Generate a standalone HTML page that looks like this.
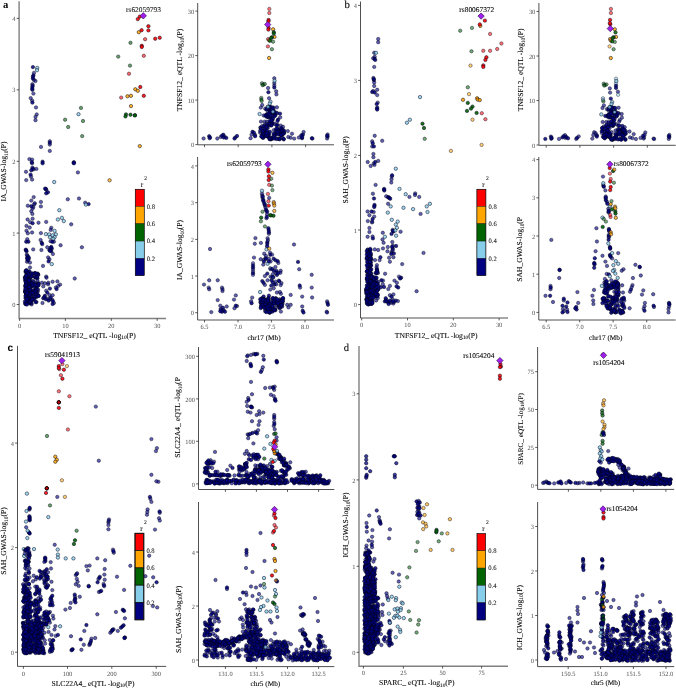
<!DOCTYPE html>
<html><head><meta charset="utf-8"><title>Colocalization plots</title>
<style>html,body{margin:0;padding:0;background:#fff}svg{display:block}text{font-family:"Liberation Serif",serif;text-rendering:geometricPrecision;stroke:#000;stroke-width:.09px;paint-order:stroke}.t{stroke-width:0}circle{r:1.7px;stroke:#000018;stroke-width:.5}.s{r:1.7px}</style>
</head><body>
<svg width="676" height="688" viewBox="0 0 676 688">
<rect width="676" height="688" fill="#fff"/>
<g fill="#000084" fill-opacity="0.62" stroke-opacity="0.87">
<circle cx="33.9" cy="72.9"/>
<circle cx="33.9" cy="80.0"/>
<circle cx="35.5" cy="81.0"/>
<circle cx="32.4" cy="84.2"/>
<circle cx="33.4" cy="93.6"/>
<circle cx="30.7" cy="98.1"/>
<circle cx="32.2" cy="100.6"/>
<circle cx="36.0" cy="107.4"/>
<circle cx="36.7" cy="114.4"/>
<circle cx="35.5" cy="116.9"/>
<circle cx="35.5" cy="120.2"/>
<circle cx="32.7" cy="85.5"/>
<circle cx="49.8" cy="141.3"/>
<circle cx="49.8" cy="144.6"/>
<circle cx="49.8" cy="150.9"/>
<circle cx="41.0" cy="146.9"/>
</g>
<g fill="#000084" fill-opacity="0.86" stroke-opacity="1.00">
<circle cx="32.9" cy="67.1"/>
<circle cx="33.4" cy="75.4"/>
<circle cx="32.9" cy="78.5"/>
<circle cx="32.4" cy="86.8"/>
<circle cx="32.4" cy="89.8"/>
<circle cx="32.4" cy="102.6"/>
<circle cx="32.9" cy="76.7"/>
<circle cx="32.2" cy="88.5"/>
<circle cx="49.8" cy="142.8"/>
</g>
<g fill="#006400" fill-opacity="0.6" stroke-opacity="0.85">
<circle cx="130.5" cy="42.8"/>
<circle cx="118.2" cy="56.6"/>
<circle cx="130.0" cy="65.6"/>
<circle cx="81.0" cy="107.9"/>
<circle cx="65.1" cy="119.7"/>
<circle cx="83.0" cy="121.0"/>
<circle cx="68.2" cy="127.0"/>
<circle cx="82.2" cy="136.1"/>
</g>
<g fill="#006400" fill-opacity="0.9" stroke-opacity="1.00" style="stroke-width:.65px">
<circle cx="126.0" cy="114.4"/>
<circle cx="125.5" cy="116.4"/>
<circle cx="130.5" cy="114.7"/>
<circle cx="135.0" cy="115.2"/>
<circle cx="134.8" cy="115.4"/>
</g>
<g fill="#87ceeb" fill-opacity="0.78" stroke-opacity="1.00">
<circle cx="37.2" cy="67.9"/>
<circle cx="37.0" cy="70.2"/>
<circle cx="78.5" cy="114.2"/>
</g>
<g fill="#ff0000" fill-opacity="0.6" stroke-opacity="0.85">
<circle cx="145.1" cy="39.2"/>
<circle cx="143.8" cy="55.8"/>
<circle cx="129.0" cy="73.7"/>
<circle cx="121.2" cy="97.6"/>
</g>
<g fill="#ffa500" fill-opacity="0.85" stroke-opacity="1.00" style="stroke-width:.65px">
<circle cx="138.8" cy="32.2"/>
<circle cx="135.3" cy="89.3"/>
<circle cx="137.8" cy="90.8"/>
<circle cx="127.5" cy="96.3"/>
<circle cx="131.0" cy="95.8"/>
<circle cx="131.0" cy="106.1"/>
<circle cx="139.8" cy="146.1"/>
</g>
<g fill="#ff0000" fill-opacity="0.9" stroke-opacity="1.00" style="stroke-width:.65px">
<circle cx="139.8" cy="16.6"/>
<circle cx="137.8" cy="19.1"/>
<circle cx="148.4" cy="26.2"/>
<circle cx="148.4" cy="30.4"/>
<circle cx="141.6" cy="30.2"/>
<circle cx="155.2" cy="38.7"/>
<circle cx="159.7" cy="37.7"/>
<circle cx="141.8" cy="45.8"/>
<circle cx="141.8" cy="47.0"/>
<circle cx="140.3" cy="87.0"/>
<circle cx="143.8" cy="95.8"/>
</g>
<g fill="#ffa500" fill-opacity="0.7" stroke-opacity="0.95">
<circle cx="109.6" cy="180.3"/>
</g>
<g fill="#000084" fill-opacity="0.62" stroke-opacity="0.87">
<circle cx="29.4" cy="159.1"/>
<circle cx="32.1" cy="159.6"/>
<circle cx="32.1" cy="163.3"/>
<circle cx="36.4" cy="168.9"/>
<circle cx="26.0" cy="171.8"/>
<circle cx="77.9" cy="172.4"/>
<circle cx="31.0" cy="176.6"/>
<circle cx="26.2" cy="180.1"/>
<circle cx="32.1" cy="179.6"/>
<circle cx="46.2" cy="189.7"/>
<circle cx="33.7" cy="197.1"/>
<circle cx="31.3" cy="200.6"/>
<circle cx="40.9" cy="201.9"/>
<circle cx="34.8" cy="203.3"/>
<circle cx="34.2" cy="204.3"/>
<circle cx="27.8" cy="205.7"/>
<circle cx="33.3" cy="207.0"/>
<circle cx="40.9" cy="206.4"/>
<circle cx="32.6" cy="208.6"/>
<circle cx="31.3" cy="211.2"/>
<circle cx="32.4" cy="213.9"/>
<circle cx="67.8" cy="199.3"/>
<circle cx="79.0" cy="198.5"/>
<circle cx="85.2" cy="202.7"/>
<circle cx="27.6" cy="219.5"/>
<circle cx="32.6" cy="218.7"/>
<circle cx="30.2" cy="222.2"/>
<circle cx="38.5" cy="222.7"/>
<circle cx="46.2" cy="221.9"/>
<circle cx="71.2" cy="224.3"/>
<circle cx="26.5" cy="225.9"/>
<circle cx="29.7" cy="227.5"/>
<circle cx="51.3" cy="227.8"/>
<circle cx="50.7" cy="229.9"/>
<circle cx="26.5" cy="230.7"/>
<circle cx="27.8" cy="233.3"/>
<circle cx="32.1" cy="232.5"/>
<circle cx="40.9" cy="233.1"/>
<circle cx="27.3" cy="239.2"/>
<circle cx="40.6" cy="240.0"/>
<circle cx="32.4" cy="167.6"/>
<circle cx="33.4" cy="169.4"/>
<circle cx="73.6" cy="162.8"/>
</g>
<g fill="#000084" fill-opacity="0.86" stroke-opacity="1.00">
<circle cx="31.8" cy="162.2"/>
<circle cx="42.6" cy="161.7"/>
<circle cx="42.6" cy="163.3"/>
<circle cx="73.9" cy="162.2"/>
<circle cx="73.9" cy="163.3"/>
<circle cx="32.9" cy="168.6"/>
<circle cx="31.3" cy="170.2"/>
<circle cx="30.6" cy="174.6"/>
<circle cx="45.9" cy="188.9"/>
<circle cx="47.9" cy="192.3"/>
<circle cx="46.2" cy="193.3"/>
<circle cx="31.3" cy="206.2"/>
<circle cx="88.6" cy="204.1"/>
<circle cx="32.6" cy="223.2"/>
<circle cx="45.1" cy="188.6"/>
</g>
<g fill="#87ceeb" fill-opacity="0.78" stroke-opacity="1.00">
<circle cx="54.2" cy="182.0"/>
<circle cx="59.3" cy="210.2"/>
<circle cx="61.9" cy="217.9"/>
<circle cx="57.9" cy="219.5"/>
<circle cx="63.8" cy="221.1"/>
<circle cx="85.9" cy="204.6"/>
<circle cx="54.6" cy="230.9"/>
<circle cx="45.9" cy="234.1"/>
<circle cx="49.1" cy="234.4"/>
<circle cx="55.9" cy="234.4"/>
<circle cx="52.6" cy="235.2"/>
<circle cx="49.9" cy="237.2"/>
<circle cx="54.6" cy="237.2"/>
<circle cx="53.3" cy="238.9"/>
</g>
<g fill="#000084" fill-opacity="0.62" stroke-opacity="0.87">
<circle cx="50.6" cy="241.2"/>
<circle cx="53.9" cy="241.7"/>
<circle cx="60.6" cy="245.2"/>
<circle cx="81.9" cy="247.3"/>
<circle cx="33.2" cy="249.4"/>
<circle cx="41.4" cy="250.0"/>
<circle cx="47.3" cy="247.3"/>
<circle cx="52.9" cy="254.0"/>
<circle cx="26.8" cy="254.6"/>
<circle cx="28.0" cy="256.6"/>
<circle cx="28.9" cy="258.5"/>
<circle cx="27.0" cy="261.7"/>
<circle cx="30.0" cy="262.6"/>
<circle cx="48.1" cy="257.4"/>
<circle cx="49.4" cy="259.3"/>
<circle cx="30.0" cy="267.5"/>
<circle cx="43.0" cy="265.9"/>
<circle cx="27.3" cy="255.6"/>
<circle cx="46.2" cy="276.6"/>
<circle cx="46.5" cy="277.7"/>
<circle cx="42.0" cy="282.7"/>
<circle cx="44.9" cy="283.3"/>
<circle cx="48.3" cy="282.7"/>
<circle cx="48.1" cy="284.3"/>
<circle cx="52.6" cy="281.7"/>
<circle cx="57.4" cy="281.4"/>
<circle cx="60.1" cy="284.6"/>
<circle cx="58.2" cy="285.9"/>
<circle cx="55.9" cy="287.5"/>
<circle cx="43.3" cy="286.4"/>
<circle cx="46.2" cy="290.7"/>
<circle cx="49.4" cy="295.0"/>
<circle cx="52.6" cy="295.2"/>
<circle cx="49.9" cy="299.2"/>
<circle cx="52.3" cy="299.8"/>
<circle cx="42.5" cy="303.0"/>
<circle cx="53.9" cy="303.0"/>
<circle cx="74.7" cy="278.5"/>
<circle cx="47.5" cy="298.7"/>
<circle cx="27.9" cy="289.3"/>
<circle cx="29.1" cy="297.4"/>
<circle cx="28.4" cy="272.0"/>
<circle cx="26.2" cy="278.3"/>
<circle cx="27.8" cy="299.1"/>
<circle cx="31.6" cy="304.4"/>
<circle cx="30.5" cy="283.3"/>
<circle cx="31.3" cy="299.3"/>
<circle cx="31.4" cy="283.7"/>
<circle cx="31.3" cy="296.2"/>
<circle cx="25.7" cy="278.5"/>
<circle cx="25.8" cy="292.2"/>
<circle cx="25.7" cy="284.5"/>
<circle cx="31.4" cy="297.8"/>
<circle cx="26.3" cy="283.6"/>
<circle cx="26.3" cy="278.9"/>
<circle cx="26.9" cy="272.5"/>
<circle cx="25.5" cy="290.1"/>
<circle cx="27.4" cy="285.6"/>
<circle cx="31.3" cy="286.7"/>
<circle cx="26.1" cy="275.3"/>
<circle cx="26.2" cy="302.8"/>
<circle cx="30.8" cy="290.8"/>
<circle cx="28.6" cy="299.4"/>
<circle cx="31.0" cy="277.0"/>
<circle cx="25.0" cy="279.3"/>
<circle cx="31.4" cy="292.7"/>
<circle cx="29.5" cy="290.2"/>
<circle cx="29.6" cy="303.3"/>
<circle cx="25.1" cy="292.0"/>
<circle cx="29.8" cy="301.1"/>
<circle cx="27.7" cy="297.3"/>
<circle cx="29.1" cy="283.2"/>
<circle cx="28.8" cy="291.0"/>
<circle cx="25.4" cy="292.1"/>
<circle cx="25.1" cy="290.8"/>
<circle cx="28.1" cy="277.9"/>
<circle cx="29.0" cy="301.8"/>
<circle cx="30.9" cy="292.8"/>
<circle cx="27.9" cy="300.8"/>
<circle cx="25.8" cy="287.1"/>
<circle cx="30.5" cy="299.3"/>
<circle cx="29.6" cy="302.8"/>
<circle cx="26.8" cy="275.8"/>
<circle cx="27.9" cy="279.5"/>
<circle cx="26.3" cy="284.3"/>
<circle cx="33.6" cy="291.6"/>
<circle cx="35.9" cy="283.3"/>
<circle cx="35.9" cy="288.3"/>
<circle cx="37.2" cy="295.6"/>
<circle cx="36.3" cy="277.4"/>
<circle cx="31.4" cy="283.9"/>
<circle cx="36.5" cy="276.9"/>
<circle cx="33.3" cy="280.9"/>
<circle cx="34.2" cy="291.6"/>
<circle cx="38.1" cy="289.9"/>
<circle cx="35.9" cy="294.4"/>
<circle cx="37.7" cy="291.7"/>
<circle cx="36.6" cy="292.2"/>
<circle cx="32.9" cy="294.2"/>
<circle cx="33.6" cy="294.4"/>
<circle cx="37.6" cy="281.0"/>
<circle cx="35.3" cy="291.0"/>
<circle cx="33.8" cy="291.5"/>
<circle cx="32.3" cy="276.2"/>
<circle cx="35.1" cy="289.9"/>
<circle cx="37.5" cy="289.1"/>
<circle cx="38.2" cy="284.4"/>
<circle cx="38.3" cy="274.7"/>
<circle cx="33.4" cy="290.1"/>
<circle cx="33.6" cy="281.7"/>
<circle cx="37.5" cy="294.2"/>
<circle cx="35.5" cy="277.4"/>
<circle cx="38.4" cy="285.0"/>
<circle cx="34.2" cy="291.8"/>
<circle cx="35.4" cy="284.4"/>
<circle cx="35.0" cy="297.0"/>
<circle cx="33.8" cy="298.5"/>
<circle cx="32.3" cy="300.3"/>
<circle cx="36.2" cy="297.3"/>
<circle cx="35.5" cy="296.7"/>
</g>
<g fill="#000084" fill-opacity="0.86" stroke-opacity="1.00">
<circle cx="26.2" cy="241.7"/>
<circle cx="28.4" cy="241.7"/>
<circle cx="41.7" cy="242.8"/>
<circle cx="42.2" cy="244.1"/>
<circle cx="52.3" cy="241.7"/>
<circle cx="25.7" cy="249.7"/>
<circle cx="26.5" cy="251.3"/>
<circle cx="51.3" cy="247.0"/>
<circle cx="51.8" cy="248.6"/>
<circle cx="49.4" cy="250.0"/>
<circle cx="51.3" cy="251.3"/>
<circle cx="27.0" cy="258.0"/>
<circle cx="28.0" cy="260.4"/>
<circle cx="48.6" cy="261.4"/>
<circle cx="26.2" cy="250.2"/>
<circle cx="28.6" cy="257.4"/>
<circle cx="27.6" cy="259.3"/>
<circle cx="50.7" cy="247.8"/>
<circle cx="49.9" cy="250.8"/>
<circle cx="56.6" cy="289.1"/>
<circle cx="49.9" cy="288.6"/>
<circle cx="47.3" cy="292.6"/>
<circle cx="44.9" cy="295.8"/>
<circle cx="43.3" cy="298.2"/>
<circle cx="45.9" cy="299.2"/>
<circle cx="52.9" cy="301.1"/>
<circle cx="52.6" cy="304.0"/>
<circle cx="48.6" cy="300.6"/>
<circle cx="38.6" cy="295.8"/>
<circle cx="44.3" cy="297.1"/>
<circle cx="50.7" cy="297.6"/>
<circle cx="31.1" cy="286.1"/>
<circle cx="28.3" cy="290.3"/>
<circle cx="26.1" cy="287.7"/>
<circle cx="25.5" cy="280.4"/>
<circle cx="25.5" cy="298.0"/>
<circle cx="29.5" cy="271.4"/>
<circle cx="31.4" cy="303.3"/>
<circle cx="29.3" cy="291.2"/>
<circle cx="26.0" cy="270.5"/>
<circle cx="25.1" cy="286.0"/>
<circle cx="28.4" cy="292.1"/>
<circle cx="28.2" cy="292.9"/>
<circle cx="28.0" cy="279.6"/>
<circle cx="30.5" cy="294.4"/>
<circle cx="27.0" cy="277.9"/>
<circle cx="26.8" cy="272.4"/>
<circle cx="30.0" cy="283.8"/>
<circle cx="24.9" cy="277.2"/>
<circle cx="31.0" cy="286.2"/>
<circle cx="25.4" cy="291.7"/>
<circle cx="30.1" cy="279.3"/>
<circle cx="25.5" cy="281.5"/>
<circle cx="25.6" cy="272.0"/>
<circle cx="30.2" cy="276.1"/>
<circle cx="28.6" cy="285.4"/>
<circle cx="26.2" cy="295.3"/>
<circle cx="26.3" cy="279.3"/>
<circle cx="26.9" cy="300.6"/>
<circle cx="30.6" cy="292.2"/>
<circle cx="25.6" cy="304.2"/>
<circle cx="30.1" cy="281.3"/>
<circle cx="26.5" cy="290.8"/>
<circle cx="28.7" cy="299.9"/>
<circle cx="31.0" cy="298.2"/>
<circle cx="26.6" cy="276.5"/>
<circle cx="29.8" cy="302.5"/>
<circle cx="27.7" cy="273.5"/>
<circle cx="25.2" cy="303.3"/>
<circle cx="26.5" cy="294.3"/>
<circle cx="26.6" cy="298.5"/>
<circle cx="28.9" cy="280.1"/>
<circle cx="26.1" cy="294.9"/>
<circle cx="25.4" cy="277.8"/>
<circle cx="29.0" cy="279.6"/>
<circle cx="27.9" cy="272.0"/>
<circle cx="26.1" cy="282.7"/>
<circle cx="28.7" cy="274.5"/>
<circle cx="27.3" cy="300.8"/>
<circle cx="25.8" cy="271.2"/>
<circle cx="25.0" cy="301.4"/>
<circle cx="28.1" cy="295.2"/>
<circle cx="27.0" cy="304.5"/>
<circle cx="25.4" cy="288.8"/>
<circle cx="29.8" cy="294.3"/>
<circle cx="30.2" cy="301.6"/>
<circle cx="27.3" cy="293.7"/>
<circle cx="30.9" cy="300.1"/>
<circle cx="30.7" cy="289.8"/>
<circle cx="31.5" cy="300.4"/>
<circle cx="29.8" cy="283.4"/>
<circle cx="29.8" cy="290.1"/>
<circle cx="27.8" cy="299.0"/>
<circle cx="25.5" cy="295.9"/>
<circle cx="29.6" cy="287.2"/>
<circle cx="26.6" cy="270.3"/>
<circle cx="26.9" cy="293.4"/>
<circle cx="26.3" cy="275.8"/>
<circle cx="27.1" cy="293.0"/>
<circle cx="26.2" cy="284.9"/>
<circle cx="30.3" cy="301.6"/>
<circle cx="30.8" cy="283.2"/>
<circle cx="28.8" cy="280.9"/>
<circle cx="29.1" cy="287.0"/>
<circle cx="27.0" cy="299.0"/>
<circle cx="38.5" cy="283.4"/>
<circle cx="31.8" cy="273.4"/>
<circle cx="37.7" cy="273.6"/>
<circle cx="36.5" cy="286.3"/>
<circle cx="31.4" cy="275.9"/>
<circle cx="34.6" cy="273.2"/>
<circle cx="37.4" cy="278.3"/>
<circle cx="32.3" cy="273.7"/>
<circle cx="34.8" cy="276.9"/>
<circle cx="36.4" cy="285.1"/>
<circle cx="35.8" cy="290.7"/>
<circle cx="37.9" cy="274.7"/>
<circle cx="32.3" cy="283.5"/>
<circle cx="34.1" cy="286.2"/>
<circle cx="38.2" cy="283.7"/>
<circle cx="36.1" cy="277.5"/>
<circle cx="36.0" cy="289.8"/>
<circle cx="38.5" cy="296.0"/>
<circle cx="35.2" cy="291.6"/>
<circle cx="31.9" cy="283.2"/>
<circle cx="34.9" cy="273.3"/>
<circle cx="37.2" cy="274.1"/>
<circle cx="37.2" cy="276.7"/>
<circle cx="32.9" cy="285.2"/>
<circle cx="36.0" cy="285.1"/>
<circle cx="37.5" cy="286.0"/>
<circle cx="32.8" cy="293.0"/>
<circle cx="38.4" cy="285.2"/>
<circle cx="35.2" cy="284.7"/>
<circle cx="35.7" cy="273.3"/>
<circle cx="34.2" cy="299.0"/>
<circle cx="36.4" cy="302.1"/>
<circle cx="32.7" cy="299.4"/>
<circle cx="32.0" cy="299.2"/>
<circle cx="35.6" cy="302.0"/>
</g>
<g fill="#87ceeb" fill-opacity="0.78" stroke-opacity="1.00">
<circle cx="51.8" cy="264.1"/>
</g>
<path d="M143.3 12.6L146.5 15.8L143.3 19.0L140.1 15.8Z" fill="#a020f0" stroke="#1a0030" stroke-width="0.55"/>
<path d="M19.1 1.2V318.5H166.0" fill="none" stroke="#808080" stroke-width="1.4"/>
<path d="M19.6 318.5v2.4" stroke="#333" stroke-width="0.8"/>
<text x="19.6" y="327.7" text-anchor="middle" class="t" font-size="6.4" fill="#4d4d4d">0</text>
<path d="M65.4 318.5v2.4" stroke="#333" stroke-width="0.8"/>
<text x="65.4" y="327.7" text-anchor="middle" class="t" font-size="6.4" fill="#4d4d4d">10</text>
<path d="M111.3 318.5v2.4" stroke="#333" stroke-width="0.8"/>
<text x="111.3" y="327.7" text-anchor="middle" class="t" font-size="6.4" fill="#4d4d4d">20</text>
<path d="M157.2 318.5v2.4" stroke="#333" stroke-width="0.8"/>
<text x="157.2" y="327.7" text-anchor="middle" class="t" font-size="6.4" fill="#4d4d4d">30</text>
<path d="M19.1 304.5h-2.4" stroke="#333" stroke-width="0.8"/>
<text x="15.5" y="307.1" text-anchor="end" class="t" font-size="6.4" fill="#4d4d4d">0</text>
<path d="M19.1 233.1h-2.4" stroke="#333" stroke-width="0.8"/>
<text x="15.5" y="235.7" text-anchor="end" class="t" font-size="6.4" fill="#4d4d4d">1</text>
<path d="M19.1 161.3h-2.4" stroke="#333" stroke-width="0.8"/>
<text x="15.5" y="163.9" text-anchor="end" class="t" font-size="6.4" fill="#4d4d4d">2</text>
<path d="M19.1 89.8h-2.4" stroke="#333" stroke-width="0.8"/>
<text x="15.5" y="92.4" text-anchor="end" class="t" font-size="6.4" fill="#4d4d4d">3</text>
<path d="M19.1 18.4h-2.4" stroke="#333" stroke-width="0.8"/>
<text x="15.5" y="21.0" text-anchor="end" class="t" font-size="6.4" fill="#4d4d4d">4</text>
<text x="94.5" y="337.6" text-anchor="middle" font-size="7.6" fill="#000">TNFSF12_ eQTL -log<tspan font-size="5.32" dy="1.7">10</tspan><tspan dy="-1.7">(P)</tspan></text>
<text x="6.2" y="171.5" text-anchor="middle" font-size="7.6" fill="#000" transform="rotate(-90 6.2 171.5)">IA_GWAS-log<tspan font-size="5.32" dy="1.7">10</tspan><tspan dy="-1.7">(P)</tspan></text>
<g style="stroke-width:0">
<rect x="135.2" y="189.2" width="9" height="17.30" fill="#ff0000" stroke="#111" style="stroke-width:0.40px"/>
<rect x="135.2" y="206.5" width="9" height="17.30" fill="#ffa500" stroke="#111" style="stroke-width:0.40px"/>
<rect x="135.2" y="223.8" width="9" height="17.30" fill="#006400" stroke="#111" style="stroke-width:0.40px"/>
<rect x="135.2" y="241.1" width="9" height="17.30" fill="#87ceeb" stroke="#111" style="stroke-width:0.40px"/>
<rect x="135.2" y="258.4" width="9" height="17.30" fill="#000080" stroke="#111" style="stroke-width:0.40px"/>
<rect x="135.2" y="189.2" width="9" height="86.5" fill="none" stroke="#111" style="stroke-width:0.5px"/>
<text x="146.8" y="208.8" font-size="6.6" fill="#222">0.8</text>
<text x="146.8" y="226.1" font-size="6.6" fill="#222">0.6</text>
<text x="146.8" y="243.4" font-size="6.6" fill="#222">0.4</text>
<text x="146.8" y="260.7" font-size="6.6" fill="#222">0.2</text>
<text x="141.9" y="186.8" text-anchor="middle" font-size="7.4" fill="#222">r</text>
<text x="145.7" y="179.7" text-anchor="middle" font-size="5.6" fill="#333">2</text>
</g>
<text x="143.5" y="12.3" text-anchor="middle" font-size="7.4" fill="#1a1a1a">rs62059793</text>
<text x="3.0" y="7.5" font-size="10.6" font-weight="bold" fill="#000" style="stroke-width:0">a</text>
<g fill="#000084" fill-opacity="0.62" stroke-opacity="0.87">
<circle cx="274.3" cy="78.3"/>
<circle cx="274.3" cy="83.0"/>
<circle cx="274.3" cy="85.4"/>
<circle cx="276.2" cy="91.3"/>
<circle cx="276.4" cy="94.4"/>
<circle cx="268.1" cy="88.0"/>
<circle cx="269.1" cy="98.2"/>
<circle cx="262.2" cy="105.0"/>
<circle cx="261.0" cy="121.6"/>
<circle cx="280.7" cy="125.6"/>
<circle cx="280.2" cy="117.3"/>
<circle cx="251.6" cy="134.6"/>
<circle cx="255.1" cy="134.9"/>
<circle cx="250.6" cy="138.2"/>
<circle cx="287.8" cy="131.1"/>
<circle cx="292.0" cy="133.7"/>
<circle cx="288.3" cy="137.0"/>
<circle cx="290.6" cy="137.7"/>
<circle cx="294.2" cy="138.6"/>
<circle cx="303.6" cy="132.0"/>
<circle cx="298.9" cy="137.5"/>
<circle cx="312.4" cy="138.6"/>
<circle cx="266.9" cy="121.7"/>
<circle cx="263.6" cy="115.5"/>
<circle cx="274.7" cy="123.7"/>
<circle cx="271.0" cy="117.6"/>
<circle cx="270.7" cy="124.0"/>
<circle cx="270.7" cy="121.8"/>
<circle cx="268.7" cy="109.3"/>
<circle cx="271.0" cy="125.3"/>
<circle cx="272.5" cy="113.5"/>
<circle cx="271.2" cy="112.4"/>
<circle cx="275.1" cy="113.1"/>
<circle cx="272.0" cy="112.7"/>
<circle cx="270.2" cy="125.1"/>
<circle cx="269.5" cy="107.1"/>
<circle cx="264.6" cy="121.6"/>
<circle cx="267.8" cy="106.9"/>
<circle cx="277.1" cy="113.2"/>
<circle cx="267.4" cy="113.4"/>
<circle cx="265.2" cy="108.7"/>
<circle cx="272.3" cy="107.4"/>
<circle cx="264.7" cy="124.6"/>
<circle cx="266.8" cy="117.0"/>
<circle cx="276.4" cy="112.6"/>
<circle cx="260.8" cy="107.6"/>
<circle cx="274.3" cy="114.4"/>
<circle cx="276.9" cy="107.3"/>
<circle cx="272.9" cy="116.0"/>
<circle cx="269.1" cy="124.7"/>
<circle cx="266.5" cy="114.9"/>
<circle cx="274.0" cy="112.3"/>
<circle cx="269.4" cy="113.1"/>
<circle cx="263.9" cy="135.9"/>
<circle cx="263.9" cy="134.8"/>
<circle cx="268.1" cy="134.6"/>
<circle cx="260.2" cy="132.7"/>
<circle cx="264.9" cy="136.3"/>
<circle cx="267.8" cy="136.4"/>
<circle cx="265.5" cy="132.5"/>
<circle cx="261.8" cy="136.5"/>
<circle cx="267.3" cy="135.0"/>
<circle cx="266.7" cy="135.0"/>
<circle cx="260.4" cy="127.7"/>
<circle cx="264.7" cy="134.1"/>
<circle cx="262.4" cy="134.6"/>
<circle cx="260.7" cy="127.4"/>
<circle cx="263.4" cy="128.0"/>
<circle cx="262.1" cy="126.1"/>
<circle cx="264.9" cy="130.6"/>
<circle cx="260.1" cy="130.9"/>
<circle cx="265.8" cy="130.0"/>
<circle cx="282.2" cy="132.3"/>
<circle cx="282.1" cy="135.2"/>
<circle cx="279.8" cy="134.1"/>
<circle cx="283.0" cy="126.8"/>
<circle cx="274.6" cy="134.2"/>
<circle cx="280.0" cy="128.6"/>
<circle cx="280.2" cy="138.4"/>
<circle cx="279.8" cy="130.2"/>
<circle cx="283.9" cy="133.3"/>
<circle cx="277.9" cy="131.0"/>
<circle cx="283.9" cy="133.2"/>
<circle cx="281.8" cy="137.6"/>
<circle cx="280.3" cy="134.7"/>
<circle cx="276.6" cy="133.7"/>
<circle cx="281.4" cy="134.5"/>
<circle cx="273.8" cy="130.1"/>
<circle cx="278.3" cy="138.7"/>
<circle cx="273.6" cy="136.9"/>
<circle cx="278.6" cy="138.7"/>
<circle cx="282.5" cy="129.4"/>
<circle cx="271.1" cy="139.2"/>
<circle cx="269.7" cy="139.2"/>
<circle cx="273.4" cy="137.8"/>
<circle cx="271.0" cy="139.0"/>
<circle cx="272.2" cy="138.2"/>
<circle cx="270.7" cy="139.2"/>
</g>
<g fill="#000084" fill-opacity="0.86" stroke-opacity="1.00">
<circle cx="274.3" cy="87.5"/>
<circle cx="268.4" cy="92.2"/>
<circle cx="280.0" cy="113.6"/>
<circle cx="252.5" cy="131.8"/>
<circle cx="253.9" cy="132.7"/>
<circle cx="302.9" cy="134.6"/>
<circle cx="302.0" cy="138.2"/>
<circle cx="311.9" cy="138.2"/>
<circle cx="267.0" cy="124.5"/>
<circle cx="270.1" cy="107.2"/>
<circle cx="269.0" cy="108.8"/>
<circle cx="268.2" cy="117.0"/>
<circle cx="272.6" cy="112.0"/>
<circle cx="269.3" cy="106.7"/>
<circle cx="269.4" cy="123.2"/>
<circle cx="272.6" cy="123.2"/>
<circle cx="268.6" cy="116.9"/>
<circle cx="278.1" cy="119.5"/>
<circle cx="272.6" cy="119.8"/>
<circle cx="277.5" cy="125.0"/>
<circle cx="268.9" cy="109.8"/>
<circle cx="271.4" cy="118.1"/>
<circle cx="270.6" cy="112.6"/>
<circle cx="267.3" cy="115.8"/>
<circle cx="270.5" cy="107.0"/>
<circle cx="273.5" cy="107.6"/>
<circle cx="273.7" cy="110.4"/>
<circle cx="277.5" cy="121.0"/>
<circle cx="269.7" cy="120.9"/>
<circle cx="272.9" cy="118.3"/>
<circle cx="272.0" cy="124.1"/>
<circle cx="269.7" cy="108.2"/>
<circle cx="272.3" cy="109.5"/>
<circle cx="266.6" cy="109.7"/>
<circle cx="270.2" cy="111.2"/>
<circle cx="265.7" cy="115.3"/>
<circle cx="267.3" cy="114.7"/>
<circle cx="271.4" cy="120.5"/>
<circle cx="266.8" cy="108.7"/>
<circle cx="275.3" cy="115.3"/>
<circle cx="276.5" cy="125.2"/>
<circle cx="270.5" cy="115.3"/>
<circle cx="265.5" cy="115.8"/>
<circle cx="270.9" cy="112.2"/>
<circle cx="269.1" cy="113.8"/>
<circle cx="271.5" cy="125.4"/>
<circle cx="274.7" cy="116.1"/>
<circle cx="261.0" cy="129.2"/>
<circle cx="268.2" cy="136.9"/>
<circle cx="268.2" cy="134.7"/>
<circle cx="267.0" cy="135.5"/>
<circle cx="263.0" cy="131.9"/>
<circle cx="263.1" cy="137.9"/>
<circle cx="266.9" cy="133.2"/>
<circle cx="262.7" cy="134.4"/>
<circle cx="266.8" cy="136.0"/>
<circle cx="263.7" cy="134.0"/>
<circle cx="263.7" cy="136.6"/>
<circle cx="269.1" cy="134.6"/>
<circle cx="270.3" cy="138.1"/>
<circle cx="269.9" cy="131.8"/>
<circle cx="267.7" cy="127.9"/>
<circle cx="268.2" cy="133.2"/>
<circle cx="267.0" cy="131.1"/>
<circle cx="266.6" cy="135.7"/>
<circle cx="266.7" cy="126.2"/>
<circle cx="265.0" cy="128.6"/>
<circle cx="266.5" cy="133.3"/>
<circle cx="262.6" cy="137.4"/>
<circle cx="263.0" cy="131.0"/>
<circle cx="261.3" cy="136.4"/>
<circle cx="264.0" cy="126.1"/>
<circle cx="266.5" cy="126.9"/>
<circle cx="279.6" cy="139.3"/>
<circle cx="277.4" cy="128.7"/>
<circle cx="283.7" cy="139.4"/>
<circle cx="279.9" cy="131.4"/>
<circle cx="277.5" cy="132.4"/>
<circle cx="275.9" cy="130.6"/>
<circle cx="283.8" cy="131.7"/>
<circle cx="283.7" cy="138.7"/>
<circle cx="276.5" cy="133.0"/>
<circle cx="274.8" cy="134.9"/>
<circle cx="278.2" cy="130.6"/>
<circle cx="273.6" cy="133.7"/>
<circle cx="276.4" cy="139.0"/>
<circle cx="281.8" cy="130.0"/>
<circle cx="276.3" cy="128.8"/>
<circle cx="284.0" cy="130.6"/>
<circle cx="279.9" cy="133.0"/>
<circle cx="281.4" cy="128.3"/>
<circle cx="281.6" cy="130.7"/>
<circle cx="279.1" cy="131.2"/>
<circle cx="278.4" cy="131.5"/>
<circle cx="282.9" cy="133.9"/>
<circle cx="278.0" cy="134.3"/>
<circle cx="281.0" cy="135.0"/>
<circle cx="277.6" cy="131.9"/>
<circle cx="274.7" cy="136.8"/>
<circle cx="272.3" cy="137.4"/>
<circle cx="270.2" cy="138.4"/>
<circle cx="274.1" cy="136.5"/>
<circle cx="274.0" cy="138.6"/>
<circle cx="269.5" cy="138.8"/>
</g>
<g fill="#006400" fill-opacity="0.55" stroke-opacity="0.80">
<circle cx="262.0" cy="83.3"/>
<circle cx="263.4" cy="84.7"/>
<circle cx="264.8" cy="84.0"/>
<circle cx="262.5" cy="85.1"/>
<circle cx="261.3" cy="97.9"/>
<circle cx="261.3" cy="99.6"/>
<circle cx="261.7" cy="101.0"/>
</g>
<g fill="#87ceeb" fill-opacity="0.78" stroke-opacity="1.00">
<circle cx="274.6" cy="80.7"/>
<circle cx="270.5" cy="101.7"/>
<circle cx="269.8" cy="103.6"/>
<circle cx="267.9" cy="106.7"/>
<circle cx="259.6" cy="114.0"/>
<circle cx="272.9" cy="111.7"/>
</g>
<g fill="#000084" fill-opacity="0.62" stroke-opacity="0.87">
<circle cx="203.6" cy="138.5"/>
<circle cx="209.6" cy="138.3"/>
<circle cx="217.3" cy="138.5"/>
<circle cx="220.7" cy="137.0"/>
<circle cx="224.6" cy="136.6"/>
<circle cx="235.3" cy="137.5"/>
<circle cx="327.6" cy="134.5"/>
<circle cx="327.1" cy="138.5"/>
</g>
<g fill="#000084" fill-opacity="0.86" stroke-opacity="1.00">
<circle cx="209.2" cy="136.2"/>
<circle cx="223.3" cy="134.7"/>
<circle cx="226.3" cy="137.9"/>
<circle cx="234.5" cy="138.5"/>
<circle cx="237.0" cy="136.0"/>
<circle cx="255.1" cy="136.2"/>
<circle cx="301.4" cy="135.3"/>
<circle cx="302.2" cy="137.0"/>
<circle cx="327.6" cy="136.6"/>
<circle cx="210.0" cy="137.5"/>
<circle cx="222.0" cy="135.7"/>
<circle cx="223.7" cy="137.5"/>
<circle cx="327.1" cy="135.7"/>
</g>
<g fill="#ff0000" fill-opacity="0.55" stroke-opacity="0.80">
<circle cx="269.3" cy="8.9"/>
<circle cx="269.3" cy="13.0"/>
<circle cx="268.1" cy="39.1"/>
<circle cx="267.9" cy="46.4"/>
</g>
<g fill="#006400" fill-opacity="0.55" stroke-opacity="0.80">
<circle cx="273.1" cy="41.7"/>
<circle cx="271.9" cy="49.2"/>
</g>
<g fill="#ff0000" fill-opacity="0.9" stroke-opacity="1.00" style="stroke-width:.65px">
<circle cx="268.6" cy="19.9"/>
<circle cx="268.4" cy="21.3"/>
<circle cx="268.6" cy="27.8"/>
<circle cx="268.4" cy="29.6"/>
</g>
<g fill="#ffa500" fill-opacity="0.8" stroke-opacity="1.00" style="stroke-width:.65px">
<circle cx="273.1" cy="29.3"/>
<circle cx="274.5" cy="36.9"/>
<circle cx="269.1" cy="40.2"/>
<circle cx="269.1" cy="58.0"/>
</g>
<g fill="#006400" fill-opacity="0.85" stroke-opacity="1.00" style="stroke-width:.65px">
<circle cx="273.8" cy="32.2"/>
<circle cx="273.8" cy="33.6"/>
<circle cx="271.9" cy="37.2"/>
<circle cx="271.1" cy="38.1"/>
<circle cx="269.9" cy="40.8"/>
</g>
<path d="M267.7 21.4L270.9 24.6L267.7 27.8L264.5 24.6Z" fill="#a020f0" stroke="#1a0030" stroke-width="0.55"/>
<path d="M197.7 3.0V144.8H334.0" fill="none" stroke="#3c3c3c" stroke-width="0.9"/>
<path d="M204.5 144.8v2.4" stroke="#333" stroke-width="0.8"/>
<text x="204.5" y="154.0" text-anchor="middle" class="t" font-size="6.4" fill="#4d4d4d"></text>
<path d="M238.2 144.8v2.4" stroke="#333" stroke-width="0.8"/>
<text x="238.2" y="154.0" text-anchor="middle" class="t" font-size="6.4" fill="#4d4d4d"></text>
<path d="M271.9 144.8v2.4" stroke="#333" stroke-width="0.8"/>
<text x="271.9" y="154.0" text-anchor="middle" class="t" font-size="6.4" fill="#4d4d4d"></text>
<path d="M305.6 144.8v2.4" stroke="#333" stroke-width="0.8"/>
<text x="305.6" y="154.0" text-anchor="middle" class="t" font-size="6.4" fill="#4d4d4d"></text>
<path d="M197.7 144.6h-2.4" stroke="#333" stroke-width="0.8"/>
<text x="194.1" y="147.2" text-anchor="end" class="t" font-size="6.4" fill="#4d4d4d">0</text>
<path d="M197.7 100.1h-2.4" stroke="#333" stroke-width="0.8"/>
<text x="194.1" y="102.7" text-anchor="end" class="t" font-size="6.4" fill="#4d4d4d">10</text>
<path d="M197.7 55.6h-2.4" stroke="#333" stroke-width="0.8"/>
<text x="194.1" y="58.2" text-anchor="end" class="t" font-size="6.4" fill="#4d4d4d">20</text>
<path d="M197.7 11.1h-2.4" stroke="#333" stroke-width="0.8"/>
<text x="194.1" y="13.7" text-anchor="end" class="t" font-size="6.4" fill="#4d4d4d">30</text>
<text x="182.0" y="70.0" text-anchor="middle" font-size="7.6" fill="#000" transform="rotate(-90 182.0 70.0)">TNFSF12_ eQTL -log<tspan font-size="5.32" dy="1.7">10</tspan><tspan dy="-1.7">(P)</tspan></text>
<g fill="#000084" fill-opacity="0.62" stroke-opacity="0.87">
<circle cx="269.2" cy="197.9"/>
<circle cx="262.0" cy="193.6"/>
<circle cx="262.3" cy="195.6"/>
<circle cx="262.5" cy="197.6"/>
<circle cx="263.1" cy="199.6"/>
<circle cx="263.6" cy="201.6"/>
<circle cx="264.9" cy="205.6"/>
<circle cx="265.5" cy="207.6"/>
<circle cx="267.1" cy="214.2"/>
<circle cx="266.5" cy="218.2"/>
<circle cx="262.8" cy="196.5"/>
<circle cx="264.7" cy="204.5"/>
<circle cx="266.3" cy="210.7"/>
<circle cx="268.9" cy="233.8"/>
<circle cx="267.6" cy="238.2"/>
<circle cx="267.9" cy="240.2"/>
<circle cx="255.4" cy="238.1"/>
<circle cx="254.8" cy="243.7"/>
<circle cx="260.9" cy="242.9"/>
<circle cx="294.0" cy="244.5"/>
</g>
<g fill="#000084" fill-opacity="0.86" stroke-opacity="1.00">
<circle cx="264.4" cy="203.6"/>
<circle cx="266.0" cy="209.6"/>
<circle cx="267.1" cy="211.6"/>
<circle cx="266.8" cy="216.9"/>
<circle cx="263.3" cy="200.5"/>
<circle cx="268.4" cy="228.2"/>
<circle cx="268.7" cy="230.2"/>
<circle cx="268.9" cy="232.2"/>
<circle cx="267.3" cy="242.2"/>
<circle cx="267.3" cy="243.9"/>
</g>
<g fill="#87ceeb" fill-opacity="0.78" stroke-opacity="1.00">
<circle cx="262.0" cy="190.7"/>
</g>
<g fill="#ff0000" fill-opacity="0.55" stroke-opacity="0.80">
<circle cx="269.2" cy="184.8"/>
<circle cx="267.9" cy="193.9"/>
<circle cx="268.4" cy="201.3"/>
</g>
<g fill="#006400" fill-opacity="0.55" stroke-opacity="0.80">
<circle cx="271.3" cy="178.7"/>
<circle cx="271.9" cy="185.6"/>
<circle cx="272.4" cy="190.1"/>
<circle cx="262.5" cy="211.7"/>
<circle cx="260.9" cy="221.3"/>
<circle cx="264.9" cy="226.4"/>
</g>
<g fill="#006400" fill-opacity="0.9" stroke-opacity="1.00" style="stroke-width:.65px">
<circle cx="261.2" cy="217.6"/>
<circle cx="271.1" cy="215.4"/>
<circle cx="273.5" cy="215.7"/>
<circle cx="270.3" cy="215.2"/>
</g>
<g fill="#ffa500" fill-opacity="0.7" stroke-opacity="0.95">
<circle cx="272.4" cy="172.8"/>
<circle cx="273.7" cy="202.1"/>
<circle cx="274.0" cy="203.5"/>
<circle cx="274.3" cy="205.6"/>
<circle cx="274.3" cy="210.9"/>
</g>
<g fill="#ff0000" fill-opacity="0.9" stroke-opacity="1.00" style="stroke-width:.65px">
<circle cx="268.4" cy="169.4"/>
<circle cx="268.4" cy="171.5"/>
<circle cx="268.9" cy="176.3"/>
<circle cx="268.7" cy="180.0"/>
<circle cx="268.7" cy="205.6"/>
</g>
<g fill="#000084" fill-opacity="0.62" stroke-opacity="0.87">
<circle cx="270.0" cy="252.6"/>
<circle cx="254.0" cy="257.6"/>
<circle cx="260.7" cy="259.2"/>
<circle cx="263.9" cy="259.8"/>
<circle cx="268.9" cy="258.7"/>
<circle cx="278.3" cy="263.0"/>
<circle cx="263.3" cy="264.6"/>
<circle cx="280.7" cy="270.7"/>
<circle cx="280.4" cy="272.8"/>
<circle cx="264.9" cy="276.0"/>
<circle cx="264.9" cy="284.9"/>
<circle cx="267.6" cy="280.3"/>
<circle cx="275.6" cy="281.6"/>
<circle cx="280.7" cy="285.1"/>
<circle cx="273.7" cy="288.3"/>
<circle cx="270.3" cy="289.6"/>
<circle cx="276.9" cy="292.5"/>
<circle cx="279.9" cy="292.0"/>
<circle cx="280.9" cy="293.8"/>
<circle cx="252.2" cy="297.6"/>
<circle cx="251.1" cy="301.3"/>
<circle cx="279.6" cy="306.9"/>
<circle cx="280.9" cy="311.6"/>
<circle cx="261.6" cy="303.5"/>
<circle cx="261.2" cy="302.5"/>
<circle cx="263.2" cy="300.4"/>
<circle cx="274.9" cy="310.0"/>
<circle cx="267.5" cy="309.7"/>
<circle cx="276.1" cy="302.9"/>
<circle cx="267.6" cy="306.3"/>
<circle cx="283.1" cy="298.6"/>
<circle cx="263.8" cy="303.8"/>
<circle cx="276.5" cy="304.8"/>
<circle cx="275.4" cy="310.3"/>
<circle cx="260.8" cy="302.7"/>
<circle cx="261.7" cy="306.5"/>
<circle cx="262.2" cy="302.9"/>
<circle cx="279.4" cy="306.7"/>
<circle cx="266.8" cy="303.6"/>
<circle cx="282.6" cy="298.9"/>
<circle cx="264.4" cy="300.6"/>
<circle cx="265.7" cy="304.3"/>
<circle cx="260.4" cy="302.1"/>
<circle cx="276.0" cy="298.2"/>
<circle cx="281.2" cy="305.0"/>
<circle cx="268.8" cy="299.5"/>
<circle cx="271.1" cy="304.9"/>
<circle cx="262.3" cy="298.8"/>
<circle cx="268.3" cy="301.6"/>
<circle cx="279.6" cy="299.3"/>
<circle cx="260.8" cy="308.2"/>
<circle cx="272.6" cy="299.7"/>
<circle cx="280.4" cy="304.6"/>
<circle cx="264.2" cy="307.6"/>
<circle cx="279.2" cy="308.1"/>
<circle cx="279.3" cy="305.4"/>
<circle cx="268.6" cy="298.0"/>
<circle cx="260.9" cy="300.7"/>
<circle cx="265.4" cy="300.7"/>
<circle cx="275.5" cy="307.8"/>
<circle cx="262.3" cy="305.5"/>
<circle cx="282.9" cy="301.0"/>
<circle cx="266.3" cy="311.4"/>
<circle cx="274.1" cy="309.9"/>
<circle cx="268.2" cy="309.0"/>
<circle cx="266.2" cy="304.4"/>
<circle cx="267.4" cy="307.9"/>
<circle cx="268.2" cy="308.2"/>
<circle cx="265.0" cy="311.1"/>
<circle cx="271.7" cy="309.0"/>
<circle cx="270.1" cy="311.0"/>
<circle cx="265.9" cy="309.1"/>
</g>
<g fill="#000084" fill-opacity="0.86" stroke-opacity="1.00">
<circle cx="267.1" cy="246.3"/>
<circle cx="270.3" cy="254.7"/>
<circle cx="273.7" cy="258.7"/>
<circle cx="275.6" cy="260.3"/>
<circle cx="277.7" cy="261.1"/>
<circle cx="276.4" cy="270.9"/>
<circle cx="276.9" cy="274.9"/>
<circle cx="267.3" cy="273.6"/>
<circle cx="262.3" cy="281.1"/>
<circle cx="263.6" cy="282.9"/>
<circle cx="271.6" cy="280.3"/>
<circle cx="274.5" cy="284.5"/>
<circle cx="271.3" cy="285.6"/>
<circle cx="268.9" cy="295.7"/>
<circle cx="263.6" cy="296.5"/>
<circle cx="251.6" cy="303.2"/>
<circle cx="267.8" cy="299.8"/>
<circle cx="275.4" cy="298.5"/>
<circle cx="272.8" cy="302.8"/>
<circle cx="261.9" cy="298.6"/>
<circle cx="270.2" cy="310.5"/>
<circle cx="273.7" cy="303.0"/>
<circle cx="283.0" cy="298.0"/>
<circle cx="280.3" cy="300.5"/>
<circle cx="263.6" cy="299.1"/>
<circle cx="264.5" cy="305.2"/>
<circle cx="275.2" cy="302.4"/>
<circle cx="273.0" cy="298.5"/>
<circle cx="261.7" cy="300.0"/>
<circle cx="270.8" cy="302.2"/>
<circle cx="278.8" cy="305.2"/>
<circle cx="266.0" cy="305.6"/>
<circle cx="272.5" cy="310.2"/>
<circle cx="277.3" cy="301.0"/>
<circle cx="270.0" cy="309.5"/>
<circle cx="261.2" cy="305.2"/>
<circle cx="278.1" cy="304.1"/>
<circle cx="280.7" cy="300.7"/>
<circle cx="273.8" cy="303.8"/>
<circle cx="279.9" cy="307.3"/>
<circle cx="271.3" cy="307.6"/>
<circle cx="261.7" cy="305.7"/>
<circle cx="279.4" cy="300.6"/>
<circle cx="269.3" cy="308.1"/>
<circle cx="264.2" cy="299.1"/>
<circle cx="263.3" cy="300.7"/>
<circle cx="269.4" cy="311.4"/>
<circle cx="273.1" cy="310.0"/>
<circle cx="268.6" cy="311.2"/>
<circle cx="274.0" cy="301.1"/>
<circle cx="268.9" cy="306.4"/>
<circle cx="282.5" cy="303.7"/>
<circle cx="272.3" cy="306.5"/>
<circle cx="280.7" cy="305.5"/>
<circle cx="269.4" cy="303.9"/>
<circle cx="262.7" cy="305.3"/>
<circle cx="261.7" cy="298.4"/>
<circle cx="265.1" cy="299.8"/>
<circle cx="268.2" cy="298.4"/>
<circle cx="260.3" cy="299.2"/>
<circle cx="262.6" cy="302.0"/>
<circle cx="260.9" cy="307.3"/>
<circle cx="274.6" cy="299.5"/>
<circle cx="266.2" cy="302.5"/>
<circle cx="280.1" cy="307.7"/>
<circle cx="272.9" cy="298.0"/>
<circle cx="272.6" cy="311.6"/>
<circle cx="266.4" cy="302.8"/>
<circle cx="272.7" cy="308.7"/>
<circle cx="268.0" cy="300.9"/>
<circle cx="280.1" cy="305.8"/>
<circle cx="265.6" cy="304.7"/>
<circle cx="266.3" cy="307.4"/>
<circle cx="282.6" cy="301.5"/>
<circle cx="282.1" cy="306.6"/>
<circle cx="282.5" cy="300.8"/>
<circle cx="264.9" cy="300.3"/>
<circle cx="274.8" cy="309.4"/>
<circle cx="279.9" cy="302.5"/>
<circle cx="281.5" cy="305.0"/>
<circle cx="277.8" cy="303.1"/>
<circle cx="264.4" cy="307.9"/>
<circle cx="268.0" cy="309.7"/>
<circle cx="269.6" cy="312.7"/>
<circle cx="277.2" cy="299.6"/>
<circle cx="263.2" cy="299.5"/>
<circle cx="281.4" cy="305.2"/>
<circle cx="274.0" cy="309.9"/>
<circle cx="269.8" cy="312.3"/>
<circle cx="269.0" cy="311.8"/>
<circle cx="272.6" cy="306.1"/>
<circle cx="267.3" cy="306.8"/>
<circle cx="267.2" cy="309.3"/>
<circle cx="266.2" cy="312.1"/>
<circle cx="270.4" cy="312.1"/>
<circle cx="268.9" cy="312.2"/>
<circle cx="269.6" cy="308.8"/>
<circle cx="269.8" cy="304.4"/>
<circle cx="269.0" cy="305.8"/>
<circle cx="266.5" cy="308.3"/>
<circle cx="268.0" cy="308.7"/>
<circle cx="267.3" cy="306.6"/>
</g>
<g fill="#000084" fill-opacity="0.5" stroke-opacity="0.75">
<circle cx="253.0" cy="263.2"/>
</g>
<g fill="#000084" fill-opacity="0.86" stroke-opacity="1.00">
<circle cx="253.0" cy="265.4"/>
<circle cx="253.0" cy="267.5"/>
</g>
<g fill="#000084" fill-opacity="0.5" stroke-opacity="0.75">
<circle cx="253.0" cy="269.3"/>
<circle cx="253.0" cy="271.2"/>
</g>
<g fill="#000084" fill-opacity="0.86" stroke-opacity="1.00">
<circle cx="253.0" cy="273.3"/>
</g>
<g fill="#000084" fill-opacity="0.5" stroke-opacity="0.75">
<circle cx="253.0" cy="274.9"/>
</g>
<g fill="#87ceeb" fill-opacity="0.78" stroke-opacity="1.00">
<circle cx="266.5" cy="249.4"/>
<circle cx="267.6" cy="263.8"/>
<circle cx="270.3" cy="268.3"/>
<circle cx="271.9" cy="277.1"/>
<circle cx="273.2" cy="277.6"/>
<circle cx="260.1" cy="292.0"/>
</g>
<g fill="#ffa500" fill-opacity="0.7" stroke-opacity="0.95">
<circle cx="269.2" cy="248.6"/>
</g>
<g fill="#000084" fill-opacity="0.62" stroke-opacity="0.87">
<circle cx="210.0" cy="249.0"/>
<circle cx="209.2" cy="280.3"/>
<circle cx="217.7" cy="280.3"/>
<circle cx="204.0" cy="284.6"/>
<circle cx="208.7" cy="287.6"/>
<circle cx="209.2" cy="289.3"/>
<circle cx="222.0" cy="287.6"/>
<circle cx="222.5" cy="289.3"/>
<circle cx="222.5" cy="291.1"/>
<circle cx="235.8" cy="295.4"/>
<circle cx="234.0" cy="299.6"/>
<circle cx="217.7" cy="300.1"/>
<circle cx="220.3" cy="305.7"/>
<circle cx="226.7" cy="306.5"/>
<circle cx="237.0" cy="306.1"/>
<circle cx="234.5" cy="308.2"/>
<circle cx="211.3" cy="312.1"/>
<circle cx="299.2" cy="269.2"/>
<circle cx="311.7" cy="274.8"/>
<circle cx="300.1" cy="287.6"/>
<circle cx="311.7" cy="287.6"/>
<circle cx="290.7" cy="294.9"/>
<circle cx="302.2" cy="296.6"/>
<circle cx="312.1" cy="297.5"/>
<circle cx="327.1" cy="301.4"/>
<circle cx="302.2" cy="306.5"/>
<circle cx="326.7" cy="311.7"/>
<circle cx="327.1" cy="312.5"/>
<circle cx="287.2" cy="304.8"/>
<circle cx="290.7" cy="304.8"/>
<circle cx="288.5" cy="307.4"/>
<circle cx="278.8" cy="280.6"/>
<circle cx="270.6" cy="276.6"/>
<circle cx="265.6" cy="258.1"/>
<circle cx="276.1" cy="273.0"/>
<circle cx="266.0" cy="255.9"/>
<circle cx="272.1" cy="254.6"/>
<circle cx="270.6" cy="261.5"/>
<circle cx="270.5" cy="269.1"/>
<circle cx="281.5" cy="283.1"/>
<circle cx="276.3" cy="284.3"/>
<circle cx="275.4" cy="267.0"/>
<circle cx="272.9" cy="274.1"/>
<circle cx="264.2" cy="253.7"/>
</g>
<g fill="#000084" fill-opacity="0.86" stroke-opacity="1.00">
<circle cx="222.9" cy="307.8"/>
<circle cx="235.8" cy="305.7"/>
<circle cx="220.7" cy="309.1"/>
<circle cx="223.7" cy="310.4"/>
<circle cx="222.0" cy="311.7"/>
<circle cx="225.0" cy="311.7"/>
<circle cx="220.3" cy="311.2"/>
<circle cx="298.0" cy="261.9"/>
<circle cx="299.7" cy="285.5"/>
<circle cx="327.6" cy="303.1"/>
<circle cx="328.0" cy="304.8"/>
<circle cx="302.7" cy="310.8"/>
<circle cx="303.5" cy="312.5"/>
<circle cx="272.8" cy="282.4"/>
<circle cx="278.2" cy="272.9"/>
<circle cx="268.8" cy="261.4"/>
<circle cx="263.9" cy="261.6"/>
<circle cx="279.2" cy="281.2"/>
<circle cx="273.8" cy="270.7"/>
<circle cx="273.1" cy="277.1"/>
<circle cx="266.0" cy="258.9"/>
<circle cx="272.2" cy="268.9"/>
</g>
<path d="M267.9 161.1L271.1 164.3L267.9 167.5L264.7 164.3Z" fill="#a020f0" stroke="#1a0030" stroke-width="0.55"/>
<path d="M197.6 157.0V320.0H334.0" fill="none" stroke="#3c3c3c" stroke-width="0.9"/>
<path d="M204.5 320.0v2.4" stroke="#333" stroke-width="0.8"/>
<text x="204.5" y="329.2" text-anchor="middle" class="t" font-size="6.4" fill="#4d4d4d">6.5</text>
<path d="M238.0 320.0v2.4" stroke="#333" stroke-width="0.8"/>
<text x="238.0" y="329.2" text-anchor="middle" class="t" font-size="6.4" fill="#4d4d4d">7.0</text>
<path d="M271.4 320.0v2.4" stroke="#333" stroke-width="0.8"/>
<text x="271.4" y="329.2" text-anchor="middle" class="t" font-size="6.4" fill="#4d4d4d">7.5</text>
<path d="M305.0 320.0v2.4" stroke="#333" stroke-width="0.8"/>
<text x="305.0" y="329.2" text-anchor="middle" class="t" font-size="6.4" fill="#4d4d4d">8.0</text>
<path d="M197.6 312.7h-2.4" stroke="#333" stroke-width="0.8"/>
<text x="194.0" y="315.3" text-anchor="end" class="t" font-size="6.4" fill="#4d4d4d">0</text>
<path d="M197.6 276.0h-2.4" stroke="#333" stroke-width="0.8"/>
<text x="194.0" y="278.6" text-anchor="end" class="t" font-size="6.4" fill="#4d4d4d">1</text>
<path d="M197.6 239.4h-2.4" stroke="#333" stroke-width="0.8"/>
<text x="194.0" y="242.0" text-anchor="end" class="t" font-size="6.4" fill="#4d4d4d">2</text>
<path d="M197.6 202.7h-2.4" stroke="#333" stroke-width="0.8"/>
<text x="194.0" y="205.3" text-anchor="end" class="t" font-size="6.4" fill="#4d4d4d">3</text>
<path d="M197.6 165.9h-2.4" stroke="#333" stroke-width="0.8"/>
<text x="194.0" y="168.5" text-anchor="end" class="t" font-size="6.4" fill="#4d4d4d">4</text>
<text x="264.0" y="339.8" text-anchor="middle" font-size="7.25" fill="#000">chr17 (Mb)</text>
<text x="182.0" y="250.0" text-anchor="middle" font-size="7.6" fill="#000" transform="rotate(-90 182.0 250.0)">IA_GWAS-log<tspan font-size="5.32" dy="1.7">10</tspan><tspan dy="-1.7">(P)</tspan></text>
<text x="261.8" y="166.3" text-anchor="end" font-size="7.4" fill="#000">rs62059793</text>
<g fill="#000084" fill-opacity="0.62" stroke-opacity="0.87">
<circle cx="378.2" cy="39.0"/>
<circle cx="378.2" cy="42.2"/>
<circle cx="374.2" cy="52.8"/>
<circle cx="373.2" cy="58.3"/>
<circle cx="374.7" cy="56.8"/>
<circle cx="374.2" cy="66.9"/>
<circle cx="373.4" cy="78.0"/>
<circle cx="374.2" cy="82.5"/>
<circle cx="374.2" cy="86.0"/>
<circle cx="373.2" cy="91.0"/>
<circle cx="377.2" cy="89.8"/>
<circle cx="377.2" cy="95.1"/>
<circle cx="377.7" cy="102.6"/>
<circle cx="374.5" cy="58.8"/>
<circle cx="377.0" cy="108.6"/>
<circle cx="374.7" cy="135.8"/>
<circle cx="372.2" cy="141.3"/>
<circle cx="382.2" cy="140.8"/>
<circle cx="372.2" cy="146.4"/>
<circle cx="373.4" cy="153.9"/>
<circle cx="373.4" cy="157.2"/>
<circle cx="367.7" cy="162.0"/>
<circle cx="378.2" cy="160.9"/>
<circle cx="373.7" cy="163.5"/>
<circle cx="370.7" cy="166.0"/>
</g>
<g fill="#000084" fill-opacity="0.86" stroke-opacity="1.00">
<circle cx="375.2" cy="59.9"/>
<circle cx="373.9" cy="80.0"/>
<circle cx="372.2" cy="92.0"/>
<circle cx="374.7" cy="92.5"/>
<circle cx="376.7" cy="104.1"/>
<circle cx="377.2" cy="107.6"/>
<circle cx="377.2" cy="109.6"/>
<circle cx="373.7" cy="79.0"/>
<circle cx="372.7" cy="143.3"/>
<circle cx="373.9" cy="146.4"/>
<circle cx="375.2" cy="162.0"/>
</g>
<g fill="#006400" fill-opacity="0.55" stroke-opacity="0.80">
<circle cx="460.2" cy="30.7"/>
<circle cx="472.0" cy="27.9"/>
<circle cx="471.5" cy="51.3"/>
<circle cx="467.8" cy="87.3"/>
<circle cx="424.7" cy="138.8"/>
</g>
<g fill="#006400" fill-opacity="0.9" stroke-opacity="1.00" style="stroke-width:.65px">
<circle cx="467.8" cy="102.9"/>
<circle cx="472.5" cy="106.6"/>
<circle cx="467.0" cy="110.9"/>
<circle cx="471.0" cy="108.6"/>
<circle cx="476.6" cy="112.9"/>
<circle cx="422.5" cy="123.7"/>
<circle cx="424.0" cy="128.0"/>
</g>
<g fill="#87ceeb" fill-opacity="0.78" stroke-opacity="1.00">
<circle cx="376.0" cy="52.8"/>
<circle cx="420.0" cy="97.1"/>
<circle cx="409.9" cy="119.7"/>
<circle cx="406.9" cy="122.7"/>
<circle cx="395.8" cy="168.7"/>
</g>
<g fill="#ff0000" fill-opacity="0.55" stroke-opacity="0.80">
<circle cx="490.1" cy="33.9"/>
<circle cx="501.4" cy="43.5"/>
<circle cx="497.2" cy="49.0"/>
<circle cx="490.1" cy="50.8"/>
<circle cx="483.3" cy="50.8"/>
<circle cx="481.8" cy="113.2"/>
<circle cx="485.4" cy="119.2"/>
</g>
<g fill="#ffa500" fill-opacity="0.55" stroke-opacity="0.80">
<circle cx="470.5" cy="65.6"/>
<circle cx="469.0" cy="94.1"/>
<circle cx="472.5" cy="119.7"/>
<circle cx="481.6" cy="144.9"/>
<circle cx="450.9" cy="150.9"/>
</g>
<g fill="#ffa500" fill-opacity="0.9" stroke-opacity="1.00" style="stroke-width:.65px">
<circle cx="480.3" cy="25.9"/>
<circle cx="463.0" cy="99.8"/>
<circle cx="477.1" cy="98.3"/>
<circle cx="477.8" cy="99.6"/>
<circle cx="479.8" cy="100.1"/>
</g>
<g fill="#ff0000" fill-opacity="0.9" stroke-opacity="1.00" style="stroke-width:.65px">
<circle cx="484.9" cy="20.6"/>
<circle cx="479.8" cy="24.4"/>
<circle cx="486.4" cy="57.3"/>
<circle cx="485.4" cy="59.9"/>
<circle cx="483.3" cy="65.4"/>
<circle cx="483.3" cy="66.9"/>
</g>
<g fill="#000084" fill-opacity="0.62" stroke-opacity="0.87">
<circle cx="374.5" cy="164.9"/>
<circle cx="391.5" cy="179.3"/>
<circle cx="391.3" cy="182.5"/>
<circle cx="375.6" cy="184.9"/>
<circle cx="386.2" cy="196.3"/>
<circle cx="372.9" cy="193.7"/>
<circle cx="388.1" cy="203.8"/>
<circle cx="415.2" cy="193.4"/>
<circle cx="415.0" cy="195.0"/>
<circle cx="409.4" cy="196.9"/>
<circle cx="419.2" cy="196.9"/>
<circle cx="420.6" cy="213.9"/>
<circle cx="367.6" cy="211.5"/>
<circle cx="373.7" cy="212.0"/>
<circle cx="369.4" cy="215.2"/>
<circle cx="374.2" cy="216.6"/>
<circle cx="367.8" cy="221.1"/>
<circle cx="372.1" cy="222.4"/>
<circle cx="369.4" cy="228.0"/>
<circle cx="369.4" cy="232.0"/>
<circle cx="382.8" cy="232.8"/>
<circle cx="400.6" cy="231.7"/>
<circle cx="392.6" cy="229.9"/>
<circle cx="367.6" cy="236.8"/>
<circle cx="372.6" cy="236.5"/>
<circle cx="382.5" cy="239.5"/>
<circle cx="391.8" cy="176.6"/>
<circle cx="384.1" cy="189.7"/>
<circle cx="388.6" cy="197.4"/>
<circle cx="374.4" cy="205.9"/>
<circle cx="372.1" cy="221.6"/>
</g>
<g fill="#000084" fill-opacity="0.86" stroke-opacity="1.00">
<circle cx="392.1" cy="175.3"/>
<circle cx="384.1" cy="188.9"/>
<circle cx="384.3" cy="190.5"/>
<circle cx="388.1" cy="197.1"/>
<circle cx="389.4" cy="197.9"/>
<circle cx="390.2" cy="198.7"/>
<circle cx="374.0" cy="198.5"/>
<circle cx="374.5" cy="204.9"/>
<circle cx="374.2" cy="207.0"/>
<circle cx="371.6" cy="211.5"/>
<circle cx="372.6" cy="219.0"/>
<circle cx="393.4" cy="231.5"/>
<circle cx="391.5" cy="233.9"/>
<circle cx="372.9" cy="238.4"/>
<circle cx="392.9" cy="230.7"/>
</g>
<g fill="#87ceeb" fill-opacity="0.78" stroke-opacity="1.00">
<circle cx="399.5" cy="188.9"/>
<circle cx="405.7" cy="194.2"/>
<circle cx="390.7" cy="206.4"/>
<circle cx="403.5" cy="207.8"/>
<circle cx="413.1" cy="209.1"/>
<circle cx="426.7" cy="206.4"/>
<circle cx="429.9" cy="203.8"/>
<circle cx="427.5" cy="212.0"/>
<circle cx="387.8" cy="212.6"/>
<circle cx="391.8" cy="219.8"/>
<circle cx="397.7" cy="221.6"/>
<circle cx="395.8" cy="224.6"/>
<circle cx="396.9" cy="227.8"/>
<circle cx="395.3" cy="230.4"/>
<circle cx="396.1" cy="235.7"/>
<circle cx="384.9" cy="236.8"/>
</g>
<g fill="#000084" fill-opacity="0.62" stroke-opacity="0.87">
<circle cx="383.6" cy="242.8"/>
<circle cx="392.3" cy="242.0"/>
<circle cx="392.9" cy="245.7"/>
<circle cx="387.8" cy="247.0"/>
<circle cx="383.0" cy="248.4"/>
<circle cx="392.6" cy="248.1"/>
<circle cx="374.8" cy="249.4"/>
<circle cx="378.2" cy="250.0"/>
<circle cx="387.5" cy="251.3"/>
<circle cx="392.3" cy="250.8"/>
<circle cx="393.4" cy="257.2"/>
<circle cx="389.1" cy="257.7"/>
<circle cx="423.5" cy="252.9"/>
<circle cx="375.0" cy="260.1"/>
<circle cx="379.6" cy="260.1"/>
<circle cx="389.9" cy="261.7"/>
<circle cx="402.2" cy="264.1"/>
<circle cx="376.9" cy="265.1"/>
<circle cx="385.1" cy="273.7"/>
<circle cx="399.0" cy="276.6"/>
<circle cx="376.6" cy="267.3"/>
<circle cx="378.0" cy="272.9"/>
<circle cx="383.0" cy="280.6"/>
<circle cx="382.8" cy="284.1"/>
<circle cx="389.9" cy="285.9"/>
<circle cx="388.3" cy="289.1"/>
<circle cx="394.5" cy="280.6"/>
<circle cx="396.9" cy="282.7"/>
<circle cx="416.6" cy="291.2"/>
<circle cx="389.9" cy="295.2"/>
<circle cx="393.4" cy="294.4"/>
<circle cx="392.6" cy="299.2"/>
<circle cx="397.9" cy="301.1"/>
<circle cx="393.4" cy="303.5"/>
<circle cx="386.2" cy="299.8"/>
<circle cx="391.0" cy="302.7"/>
<circle cx="392.9" cy="249.4"/>
<circle cx="391.5" cy="252.6"/>
<circle cx="389.4" cy="301.9"/>
<circle cx="370.4" cy="263.0"/>
<circle cx="369.4" cy="250.6"/>
<circle cx="367.7" cy="249.8"/>
<circle cx="369.0" cy="251.9"/>
<circle cx="367.2" cy="274.6"/>
<circle cx="368.8" cy="264.1"/>
<circle cx="367.5" cy="249.7"/>
<circle cx="370.7" cy="255.2"/>
<circle cx="370.3" cy="254.5"/>
<circle cx="371.2" cy="273.6"/>
<circle cx="369.3" cy="269.0"/>
<circle cx="370.9" cy="273.5"/>
<circle cx="371.3" cy="259.4"/>
<circle cx="369.0" cy="262.4"/>
<circle cx="369.2" cy="269.6"/>
<circle cx="367.7" cy="265.7"/>
<circle cx="368.1" cy="251.5"/>
<circle cx="369.8" cy="267.5"/>
<circle cx="368.5" cy="276.3"/>
<circle cx="371.1" cy="265.1"/>
<circle cx="368.4" cy="255.6"/>
<circle cx="367.8" cy="256.7"/>
<circle cx="369.1" cy="269.0"/>
<circle cx="370.5" cy="270.9"/>
<circle cx="370.7" cy="265.5"/>
<circle cx="369.8" cy="275.3"/>
<circle cx="368.9" cy="303.7"/>
<circle cx="372.3" cy="280.4"/>
<circle cx="369.5" cy="282.8"/>
<circle cx="371.4" cy="298.9"/>
<circle cx="366.3" cy="289.7"/>
<circle cx="366.7" cy="298.2"/>
<circle cx="367.4" cy="296.7"/>
<circle cx="367.9" cy="296.3"/>
<circle cx="372.2" cy="284.9"/>
<circle cx="369.7" cy="292.4"/>
<circle cx="366.7" cy="299.6"/>
<circle cx="367.0" cy="278.7"/>
<circle cx="366.7" cy="299.6"/>
<circle cx="370.4" cy="277.2"/>
<circle cx="370.5" cy="289.1"/>
<circle cx="369.7" cy="287.6"/>
<circle cx="368.9" cy="283.0"/>
<circle cx="369.3" cy="283.3"/>
<circle cx="368.8" cy="290.3"/>
<circle cx="370.4" cy="303.8"/>
<circle cx="366.8" cy="290.1"/>
<circle cx="372.2" cy="298.6"/>
<circle cx="370.4" cy="298.0"/>
<circle cx="370.7" cy="300.8"/>
<circle cx="370.9" cy="295.9"/>
<circle cx="367.9" cy="302.5"/>
<circle cx="368.8" cy="293.9"/>
<circle cx="368.3" cy="285.4"/>
<circle cx="368.8" cy="280.7"/>
<circle cx="369.9" cy="278.8"/>
<circle cx="372.6" cy="285.7"/>
<circle cx="367.6" cy="293.5"/>
<circle cx="368.8" cy="284.3"/>
<circle cx="366.5" cy="299.5"/>
<circle cx="366.4" cy="290.7"/>
<circle cx="366.5" cy="293.8"/>
<circle cx="370.9" cy="283.4"/>
<circle cx="369.3" cy="301.8"/>
<circle cx="368.7" cy="280.4"/>
<circle cx="371.5" cy="299.8"/>
<circle cx="366.4" cy="293.0"/>
<circle cx="367.5" cy="278.3"/>
<circle cx="370.4" cy="289.9"/>
<circle cx="366.7" cy="291.0"/>
<circle cx="370.8" cy="282.0"/>
<circle cx="366.5" cy="290.6"/>
<circle cx="372.4" cy="291.8"/>
<circle cx="371.1" cy="291.4"/>
<circle cx="367.7" cy="277.7"/>
<circle cx="371.6" cy="302.2"/>
<circle cx="371.4" cy="302.1"/>
<circle cx="368.6" cy="293.9"/>
<circle cx="372.4" cy="291.7"/>
<circle cx="371.7" cy="286.8"/>
<circle cx="375.3" cy="290.8"/>
<circle cx="373.0" cy="292.8"/>
<circle cx="376.6" cy="283.2"/>
<circle cx="376.2" cy="300.5"/>
<circle cx="375.0" cy="296.5"/>
<circle cx="377.4" cy="295.7"/>
<circle cx="378.2" cy="281.9"/>
<circle cx="377.8" cy="298.0"/>
<circle cx="376.5" cy="280.7"/>
<circle cx="377.7" cy="283.4"/>
<circle cx="374.1" cy="282.1"/>
<circle cx="374.1" cy="293.3"/>
<circle cx="374.8" cy="292.4"/>
<circle cx="375.0" cy="281.8"/>
</g>
<g fill="#000084" fill-opacity="0.86" stroke-opacity="1.00">
<circle cx="396.1" cy="246.0"/>
<circle cx="370.0" cy="249.7"/>
<circle cx="393.9" cy="253.4"/>
<circle cx="391.3" cy="254.0"/>
<circle cx="380.4" cy="257.2"/>
<circle cx="401.1" cy="277.7"/>
<circle cx="400.1" cy="278.5"/>
<circle cx="376.9" cy="269.3"/>
<circle cx="377.2" cy="271.3"/>
<circle cx="376.6" cy="273.3"/>
<circle cx="375.6" cy="272.9"/>
<circle cx="377.0" cy="269.9"/>
<circle cx="376.8" cy="272.1"/>
<circle cx="381.4" cy="280.3"/>
<circle cx="384.1" cy="287.0"/>
<circle cx="380.9" cy="287.2"/>
<circle cx="396.6" cy="286.4"/>
<circle cx="398.2" cy="287.5"/>
<circle cx="391.5" cy="296.6"/>
<circle cx="385.7" cy="298.2"/>
<circle cx="384.9" cy="301.4"/>
<circle cx="387.5" cy="301.9"/>
<circle cx="389.9" cy="300.6"/>
<circle cx="393.9" cy="301.9"/>
<circle cx="395.8" cy="300.6"/>
<circle cx="388.6" cy="304.0"/>
<circle cx="392.1" cy="246.8"/>
<circle cx="385.9" cy="300.6"/>
<circle cx="392.9" cy="301.4"/>
<circle cx="367.4" cy="267.9"/>
<circle cx="369.6" cy="262.0"/>
<circle cx="367.6" cy="270.8"/>
<circle cx="369.0" cy="255.2"/>
<circle cx="366.7" cy="259.0"/>
<circle cx="370.3" cy="255.1"/>
<circle cx="371.3" cy="269.3"/>
<circle cx="370.7" cy="265.9"/>
<circle cx="366.8" cy="257.8"/>
<circle cx="371.1" cy="258.9"/>
<circle cx="367.4" cy="271.5"/>
<circle cx="368.2" cy="262.2"/>
<circle cx="370.2" cy="270.0"/>
<circle cx="367.2" cy="262.0"/>
<circle cx="370.5" cy="254.3"/>
<circle cx="368.6" cy="258.9"/>
<circle cx="368.7" cy="259.4"/>
<circle cx="366.8" cy="251.2"/>
<circle cx="370.0" cy="276.4"/>
<circle cx="369.2" cy="266.0"/>
<circle cx="367.5" cy="253.4"/>
<circle cx="368.3" cy="274.6"/>
<circle cx="368.3" cy="265.3"/>
<circle cx="366.9" cy="271.4"/>
<circle cx="370.3" cy="259.1"/>
<circle cx="370.8" cy="275.4"/>
<circle cx="370.8" cy="262.4"/>
<circle cx="370.7" cy="253.2"/>
<circle cx="367.0" cy="271.2"/>
<circle cx="370.2" cy="262.1"/>
<circle cx="370.5" cy="250.1"/>
<circle cx="368.6" cy="253.4"/>
<circle cx="367.0" cy="258.1"/>
<circle cx="370.8" cy="276.1"/>
<circle cx="370.1" cy="262.0"/>
<circle cx="367.8" cy="275.4"/>
<circle cx="366.8" cy="254.6"/>
<circle cx="368.6" cy="264.9"/>
<circle cx="370.6" cy="257.2"/>
<circle cx="369.1" cy="256.4"/>
<circle cx="370.2" cy="248.9"/>
<circle cx="366.8" cy="265.2"/>
<circle cx="369.6" cy="272.5"/>
<circle cx="369.4" cy="255.8"/>
<circle cx="366.9" cy="279.2"/>
<circle cx="366.4" cy="289.2"/>
<circle cx="367.2" cy="301.1"/>
<circle cx="370.6" cy="280.2"/>
<circle cx="369.8" cy="285.8"/>
<circle cx="367.3" cy="281.8"/>
<circle cx="368.8" cy="296.6"/>
<circle cx="369.9" cy="277.9"/>
<circle cx="371.0" cy="301.3"/>
<circle cx="368.3" cy="277.8"/>
<circle cx="368.8" cy="285.3"/>
<circle cx="369.6" cy="292.1"/>
<circle cx="372.6" cy="279.4"/>
<circle cx="370.2" cy="290.9"/>
<circle cx="371.1" cy="303.9"/>
<circle cx="368.3" cy="296.3"/>
<circle cx="372.7" cy="286.6"/>
<circle cx="368.4" cy="304.6"/>
<circle cx="371.3" cy="289.2"/>
<circle cx="366.6" cy="288.8"/>
<circle cx="367.9" cy="296.5"/>
<circle cx="371.7" cy="297.0"/>
<circle cx="369.5" cy="296.8"/>
<circle cx="371.7" cy="303.8"/>
<circle cx="372.8" cy="276.8"/>
<circle cx="368.3" cy="303.2"/>
<circle cx="371.2" cy="289.6"/>
<circle cx="367.0" cy="303.6"/>
<circle cx="370.9" cy="282.4"/>
<circle cx="368.5" cy="294.7"/>
<circle cx="370.8" cy="284.0"/>
<circle cx="367.9" cy="300.5"/>
<circle cx="367.3" cy="295.8"/>
<circle cx="368.1" cy="287.3"/>
<circle cx="372.5" cy="289.8"/>
<circle cx="369.2" cy="294.0"/>
<circle cx="368.1" cy="281.5"/>
<circle cx="367.5" cy="303.7"/>
<circle cx="372.5" cy="296.5"/>
<circle cx="366.3" cy="292.0"/>
<circle cx="366.9" cy="285.3"/>
<circle cx="369.8" cy="278.0"/>
<circle cx="367.5" cy="288.0"/>
<circle cx="369.9" cy="283.0"/>
<circle cx="371.6" cy="300.4"/>
<circle cx="372.4" cy="301.5"/>
<circle cx="366.8" cy="302.0"/>
<circle cx="371.2" cy="298.0"/>
<circle cx="371.7" cy="293.7"/>
<circle cx="371.6" cy="286.1"/>
<circle cx="368.0" cy="286.6"/>
<circle cx="368.2" cy="294.3"/>
<circle cx="372.2" cy="278.6"/>
<circle cx="368.0" cy="278.3"/>
<circle cx="370.8" cy="295.0"/>
<circle cx="367.3" cy="279.5"/>
<circle cx="369.0" cy="296.1"/>
<circle cx="366.8" cy="299.9"/>
<circle cx="368.6" cy="291.6"/>
<circle cx="370.4" cy="281.5"/>
<circle cx="371.0" cy="290.5"/>
<circle cx="367.3" cy="300.6"/>
<circle cx="370.8" cy="282.7"/>
<circle cx="369.8" cy="302.2"/>
<circle cx="372.7" cy="287.6"/>
<circle cx="372.5" cy="303.0"/>
<circle cx="371.5" cy="276.9"/>
<circle cx="370.3" cy="297.9"/>
<circle cx="370.5" cy="281.2"/>
<circle cx="372.1" cy="282.4"/>
<circle cx="372.9" cy="292.3"/>
<circle cx="371.4" cy="297.5"/>
<circle cx="372.1" cy="286.8"/>
<circle cx="366.8" cy="288.0"/>
<circle cx="367.4" cy="291.8"/>
<circle cx="367.1" cy="277.4"/>
<circle cx="374.1" cy="279.8"/>
<circle cx="378.2" cy="289.4"/>
<circle cx="378.0" cy="289.2"/>
<circle cx="373.6" cy="282.9"/>
<circle cx="375.3" cy="292.2"/>
<circle cx="377.3" cy="294.8"/>
<circle cx="375.4" cy="286.1"/>
<circle cx="375.7" cy="283.4"/>
<circle cx="376.0" cy="288.0"/>
<circle cx="373.1" cy="296.4"/>
<circle cx="376.3" cy="296.0"/>
<circle cx="377.1" cy="294.3"/>
<circle cx="378.6" cy="286.0"/>
<circle cx="375.2" cy="277.4"/>
<circle cx="376.7" cy="290.8"/>
<circle cx="374.0" cy="282.6"/>
<circle cx="377.1" cy="296.2"/>
<circle cx="375.7" cy="278.5"/>
<circle cx="375.8" cy="288.0"/>
<circle cx="375.1" cy="291.9"/>
<circle cx="376.3" cy="293.4"/>
<circle cx="377.9" cy="294.8"/>
<circle cx="375.0" cy="283.1"/>
<circle cx="373.3" cy="284.4"/>
<circle cx="376.8" cy="284.2"/>
<circle cx="375.7" cy="293.9"/>
<circle cx="373.7" cy="278.6"/>
<circle cx="376.9" cy="286.9"/>
<circle cx="373.6" cy="297.8"/>
<circle cx="376.6" cy="277.8"/>
<circle cx="377.0" cy="291.1"/>
</g>
<path d="M481.1 12.9L484.3 16.1L481.1 19.3L477.9 16.1Z" fill="#a020f0" stroke="#1a0030" stroke-width="0.55"/>
<path d="M360.5 1.5V318.0H508.0" fill="none" stroke="#3c3c3c" stroke-width="0.9"/>
<path d="M361.7 318.0v2.4" stroke="#333" stroke-width="0.8"/>
<text x="361.7" y="327.2" text-anchor="middle" class="t" font-size="6.4" fill="#4d4d4d">0</text>
<path d="M407.5 318.0v2.4" stroke="#333" stroke-width="0.8"/>
<text x="407.5" y="327.2" text-anchor="middle" class="t" font-size="6.4" fill="#4d4d4d">10</text>
<path d="M453.3 318.0v2.4" stroke="#333" stroke-width="0.8"/>
<text x="453.3" y="327.2" text-anchor="middle" class="t" font-size="6.4" fill="#4d4d4d">20</text>
<path d="M499.1 318.0v2.4" stroke="#333" stroke-width="0.8"/>
<text x="499.1" y="327.2" text-anchor="middle" class="t" font-size="6.4" fill="#4d4d4d">30</text>
<path d="M360.5 304.6h-2.4" stroke="#333" stroke-width="0.8"/>
<text x="356.9" y="307.2" text-anchor="end" class="t" font-size="6.4" fill="#4d4d4d">0</text>
<path d="M360.5 230.0h-2.4" stroke="#333" stroke-width="0.8"/>
<text x="356.9" y="232.6" text-anchor="end" class="t" font-size="6.4" fill="#4d4d4d">1</text>
<path d="M360.5 155.4h-2.4" stroke="#333" stroke-width="0.8"/>
<text x="356.9" y="158.0" text-anchor="end" class="t" font-size="6.4" fill="#4d4d4d">2</text>
<path d="M360.5 80.4h-2.4" stroke="#333" stroke-width="0.8"/>
<text x="356.9" y="83.0" text-anchor="end" class="t" font-size="6.4" fill="#4d4d4d">3</text>
<path d="M360.5 5.4h-2.4" stroke="#333" stroke-width="0.8"/>
<text x="356.9" y="8.0" text-anchor="end" class="t" font-size="6.4" fill="#4d4d4d">4</text>
<text x="436.2" y="337.6" text-anchor="middle" font-size="7.6" fill="#000">TNFSF12_ eQTL -log<tspan font-size="5.32" dy="1.7">10</tspan><tspan dy="-1.7">(P)</tspan></text>
<text x="347.8" y="169.8" text-anchor="middle" font-size="7.6" fill="#000" transform="rotate(-90 347.8 169.8)">SAH_GWAS-log<tspan font-size="5.32" dy="1.7">10</tspan><tspan dy="-1.7">(P)</tspan></text>
<g style="stroke-width:0">
<rect x="476.9" y="189.2" width="9" height="17.30" fill="#ff0000" stroke="#111" style="stroke-width:0.40px"/>
<rect x="476.9" y="206.5" width="9" height="17.30" fill="#ffa500" stroke="#111" style="stroke-width:0.40px"/>
<rect x="476.9" y="223.8" width="9" height="17.30" fill="#006400" stroke="#111" style="stroke-width:0.40px"/>
<rect x="476.9" y="241.1" width="9" height="17.30" fill="#87ceeb" stroke="#111" style="stroke-width:0.40px"/>
<rect x="476.9" y="258.4" width="9" height="17.30" fill="#000080" stroke="#111" style="stroke-width:0.40px"/>
<rect x="476.9" y="189.2" width="9" height="86.5" fill="none" stroke="#111" style="stroke-width:0.5px"/>
<text x="488.5" y="208.8" font-size="6.6" fill="#222">0.8</text>
<text x="488.5" y="226.1" font-size="6.6" fill="#222">0.6</text>
<text x="488.5" y="243.4" font-size="6.6" fill="#222">0.4</text>
<text x="488.5" y="260.7" font-size="6.6" fill="#222">0.2</text>
<text x="483.6" y="186.8" text-anchor="middle" font-size="7.4" fill="#222">r</text>
<text x="487.4" y="179.7" text-anchor="middle" font-size="5.6" fill="#333">2</text>
</g>
<text x="476.8" y="12.2" text-anchor="middle" font-size="7.4" fill="#000">rs80067372</text>
<text x="344.4" y="7.5" font-size="10.8" fill="#000">b</text>
<g fill="#87ceeb" fill-opacity="0.5" stroke-opacity="0.75">
<circle cx="616.0" cy="78.7"/>
<circle cx="616.0" cy="83.4"/>
</g>
<g fill="#000084" fill-opacity="0.62" stroke-opacity="0.87">
<circle cx="617.9" cy="91.7"/>
</g>
<g fill="#000084" fill-opacity="0.86" stroke-opacity="1.00">
<circle cx="616.0" cy="85.8"/>
<circle cx="616.0" cy="87.9"/>
</g>
<g fill="#87ceeb" fill-opacity="0.5" stroke-opacity="0.75">
<circle cx="618.1" cy="94.8"/>
</g>
<g fill="#000084" fill-opacity="0.62" stroke-opacity="0.87">
<circle cx="609.8" cy="88.4"/>
<circle cx="610.1" cy="92.6"/>
<circle cx="603.9" cy="105.4"/>
<circle cx="602.7" cy="122.0"/>
<circle cx="621.7" cy="114.0"/>
<circle cx="621.9" cy="117.7"/>
<circle cx="594.2" cy="132.2"/>
<circle cx="595.6" cy="133.1"/>
<circle cx="593.3" cy="135.0"/>
<circle cx="592.3" cy="138.6"/>
<circle cx="629.5" cy="131.5"/>
<circle cx="633.7" cy="134.1"/>
<circle cx="630.0" cy="137.4"/>
<circle cx="632.3" cy="138.1"/>
<circle cx="635.9" cy="139.0"/>
<circle cx="645.3" cy="132.4"/>
<circle cx="644.6" cy="135.0"/>
<circle cx="640.6" cy="137.9"/>
<circle cx="643.7" cy="138.6"/>
<circle cx="653.6" cy="138.6"/>
<circle cx="654.1" cy="139.0"/>
<circle cx="616.4" cy="124.1"/>
<circle cx="612.4" cy="124.4"/>
<circle cx="612.4" cy="122.2"/>
<circle cx="611.1" cy="123.6"/>
<circle cx="610.3" cy="117.3"/>
<circle cx="619.8" cy="119.9"/>
<circle cx="614.2" cy="113.9"/>
<circle cx="616.8" cy="113.5"/>
<circle cx="612.3" cy="113.0"/>
<circle cx="611.2" cy="107.5"/>
<circle cx="606.3" cy="122.0"/>
<circle cx="609.5" cy="107.3"/>
<circle cx="615.4" cy="110.8"/>
<circle cx="619.2" cy="121.4"/>
<circle cx="618.8" cy="113.6"/>
<circle cx="606.9" cy="109.1"/>
<circle cx="614.0" cy="107.8"/>
<circle cx="614.6" cy="118.7"/>
<circle cx="608.5" cy="117.4"/>
<circle cx="618.1" cy="113.0"/>
<circle cx="614.0" cy="109.9"/>
<circle cx="608.3" cy="110.1"/>
<circle cx="602.5" cy="108.0"/>
<circle cx="611.9" cy="111.6"/>
<circle cx="607.4" cy="115.7"/>
<circle cx="618.6" cy="107.7"/>
<circle cx="614.6" cy="116.4"/>
<circle cx="613.1" cy="120.9"/>
<circle cx="608.2" cy="115.3"/>
<circle cx="615.7" cy="112.7"/>
<circle cx="618.2" cy="125.6"/>
<circle cx="612.2" cy="115.7"/>
<circle cx="607.2" cy="116.2"/>
<circle cx="613.2" cy="125.8"/>
<circle cx="616.4" cy="116.5"/>
<circle cx="605.6" cy="136.3"/>
<circle cx="608.7" cy="135.9"/>
<circle cx="604.7" cy="132.3"/>
<circle cx="609.8" cy="135.0"/>
<circle cx="608.6" cy="133.6"/>
<circle cx="601.9" cy="133.1"/>
<circle cx="605.4" cy="134.4"/>
<circle cx="610.8" cy="135.0"/>
<circle cx="612.0" cy="138.5"/>
<circle cx="611.6" cy="132.2"/>
<circle cx="609.4" cy="128.3"/>
<circle cx="608.3" cy="136.1"/>
<circle cx="608.4" cy="126.6"/>
<circle cx="602.4" cy="127.8"/>
<circle cx="603.8" cy="126.5"/>
<circle cx="606.6" cy="131.0"/>
<circle cx="608.2" cy="133.7"/>
<circle cx="604.7" cy="131.4"/>
<circle cx="603.0" cy="136.8"/>
<circle cx="605.7" cy="126.5"/>
<circle cx="623.9" cy="132.7"/>
<circle cx="621.6" cy="131.8"/>
<circle cx="624.7" cy="127.2"/>
<circle cx="621.9" cy="138.8"/>
<circle cx="617.6" cy="131.0"/>
<circle cx="625.6" cy="133.7"/>
<circle cx="625.6" cy="133.6"/>
<circle cx="623.5" cy="130.4"/>
<circle cx="618.0" cy="129.2"/>
<circle cx="625.7" cy="131.0"/>
<circle cx="621.6" cy="133.4"/>
<circle cx="622.0" cy="135.1"/>
<circle cx="623.3" cy="131.1"/>
<circle cx="620.8" cy="131.6"/>
<circle cx="618.3" cy="134.1"/>
<circle cx="623.1" cy="134.9"/>
<circle cx="615.5" cy="130.5"/>
<circle cx="624.6" cy="134.3"/>
<circle cx="615.3" cy="137.3"/>
<circle cx="620.3" cy="139.1"/>
<circle cx="612.8" cy="139.6"/>
<circle cx="615.1" cy="138.2"/>
<circle cx="615.8" cy="136.9"/>
<circle cx="612.4" cy="139.6"/>
<circle cx="615.7" cy="139.0"/>
</g>
<g fill="#000084" fill-opacity="0.86" stroke-opacity="1.00">
<circle cx="610.8" cy="98.6"/>
<circle cx="622.4" cy="126.0"/>
<circle cx="596.8" cy="135.3"/>
<circle cx="608.6" cy="122.1"/>
<circle cx="608.7" cy="124.9"/>
<circle cx="611.8" cy="107.6"/>
<circle cx="605.3" cy="115.9"/>
<circle cx="610.7" cy="109.2"/>
<circle cx="609.9" cy="117.4"/>
<circle cx="612.7" cy="118.0"/>
<circle cx="614.3" cy="112.4"/>
<circle cx="610.4" cy="109.7"/>
<circle cx="611.0" cy="107.1"/>
<circle cx="612.7" cy="125.7"/>
<circle cx="614.3" cy="123.6"/>
<circle cx="614.3" cy="120.2"/>
<circle cx="619.2" cy="125.4"/>
<circle cx="610.6" cy="110.2"/>
<circle cx="612.9" cy="112.8"/>
<circle cx="613.1" cy="118.5"/>
<circle cx="613.7" cy="113.1"/>
<circle cx="609.0" cy="116.2"/>
<circle cx="611.9" cy="125.5"/>
<circle cx="612.2" cy="107.4"/>
<circle cx="615.2" cy="108.0"/>
<circle cx="609.1" cy="113.8"/>
<circle cx="611.4" cy="121.3"/>
<circle cx="606.4" cy="125.0"/>
<circle cx="613.7" cy="124.5"/>
<circle cx="611.4" cy="108.6"/>
<circle cx="616.0" cy="114.8"/>
<circle cx="609.0" cy="115.1"/>
<circle cx="610.8" cy="125.1"/>
<circle cx="608.5" cy="109.1"/>
<circle cx="617.0" cy="115.7"/>
<circle cx="612.6" cy="112.6"/>
<circle cx="610.8" cy="114.2"/>
<circle cx="611.1" cy="113.5"/>
<circle cx="602.7" cy="129.6"/>
<circle cx="609.9" cy="137.3"/>
<circle cx="609.9" cy="135.1"/>
<circle cx="605.6" cy="135.2"/>
<circle cx="604.8" cy="138.3"/>
<circle cx="604.4" cy="134.8"/>
<circle cx="606.6" cy="136.7"/>
<circle cx="608.5" cy="136.4"/>
<circle cx="609.5" cy="136.8"/>
<circle cx="605.4" cy="137.0"/>
<circle cx="607.2" cy="132.9"/>
<circle cx="603.5" cy="136.9"/>
<circle cx="609.0" cy="135.4"/>
<circle cx="609.9" cy="133.6"/>
<circle cx="608.7" cy="131.5"/>
<circle cx="608.4" cy="135.4"/>
<circle cx="602.1" cy="128.1"/>
<circle cx="606.4" cy="134.5"/>
<circle cx="604.1" cy="135.0"/>
<circle cx="606.7" cy="129.0"/>
<circle cx="605.1" cy="128.4"/>
<circle cx="604.3" cy="137.8"/>
<circle cx="601.8" cy="131.3"/>
<circle cx="608.2" cy="127.3"/>
<circle cx="607.5" cy="130.4"/>
<circle cx="621.3" cy="139.7"/>
<circle cx="623.8" cy="135.6"/>
<circle cx="619.1" cy="129.1"/>
<circle cx="621.5" cy="134.5"/>
<circle cx="625.4" cy="139.8"/>
<circle cx="616.3" cy="134.6"/>
<circle cx="621.7" cy="129.0"/>
<circle cx="619.2" cy="132.8"/>
<circle cx="625.5" cy="132.1"/>
<circle cx="625.4" cy="139.1"/>
<circle cx="621.5" cy="130.6"/>
<circle cx="619.6" cy="131.4"/>
<circle cx="618.2" cy="133.4"/>
<circle cx="616.5" cy="135.3"/>
<circle cx="619.9" cy="131.0"/>
<circle cx="623.5" cy="138.0"/>
<circle cx="615.3" cy="134.1"/>
<circle cx="618.1" cy="139.4"/>
<circle cx="623.1" cy="128.7"/>
<circle cx="620.1" cy="131.9"/>
<circle cx="620.0" cy="139.1"/>
<circle cx="619.7" cy="134.7"/>
<circle cx="622.7" cy="135.4"/>
<circle cx="619.3" cy="132.3"/>
<circle cx="624.2" cy="129.8"/>
<circle cx="611.4" cy="139.6"/>
<circle cx="612.7" cy="139.4"/>
<circle cx="616.4" cy="137.2"/>
<circle cx="613.9" cy="138.6"/>
<circle cx="614.0" cy="137.8"/>
<circle cx="611.9" cy="138.8"/>
<circle cx="611.2" cy="139.2"/>
</g>
<g fill="#006400" fill-opacity="0.55" stroke-opacity="0.80">
<circle cx="603.7" cy="83.7"/>
<circle cx="605.1" cy="85.1"/>
<circle cx="606.5" cy="84.4"/>
<circle cx="604.2" cy="85.5"/>
</g>
<g fill="#87ceeb" fill-opacity="0.5" stroke-opacity="0.75">
<circle cx="603.0" cy="98.3"/>
<circle cx="603.0" cy="100.0"/>
</g>
<g fill="#006400" fill-opacity="0.55" stroke-opacity="0.80">
<circle cx="603.4" cy="101.4"/>
</g>
<g fill="#87ceeb" fill-opacity="0.78" stroke-opacity="1.00">
<circle cx="616.3" cy="81.1"/>
<circle cx="612.2" cy="102.1"/>
<circle cx="611.5" cy="104.0"/>
<circle cx="609.6" cy="107.1"/>
<circle cx="601.3" cy="114.4"/>
<circle cx="614.6" cy="112.1"/>
</g>
<g fill="#000084" fill-opacity="0.62" stroke-opacity="0.87">
<circle cx="559.0" cy="138.9"/>
<circle cx="565.0" cy="135.1"/>
<circle cx="576.2" cy="138.9"/>
<circle cx="578.7" cy="136.4"/>
<circle cx="643.9" cy="137.4"/>
<circle cx="669.3" cy="134.9"/>
<circle cx="668.8" cy="138.9"/>
<circle cx="565.4" cy="137.9"/>
</g>
<g fill="#000084" fill-opacity="0.86" stroke-opacity="1.00">
<circle cx="545.3" cy="138.9"/>
<circle cx="550.9" cy="136.6"/>
<circle cx="551.3" cy="138.7"/>
<circle cx="562.4" cy="137.4"/>
<circle cx="566.3" cy="137.0"/>
<circle cx="568.0" cy="138.3"/>
<circle cx="577.0" cy="137.9"/>
<circle cx="596.8" cy="136.6"/>
<circle cx="643.1" cy="135.7"/>
<circle cx="669.3" cy="137.0"/>
<circle cx="551.7" cy="137.9"/>
<circle cx="563.7" cy="136.1"/>
<circle cx="668.8" cy="136.1"/>
</g>
<g fill="#ff0000" fill-opacity="0.55" stroke-opacity="0.80">
<circle cx="610.9" cy="8.9"/>
<circle cx="610.9" cy="13.0"/>
</g>
<g fill="#006400" fill-opacity="0.55" stroke-opacity="0.80">
<circle cx="614.8" cy="41.9"/>
<circle cx="613.6" cy="49.2"/>
</g>
<g fill="#ffa500" fill-opacity="0.5" stroke-opacity="0.75">
<circle cx="609.6" cy="46.4"/>
</g>
<g fill="#ff0000" fill-opacity="0.9" stroke-opacity="1.00" style="stroke-width:.65px">
<circle cx="610.1" cy="19.9"/>
<circle cx="610.3" cy="24.3"/>
<circle cx="609.8" cy="23.1"/>
</g>
<g fill="#ffa500" fill-opacity="0.8" stroke-opacity="1.00" style="stroke-width:.65px">
<circle cx="614.8" cy="29.3"/>
<circle cx="616.0" cy="36.9"/>
<circle cx="610.1" cy="39.1"/>
<circle cx="610.8" cy="40.5"/>
<circle cx="610.8" cy="58.0"/>
</g>
<g fill="#006400" fill-opacity="0.85" stroke-opacity="1.00" style="stroke-width:.65px">
<circle cx="615.5" cy="32.4"/>
<circle cx="613.6" cy="37.2"/>
<circle cx="612.7" cy="38.1"/>
<circle cx="612.1" cy="41.4"/>
</g>
<path d="M610.3 25.4L613.5 28.6L610.3 31.8L607.1 28.6Z" fill="#a020f0" stroke="#1a0030" stroke-width="0.55"/>
<path d="M538.9 3.0V145.3H675.7" fill="none" stroke="#3c3c3c" stroke-width="0.9"/>
<path d="M546.2 145.3v2.4" stroke="#333" stroke-width="0.8"/>
<text x="546.2" y="154.5" text-anchor="middle" class="t" font-size="6.4" fill="#4d4d4d"></text>
<path d="M579.9 145.3v2.4" stroke="#333" stroke-width="0.8"/>
<text x="579.9" y="154.5" text-anchor="middle" class="t" font-size="6.4" fill="#4d4d4d"></text>
<path d="M613.6 145.3v2.4" stroke="#333" stroke-width="0.8"/>
<text x="613.6" y="154.5" text-anchor="middle" class="t" font-size="6.4" fill="#4d4d4d"></text>
<path d="M647.3 145.3v2.4" stroke="#333" stroke-width="0.8"/>
<text x="647.3" y="154.5" text-anchor="middle" class="t" font-size="6.4" fill="#4d4d4d"></text>
<path d="M538.9 145.0h-2.4" stroke="#333" stroke-width="0.8"/>
<text x="535.3" y="147.6" text-anchor="end" class="t" font-size="6.4" fill="#4d4d4d">0</text>
<path d="M538.9 100.5h-2.4" stroke="#333" stroke-width="0.8"/>
<text x="535.3" y="103.1" text-anchor="end" class="t" font-size="6.4" fill="#4d4d4d">10</text>
<path d="M538.9 56.0h-2.4" stroke="#333" stroke-width="0.8"/>
<text x="535.3" y="58.6" text-anchor="end" class="t" font-size="6.4" fill="#4d4d4d">20</text>
<path d="M538.9 11.5h-2.4" stroke="#333" stroke-width="0.8"/>
<text x="535.3" y="14.1" text-anchor="end" class="t" font-size="6.4" fill="#4d4d4d">30</text>
<text x="523.1" y="69.8" text-anchor="middle" font-size="7.6" fill="#000" transform="rotate(-90 523.1 69.8)">TNFSF12_ eQTL -log<tspan font-size="5.32" dy="1.7">10</tspan><tspan dy="-1.7">(P)</tspan></text>
<g fill="#000084" fill-opacity="0.62" stroke-opacity="0.87">
<circle cx="603.0" cy="176.6"/>
<circle cx="603.3" cy="185.1"/>
<circle cx="605.4" cy="190.4"/>
<circle cx="605.7" cy="196.5"/>
<circle cx="605.7" cy="198.4"/>
<circle cx="607.0" cy="201.9"/>
<circle cx="608.3" cy="208.8"/>
<circle cx="608.6" cy="212.5"/>
<circle cx="596.4" cy="228.2"/>
<circle cx="609.1" cy="231.2"/>
<circle cx="608.9" cy="237.3"/>
<circle cx="596.9" cy="241.5"/>
<circle cx="603.5" cy="185.9"/>
<circle cx="608.7" cy="236.2"/>
</g>
<g fill="#000084" fill-opacity="0.86" stroke-opacity="1.00">
<circle cx="603.8" cy="186.7"/>
<circle cx="605.9" cy="200.3"/>
<circle cx="607.3" cy="203.7"/>
<circle cx="608.9" cy="210.7"/>
<circle cx="608.9" cy="229.0"/>
<circle cx="608.9" cy="234.9"/>
<circle cx="608.6" cy="239.7"/>
<circle cx="605.8" cy="197.6"/>
<circle cx="608.6" cy="211.6"/>
<circle cx="609.0" cy="230.1"/>
</g>
<g fill="#87ceeb" fill-opacity="0.78" stroke-opacity="1.00">
<circle cx="603.3" cy="183.2"/>
<circle cx="602.5" cy="217.6"/>
<circle cx="608.3" cy="243.4"/>
<circle cx="609.9" cy="206.1"/>
</g>
<g fill="#ff0000" fill-opacity="0.55" stroke-opacity="0.80">
<circle cx="609.9" cy="173.6"/>
<circle cx="610.5" cy="217.0"/>
<circle cx="610.2" cy="214.9"/>
<circle cx="610.7" cy="179.0"/>
</g>
<g fill="#006400" fill-opacity="0.55" stroke-opacity="0.80">
<circle cx="613.9" cy="182.7"/>
<circle cx="611.5" cy="201.1"/>
<circle cx="603.8" cy="218.9"/>
<circle cx="605.9" cy="221.6"/>
</g>
<g fill="#006400" fill-opacity="0.9" stroke-opacity="1.00" style="stroke-width:.65px">
<circle cx="613.1" cy="171.0"/>
<circle cx="615.3" cy="211.4"/>
<circle cx="615.5" cy="213.6"/>
<circle cx="612.1" cy="209.3"/>
<circle cx="602.7" cy="226.9"/>
</g>
<g fill="#ffa500" fill-opacity="0.75" stroke-opacity="1.00">
<circle cx="614.2" cy="169.6"/>
<circle cx="615.0" cy="206.7"/>
<circle cx="615.3" cy="208.3"/>
<circle cx="615.8" cy="217.8"/>
<circle cx="610.7" cy="232.2"/>
<circle cx="611.0" cy="234.3"/>
<circle cx="610.7" cy="204.3"/>
</g>
<g fill="#ff0000" fill-opacity="0.9" stroke-opacity="1.00" style="stroke-width:.65px">
<circle cx="609.7" cy="168.0"/>
<circle cx="610.2" cy="181.6"/>
<circle cx="610.7" cy="187.0"/>
<circle cx="610.2" cy="190.1"/>
</g>
<g fill="#000084" fill-opacity="0.62" stroke-opacity="0.87">
<circle cx="595.6" cy="251.2"/>
<circle cx="618.2" cy="253.1"/>
<circle cx="602.5" cy="255.8"/>
<circle cx="612.1" cy="258.4"/>
<circle cx="605.4" cy="261.6"/>
<circle cx="594.5" cy="264.6"/>
<circle cx="607.0" cy="265.9"/>
<circle cx="623.5" cy="269.3"/>
<circle cx="621.7" cy="270.7"/>
<circle cx="606.7" cy="273.9"/>
<circle cx="604.9" cy="278.9"/>
<circle cx="611.3" cy="280.3"/>
<circle cx="622.2" cy="285.3"/>
<circle cx="623.0" cy="292.5"/>
<circle cx="594.0" cy="289.9"/>
<circle cx="592.4" cy="295.7"/>
<circle cx="593.2" cy="300.5"/>
<circle cx="593.4" cy="304.0"/>
<circle cx="614.6" cy="300.9"/>
<circle cx="617.9" cy="295.6"/>
<circle cx="617.3" cy="304.4"/>
<circle cx="608.5" cy="307.1"/>
<circle cx="613.3" cy="310.7"/>
<circle cx="616.5" cy="284.0"/>
<circle cx="615.2" cy="286.5"/>
<circle cx="615.8" cy="311.9"/>
<circle cx="603.4" cy="298.9"/>
<circle cx="618.0" cy="311.7"/>
<circle cx="607.5" cy="300.7"/>
<circle cx="617.3" cy="300.0"/>
<circle cx="615.3" cy="295.5"/>
<circle cx="618.1" cy="289.0"/>
<circle cx="618.7" cy="294.7"/>
<circle cx="624.3" cy="300.6"/>
<circle cx="604.4" cy="282.5"/>
<circle cx="616.3" cy="283.7"/>
<circle cx="610.9" cy="286.5"/>
<circle cx="613.0" cy="311.6"/>
<circle cx="622.1" cy="298.5"/>
<circle cx="616.6" cy="298.5"/>
<circle cx="608.9" cy="304.4"/>
<circle cx="603.4" cy="300.4"/>
<circle cx="610.6" cy="309.4"/>
<circle cx="607.4" cy="307.6"/>
<circle cx="618.5" cy="301.2"/>
<circle cx="615.8" cy="286.8"/>
<circle cx="615.4" cy="312.5"/>
<circle cx="604.6" cy="292.2"/>
<circle cx="604.7" cy="284.8"/>
<circle cx="612.7" cy="297.8"/>
<circle cx="610.5" cy="301.5"/>
<circle cx="613.8" cy="287.3"/>
<circle cx="608.9" cy="306.8"/>
<circle cx="624.0" cy="306.4"/>
<circle cx="608.4" cy="295.9"/>
<circle cx="615.9" cy="299.3"/>
<circle cx="612.1" cy="287.0"/>
<circle cx="606.0" cy="298.5"/>
<circle cx="606.4" cy="304.0"/>
<circle cx="618.6" cy="287.8"/>
<circle cx="614.3" cy="291.8"/>
<circle cx="618.2" cy="290.1"/>
<circle cx="614.1" cy="283.2"/>
<circle cx="616.7" cy="293.7"/>
<circle cx="605.2" cy="303.3"/>
<circle cx="606.3" cy="300.7"/>
<circle cx="608.3" cy="285.6"/>
<circle cx="615.7" cy="298.6"/>
<circle cx="617.2" cy="284.1"/>
<circle cx="607.1" cy="287.5"/>
<circle cx="617.6" cy="294.6"/>
<circle cx="621.2" cy="313.3"/>
<circle cx="613.3" cy="282.9"/>
<circle cx="622.1" cy="305.8"/>
<circle cx="615.2" cy="287.4"/>
<circle cx="615.1" cy="287.4"/>
<circle cx="617.1" cy="297.9"/>
<circle cx="615.2" cy="308.3"/>
<circle cx="616.4" cy="284.0"/>
</g>
<g fill="#000084" fill-opacity="0.86" stroke-opacity="1.00">
<circle cx="609.9" cy="247.0"/>
<circle cx="610.2" cy="248.8"/>
<circle cx="609.9" cy="255.0"/>
<circle cx="610.7" cy="256.8"/>
<circle cx="594.8" cy="258.2"/>
<circle cx="594.2" cy="263.0"/>
<circle cx="594.2" cy="267.8"/>
<circle cx="608.9" cy="274.4"/>
<circle cx="605.9" cy="281.9"/>
<circle cx="616.6" cy="281.6"/>
<circle cx="617.9" cy="284.0"/>
<circle cx="594.4" cy="263.8"/>
<circle cx="610.1" cy="247.9"/>
<circle cx="610.3" cy="255.9"/>
<circle cx="618.4" cy="286.0"/>
<circle cx="607.5" cy="284.5"/>
<circle cx="613.5" cy="310.8"/>
<circle cx="615.4" cy="306.0"/>
<circle cx="610.8" cy="305.1"/>
<circle cx="604.5" cy="290.4"/>
<circle cx="611.6" cy="283.8"/>
<circle cx="608.2" cy="287.7"/>
<circle cx="610.7" cy="296.8"/>
<circle cx="615.6" cy="284.9"/>
<circle cx="615.2" cy="309.9"/>
<circle cx="606.8" cy="281.2"/>
<circle cx="604.1" cy="298.4"/>
<circle cx="615.8" cy="285.8"/>
<circle cx="610.0" cy="308.9"/>
<circle cx="611.2" cy="312.8"/>
<circle cx="615.1" cy="281.5"/>
<circle cx="611.9" cy="287.8"/>
<circle cx="604.2" cy="301.3"/>
<circle cx="617.1" cy="286.5"/>
<circle cx="606.9" cy="293.5"/>
<circle cx="615.9" cy="312.2"/>
<circle cx="610.1" cy="285.5"/>
<circle cx="614.8" cy="285.4"/>
<circle cx="604.1" cy="298.9"/>
<circle cx="617.8" cy="283.1"/>
<circle cx="612.3" cy="303.7"/>
<circle cx="618.2" cy="305.9"/>
<circle cx="614.0" cy="286.5"/>
<circle cx="612.4" cy="299.0"/>
<circle cx="614.2" cy="311.4"/>
<circle cx="613.9" cy="298.3"/>
<circle cx="618.3" cy="284.3"/>
<circle cx="617.9" cy="295.6"/>
<circle cx="613.2" cy="301.5"/>
<circle cx="615.6" cy="300.8"/>
<circle cx="617.4" cy="294.1"/>
<circle cx="612.7" cy="298.3"/>
<circle cx="609.7" cy="306.3"/>
<circle cx="624.3" cy="307.9"/>
<circle cx="607.4" cy="306.2"/>
<circle cx="606.5" cy="288.1"/>
<circle cx="623.2" cy="312.5"/>
<circle cx="610.5" cy="304.9"/>
<circle cx="607.5" cy="289.2"/>
<circle cx="612.0" cy="311.5"/>
<circle cx="607.8" cy="308.5"/>
<circle cx="615.8" cy="288.1"/>
<circle cx="622.4" cy="311.0"/>
<circle cx="621.8" cy="310.7"/>
<circle cx="609.3" cy="288.9"/>
<circle cx="615.7" cy="296.8"/>
<circle cx="610.0" cy="308.0"/>
<circle cx="611.1" cy="287.7"/>
<circle cx="616.9" cy="285.4"/>
<circle cx="616.2" cy="291.9"/>
<circle cx="612.2" cy="300.6"/>
<circle cx="619.2" cy="309.5"/>
<circle cx="602.6" cy="298.8"/>
<circle cx="612.7" cy="309.0"/>
<circle cx="609.5" cy="307.9"/>
<circle cx="613.7" cy="284.1"/>
<circle cx="605.9" cy="284.0"/>
<circle cx="620.6" cy="313.1"/>
<circle cx="621.6" cy="299.4"/>
<circle cx="602.4" cy="303.1"/>
<circle cx="621.6" cy="302.8"/>
<circle cx="622.5" cy="305.3"/>
<circle cx="612.3" cy="302.9"/>
<circle cx="607.4" cy="291.6"/>
<circle cx="618.9" cy="292.2"/>
<circle cx="606.4" cy="306.1"/>
<circle cx="605.2" cy="287.8"/>
<circle cx="614.4" cy="310.1"/>
<circle cx="623.2" cy="304.1"/>
<circle cx="612.6" cy="301.4"/>
<circle cx="623.8" cy="298.9"/>
<circle cx="622.7" cy="312.1"/>
<circle cx="604.1" cy="292.4"/>
<circle cx="614.1" cy="311.1"/>
<circle cx="614.3" cy="302.6"/>
<circle cx="605.1" cy="290.6"/>
<circle cx="606.1" cy="285.6"/>
<circle cx="619.9" cy="310.8"/>
<circle cx="605.6" cy="293.2"/>
<circle cx="608.6" cy="296.5"/>
<circle cx="623.8" cy="297.8"/>
<circle cx="607.9" cy="300.8"/>
<circle cx="603.5" cy="298.0"/>
</g>
<g fill="#87ceeb" fill-opacity="0.78" stroke-opacity="1.00">
<circle cx="612.1" cy="253.1"/>
<circle cx="615.8" cy="261.1"/>
<circle cx="618.2" cy="263.8"/>
<circle cx="613.4" cy="265.1"/>
<circle cx="614.2" cy="269.9"/>
<circle cx="615.3" cy="273.6"/>
<circle cx="617.7" cy="277.9"/>
<circle cx="612.9" cy="270.9"/>
<circle cx="601.9" cy="285.9"/>
<circle cx="609.9" cy="276.3"/>
</g>
<g fill="#000084" fill-opacity="0.62" stroke-opacity="0.87">
<circle cx="551.3" cy="239.9"/>
<circle cx="559.2" cy="278.0"/>
<circle cx="550.5" cy="285.9"/>
<circle cx="550.5" cy="289.2"/>
<circle cx="545.5" cy="295.8"/>
<circle cx="553.0" cy="302.0"/>
<circle cx="563.8" cy="300.4"/>
<circle cx="562.9" cy="309.1"/>
<circle cx="567.1" cy="309.5"/>
<circle cx="563.8" cy="311.2"/>
<circle cx="577.4" cy="292.1"/>
<circle cx="578.2" cy="302.9"/>
<circle cx="635.4" cy="264.8"/>
<circle cx="640.8" cy="275.5"/>
<circle cx="632.9" cy="278.0"/>
<circle cx="643.3" cy="290.4"/>
<circle cx="642.0" cy="294.6"/>
<circle cx="653.2" cy="294.2"/>
<circle cx="644.9" cy="302.9"/>
<circle cx="644.5" cy="306.2"/>
<circle cx="643.7" cy="308.7"/>
<circle cx="654.0" cy="307.0"/>
<circle cx="629.6" cy="308.3"/>
<circle cx="669.0" cy="306.6"/>
<circle cx="668.5" cy="309.1"/>
<circle cx="668.5" cy="312.4"/>
<circle cx="632.5" cy="285.1"/>
<circle cx="631.7" cy="287.1"/>
<circle cx="630.0" cy="291.7"/>
<circle cx="639.8" cy="267.2"/>
<circle cx="669.2" cy="303.7"/>
</g>
<g fill="#000084" fill-opacity="0.86" stroke-opacity="1.00">
<circle cx="559.6" cy="269.7"/>
<circle cx="550.1" cy="295.8"/>
<circle cx="563.8" cy="298.7"/>
<circle cx="567.5" cy="302.5"/>
<circle cx="562.5" cy="305.8"/>
<circle cx="566.2" cy="306.6"/>
<circle cx="567.5" cy="312.0"/>
<circle cx="562.5" cy="312.4"/>
<circle cx="576.2" cy="307.0"/>
<circle cx="576.6" cy="309.5"/>
<circle cx="575.3" cy="308.3"/>
<circle cx="559.6" cy="270.1"/>
<circle cx="550.7" cy="287.5"/>
<circle cx="639.6" cy="266.8"/>
<circle cx="644.5" cy="310.7"/>
<circle cx="653.6" cy="305.8"/>
<circle cx="669.0" cy="302.9"/>
<circle cx="669.4" cy="304.5"/>
<circle cx="630.9" cy="289.6"/>
</g>
<path d="M609.9 161.1L613.1 164.3L609.9 167.5L606.7 164.3Z" fill="#a020f0" stroke="#1a0030" stroke-width="0.55"/>
<path d="M538.8 157.0V320.0H675.7" fill="none" stroke="#3c3c3c" stroke-width="0.9"/>
<path d="M546.2 320.0v2.4" stroke="#333" stroke-width="0.8"/>
<text x="546.2" y="329.2" text-anchor="middle" class="t" font-size="6.4" fill="#4d4d4d">6.5</text>
<path d="M579.7 320.0v2.4" stroke="#333" stroke-width="0.8"/>
<text x="579.7" y="329.2" text-anchor="middle" class="t" font-size="6.4" fill="#4d4d4d">7.0</text>
<path d="M613.1 320.0v2.4" stroke="#333" stroke-width="0.8"/>
<text x="613.1" y="329.2" text-anchor="middle" class="t" font-size="6.4" fill="#4d4d4d">7.5</text>
<path d="M646.7 320.0v2.4" stroke="#333" stroke-width="0.8"/>
<text x="646.7" y="329.2" text-anchor="middle" class="t" font-size="6.4" fill="#4d4d4d">8.0</text>
<path d="M538.8 312.4h-2.4" stroke="#333" stroke-width="0.8"/>
<text x="535.2" y="315.0" text-anchor="end" class="t" font-size="6.4" fill="#4d4d4d">0</text>
<path d="M538.8 274.2h-2.4" stroke="#333" stroke-width="0.8"/>
<text x="535.2" y="276.8" text-anchor="end" class="t" font-size="6.4" fill="#4d4d4d">1</text>
<path d="M538.8 236.0h-2.4" stroke="#333" stroke-width="0.8"/>
<text x="535.2" y="238.6" text-anchor="end" class="t" font-size="6.4" fill="#4d4d4d">2</text>
<path d="M538.8 197.8h-2.4" stroke="#333" stroke-width="0.8"/>
<text x="535.2" y="200.4" text-anchor="end" class="t" font-size="6.4" fill="#4d4d4d">3</text>
<path d="M538.8 159.6h-2.4" stroke="#333" stroke-width="0.8"/>
<text x="535.2" y="162.2" text-anchor="end" class="t" font-size="6.4" fill="#4d4d4d">4</text>
<text x="605.7" y="339.8" text-anchor="middle" font-size="7.25" fill="#000">chr17 (Mb)</text>
<text x="522.1" y="249.3" text-anchor="middle" font-size="7.6" fill="#000" transform="rotate(-90 522.1 249.3)">SAH_GWAS-log<tspan font-size="5.32" dy="1.7">10</tspan><tspan dy="-1.7">(P</tspan></text>
<text x="613.8" y="166.3" text-anchor="start" font-size="7.4" fill="#000">rs80067372</text>
<g fill="#000084" fill-opacity="0.62" stroke-opacity="0.87">
<circle class="s" cx="95.8" cy="406.6"/>
<circle class="s" cx="98.8" cy="460.7"/>
<circle class="s" cx="151.4" cy="439.1"/>
<circle class="s" cx="156.9" cy="448.1"/>
<circle class="s" cx="155.9" cy="451.1"/>
<circle class="s" cx="151.4" cy="474.8"/>
<circle class="s" cx="156.4" cy="481.3"/>
<circle class="s" cx="158.4" cy="481.8"/>
<circle class="s" cx="150.4" cy="498.9"/>
<circle class="s" cx="151.4" cy="501.9"/>
<circle class="s" cx="57.3" cy="496.9"/>
</g>
<g fill="#000084" fill-opacity="0.86" stroke-opacity="1.00">
<circle class="s" cx="149.9" cy="496.9"/>
</g>
<g fill="#87ceeb" fill-opacity="0.78" stroke-opacity="1.00">
<circle class="s" cx="26.9" cy="493.6"/>
</g>
<g fill="#006400" fill-opacity="0.6" stroke-opacity="0.85">
<circle class="s" cx="47.0" cy="436.0"/>
<circle class="s" cx="50.0" cy="505.4"/>
</g>
<g fill="#ff0000" fill-opacity="0.55" stroke-opacity="0.80">
<circle class="s" cx="62.4" cy="364.1"/>
<circle class="s" cx="59.3" cy="369.1"/>
<circle class="s" cx="60.9" cy="375.2"/>
<circle class="s" cx="58.8" cy="391.3"/>
<circle class="s" cx="69.4" cy="396.3"/>
<circle class="s" cx="67.9" cy="429.5"/>
</g>
<g fill="#ffa500" fill-opacity="0.55" stroke-opacity="0.80">
<circle class="s" cx="66.9" cy="366.1"/>
<circle class="s" cx="61.9" cy="480.3"/>
<circle class="s" cx="64.9" cy="496.9"/>
</g>
<g fill="#ffa500" fill-opacity="0.85" stroke-opacity="1.00" style="stroke-width:.65px">
<circle class="s" cx="55.3" cy="456.7"/>
<circle class="s" cx="56.8" cy="459.7"/>
<circle class="s" cx="55.3" cy="461.7"/>
</g>
<g fill="#ff0000" fill-opacity="0.9" stroke-opacity="1.00" style="stroke-width:.65px">
<circle class="s" cx="58.8" cy="366.1"/>
<circle class="s" cx="58.8" cy="368.1"/>
<circle class="s" cx="63.9" cy="369.7"/>
<circle class="s" cx="62.4" cy="378.7"/>
<circle class="s" cx="58.8" cy="407.9"/>
<circle class="s" cx="46.0" cy="492.9"/>
<circle class="s" cx="58.8" cy="402.3"/>
<circle class="s" cx="46.8" cy="488.3"/>
<circle class="s" cx="58.8" cy="402.3"/>
<circle class="s" cx="46.8" cy="488.3"/>
</g>
<g fill="#000084" fill-opacity="0.62" stroke-opacity="0.87">
<circle class="s" cx="29.4" cy="509.6"/>
<circle class="s" cx="29.7" cy="518.4"/>
<circle class="s" cx="26.2" cy="527.2"/>
<circle class="s" cx="27.3" cy="548.3"/>
<circle class="s" cx="28.6" cy="548.5"/>
<circle class="s" cx="54.7" cy="544.8"/>
<circle class="s" cx="45.1" cy="559.4"/>
<circle class="s" cx="50.7" cy="562.1"/>
<circle class="s" cx="51.0" cy="568.5"/>
<circle class="s" cx="97.3" cy="558.4"/>
<circle class="s" cx="86.4" cy="566.1"/>
<circle class="s" cx="89.6" cy="565.6"/>
<circle class="s" cx="87.8" cy="570.4"/>
<circle class="s" cx="44.1" cy="571.4"/>
<circle class="s" cx="42.0" cy="575.7"/>
<circle class="s" cx="33.7" cy="575.7"/>
<circle class="s" cx="77.1" cy="573.3"/>
<circle class="s" cx="75.8" cy="575.1"/>
<circle class="s" cx="76.8" cy="578.9"/>
<circle class="s" cx="77.6" cy="581.8"/>
<circle class="s" cx="45.9" cy="582.3"/>
<circle class="s" cx="51.5" cy="581.8"/>
<circle class="s" cx="35.8" cy="579.4"/>
<circle class="s" cx="32.9" cy="581.3"/>
<circle class="s" cx="98.4" cy="579.1"/>
<circle class="s" cx="29.6" cy="508.7"/>
<circle class="s" cx="29.3" cy="532.9"/>
<circle class="s" cx="28.0" cy="548.4"/>
<circle class="s" cx="44.2" cy="572.5"/>
<circle class="s" cx="76.6" cy="574.2"/>
</g>
<g fill="#000084" fill-opacity="0.86" stroke-opacity="1.00">
<circle class="s" cx="29.7" cy="507.8"/>
<circle class="s" cx="29.4" cy="516.3"/>
<circle class="s" cx="29.7" cy="520.3"/>
<circle class="s" cx="28.9" cy="532.3"/>
<circle class="s" cx="29.7" cy="533.6"/>
<circle class="s" cx="29.2" cy="553.6"/>
<circle class="s" cx="29.7" cy="555.7"/>
<circle class="s" cx="45.1" cy="557.6"/>
<circle class="s" cx="45.4" cy="561.0"/>
<circle class="s" cx="44.3" cy="573.6"/>
<circle class="s" cx="40.9" cy="572.0"/>
<circle class="s" cx="46.5" cy="579.7"/>
<circle class="s" cx="97.6" cy="582.3"/>
<circle class="s" cx="29.6" cy="517.4"/>
<circle class="s" cx="29.4" cy="519.4"/>
<circle class="s" cx="29.4" cy="554.6"/>
<circle class="s" cx="45.3" cy="558.5"/>
</g>
<g fill="#87ceeb" fill-opacity="0.78" stroke-opacity="1.00">
<circle class="s" cx="26.5" cy="511.0"/>
<circle class="s" cx="26.0" cy="521.6"/>
<circle class="s" cx="48.3" cy="517.1"/>
<circle class="s" cx="27.3" cy="538.1"/>
<circle class="s" cx="27.6" cy="530.7"/>
<circle class="s" cx="23.8" cy="549.1"/>
<circle class="s" cx="34.0" cy="549.1"/>
<circle class="s" cx="24.1" cy="556.0"/>
<circle class="s" cx="57.7" cy="549.6"/>
<circle class="s" cx="57.9" cy="554.6"/>
<circle class="s" cx="57.9" cy="557.6"/>
<circle class="s" cx="65.7" cy="558.4"/>
<circle class="s" cx="73.4" cy="558.4"/>
</g>
<g fill="#006400" fill-opacity="0.6" stroke-opacity="0.85">
<circle class="s" cx="76.6" cy="530.7"/>
</g>
<g fill="#006400" fill-opacity="0.9" stroke-opacity="1.00" style="stroke-width:.65px">
<circle class="s" cx="75.0" cy="540.3"/>
<circle class="s" cx="73.9" cy="544.0"/>
</g>
<g fill="#000084" fill-opacity="0.62" stroke-opacity="0.87">
<circle class="s" cx="52.3" cy="590.1"/>
<circle class="s" cx="47.3" cy="615.7"/>
<circle class="s" cx="49.9" cy="612.0"/>
<circle class="s" cx="52.9" cy="615.7"/>
<circle class="s" cx="53.4" cy="618.6"/>
<circle class="s" cx="49.9" cy="622.6"/>
<circle class="s" cx="55.3" cy="626.1"/>
<circle class="s" cx="54.5" cy="629.5"/>
<circle class="s" cx="48.6" cy="631.9"/>
<circle class="s" cx="51.5" cy="634.9"/>
<circle class="s" cx="55.8" cy="635.9"/>
<circle class="s" cx="51.3" cy="642.6"/>
<circle class="s" cx="52.3" cy="645.2"/>
<circle class="s" cx="49.9" cy="651.9"/>
<circle class="s" cx="75.8" cy="584.3"/>
<circle class="s" cx="78.7" cy="585.9"/>
<circle class="s" cx="88.6" cy="585.9"/>
<circle class="s" cx="98.9" cy="592.0"/>
<circle class="s" cx="79.8" cy="596.8"/>
<circle class="s" cx="74.4" cy="600.8"/>
<circle class="s" cx="70.7" cy="602.9"/>
<circle class="s" cx="69.9" cy="608.0"/>
<circle class="s" cx="65.4" cy="609.6"/>
<circle class="s" cx="97.3" cy="614.3"/>
<circle class="s" cx="84.3" cy="630.9"/>
<circle class="s" cx="71.0" cy="636.2"/>
<circle class="s" cx="83.8" cy="644.7"/>
<circle class="s" cx="91.5" cy="638.6"/>
<circle class="s" cx="95.2" cy="638.0"/>
<circle class="s" cx="89.3" cy="645.0"/>
<circle class="s" cx="71.5" cy="650.3"/>
<circle class="s" cx="81.4" cy="649.8"/>
<circle class="s" cx="75.0" cy="596.6"/>
<circle class="s" cx="90.4" cy="642.6"/>
<circle class="s" cx="51.8" cy="643.9"/>
<circle class="s" cx="23.1" cy="591.9"/>
<circle class="s" cx="24.1" cy="591.9"/>
<circle class="s" cx="24.8" cy="636.5"/>
<circle class="s" cx="25.8" cy="650.2"/>
<circle class="s" cx="25.8" cy="598.3"/>
<circle class="s" cx="29.5" cy="652.5"/>
<circle class="s" cx="29.7" cy="629.2"/>
<circle class="s" cx="24.7" cy="639.2"/>
<circle class="s" cx="28.0" cy="599.3"/>
<circle class="s" cx="23.4" cy="607.4"/>
<circle class="s" cx="25.6" cy="611.5"/>
<circle class="s" cx="28.2" cy="590.6"/>
<circle class="s" cx="23.8" cy="611.8"/>
<circle class="s" cx="27.4" cy="592.3"/>
<circle class="s" cx="23.8" cy="652.1"/>
<circle class="s" cx="24.0" cy="597.6"/>
<circle class="s" cx="29.6" cy="617.0"/>
<circle class="s" cx="24.1" cy="634.3"/>
<circle class="s" cx="28.4" cy="651.4"/>
<circle class="s" cx="25.7" cy="584.9"/>
<circle class="s" cx="25.9" cy="603.7"/>
<circle class="s" cx="24.6" cy="597.5"/>
<circle class="s" cx="24.5" cy="615.6"/>
<circle class="s" cx="26.6" cy="633.7"/>
<circle class="s" cx="24.0" cy="638.3"/>
<circle class="s" cx="28.3" cy="624.2"/>
<circle class="s" cx="24.0" cy="613.5"/>
<circle class="s" cx="23.3" cy="626.6"/>
<circle class="s" cx="29.9" cy="602.1"/>
<circle class="s" cx="25.8" cy="611.9"/>
<circle class="s" cx="29.3" cy="610.7"/>
<circle class="s" cx="24.6" cy="599.0"/>
<circle class="s" cx="23.5" cy="601.4"/>
<circle class="s" cx="27.8" cy="617.3"/>
<circle class="s" cx="25.2" cy="596.7"/>
<circle class="s" cx="23.1" cy="584.2"/>
<circle class="s" cx="25.3" cy="647.2"/>
<circle class="s" cx="27.7" cy="642.7"/>
<circle class="s" cx="29.6" cy="605.5"/>
<circle class="s" cx="26.0" cy="631.0"/>
<circle class="s" cx="28.3" cy="606.5"/>
<circle class="s" cx="30.6" cy="639.2"/>
<circle class="s" cx="24.1" cy="587.5"/>
<circle class="s" cx="25.4" cy="587.3"/>
<circle class="s" cx="26.2" cy="621.4"/>
<circle class="s" cx="26.4" cy="593.9"/>
<circle class="s" cx="26.7" cy="631.6"/>
<circle class="s" cx="28.6" cy="607.6"/>
<circle class="s" cx="29.6" cy="588.1"/>
<circle class="s" cx="27.4" cy="647.0"/>
<circle class="s" cx="25.5" cy="611.1"/>
<circle class="s" cx="26.3" cy="649.4"/>
<circle class="s" cx="28.3" cy="642.1"/>
<circle class="s" cx="26.5" cy="611.9"/>
<circle class="s" cx="29.3" cy="635.0"/>
<circle class="s" cx="30.0" cy="613.8"/>
<circle class="s" cx="27.3" cy="638.4"/>
<circle class="s" cx="26.3" cy="605.8"/>
<circle class="s" cx="28.2" cy="607.8"/>
<circle class="s" cx="24.5" cy="599.8"/>
<circle class="s" cx="24.3" cy="636.3"/>
<circle class="s" cx="26.4" cy="589.6"/>
<circle class="s" cx="25.7" cy="631.9"/>
<circle class="s" cx="27.7" cy="605.8"/>
<circle class="s" cx="29.0" cy="592.5"/>
<circle class="s" cx="27.3" cy="625.1"/>
<circle class="s" cx="28.9" cy="602.4"/>
<circle class="s" cx="27.2" cy="638.5"/>
<circle class="s" cx="25.0" cy="589.3"/>
<circle class="s" cx="27.8" cy="594.4"/>
<circle class="s" cx="30.5" cy="617.0"/>
<circle class="s" cx="27.1" cy="640.7"/>
<circle class="s" cx="29.7" cy="594.0"/>
<circle class="s" cx="26.6" cy="593.4"/>
<circle class="s" cx="24.5" cy="593.6"/>
<circle class="s" cx="29.6" cy="595.4"/>
<circle class="s" cx="27.6" cy="608.1"/>
<circle class="s" cx="29.6" cy="638.5"/>
<circle class="s" cx="23.6" cy="646.2"/>
<circle class="s" cx="27.9" cy="604.2"/>
<circle class="s" cx="24.3" cy="590.9"/>
<circle class="s" cx="25.7" cy="596.6"/>
<circle class="s" cx="23.6" cy="612.8"/>
<circle class="s" cx="25.3" cy="587.8"/>
<circle class="s" cx="24.1" cy="651.5"/>
<circle class="s" cx="29.7" cy="632.9"/>
<circle class="s" cx="25.8" cy="612.7"/>
<circle class="s" cx="24.3" cy="602.3"/>
<circle class="s" cx="23.1" cy="622.8"/>
<circle class="s" cx="30.1" cy="623.4"/>
<circle class="s" cx="24.2" cy="631.9"/>
<circle class="s" cx="30.1" cy="629.8"/>
<circle class="s" cx="28.0" cy="629.9"/>
<circle class="s" cx="26.6" cy="633.7"/>
<circle class="s" cx="25.9" cy="614.1"/>
<circle class="s" cx="27.4" cy="652.0"/>
<circle class="s" cx="25.6" cy="639.8"/>
<circle class="s" cx="30.3" cy="616.8"/>
<circle class="s" cx="29.0" cy="616.2"/>
<circle class="s" cx="23.3" cy="600.8"/>
<circle class="s" cx="28.3" cy="651.7"/>
<circle class="s" cx="30.3" cy="603.6"/>
<circle class="s" cx="30.5" cy="603.4"/>
<circle class="s" cx="24.0" cy="629.6"/>
<circle class="s" cx="27.3" cy="615.0"/>
<circle class="s" cx="28.2" cy="637.6"/>
<circle class="s" cx="30.2" cy="595.9"/>
<circle class="s" cx="29.3" cy="552.0"/>
<circle class="s" cx="25.9" cy="573.6"/>
<circle class="s" cx="27.6" cy="553.3"/>
<circle class="s" cx="25.2" cy="568.0"/>
<circle class="s" cx="25.0" cy="550.4"/>
<circle class="s" cx="24.8" cy="553.7"/>
<circle class="s" cx="26.9" cy="583.8"/>
<circle class="s" cx="27.5" cy="579.9"/>
<circle class="s" cx="28.3" cy="555.9"/>
<circle class="s" cx="27.8" cy="556.8"/>
<circle class="s" cx="25.8" cy="549.7"/>
<circle class="s" cx="29.5" cy="568.5"/>
<circle class="s" cx="27.8" cy="579.5"/>
<circle class="s" cx="24.8" cy="560.8"/>
<circle class="s" cx="29.5" cy="577.4"/>
<circle class="s" cx="26.5" cy="569.1"/>
<circle class="s" cx="26.1" cy="579.4"/>
<circle class="s" cx="36.9" cy="626.8"/>
<circle class="s" cx="39.8" cy="652.8"/>
<circle class="s" cx="40.4" cy="633.1"/>
<circle class="s" cx="40.0" cy="634.0"/>
<circle class="s" cx="40.6" cy="623.1"/>
<circle class="s" cx="37.4" cy="588.7"/>
<circle class="s" cx="40.1" cy="607.6"/>
<circle class="s" cx="36.3" cy="624.8"/>
<circle class="s" cx="35.5" cy="600.3"/>
<circle class="s" cx="41.1" cy="638.5"/>
<circle class="s" cx="40.5" cy="627.5"/>
<circle class="s" cx="37.5" cy="645.5"/>
<circle class="s" cx="36.5" cy="609.8"/>
<circle class="s" cx="38.4" cy="598.3"/>
<circle class="s" cx="40.2" cy="631.4"/>
<circle class="s" cx="38.6" cy="601.5"/>
<circle class="s" cx="39.4" cy="633.5"/>
<circle class="s" cx="36.8" cy="590.0"/>
<circle class="s" cx="39.0" cy="639.3"/>
<circle class="s" cx="36.6" cy="609.1"/>
<circle class="s" cx="40.8" cy="575.0"/>
<circle class="s" cx="38.2" cy="626.9"/>
<circle class="s" cx="39.6" cy="650.8"/>
<circle class="s" cx="36.1" cy="651.4"/>
<circle class="s" cx="35.2" cy="594.3"/>
<circle class="s" cx="39.5" cy="623.7"/>
<circle class="s" cx="35.0" cy="608.8"/>
<circle class="s" cx="35.3" cy="586.6"/>
<circle class="s" cx="37.8" cy="633.7"/>
<circle class="s" cx="36.6" cy="641.6"/>
<circle class="s" cx="35.9" cy="612.7"/>
<circle class="s" cx="38.6" cy="592.2"/>
<circle class="s" cx="35.8" cy="643.7"/>
<circle class="s" cx="35.2" cy="635.9"/>
<circle class="s" cx="37.1" cy="637.2"/>
<circle class="s" cx="38.9" cy="620.3"/>
<circle class="s" cx="40.5" cy="596.4"/>
<circle class="s" cx="37.1" cy="602.5"/>
<circle class="s" cx="40.0" cy="645.9"/>
<circle class="s" cx="38.3" cy="642.5"/>
<circle class="s" cx="40.9" cy="599.3"/>
<circle class="s" cx="44.3" cy="561.9"/>
<circle class="s" cx="45.3" cy="571.1"/>
<circle class="s" cx="44.6" cy="581.0"/>
<circle class="s" cx="47.1" cy="586.9"/>
<circle class="s" cx="44.4" cy="582.8"/>
<circle class="s" cx="46.3" cy="587.3"/>
<circle class="s" cx="43.9" cy="579.4"/>
<circle class="s" cx="48.0" cy="585.6"/>
<circle class="s" cx="44.8" cy="583.8"/>
<circle class="s" cx="48.0" cy="572.3"/>
<circle class="s" cx="47.9" cy="585.2"/>
<circle class="s" cx="45.6" cy="586.8"/>
<circle class="s" cx="45.6" cy="615.5"/>
<circle class="s" cx="45.8" cy="623.9"/>
<circle class="s" cx="48.1" cy="618.8"/>
<circle class="s" cx="45.6" cy="615.7"/>
<circle class="s" cx="47.2" cy="617.3"/>
<circle class="s" cx="48.7" cy="619.3"/>
<circle class="s" cx="48.9" cy="613.1"/>
<circle class="s" cx="44.6" cy="613.1"/>
<circle class="s" cx="46.5" cy="623.0"/>
<circle class="s" cx="45.2" cy="618.5"/>
<circle class="s" cx="47.9" cy="617.7"/>
<circle class="s" cx="46.2" cy="611.5"/>
<circle class="s" cx="50.0" cy="602.4"/>
<circle class="s" cx="50.8" cy="604.3"/>
<circle class="s" cx="53.1" cy="640.1"/>
<circle class="s" cx="50.9" cy="648.5"/>
<circle class="s" cx="49.8" cy="640.0"/>
<circle class="s" cx="32.7" cy="634.6"/>
<circle class="s" cx="34.1" cy="628.7"/>
<circle class="s" cx="29.1" cy="651.0"/>
<circle class="s" cx="23.4" cy="628.1"/>
<circle class="s" cx="39.8" cy="626.0"/>
<circle class="s" cx="25.6" cy="628.6"/>
<circle class="s" cx="44.2" cy="623.1"/>
<circle class="s" cx="38.0" cy="623.0"/>
<circle class="s" cx="39.8" cy="650.2"/>
<circle class="s" cx="43.3" cy="627.8"/>
<circle class="s" cx="43.6" cy="652.7"/>
<circle class="s" cx="34.9" cy="645.5"/>
<circle class="s" cx="25.7" cy="643.8"/>
<circle class="s" cx="32.2" cy="645.5"/>
<circle class="s" cx="42.0" cy="647.8"/>
<circle class="s" cx="38.1" cy="643.9"/>
<circle class="s" cx="44.2" cy="653.2"/>
<circle class="s" cx="40.2" cy="626.2"/>
<circle class="s" cx="41.2" cy="627.5"/>
<circle class="s" cx="29.0" cy="647.6"/>
<circle class="s" cx="29.4" cy="648.3"/>
<circle class="s" cx="45.1" cy="643.6"/>
<circle class="s" cx="27.7" cy="638.9"/>
<circle class="s" cx="26.5" cy="651.8"/>
<circle class="s" cx="22.9" cy="623.0"/>
<circle class="s" cx="43.1" cy="651.8"/>
<circle class="s" cx="31.8" cy="631.9"/>
<circle class="s" cx="23.2" cy="623.5"/>
<circle class="s" cx="40.9" cy="625.1"/>
<circle class="s" cx="32.1" cy="640.6"/>
<circle class="s" cx="30.3" cy="630.9"/>
<circle class="s" cx="39.0" cy="651.7"/>
<circle class="s" cx="27.2" cy="627.1"/>
<circle class="s" cx="37.4" cy="648.1"/>
<circle class="s" cx="37.5" cy="638.2"/>
<circle class="s" cx="29.1" cy="636.1"/>
<circle class="s" cx="24.6" cy="635.7"/>
<circle class="s" cx="26.9" cy="635.3"/>
<circle class="s" cx="24.3" cy="634.2"/>
<circle class="s" cx="36.8" cy="649.4"/>
<circle class="s" cx="44.7" cy="640.3"/>
<circle class="s" cx="25.9" cy="640.1"/>
<circle class="s" cx="38.1" cy="629.3"/>
<circle class="s" cx="29.3" cy="635.3"/>
<circle class="s" cx="27.3" cy="633.0"/>
<circle class="s" cx="31.2" cy="637.3"/>
<circle class="s" cx="40.1" cy="637.4"/>
<circle class="s" cx="24.3" cy="632.8"/>
<circle class="s" cx="35.1" cy="644.2"/>
<circle class="s" cx="29.1" cy="634.1"/>
<circle class="s" cx="30.4" cy="644.4"/>
<circle class="s" cx="26.8" cy="630.1"/>
<circle class="s" cx="27.9" cy="640.5"/>
<circle class="s" cx="31.8" cy="630.2"/>
<circle class="s" cx="44.4" cy="632.7"/>
<circle class="s" cx="24.4" cy="629.4"/>
<circle class="s" cx="39.0" cy="652.8"/>
<circle class="s" cx="36.5" cy="639.3"/>
<circle class="s" cx="34.2" cy="639.7"/>
<circle class="s" cx="26.1" cy="634.1"/>
<circle class="s" cx="28.4" cy="635.8"/>
<circle class="s" cx="36.9" cy="631.7"/>
<circle class="s" cx="34.5" cy="637.3"/>
<circle class="s" cx="33.1" cy="620.7"/>
<circle class="s" cx="34.3" cy="604.9"/>
<circle class="s" cx="32.0" cy="635.4"/>
<circle class="s" cx="33.4" cy="648.2"/>
<circle class="s" cx="31.4" cy="645.2"/>
<circle class="s" cx="33.9" cy="639.3"/>
<circle class="s" cx="30.8" cy="604.7"/>
<circle class="s" cx="32.7" cy="643.9"/>
<circle class="s" cx="33.6" cy="647.3"/>
<circle class="s" cx="31.6" cy="621.3"/>
<circle class="s" cx="34.6" cy="616.1"/>
<circle class="s" cx="32.2" cy="602.7"/>
<circle class="s" cx="33.6" cy="645.9"/>
<circle class="s" cx="31.6" cy="646.9"/>
<circle class="s" cx="34.7" cy="646.4"/>
<circle class="s" cx="31.3" cy="647.5"/>
<circle class="s" cx="34.7" cy="603.4"/>
<circle class="s" cx="33.7" cy="611.1"/>
<circle class="s" cx="30.7" cy="652.6"/>
<circle class="s" cx="32.2" cy="631.4"/>
<circle class="s" cx="31.7" cy="646.5"/>
</g>
<g fill="#000084" fill-opacity="0.86" stroke-opacity="1.00">
<circle class="s" cx="51.3" cy="597.3"/>
<circle class="s" cx="51.5" cy="600.0"/>
<circle class="s" cx="52.1" cy="602.6"/>
<circle class="s" cx="52.6" cy="605.3"/>
<circle class="s" cx="45.1" cy="614.1"/>
<circle class="s" cx="57.9" cy="634.9"/>
<circle class="s" cx="52.6" cy="647.9"/>
<circle class="s" cx="74.7" cy="594.6"/>
<circle class="s" cx="75.2" cy="598.6"/>
<circle class="s" cx="75.5" cy="602.4"/>
<circle class="s" cx="86.4" cy="625.0"/>
<circle class="s" cx="80.8" cy="639.4"/>
<circle class="s" cx="90.9" cy="641.0"/>
<circle class="s" cx="72.6" cy="649.2"/>
<circle class="s" cx="75.0" cy="599.7"/>
<circle class="s" cx="88.8" cy="586.4"/>
<circle class="s" cx="89.9" cy="643.9"/>
<circle class="s" cx="72.0" cy="649.8"/>
<circle class="s" cx="52.1" cy="646.6"/>
<circle class="s" cx="26.1" cy="631.4"/>
<circle class="s" cx="24.2" cy="635.4"/>
<circle class="s" cx="28.1" cy="593.6"/>
<circle class="s" cx="27.2" cy="615.1"/>
<circle class="s" cx="26.2" cy="653.0"/>
<circle class="s" cx="23.8" cy="585.6"/>
<circle class="s" cx="30.3" cy="612.0"/>
<circle class="s" cx="24.6" cy="607.0"/>
<circle class="s" cx="24.7" cy="599.2"/>
<circle class="s" cx="27.5" cy="622.0"/>
<circle class="s" cx="30.4" cy="642.1"/>
<circle class="s" cx="23.3" cy="635.0"/>
<circle class="s" cx="28.6" cy="597.6"/>
<circle class="s" cx="28.0" cy="642.0"/>
<circle class="s" cx="30.4" cy="651.7"/>
<circle class="s" cx="30.7" cy="638.8"/>
<circle class="s" cx="25.4" cy="596.3"/>
<circle class="s" cx="27.8" cy="621.9"/>
<circle class="s" cx="24.5" cy="647.8"/>
<circle class="s" cx="27.7" cy="632.2"/>
<circle class="s" cx="30.0" cy="629.0"/>
<circle class="s" cx="30.7" cy="597.8"/>
<circle class="s" cx="26.5" cy="639.5"/>
<circle class="s" cx="26.5" cy="638.7"/>
<circle class="s" cx="25.6" cy="633.5"/>
<circle class="s" cx="26.9" cy="638.7"/>
<circle class="s" cx="25.2" cy="609.9"/>
<circle class="s" cx="27.7" cy="628.1"/>
<circle class="s" cx="23.3" cy="591.9"/>
<circle class="s" cx="28.9" cy="601.8"/>
<circle class="s" cx="28.9" cy="652.2"/>
<circle class="s" cx="24.4" cy="587.3"/>
<circle class="s" cx="24.0" cy="644.0"/>
<circle class="s" cx="23.4" cy="626.6"/>
<circle class="s" cx="29.3" cy="604.8"/>
<circle class="s" cx="28.4" cy="620.4"/>
<circle class="s" cx="29.6" cy="611.9"/>
<circle class="s" cx="27.1" cy="633.7"/>
<circle class="s" cx="26.6" cy="593.4"/>
<circle class="s" cx="28.8" cy="649.3"/>
<circle class="s" cx="24.3" cy="643.1"/>
<circle class="s" cx="24.1" cy="610.5"/>
<circle class="s" cx="25.4" cy="613.6"/>
<circle class="s" cx="28.5" cy="621.6"/>
<circle class="s" cx="24.9" cy="638.0"/>
<circle class="s" cx="28.7" cy="641.3"/>
<circle class="s" cx="24.6" cy="640.4"/>
<circle class="s" cx="25.7" cy="632.4"/>
<circle class="s" cx="25.9" cy="637.5"/>
<circle class="s" cx="26.9" cy="648.8"/>
<circle class="s" cx="23.3" cy="617.5"/>
<circle class="s" cx="25.3" cy="616.9"/>
<circle class="s" cx="26.0" cy="636.5"/>
<circle class="s" cx="27.5" cy="612.0"/>
<circle class="s" cx="29.0" cy="600.3"/>
<circle class="s" cx="27.2" cy="606.3"/>
<circle class="s" cx="23.8" cy="623.8"/>
<circle class="s" cx="24.5" cy="610.0"/>
<circle class="s" cx="27.2" cy="649.2"/>
<circle class="s" cx="28.2" cy="620.1"/>
<circle class="s" cx="27.3" cy="599.5"/>
<circle class="s" cx="26.2" cy="641.1"/>
<circle class="s" cx="24.9" cy="632.9"/>
<circle class="s" cx="23.4" cy="650.1"/>
<circle class="s" cx="23.5" cy="601.3"/>
<circle class="s" cx="26.8" cy="653.2"/>
<circle class="s" cx="23.2" cy="639.7"/>
<circle class="s" cx="26.4" cy="617.3"/>
<circle class="s" cx="30.0" cy="641.3"/>
<circle class="s" cx="24.3" cy="590.4"/>
<circle class="s" cx="23.3" cy="634.6"/>
<circle class="s" cx="30.0" cy="635.2"/>
<circle class="s" cx="26.5" cy="593.6"/>
<circle class="s" cx="27.5" cy="644.4"/>
<circle class="s" cx="29.7" cy="592.8"/>
<circle class="s" cx="26.0" cy="600.0"/>
<circle class="s" cx="25.7" cy="650.5"/>
<circle class="s" cx="25.1" cy="614.6"/>
<circle class="s" cx="25.0" cy="646.8"/>
<circle class="s" cx="23.9" cy="638.5"/>
<circle class="s" cx="25.1" cy="638.0"/>
<circle class="s" cx="23.8" cy="639.4"/>
<circle class="s" cx="27.2" cy="617.8"/>
<circle class="s" cx="26.7" cy="588.4"/>
<circle class="s" cx="29.5" cy="622.1"/>
<circle class="s" cx="28.5" cy="626.4"/>
<circle class="s" cx="29.6" cy="645.3"/>
<circle class="s" cx="27.6" cy="621.7"/>
<circle class="s" cx="29.6" cy="651.6"/>
<circle class="s" cx="26.5" cy="596.6"/>
<circle class="s" cx="29.8" cy="608.7"/>
<circle class="s" cx="26.0" cy="646.2"/>
<circle class="s" cx="29.4" cy="607.4"/>
<circle class="s" cx="26.9" cy="630.0"/>
<circle class="s" cx="28.5" cy="635.2"/>
<circle class="s" cx="29.3" cy="642.8"/>
<circle class="s" cx="25.3" cy="640.9"/>
<circle class="s" cx="23.5" cy="612.1"/>
<circle class="s" cx="27.0" cy="595.3"/>
<circle class="s" cx="23.3" cy="589.3"/>
<circle class="s" cx="29.9" cy="606.7"/>
<circle class="s" cx="25.0" cy="644.3"/>
<circle class="s" cx="27.7" cy="648.0"/>
<circle class="s" cx="28.6" cy="645.2"/>
<circle class="s" cx="28.0" cy="591.4"/>
<circle class="s" cx="26.8" cy="607.9"/>
<circle class="s" cx="24.3" cy="616.5"/>
<circle class="s" cx="25.8" cy="600.3"/>
<circle class="s" cx="30.4" cy="651.1"/>
<circle class="s" cx="23.4" cy="616.2"/>
<circle class="s" cx="23.7" cy="625.2"/>
<circle class="s" cx="27.6" cy="631.2"/>
<circle class="s" cx="27.3" cy="637.2"/>
<circle class="s" cx="26.5" cy="595.1"/>
<circle class="s" cx="27.7" cy="611.2"/>
<circle class="s" cx="28.3" cy="650.3"/>
<circle class="s" cx="27.7" cy="603.1"/>
<circle class="s" cx="23.3" cy="649.1"/>
<circle class="s" cx="28.4" cy="627.4"/>
<circle class="s" cx="23.8" cy="646.4"/>
<circle class="s" cx="26.1" cy="616.3"/>
<circle class="s" cx="30.4" cy="616.5"/>
<circle class="s" cx="25.6" cy="649.8"/>
<circle class="s" cx="27.8" cy="561.3"/>
<circle class="s" cx="25.9" cy="550.2"/>
<circle class="s" cx="28.2" cy="565.4"/>
<circle class="s" cx="26.2" cy="563.7"/>
<circle class="s" cx="28.7" cy="561.6"/>
<circle class="s" cx="25.3" cy="561.4"/>
<circle class="s" cx="29.0" cy="558.2"/>
<circle class="s" cx="25.2" cy="575.7"/>
<circle class="s" cx="29.0" cy="584.0"/>
<circle class="s" cx="25.8" cy="564.8"/>
<circle class="s" cx="27.4" cy="577.8"/>
<circle class="s" cx="29.0" cy="573.1"/>
<circle class="s" cx="29.0" cy="584.0"/>
<circle class="s" cx="28.3" cy="562.0"/>
<circle class="s" cx="27.7" cy="550.7"/>
<circle class="s" cx="25.9" cy="560.2"/>
<circle class="s" cx="28.8" cy="571.8"/>
<circle class="s" cx="27.8" cy="562.1"/>
<circle class="s" cx="26.5" cy="561.7"/>
<circle class="s" cx="25.9" cy="565.9"/>
<circle class="s" cx="25.6" cy="580.9"/>
<circle class="s" cx="24.7" cy="579.8"/>
<circle class="s" cx="28.2" cy="562.2"/>
<circle class="s" cx="36.9" cy="647.3"/>
<circle class="s" cx="35.5" cy="628.9"/>
<circle class="s" cx="39.3" cy="625.6"/>
<circle class="s" cx="39.4" cy="636.9"/>
<circle class="s" cx="40.2" cy="609.6"/>
<circle class="s" cx="37.1" cy="623.4"/>
<circle class="s" cx="39.4" cy="645.9"/>
<circle class="s" cx="36.5" cy="621.4"/>
<circle class="s" cx="40.8" cy="600.1"/>
<circle class="s" cx="38.8" cy="608.5"/>
<circle class="s" cx="37.7" cy="630.1"/>
<circle class="s" cx="38.4" cy="643.5"/>
<circle class="s" cx="36.8" cy="591.7"/>
<circle class="s" cx="39.4" cy="591.1"/>
<circle class="s" cx="35.5" cy="653.0"/>
<circle class="s" cx="38.5" cy="652.5"/>
<circle class="s" cx="39.3" cy="640.1"/>
<circle class="s" cx="37.9" cy="618.4"/>
<circle class="s" cx="35.6" cy="614.3"/>
<circle class="s" cx="38.4" cy="647.8"/>
<circle class="s" cx="36.0" cy="624.1"/>
<circle class="s" cx="40.9" cy="650.7"/>
<circle class="s" cx="36.1" cy="649.1"/>
<circle class="s" cx="37.0" cy="586.7"/>
<circle class="s" cx="39.4" cy="646.3"/>
<circle class="s" cx="38.1" cy="633.1"/>
<circle class="s" cx="39.4" cy="622.2"/>
<circle class="s" cx="36.2" cy="631.6"/>
<circle class="s" cx="36.7" cy="626.2"/>
<circle class="s" cx="38.9" cy="601.9"/>
<circle class="s" cx="39.7" cy="646.5"/>
<circle class="s" cx="36.2" cy="636.3"/>
<circle class="s" cx="39.2" cy="593.5"/>
<circle class="s" cx="38.1" cy="621.8"/>
<circle class="s" cx="38.0" cy="641.3"/>
<circle class="s" cx="35.1" cy="638.2"/>
<circle class="s" cx="36.1" cy="641.5"/>
<circle class="s" cx="35.2" cy="646.3"/>
<circle class="s" cx="38.0" cy="612.3"/>
<circle class="s" cx="37.9" cy="642.5"/>
<circle class="s" cx="39.0" cy="635.5"/>
<circle class="s" cx="35.1" cy="633.7"/>
<circle class="s" cx="39.6" cy="570.9"/>
<circle class="s" cx="35.8" cy="619.8"/>
<circle class="s" cx="39.4" cy="589.6"/>
<circle class="s" cx="40.5" cy="629.3"/>
<circle class="s" cx="36.5" cy="635.6"/>
<circle class="s" cx="38.2" cy="605.3"/>
<circle class="s" cx="35.3" cy="593.8"/>
<circle class="s" cx="37.1" cy="639.9"/>
<circle class="s" cx="37.1" cy="616.6"/>
<circle class="s" cx="37.3" cy="620.5"/>
<circle class="s" cx="35.8" cy="641.2"/>
<circle class="s" cx="38.7" cy="619.1"/>
<circle class="s" cx="35.0" cy="615.6"/>
<circle class="s" cx="36.6" cy="618.8"/>
<circle class="s" cx="38.8" cy="645.3"/>
<circle class="s" cx="38.1" cy="624.2"/>
<circle class="s" cx="40.7" cy="577.1"/>
<circle class="s" cx="36.8" cy="577.3"/>
<circle class="s" cx="36.7" cy="641.1"/>
<circle class="s" cx="40.9" cy="576.9"/>
<circle class="s" cx="37.4" cy="636.1"/>
<circle class="s" cx="38.5" cy="631.0"/>
<circle class="s" cx="35.3" cy="600.8"/>
<circle class="s" cx="38.1" cy="641.4"/>
<circle class="s" cx="41.0" cy="642.5"/>
<circle class="s" cx="37.7" cy="629.7"/>
<circle class="s" cx="39.8" cy="578.6"/>
<circle class="s" cx="35.2" cy="637.8"/>
<circle class="s" cx="36.4" cy="615.0"/>
<circle class="s" cx="39.6" cy="629.7"/>
<circle class="s" cx="35.8" cy="601.5"/>
<circle class="s" cx="36.1" cy="604.9"/>
<circle class="s" cx="36.5" cy="638.3"/>
<circle class="s" cx="38.1" cy="611.9"/>
<circle class="s" cx="40.2" cy="617.4"/>
<circle class="s" cx="38.7" cy="627.4"/>
<circle class="s" cx="38.6" cy="650.9"/>
<circle class="s" cx="45.4" cy="576.2"/>
<circle class="s" cx="48.0" cy="579.1"/>
<circle class="s" cx="46.7" cy="569.3"/>
<circle class="s" cx="46.7" cy="576.6"/>
<circle class="s" cx="47.6" cy="576.7"/>
<circle class="s" cx="46.1" cy="574.5"/>
<circle class="s" cx="46.7" cy="587.8"/>
<circle class="s" cx="47.4" cy="576.9"/>
<circle class="s" cx="45.3" cy="618.7"/>
<circle class="s" cx="43.4" cy="619.2"/>
<circle class="s" cx="45.9" cy="624.5"/>
<circle class="s" cx="49.1" cy="620.6"/>
<circle class="s" cx="47.4" cy="614.3"/>
<circle class="s" cx="43.6" cy="615.4"/>
<circle class="s" cx="46.0" cy="624.3"/>
<circle class="s" cx="45.4" cy="615.4"/>
<circle class="s" cx="46.1" cy="623.8"/>
<circle class="s" cx="46.3" cy="624.2"/>
<circle class="s" cx="47.0" cy="620.7"/>
<circle class="s" cx="48.2" cy="612.6"/>
<circle class="s" cx="44.6" cy="612.5"/>
<circle class="s" cx="50.0" cy="605.2"/>
<circle class="s" cx="52.3" cy="595.7"/>
<circle class="s" cx="50.4" cy="598.9"/>
<circle class="s" cx="50.7" cy="644.2"/>
<circle class="s" cx="51.8" cy="651.2"/>
<circle class="s" cx="51.4" cy="649.0"/>
<circle class="s" cx="53.1" cy="640.4"/>
<circle class="s" cx="50.1" cy="650.4"/>
<circle class="s" cx="52.6" cy="649.2"/>
<circle class="s" cx="33.2" cy="625.7"/>
<circle class="s" cx="36.5" cy="632.0"/>
<circle class="s" cx="40.3" cy="627.6"/>
<circle class="s" cx="34.0" cy="635.2"/>
<circle class="s" cx="27.9" cy="632.7"/>
<circle class="s" cx="27.0" cy="631.9"/>
<circle class="s" cx="37.6" cy="649.6"/>
<circle class="s" cx="34.2" cy="627.2"/>
<circle class="s" cx="41.7" cy="623.0"/>
<circle class="s" cx="35.8" cy="633.1"/>
<circle class="s" cx="41.6" cy="624.9"/>
<circle class="s" cx="38.4" cy="627.6"/>
<circle class="s" cx="33.5" cy="650.5"/>
<circle class="s" cx="37.7" cy="632.1"/>
<circle class="s" cx="27.7" cy="626.7"/>
<circle class="s" cx="25.2" cy="639.8"/>
<circle class="s" cx="37.1" cy="636.0"/>
<circle class="s" cx="36.6" cy="644.0"/>
<circle class="s" cx="38.1" cy="643.8"/>
<circle class="s" cx="38.0" cy="637.4"/>
<circle class="s" cx="26.9" cy="632.8"/>
<circle class="s" cx="30.1" cy="643.7"/>
<circle class="s" cx="33.4" cy="650.9"/>
<circle class="s" cx="25.9" cy="627.0"/>
<circle class="s" cx="28.2" cy="635.5"/>
<circle class="s" cx="39.9" cy="625.1"/>
<circle class="s" cx="33.9" cy="635.6"/>
<circle class="s" cx="42.7" cy="648.6"/>
<circle class="s" cx="35.4" cy="631.3"/>
<circle class="s" cx="39.5" cy="626.2"/>
<circle class="s" cx="30.3" cy="627.1"/>
<circle class="s" cx="40.4" cy="647.2"/>
<circle class="s" cx="32.6" cy="637.6"/>
<circle class="s" cx="38.9" cy="643.7"/>
<circle class="s" cx="39.2" cy="646.8"/>
<circle class="s" cx="24.5" cy="626.1"/>
<circle class="s" cx="24.2" cy="644.2"/>
<circle class="s" cx="33.6" cy="624.9"/>
<circle class="s" cx="34.0" cy="651.4"/>
<circle class="s" cx="40.1" cy="645.0"/>
<circle class="s" cx="37.1" cy="628.6"/>
<circle class="s" cx="35.0" cy="636.2"/>
<circle class="s" cx="43.9" cy="623.3"/>
<circle class="s" cx="24.3" cy="632.3"/>
<circle class="s" cx="37.1" cy="645.7"/>
<circle class="s" cx="26.6" cy="633.2"/>
<circle class="s" cx="24.9" cy="653.2"/>
<circle class="s" cx="24.0" cy="626.0"/>
<circle class="s" cx="37.5" cy="652.6"/>
<circle class="s" cx="31.8" cy="632.2"/>
<circle class="s" cx="31.7" cy="622.7"/>
<circle class="s" cx="25.9" cy="652.5"/>
<circle class="s" cx="32.3" cy="639.0"/>
<circle class="s" cx="31.0" cy="636.8"/>
<circle class="s" cx="40.6" cy="643.4"/>
<circle class="s" cx="26.2" cy="630.7"/>
<circle class="s" cx="34.8" cy="624.0"/>
<circle class="s" cx="43.1" cy="652.5"/>
<circle class="s" cx="36.2" cy="645.2"/>
<circle class="s" cx="35.9" cy="641.7"/>
<circle class="s" cx="36.1" cy="628.2"/>
<circle class="s" cx="26.9" cy="637.7"/>
<circle class="s" cx="41.4" cy="628.5"/>
<circle class="s" cx="37.3" cy="651.7"/>
<circle class="s" cx="41.9" cy="645.8"/>
<circle class="s" cx="42.9" cy="637.6"/>
<circle class="s" cx="24.3" cy="652.0"/>
<circle class="s" cx="24.0" cy="641.7"/>
<circle class="s" cx="26.2" cy="628.8"/>
<circle class="s" cx="35.3" cy="630.9"/>
<circle class="s" cx="31.3" cy="650.0"/>
<circle class="s" cx="38.9" cy="636.7"/>
<circle class="s" cx="39.6" cy="645.9"/>
<circle class="s" cx="29.1" cy="634.7"/>
<circle class="s" cx="41.3" cy="636.4"/>
<circle class="s" cx="23.7" cy="645.2"/>
<circle class="s" cx="43.4" cy="650.3"/>
<circle class="s" cx="35.4" cy="623.1"/>
<circle class="s" cx="43.2" cy="624.1"/>
<circle class="s" cx="34.5" cy="623.7"/>
<circle class="s" cx="24.2" cy="648.9"/>
<circle class="s" cx="38.1" cy="641.5"/>
<circle class="s" cx="29.5" cy="647.3"/>
<circle class="s" cx="42.0" cy="625.5"/>
<circle class="s" cx="35.9" cy="632.7"/>
<circle class="s" cx="42.2" cy="635.0"/>
<circle class="s" cx="33.9" cy="645.5"/>
<circle class="s" cx="39.2" cy="642.8"/>
<circle class="s" cx="27.9" cy="636.5"/>
<circle class="s" cx="33.2" cy="649.9"/>
<circle class="s" cx="42.3" cy="630.7"/>
<circle class="s" cx="38.2" cy="649.2"/>
<circle class="s" cx="32.9" cy="647.3"/>
<circle class="s" cx="33.1" cy="640.6"/>
<circle class="s" cx="23.6" cy="644.6"/>
<circle class="s" cx="26.8" cy="625.9"/>
<circle class="s" cx="43.0" cy="648.0"/>
<circle class="s" cx="40.8" cy="635.6"/>
<circle class="s" cx="25.5" cy="636.2"/>
<circle class="s" cx="43.0" cy="651.5"/>
<circle class="s" cx="26.2" cy="640.9"/>
<circle class="s" cx="42.2" cy="652.7"/>
<circle class="s" cx="34.9" cy="645.7"/>
<circle class="s" cx="25.3" cy="631.8"/>
<circle class="s" cx="39.2" cy="649.6"/>
<circle class="s" cx="25.7" cy="649.0"/>
<circle class="s" cx="41.8" cy="625.3"/>
<circle class="s" cx="41.3" cy="634.3"/>
<circle class="s" cx="31.8" cy="625.0"/>
<circle class="s" cx="34.5" cy="649.3"/>
<circle class="s" cx="32.8" cy="627.7"/>
<circle class="s" cx="33.6" cy="647.6"/>
<circle class="s" cx="34.0" cy="605.2"/>
<circle class="s" cx="32.1" cy="629.3"/>
<circle class="s" cx="34.4" cy="640.4"/>
<circle class="s" cx="34.1" cy="650.5"/>
<circle class="s" cx="31.5" cy="611.0"/>
<circle class="s" cx="31.4" cy="644.2"/>
<circle class="s" cx="34.7" cy="633.9"/>
<circle class="s" cx="32.8" cy="630.3"/>
<circle class="s" cx="31.6" cy="602.9"/>
<circle class="s" cx="31.8" cy="628.3"/>
<circle class="s" cx="33.8" cy="648.9"/>
<circle class="s" cx="30.8" cy="603.7"/>
<circle class="s" cx="34.2" cy="647.0"/>
<circle class="s" cx="34.5" cy="636.1"/>
</g>
<g fill="#87ceeb" fill-opacity="0.78" stroke-opacity="1.00">
<circle class="s" cx="48.3" cy="627.1"/>
<circle class="s" cx="60.1" cy="626.3"/>
</g>
<g fill="#000084" fill-opacity="0.62" stroke-opacity="0.87">
<circle class="s" cx="147.6" cy="509.4"/>
<circle class="s" cx="147.0" cy="514.7"/>
<circle class="s" cx="159.8" cy="512.8"/>
<circle class="s" cx="159.0" cy="518.2"/>
<circle class="s" cx="159.8" cy="520.6"/>
<circle class="s" cx="155.0" cy="529.6"/>
<circle class="s" cx="109.0" cy="519.5"/>
<circle class="s" cx="108.4" cy="522.4"/>
<circle class="s" cx="108.4" cy="525.1"/>
<circle class="s" cx="108.4" cy="529.3"/>
<circle class="s" cx="113.0" cy="549.6"/>
<circle class="s" cx="113.8" cy="552.8"/>
<circle class="s" cx="149.2" cy="555.7"/>
<circle class="s" cx="105.2" cy="560.2"/>
<circle class="s" cx="130.3" cy="565.8"/>
<circle class="s" cx="104.7" cy="569.0"/>
<circle class="s" cx="104.4" cy="574.6"/>
<circle class="s" cx="99.9" cy="576.7"/>
<circle class="s" cx="104.7" cy="579.7"/>
<circle class="s" cx="117.0" cy="576.7"/>
<circle class="s" cx="145.4" cy="576.2"/>
<circle class="s" cx="153.2" cy="577.3"/>
<circle class="s" cx="103.6" cy="583.9"/>
<circle class="s" cx="147.3" cy="512.0"/>
<circle class="s" cx="108.7" cy="521.0"/>
<circle class="s" cx="104.2" cy="586.1"/>
<circle class="s" cx="124.1" cy="589.9"/>
<circle class="s" cx="152.9" cy="606.1"/>
<circle class="s" cx="157.2" cy="607.4"/>
<circle class="s" cx="115.9" cy="612.0"/>
<circle class="s" cx="124.9" cy="618.3"/>
<circle class="s" cx="113.5" cy="629.3"/>
<circle class="s" cx="112.2" cy="630.3"/>
<circle class="s" cx="111.4" cy="631.4"/>
<circle class="s" cx="110.3" cy="632.7"/>
<circle class="s" cx="117.8" cy="630.9"/>
<circle class="s" cx="103.9" cy="585.5"/>
<circle class="s" cx="100.3" cy="591.4"/>
<circle class="s" cx="123.5" cy="610.4"/>
<circle class="s" cx="124.7" cy="637.8"/>
</g>
<g fill="#000084" fill-opacity="0.86" stroke-opacity="1.00">
<circle class="s" cx="159.6" cy="511.5"/>
<circle class="s" cx="156.6" cy="582.3"/>
<circle class="s" cx="113.4" cy="551.2"/>
<circle class="s" cx="99.4" cy="577.8"/>
<circle class="s" cx="101.2" cy="590.9"/>
<circle class="s" cx="122.8" cy="609.8"/>
<circle class="s" cx="124.1" cy="610.9"/>
<circle class="s" cx="123.6" cy="625.3"/>
<circle class="s" cx="120.9" cy="627.7"/>
<circle class="s" cx="124.9" cy="637.5"/>
<circle class="s" cx="124.4" cy="638.0"/>
<circle class="s" cx="112.7" cy="629.8"/>
<circle class="s" cx="122.3" cy="626.5"/>
</g>
<path d="M61.9 357.4L65.1 360.6L61.9 363.8L58.7 360.6Z" fill="#a020f0" stroke="#1a0030" stroke-width="0.55"/>
<path d="M17.5 345.9V666.4H166.2" fill="none" stroke="#3c3c3c" stroke-width="0.9"/>
<path d="M23.4 666.4v2.4" stroke="#333" stroke-width="0.8"/>
<text x="23.4" y="675.6" text-anchor="middle" class="t" font-size="6.4" fill="#4d4d4d">0</text>
<path d="M67.5 666.4v2.4" stroke="#333" stroke-width="0.8"/>
<text x="67.5" y="675.6" text-anchor="middle" class="t" font-size="6.4" fill="#4d4d4d">100</text>
<path d="M111.8 666.4v2.4" stroke="#333" stroke-width="0.8"/>
<text x="111.8" y="675.6" text-anchor="middle" class="t" font-size="6.4" fill="#4d4d4d">200</text>
<path d="M156.2 666.4v2.4" stroke="#333" stroke-width="0.8"/>
<text x="156.2" y="675.6" text-anchor="middle" class="t" font-size="6.4" fill="#4d4d4d">300</text>
<path d="M17.5 652.2h-2.4" stroke="#333" stroke-width="0.8"/>
<text x="13.9" y="654.8" text-anchor="end" class="t" font-size="6.4" fill="#4d4d4d">0</text>
<path d="M17.5 547.6h-2.4" stroke="#333" stroke-width="0.8"/>
<text x="13.9" y="550.2" text-anchor="end" class="t" font-size="6.4" fill="#4d4d4d">2</text>
<path d="M17.5 443.1h-2.4" stroke="#333" stroke-width="0.8"/>
<text x="13.9" y="445.7" text-anchor="end" class="t" font-size="6.4" fill="#4d4d4d">4</text>
<text x="93.0" y="685.5" text-anchor="middle" font-size="7.6" fill="#000">SLC22A4_ eQTL -log<tspan font-size="5.32" dy="1.7">10</tspan><tspan dy="-1.7">(P)</tspan></text>
<text x="6.2" y="541.0" text-anchor="middle" font-size="7.6" fill="#000" transform="rotate(-90 6.2 541.0)">SAH_GWAS-log<tspan font-size="5.32" dy="1.7">10</tspan><tspan dy="-1.7">(P)</tspan></text>
<circle cx="58.8" cy="402.3" fill="#e00000" style="stroke:#000;stroke-width:1px;r:1.6px"/>
<circle cx="46.8" cy="488.3" fill="#e00000" style="stroke:#000;stroke-width:1px;r:1.6px"/>
<g style="stroke-width:0">
<rect x="135.0" y="533.3" width="8.8" height="17.30" fill="#ff0000" stroke="#111" style="stroke-width:0.72px"/>
<rect x="135.0" y="550.6" width="8.8" height="17.30" fill="#ffa500" stroke="#111" style="stroke-width:0.72px"/>
<rect x="135.0" y="567.9" width="8.8" height="17.30" fill="#006400" stroke="#111" style="stroke-width:0.72px"/>
<rect x="135.0" y="585.2" width="8.8" height="17.30" fill="#87ceeb" stroke="#111" style="stroke-width:0.72px"/>
<rect x="135.0" y="602.5" width="8.8" height="17.30" fill="#000080" stroke="#111" style="stroke-width:0.72px"/>
<rect x="135.0" y="533.3" width="8.8" height="86.5" fill="none" stroke="#111" style="stroke-width:0.9px"/>
<text x="146.4" y="552.9" font-size="6.6" fill="#222">0.8</text>
<text x="146.4" y="570.2" font-size="6.6" fill="#222">0.6</text>
<text x="146.4" y="587.5" font-size="6.6" fill="#222">0.4</text>
<text x="146.4" y="604.8" font-size="6.6" fill="#222">0.2</text>
<text x="141.6" y="530.9" text-anchor="middle" font-size="7.4" fill="#222">r</text>
<text x="145.4" y="523.8" text-anchor="middle" font-size="5.6" fill="#333">2</text>
</g>
<text x="62.4" y="356.8" text-anchor="middle" font-size="7.4" fill="#000">rs59041913</text>
<text x="7.6" y="351.1" font-size="10.2" font-weight="bold" fill="#000" style="font-family:'Liberation Sans',sans-serif;stroke-width:0">c</text>
<g fill="#000084" fill-opacity="0.62" stroke-opacity="0.87">
<circle class="s" cx="236.3" cy="480.4"/>
<circle class="s" cx="250.6" cy="481.0"/>
<circle class="s" cx="265.4" cy="481.8"/>
<circle class="s" cx="269.5" cy="482.2"/>
<circle class="s" cx="274.3" cy="481.3"/>
<circle class="s" cx="217.5" cy="480.1"/>
<circle class="s" cx="259.0" cy="482.0"/>
<circle class="s" cx="209.6" cy="482.7"/>
<circle class="s" cx="215.0" cy="482.2"/>
<circle class="s" cx="261.8" cy="483.5"/>
<circle class="s" cx="209.1" cy="480.8"/>
<circle class="s" cx="216.8" cy="482.2"/>
<circle class="s" cx="242.7" cy="482.4"/>
<circle class="s" cx="249.5" cy="483.1"/>
<circle class="s" cx="207.9" cy="483.0"/>
<circle class="s" cx="277.3" cy="482.5"/>
<circle class="s" cx="215.2" cy="483.1"/>
<circle class="s" cx="255.2" cy="481.2"/>
<circle class="s" cx="265.5" cy="482.2"/>
<circle class="s" cx="231.7" cy="483.2"/>
<circle class="s" cx="217.5" cy="480.8"/>
<circle class="s" cx="223.6" cy="482.2"/>
<circle class="s" cx="253.6" cy="483.3"/>
<circle class="s" cx="257.6" cy="481.6"/>
<circle class="s" cx="258.6" cy="480.2"/>
<circle class="s" cx="210.6" cy="481.5"/>
<circle class="s" cx="276.8" cy="480.6"/>
<circle class="s" cx="253.4" cy="480.7"/>
<circle class="s" cx="224.5" cy="481.5"/>
<circle class="s" cx="254.0" cy="480.4"/>
<circle class="s" cx="282.7" cy="482.8"/>
<circle class="s" cx="206.9" cy="482.6"/>
<circle class="s" cx="220.9" cy="482.7"/>
<circle class="s" cx="219.0" cy="483.0"/>
<circle class="s" cx="223.1" cy="483.0"/>
<circle class="s" cx="247.3" cy="480.1"/>
<circle class="s" cx="227.1" cy="479.6"/>
<circle class="s" cx="248.4" cy="481.9"/>
<circle class="s" cx="241.1" cy="482.4"/>
<circle class="s" cx="213.5" cy="481.1"/>
<circle class="s" cx="270.6" cy="479.8"/>
<circle class="s" cx="276.4" cy="480.2"/>
<circle class="s" cx="279.6" cy="483.4"/>
<circle class="s" cx="233.4" cy="480.2"/>
<circle class="s" cx="279.3" cy="481.4"/>
<circle class="s" cx="225.5" cy="482.9"/>
<circle class="s" cx="230.0" cy="481.1"/>
<circle class="s" cx="224.0" cy="483.3"/>
<circle class="s" cx="242.0" cy="482.1"/>
<circle class="s" cx="219.0" cy="481.2"/>
<circle class="s" cx="212.0" cy="481.8"/>
<circle class="s" cx="256.3" cy="483.5"/>
<circle class="s" cx="272.1" cy="483.4"/>
<circle class="s" cx="251.8" cy="481.3"/>
<circle class="s" cx="281.3" cy="483.1"/>
<circle class="s" cx="276.4" cy="481.7"/>
<circle class="s" cx="236.6" cy="481.4"/>
<circle class="s" cx="281.0" cy="483.1"/>
<circle class="s" cx="261.7" cy="480.6"/>
<circle class="s" cx="219.9" cy="483.5"/>
<circle class="s" cx="284.0" cy="480.2"/>
<circle class="s" cx="233.8" cy="479.5"/>
<circle class="s" cx="229.6" cy="475.7"/>
<circle class="s" cx="239.3" cy="475.4"/>
<circle class="s" cx="209.6" cy="475.8"/>
<circle class="s" cx="221.4" cy="475.8"/>
<circle class="s" cx="246.4" cy="475.5"/>
<circle class="s" cx="213.7" cy="475.2"/>
<circle class="s" cx="242.6" cy="475.8"/>
<circle class="s" cx="240.8" cy="475.7"/>
<circle class="s" cx="215.6" cy="475.1"/>
<circle class="s" cx="210.5" cy="475.1"/>
<circle class="s" cx="227.8" cy="475.7"/>
<circle class="s" cx="228.3" cy="475.6"/>
<circle class="s" cx="234.5" cy="475.4"/>
<circle class="s" cx="227.3" cy="475.0"/>
<circle class="s" cx="210.0" cy="475.2"/>
<circle class="s" cx="214.0" cy="461.7"/>
<circle class="s" cx="208.8" cy="463.4"/>
<circle class="s" cx="210.7" cy="460.3"/>
<circle class="s" cx="207.8" cy="463.4"/>
<circle class="s" cx="206.4" cy="471.5"/>
<circle class="s" cx="208.1" cy="472.6"/>
<circle class="s" cx="207.5" cy="468.9"/>
<circle class="s" cx="207.6" cy="472.5"/>
<circle class="s" cx="204.9" cy="471.7"/>
<circle class="s" cx="230.4" cy="465.7"/>
<circle class="s" cx="217.5" cy="471.7"/>
<circle class="s" cx="222.9" cy="474.3"/>
<circle class="s" cx="227.2" cy="470.0"/>
<circle class="s" cx="239.2" cy="466.7"/>
<circle class="s" cx="244.6" cy="466.9"/>
<circle class="s" cx="239.0" cy="469.4"/>
<circle class="s" cx="246.8" cy="467.3"/>
<circle class="s" cx="239.8" cy="468.6"/>
<circle class="s" cx="240.0" cy="469.0"/>
<circle class="s" cx="246.5" cy="472.0"/>
<circle class="s" cx="239.6" cy="471.7"/>
<circle class="s" cx="245.5" cy="463.7"/>
<circle class="s" cx="240.8" cy="466.8"/>
<circle class="s" cx="248.6" cy="454.0"/>
<circle class="s" cx="253.7" cy="457.3"/>
<circle class="s" cx="252.2" cy="455.3"/>
<circle class="s" cx="258.0" cy="459.3"/>
<circle class="s" cx="253.4" cy="457.6"/>
<circle class="s" cx="258.8" cy="456.8"/>
<circle class="s" cx="253.8" cy="454.1"/>
<circle class="s" cx="249.3" cy="455.3"/>
<circle class="s" cx="256.7" cy="457.6"/>
<circle class="s" cx="255.5" cy="468.6"/>
<circle class="s" cx="265.7" cy="467.4"/>
<circle class="s" cx="260.8" cy="470.3"/>
<circle class="s" cx="255.7" cy="470.1"/>
<circle class="s" cx="262.5" cy="471.2"/>
<circle class="s" cx="257.4" cy="466.0"/>
<circle class="s" cx="264.9" cy="470.0"/>
<circle class="s" cx="255.3" cy="465.4"/>
<circle class="s" cx="260.0" cy="465.4"/>
<circle class="s" cx="255.1" cy="469.6"/>
<circle class="s" cx="262.2" cy="467.3"/>
<circle class="s" cx="262.1" cy="467.4"/>
<circle class="s" cx="263.8" cy="470.3"/>
<circle class="s" cx="257.1" cy="470.0"/>
<circle class="s" cx="262.7" cy="470.4"/>
<circle class="s" cx="260.3" cy="467.1"/>
<circle class="s" cx="258.6" cy="470.4"/>
<circle class="s" cx="263.2" cy="477.1"/>
<circle class="s" cx="269.6" cy="475.2"/>
<circle class="s" cx="268.2" cy="469.9"/>
<circle class="s" cx="259.4" cy="472.0"/>
<circle class="s" cx="269.0" cy="471.9"/>
<circle class="s" cx="260.8" cy="473.1"/>
<circle class="s" cx="260.3" cy="465.9"/>
<circle class="s" cx="260.5" cy="477.5"/>
<circle class="s" cx="272.0" cy="472.9"/>
<circle class="s" cx="268.6" cy="470.7"/>
<circle class="s" cx="260.9" cy="468.0"/>
<circle class="s" cx="267.0" cy="466.1"/>
<circle class="s" cx="264.5" cy="477.1"/>
<circle class="s" cx="270.0" cy="464.0"/>
<circle class="s" cx="271.8" cy="467.0"/>
<circle class="s" cx="271.7" cy="466.6"/>
<circle class="s" cx="270.9" cy="470.7"/>
<circle class="s" cx="268.8" cy="474.0"/>
<circle class="s" cx="265.3" cy="474.6"/>
<circle class="s" cx="266.0" cy="471.7"/>
<circle class="s" cx="284.6" cy="474.7"/>
<circle class="s" cx="273.2" cy="471.3"/>
<circle class="s" cx="268.6" cy="476.0"/>
<circle class="s" cx="280.8" cy="470.8"/>
<circle class="s" cx="286.5" cy="471.1"/>
<circle class="s" cx="266.2" cy="474.4"/>
<circle class="s" cx="271.5" cy="477.1"/>
<circle class="s" cx="272.4" cy="473.4"/>
<circle class="s" cx="283.4" cy="471.7"/>
<circle class="s" cx="270.3" cy="473.8"/>
<circle class="s" cx="282.6" cy="476.6"/>
<circle class="s" cx="285.2" cy="473.3"/>
<circle class="s" cx="271.7" cy="476.8"/>
<circle class="s" cx="255.8" cy="478.0"/>
<circle class="s" cx="252.0" cy="473.4"/>
<circle class="s" cx="249.9" cy="473.9"/>
<circle class="s" cx="281.9" cy="460.7"/>
<circle class="s" cx="289.4" cy="467.6"/>
<circle class="s" cx="281.1" cy="459.3"/>
<circle class="s" cx="280.6" cy="456.7"/>
<circle class="s" cx="284.2" cy="460.5"/>
<circle class="s" cx="289.8" cy="468.3"/>
<circle class="s" cx="285.6" cy="463.6"/>
<circle class="s" cx="286.2" cy="463.1"/>
<circle class="s" cx="277.1" cy="453.3"/>
<circle class="s" cx="283.3" cy="461.4"/>
<circle class="s" cx="278.6" cy="458.8"/>
<circle class="s" cx="280.3" cy="457.6"/>
<circle class="s" cx="304.1" cy="472.3"/>
<circle class="s" cx="301.9" cy="473.4"/>
<circle class="s" cx="301.1" cy="473.8"/>
<circle class="s" cx="305.8" cy="471.7"/>
<circle class="s" cx="311.3" cy="476.9"/>
<circle class="s" cx="313.8" cy="477.2"/>
<circle class="s" cx="311.5" cy="478.1"/>
<circle class="s" cx="316.7" cy="475.3"/>
<circle class="s" cx="319.7" cy="476.5"/>
<circle class="s" cx="309.4" cy="476.6"/>
<circle class="s" cx="318.3" cy="478.5"/>
<circle class="s" cx="308.0" cy="475.8"/>
<circle class="s" cx="308.5" cy="483.5"/>
<circle class="s" cx="303.0" cy="480.4"/>
<circle class="s" cx="301.6" cy="481.3"/>
<circle class="s" cx="307.9" cy="481.8"/>
<circle class="s" cx="294.5" cy="479.4"/>
<circle class="s" cx="309.4" cy="479.8"/>
<circle class="s" cx="302.9" cy="480.7"/>
<circle class="s" cx="325.8" cy="483.5"/>
<circle class="s" cx="309.9" cy="481.6"/>
<circle class="s" cx="309.0" cy="479.4"/>
<circle class="s" cx="324.7" cy="481.7"/>
<circle class="s" cx="301.6" cy="480.1"/>
<circle class="s" cx="323.5" cy="482.2"/>
<circle class="s" cx="311.7" cy="481.8"/>
<circle class="s" cx="301.6" cy="482.9"/>
<circle class="s" cx="304.6" cy="480.8"/>
<circle class="s" cx="299.3" cy="483.3"/>
<circle class="s" cx="311.3" cy="481.0"/>
<circle class="s" cx="314.2" cy="482.1"/>
<circle class="s" cx="317.5" cy="482.8"/>
<circle class="s" cx="324.3" cy="483.1"/>
<circle class="s" cx="318.5" cy="483.1"/>
<circle class="s" cx="314.7" cy="482.6"/>
<circle class="s" cx="303.9" cy="478.7"/>
<circle class="s" cx="305.4" cy="481.6"/>
<circle class="s" cx="308.5" cy="479.7"/>
<circle class="s" cx="314.2" cy="483.2"/>
<circle class="s" cx="247.2" cy="356.3"/>
<circle class="s" cx="251.0" cy="354.9"/>
<circle class="s" cx="253.8" cy="353.9"/>
<circle class="s" cx="263.3" cy="355.8"/>
<circle class="s" cx="246.7" cy="361.0"/>
<circle class="s" cx="277.0" cy="362.5"/>
<circle class="s" cx="262.8" cy="367.2"/>
<circle class="s" cx="261.9" cy="370.0"/>
<circle class="s" cx="251.0" cy="381.9"/>
<circle class="s" cx="265.2" cy="388.0"/>
<circle class="s" cx="269.9" cy="387.6"/>
<circle class="s" cx="272.8" cy="387.1"/>
<circle class="s" cx="274.7" cy="386.6"/>
<circle class="s" cx="274.2" cy="389.9"/>
<circle class="s" cx="270.9" cy="394.7"/>
<circle class="s" cx="273.7" cy="396.1"/>
<circle class="s" cx="252.0" cy="394.2"/>
<circle class="s" cx="248.2" cy="398.0"/>
<circle class="s" cx="246.7" cy="401.8"/>
<circle class="s" cx="247.2" cy="406.0"/>
<circle class="s" cx="247.7" cy="411.7"/>
<circle class="s" cx="250.5" cy="412.6"/>
<circle class="s" cx="259.1" cy="411.2"/>
<circle class="s" cx="259.5" cy="414.1"/>
<circle class="s" cx="263.3" cy="412.6"/>
<circle class="s" cx="256.7" cy="415.0"/>
<circle class="s" cx="252.0" cy="421.2"/>
<circle class="s" cx="259.5" cy="421.2"/>
<circle class="s" cx="258.6" cy="424.9"/>
<circle class="s" cx="274.2" cy="415.0"/>
<circle class="s" cx="274.2" cy="418.8"/>
<circle class="s" cx="274.2" cy="422.1"/>
<circle class="s" cx="273.7" cy="425.9"/>
<circle class="s" cx="274.7" cy="429.2"/>
<circle class="s" cx="258.1" cy="430.2"/>
<circle class="s" cx="255.3" cy="432.0"/>
<circle class="s" cx="257.2" cy="433.5"/>
<circle class="s" cx="247.7" cy="434.4"/>
<circle class="s" cx="248.2" cy="438.2"/>
<circle class="s" cx="253.4" cy="443.4"/>
<circle class="s" cx="276.6" cy="437.3"/>
<circle class="s" cx="276.6" cy="440.6"/>
<circle class="s" cx="215.0" cy="451.9"/>
<circle class="s" cx="246.7" cy="451.0"/>
<circle class="s" cx="244.9" cy="453.8"/>
<circle class="s" cx="290.3" cy="462.3"/>
<circle class="s" cx="281.8" cy="462.3"/>
<circle class="s" cx="286.5" cy="467.1"/>
<circle class="s" cx="212.2" cy="468.0"/>
<circle class="s" cx="247.7" cy="355.4"/>
<circle class="s" cx="250.8" cy="365.1"/>
<circle class="s" cx="274.9" cy="399.9"/>
<circle class="s" cx="248.6" cy="434.9"/>
</g>
<g fill="#000084" fill-opacity="0.86" stroke-opacity="1.00">
<circle class="s" cx="218.4" cy="483.2"/>
<circle class="s" cx="252.6" cy="482.3"/>
<circle class="s" cx="264.7" cy="480.2"/>
<circle class="s" cx="207.4" cy="483.0"/>
<circle class="s" cx="274.5" cy="480.3"/>
<circle class="s" cx="264.9" cy="482.5"/>
<circle class="s" cx="214.9" cy="483.2"/>
<circle class="s" cx="256.1" cy="481.9"/>
<circle class="s" cx="219.8" cy="483.1"/>
<circle class="s" cx="274.9" cy="480.7"/>
<circle class="s" cx="238.5" cy="482.2"/>
<circle class="s" cx="245.6" cy="481.1"/>
<circle class="s" cx="206.5" cy="480.0"/>
<circle class="s" cx="240.0" cy="482.5"/>
<circle class="s" cx="259.0" cy="480.8"/>
<circle class="s" cx="216.2" cy="479.7"/>
<circle class="s" cx="213.7" cy="482.2"/>
<circle class="s" cx="259.1" cy="482.5"/>
<circle class="s" cx="275.1" cy="483.4"/>
<circle class="s" cx="224.7" cy="481.3"/>
<circle class="s" cx="238.7" cy="481.3"/>
<circle class="s" cx="285.0" cy="480.6"/>
<circle class="s" cx="222.2" cy="482.3"/>
<circle class="s" cx="227.6" cy="483.1"/>
<circle class="s" cx="236.2" cy="483.1"/>
<circle class="s" cx="267.0" cy="482.5"/>
<circle class="s" cx="222.4" cy="480.1"/>
<circle class="s" cx="207.2" cy="480.2"/>
<circle class="s" cx="260.0" cy="479.7"/>
<circle class="s" cx="224.3" cy="481.8"/>
<circle class="s" cx="214.5" cy="483.5"/>
<circle class="s" cx="254.4" cy="482.4"/>
<circle class="s" cx="250.5" cy="481.5"/>
<circle class="s" cx="285.2" cy="483.1"/>
<circle class="s" cx="272.9" cy="479.6"/>
<circle class="s" cx="265.1" cy="482.7"/>
<circle class="s" cx="254.1" cy="480.9"/>
<circle class="s" cx="261.2" cy="483.2"/>
<circle class="s" cx="279.9" cy="480.7"/>
<circle class="s" cx="217.2" cy="482.9"/>
<circle class="s" cx="255.5" cy="482.8"/>
<circle class="s" cx="270.9" cy="482.3"/>
<circle class="s" cx="219.8" cy="481.4"/>
<circle class="s" cx="210.6" cy="481.5"/>
<circle class="s" cx="209.2" cy="482.8"/>
<circle class="s" cx="264.1" cy="482.4"/>
<circle class="s" cx="231.4" cy="481.0"/>
<circle class="s" cx="259.0" cy="481.6"/>
<circle class="s" cx="206.9" cy="482.8"/>
<circle class="s" cx="268.3" cy="482.4"/>
<circle class="s" cx="236.7" cy="480.2"/>
<circle class="s" cx="261.9" cy="481.5"/>
<circle class="s" cx="251.8" cy="482.4"/>
<circle class="s" cx="220.4" cy="480.2"/>
<circle class="s" cx="244.9" cy="482.5"/>
<circle class="s" cx="271.3" cy="482.9"/>
<circle class="s" cx="210.2" cy="482.9"/>
<circle class="s" cx="287.6" cy="482.2"/>
<circle class="s" cx="267.1" cy="481.0"/>
<circle class="s" cx="235.4" cy="480.9"/>
<circle class="s" cx="217.9" cy="479.8"/>
<circle class="s" cx="274.6" cy="480.8"/>
<circle class="s" cx="279.6" cy="480.7"/>
<circle class="s" cx="274.1" cy="480.3"/>
<circle class="s" cx="277.6" cy="482.3"/>
<circle class="s" cx="279.1" cy="483.2"/>
<circle class="s" cx="284.7" cy="480.6"/>
<circle class="s" cx="275.2" cy="482.6"/>
<circle class="s" cx="248.7" cy="483.1"/>
<circle class="s" cx="244.8" cy="480.5"/>
<circle class="s" cx="261.6" cy="481.6"/>
<circle class="s" cx="227.3" cy="482.3"/>
<circle class="s" cx="279.7" cy="480.5"/>
<circle class="s" cx="272.1" cy="482.5"/>
<circle class="s" cx="248.0" cy="480.3"/>
<circle class="s" cx="259.8" cy="480.6"/>
<circle class="s" cx="227.1" cy="479.8"/>
<circle class="s" cx="274.8" cy="483.5"/>
<circle class="s" cx="249.9" cy="482.5"/>
<circle class="s" cx="205.7" cy="482.1"/>
<circle class="s" cx="239.1" cy="483.3"/>
<circle class="s" cx="207.8" cy="480.3"/>
<circle class="s" cx="229.2" cy="481.0"/>
<circle class="s" cx="284.6" cy="483.0"/>
<circle class="s" cx="265.1" cy="482.1"/>
<circle class="s" cx="242.6" cy="479.8"/>
<circle class="s" cx="278.8" cy="483.1"/>
<circle class="s" cx="271.5" cy="482.3"/>
<circle class="s" cx="285.3" cy="482.6"/>
<circle class="s" cx="206.0" cy="483.3"/>
<circle class="s" cx="240.4" cy="480.6"/>
<circle class="s" cx="207.5" cy="482.0"/>
<circle class="s" cx="255.9" cy="479.8"/>
<circle class="s" cx="235.4" cy="483.4"/>
<circle class="s" cx="247.8" cy="481.6"/>
<circle class="s" cx="227.0" cy="480.6"/>
<circle class="s" cx="245.5" cy="479.8"/>
<circle class="s" cx="248.1" cy="480.1"/>
<circle class="s" cx="273.5" cy="479.8"/>
<circle class="s" cx="271.2" cy="480.6"/>
<circle class="s" cx="270.1" cy="482.7"/>
<circle class="s" cx="286.4" cy="480.1"/>
<circle class="s" cx="245.7" cy="479.8"/>
<circle class="s" cx="212.0" cy="475.1"/>
<circle class="s" cx="229.0" cy="475.0"/>
<circle class="s" cx="215.1" cy="474.8"/>
<circle class="s" cx="227.6" cy="475.2"/>
<circle class="s" cx="220.7" cy="475.3"/>
<circle class="s" cx="220.6" cy="475.2"/>
<circle class="s" cx="238.5" cy="474.9"/>
<circle class="s" cx="209.8" cy="475.2"/>
<circle class="s" cx="218.2" cy="475.3"/>
<circle class="s" cx="216.9" cy="475.0"/>
<circle class="s" cx="220.0" cy="475.8"/>
<circle class="s" cx="245.4" cy="475.4"/>
<circle class="s" cx="223.2" cy="474.9"/>
<circle class="s" cx="246.6" cy="474.8"/>
<circle class="s" cx="224.7" cy="475.0"/>
<circle class="s" cx="208.6" cy="463.4"/>
<circle class="s" cx="211.5" cy="463.6"/>
<circle class="s" cx="207.5" cy="461.7"/>
<circle class="s" cx="207.6" cy="463.6"/>
<circle class="s" cx="206.4" cy="462.8"/>
<circle class="s" cx="208.5" cy="460.4"/>
<circle class="s" cx="206.4" cy="470.4"/>
<circle class="s" cx="206.3" cy="470.6"/>
<circle class="s" cx="206.4" cy="473.3"/>
<circle class="s" cx="205.0" cy="468.1"/>
<circle class="s" cx="204.8" cy="472.6"/>
<circle class="s" cx="206.9" cy="467.1"/>
<circle class="s" cx="206.0" cy="470.8"/>
<circle class="s" cx="205.9" cy="469.0"/>
<circle class="s" cx="206.0" cy="468.8"/>
<circle class="s" cx="232.5" cy="467.9"/>
<circle class="s" cx="220.7" cy="474.3"/>
<circle class="s" cx="242.2" cy="470.3"/>
<circle class="s" cx="244.7" cy="468.7"/>
<circle class="s" cx="242.1" cy="467.7"/>
<circle class="s" cx="243.8" cy="469.1"/>
<circle class="s" cx="240.4" cy="469.4"/>
<circle class="s" cx="245.0" cy="464.0"/>
<circle class="s" cx="245.1" cy="464.2"/>
<circle class="s" cx="246.7" cy="462.8"/>
<circle class="s" cx="239.1" cy="466.4"/>
<circle class="s" cx="246.4" cy="465.0"/>
<circle class="s" cx="245.9" cy="465.9"/>
<circle class="s" cx="246.4" cy="466.8"/>
<circle class="s" cx="259.3" cy="456.9"/>
<circle class="s" cx="248.9" cy="459.2"/>
<circle class="s" cx="256.1" cy="455.3"/>
<circle class="s" cx="256.7" cy="457.9"/>
<circle class="s" cx="255.5" cy="456.4"/>
<circle class="s" cx="256.8" cy="454.8"/>
<circle class="s" cx="255.9" cy="455.0"/>
<circle class="s" cx="263.7" cy="465.5"/>
<circle class="s" cx="260.6" cy="470.0"/>
<circle class="s" cx="259.0" cy="469.5"/>
<circle class="s" cx="259.4" cy="470.6"/>
<circle class="s" cx="264.0" cy="469.1"/>
<circle class="s" cx="256.5" cy="471.5"/>
<circle class="s" cx="260.2" cy="470.8"/>
<circle class="s" cx="266.1" cy="469.5"/>
<circle class="s" cx="254.8" cy="470.3"/>
<circle class="s" cx="263.0" cy="470.8"/>
<circle class="s" cx="254.4" cy="471.4"/>
<circle class="s" cx="259.8" cy="471.0"/>
<circle class="s" cx="259.0" cy="470.2"/>
<circle class="s" cx="266.7" cy="474.1"/>
<circle class="s" cx="264.9" cy="471.8"/>
<circle class="s" cx="272.4" cy="467.0"/>
<circle class="s" cx="260.9" cy="472.2"/>
<circle class="s" cx="261.3" cy="467.5"/>
<circle class="s" cx="271.9" cy="471.0"/>
<circle class="s" cx="261.5" cy="465.5"/>
<circle class="s" cx="269.1" cy="472.2"/>
<circle class="s" cx="269.7" cy="472.3"/>
<circle class="s" cx="262.8" cy="469.7"/>
<circle class="s" cx="269.1" cy="475.8"/>
<circle class="s" cx="268.5" cy="477.6"/>
<circle class="s" cx="260.5" cy="464.6"/>
<circle class="s" cx="265.8" cy="472.3"/>
<circle class="s" cx="262.5" cy="467.9"/>
<circle class="s" cx="269.0" cy="469.6"/>
<circle class="s" cx="265.2" cy="468.3"/>
<circle class="s" cx="273.3" cy="475.7"/>
<circle class="s" cx="276.7" cy="471.9"/>
<circle class="s" cx="284.9" cy="473.1"/>
<circle class="s" cx="286.2" cy="474.8"/>
<circle class="s" cx="283.0" cy="471.5"/>
<circle class="s" cx="283.4" cy="476.6"/>
<circle class="s" cx="282.1" cy="477.8"/>
<circle class="s" cx="273.0" cy="474.3"/>
<circle class="s" cx="274.6" cy="472.0"/>
<circle class="s" cx="269.2" cy="475.4"/>
<circle class="s" cx="272.1" cy="470.2"/>
<circle class="s" cx="275.1" cy="473.4"/>
<circle class="s" cx="271.9" cy="477.9"/>
<circle class="s" cx="266.1" cy="471.9"/>
<circle class="s" cx="270.3" cy="473.2"/>
<circle class="s" cx="279.3" cy="476.7"/>
<circle class="s" cx="282.7" cy="471.5"/>
<circle class="s" cx="285.8" cy="471.5"/>
<circle class="s" cx="283.1" cy="477.0"/>
<circle class="s" cx="268.3" cy="473.1"/>
<circle class="s" cx="282.0" cy="470.3"/>
<circle class="s" cx="272.0" cy="477.6"/>
<circle class="s" cx="281.6" cy="476.2"/>
<circle class="s" cx="269.5" cy="471.3"/>
<circle class="s" cx="276.3" cy="475.0"/>
<circle class="s" cx="268.5" cy="477.2"/>
<circle class="s" cx="278.1" cy="477.6"/>
<circle class="s" cx="276.5" cy="474.9"/>
<circle class="s" cx="253.1" cy="474.9"/>
<circle class="s" cx="257.5" cy="472.6"/>
<circle class="s" cx="252.1" cy="473.5"/>
<circle class="s" cx="254.3" cy="477.1"/>
<circle class="s" cx="248.0" cy="477.6"/>
<circle class="s" cx="254.0" cy="477.8"/>
<circle class="s" cx="248.8" cy="476.0"/>
<circle class="s" cx="253.7" cy="477.3"/>
<circle class="s" cx="254.1" cy="474.2"/>
<circle class="s" cx="247.8" cy="476.9"/>
<circle class="s" cx="258.7" cy="474.1"/>
<circle class="s" cx="250.5" cy="475.3"/>
<circle class="s" cx="280.9" cy="457.5"/>
<circle class="s" cx="280.8" cy="457.7"/>
<circle class="s" cx="276.9" cy="452.9"/>
<circle class="s" cx="286.2" cy="463.7"/>
<circle class="s" cx="279.0" cy="455.8"/>
<circle class="s" cx="280.8" cy="458.4"/>
<circle class="s" cx="284.7" cy="464.1"/>
<circle class="s" cx="284.0" cy="465.4"/>
<circle class="s" cx="280.0" cy="458.7"/>
<circle class="s" cx="284.0" cy="465.1"/>
<circle class="s" cx="286.0" cy="465.2"/>
<circle class="s" cx="280.9" cy="459.4"/>
<circle class="s" cx="276.4" cy="453.7"/>
<circle class="s" cx="277.9" cy="454.1"/>
<circle class="s" cx="279.4" cy="454.7"/>
<circle class="s" cx="284.5" cy="465.1"/>
<circle class="s" cx="288.5" cy="467.9"/>
<circle class="s" cx="283.2" cy="463.0"/>
<circle class="s" cx="288.8" cy="466.4"/>
<circle class="s" cx="286.5" cy="465.4"/>
<circle class="s" cx="286.5" cy="465.0"/>
<circle class="s" cx="275.7" cy="453.0"/>
<circle class="s" cx="301.9" cy="474.8"/>
<circle class="s" cx="302.2" cy="473.1"/>
<circle class="s" cx="301.2" cy="472.3"/>
<circle class="s" cx="299.6" cy="474.0"/>
<circle class="s" cx="298.1" cy="473.2"/>
<circle class="s" cx="302.2" cy="473.3"/>
<circle class="s" cx="304.1" cy="474.8"/>
<circle class="s" cx="302.6" cy="472.0"/>
<circle class="s" cx="299.2" cy="475.3"/>
<circle class="s" cx="299.6" cy="474.0"/>
<circle class="s" cx="302.8" cy="475.2"/>
<circle class="s" cx="304.9" cy="475.2"/>
<circle class="s" cx="315.1" cy="476.1"/>
<circle class="s" cx="312.7" cy="475.5"/>
<circle class="s" cx="320.3" cy="475.3"/>
<circle class="s" cx="319.7" cy="478.6"/>
<circle class="s" cx="315.8" cy="475.9"/>
<circle class="s" cx="316.3" cy="476.3"/>
<circle class="s" cx="310.7" cy="476.5"/>
<circle class="s" cx="318.3" cy="477.4"/>
<circle class="s" cx="312.5" cy="476.8"/>
<circle class="s" cx="308.6" cy="476.0"/>
<circle class="s" cx="307.2" cy="477.8"/>
<circle class="s" cx="312.5" cy="478.0"/>
<circle class="s" cx="294.3" cy="482.2"/>
<circle class="s" cx="302.8" cy="480.5"/>
<circle class="s" cx="329.1" cy="480.9"/>
<circle class="s" cx="314.2" cy="480.6"/>
<circle class="s" cx="303.9" cy="482.7"/>
<circle class="s" cx="315.8" cy="481.5"/>
<circle class="s" cx="309.3" cy="482.7"/>
<circle class="s" cx="321.5" cy="479.8"/>
<circle class="s" cx="300.1" cy="482.3"/>
<circle class="s" cx="294.2" cy="483.2"/>
<circle class="s" cx="295.6" cy="480.5"/>
<circle class="s" cx="309.2" cy="482.5"/>
<circle class="s" cx="314.0" cy="479.8"/>
<circle class="s" cx="313.5" cy="479.6"/>
<circle class="s" cx="297.4" cy="480.0"/>
<circle class="s" cx="300.5" cy="481.5"/>
<circle class="s" cx="299.9" cy="479.3"/>
<circle class="s" cx="319.9" cy="482.0"/>
<circle class="s" cx="319.4" cy="480.0"/>
<circle class="s" cx="315.2" cy="480.8"/>
<circle class="s" cx="322.4" cy="482.8"/>
<circle class="s" cx="308.9" cy="480.5"/>
<circle class="s" cx="301.0" cy="481.0"/>
<circle class="s" cx="314.5" cy="482.9"/>
<circle class="s" cx="323.8" cy="479.9"/>
<circle class="s" cx="321.0" cy="481.1"/>
<circle class="s" cx="295.9" cy="480.5"/>
<circle class="s" cx="324.5" cy="481.2"/>
<circle class="s" cx="303.0" cy="481.2"/>
<circle class="s" cx="312.8" cy="483.2"/>
<circle class="s" cx="294.1" cy="482.0"/>
<circle class="s" cx="323.3" cy="480.8"/>
<circle class="s" cx="291.7" cy="479.2"/>
<circle class="s" cx="328.0" cy="483.3"/>
<circle class="s" cx="319.5" cy="480.7"/>
<circle class="s" cx="302.7" cy="478.7"/>
<circle class="s" cx="302.7" cy="482.3"/>
<circle class="s" cx="308.5" cy="482.0"/>
<circle class="s" cx="293.2" cy="480.8"/>
<circle class="s" cx="296.1" cy="480.9"/>
<circle class="s" cx="291.6" cy="480.8"/>
<circle class="s" cx="308.4" cy="479.9"/>
<circle class="s" cx="316.6" cy="479.9"/>
<circle class="s" cx="327.2" cy="482.6"/>
<circle class="s" cx="323.9" cy="483.5"/>
<circle class="s" cx="326.3" cy="483.3"/>
<circle class="s" cx="297.9" cy="482.3"/>
<circle class="s" cx="305.2" cy="482.4"/>
<circle class="s" cx="291.7" cy="480.0"/>
<circle class="s" cx="300.1" cy="479.5"/>
<circle class="s" cx="294.7" cy="480.8"/>
<circle class="s" cx="296.8" cy="478.4"/>
<circle class="s" cx="324.4" cy="481.1"/>
<circle class="s" cx="306.1" cy="483.1"/>
<circle class="s" cx="297.2" cy="481.7"/>
<circle class="s" cx="327.0" cy="481.8"/>
<circle class="s" cx="298.5" cy="480.6"/>
<circle class="s" cx="302.9" cy="479.0"/>
<circle class="s" cx="257.2" cy="353.9"/>
<circle class="s" cx="255.3" cy="354.4"/>
<circle class="s" cx="263.8" cy="359.6"/>
<circle class="s" cx="250.5" cy="363.9"/>
<circle class="s" cx="251.0" cy="366.2"/>
<circle class="s" cx="276.6" cy="361.0"/>
<circle class="s" cx="260.9" cy="371.9"/>
<circle class="s" cx="275.1" cy="398.9"/>
<circle class="s" cx="275.6" cy="400.8"/>
<circle class="s" cx="251.0" cy="406.5"/>
<circle class="s" cx="252.0" cy="407.4"/>
<circle class="s" cx="252.4" cy="433.0"/>
<circle class="s" cx="250.1" cy="433.9"/>
<circle class="s" cx="253.4" cy="455.7"/>
<circle class="s" cx="258.1" cy="454.8"/>
<circle class="s" cx="255.7" cy="459.0"/>
<circle class="s" cx="251.0" cy="460.0"/>
<circle class="s" cx="284.1" cy="458.6"/>
<circle class="s" cx="287.9" cy="469.4"/>
<circle class="s" cx="210.8" cy="462.3"/>
<circle class="s" cx="213.1" cy="463.3"/>
<circle class="s" cx="209.3" cy="467.1"/>
<circle class="s" cx="215.5" cy="471.8"/>
<circle class="s" cx="255.7" cy="354.2"/>
<circle class="s" cx="276.8" cy="361.8"/>
<circle class="s" cx="273.3" cy="388.0"/>
<circle class="s" cx="248.6" cy="399.9"/>
<circle class="s" cx="251.2" cy="407.0"/>
<circle class="s" cx="256.2" cy="432.8"/>
<circle class="s" cx="274.2" cy="416.9"/>
<circle class="s" cx="274.4" cy="424.0"/>
</g>
<g fill="#87ceeb" fill-opacity="0.78" stroke-opacity="1.00">
<circle class="s" cx="267.1" cy="436.3"/>
<circle class="s" cx="270.4" cy="443.9"/>
<circle class="s" cx="264.3" cy="448.6"/>
<circle class="s" cx="271.4" cy="460.0"/>
<circle class="s" cx="274.7" cy="460.9"/>
<circle class="s" cx="277.0" cy="451.0"/>
</g>
<g fill="#006400" fill-opacity="0.7" stroke-opacity="0.95">
<circle class="s" cx="274.2" cy="433.9"/>
<circle class="s" cx="275.6" cy="433.5"/>
<circle class="s" cx="264.3" cy="458.6"/>
</g>
<g fill="#ffa500" fill-opacity="0.85" stroke-opacity="1.00" style="stroke-width:.65px">
<circle class="s" cx="275.6" cy="444.4"/>
<circle class="s" cx="274.7" cy="453.3"/>
<circle class="s" cx="274.2" cy="451.0"/>
</g>
<g fill="#ff0000" fill-opacity="0.9" stroke-opacity="1.00" style="stroke-width:.65px">
<circle class="s" cx="274.7" cy="440.6"/>
<circle class="s" cx="273.7" cy="442.5"/>
<circle class="s" cx="273.3" cy="449.1"/>
<circle class="s" cx="272.8" cy="461.9"/>
</g>
<path d="M274.7 443.5L277.9 446.7L274.7 449.9L271.5 446.7Z" fill="#a020f0" stroke="#1a0030" stroke-width="0.55"/>
<path d="M198.5 347.0V489.5H334.3" fill="none" stroke="#3c3c3c" stroke-width="0.9"/>
<path d="M225.4 489.5v2.4" stroke="#333" stroke-width="0.8"/>
<text x="225.4" y="498.7" text-anchor="middle" class="t" font-size="6.4" fill="#4d4d4d"></text>
<path d="M256.4 489.5v2.4" stroke="#333" stroke-width="0.8"/>
<text x="256.4" y="498.7" text-anchor="middle" class="t" font-size="6.4" fill="#4d4d4d"></text>
<path d="M287.5 489.5v2.4" stroke="#333" stroke-width="0.8"/>
<text x="287.5" y="498.7" text-anchor="middle" class="t" font-size="6.4" fill="#4d4d4d"></text>
<path d="M318.6 489.5v2.4" stroke="#333" stroke-width="0.8"/>
<text x="318.6" y="498.7" text-anchor="middle" class="t" font-size="6.4" fill="#4d4d4d"></text>
<path d="M198.5 483.9h-2.4" stroke="#333" stroke-width="0.8"/>
<text x="194.9" y="486.5" text-anchor="end" class="t" font-size="6.4" fill="#4d4d4d">0</text>
<path d="M198.5 441.3h-2.4" stroke="#333" stroke-width="0.8"/>
<text x="194.9" y="443.9" text-anchor="end" class="t" font-size="6.4" fill="#4d4d4d">100</text>
<path d="M198.5 398.9h-2.4" stroke="#333" stroke-width="0.8"/>
<text x="194.9" y="401.5" text-anchor="end" class="t" font-size="6.4" fill="#4d4d4d">200</text>
<path d="M198.5 356.3h-2.4" stroke="#333" stroke-width="0.8"/>
<text x="194.9" y="358.9" text-anchor="end" class="t" font-size="6.4" fill="#4d4d4d">300</text>
<text x="180.5" y="417.4" text-anchor="middle" font-size="7.6" fill="#000" transform="rotate(-90 180.5 417.4)">SLC22A4_ eQTL -log<tspan font-size="5.32" dy="1.7">10</tspan><tspan dy="-1.7">(P</tspan></text>
<g fill="#000084" fill-opacity="0.62" stroke-opacity="0.87">
<circle class="s" cx="254.5" cy="616.7"/>
<circle class="s" cx="246.3" cy="645.3"/>
<circle class="s" cx="258.7" cy="653.8"/>
<circle class="s" cx="247.8" cy="651.5"/>
<circle class="s" cx="250.3" cy="631.5"/>
<circle class="s" cx="256.7" cy="641.3"/>
<circle class="s" cx="255.8" cy="643.1"/>
<circle class="s" cx="255.2" cy="619.8"/>
<circle class="s" cx="249.9" cy="639.8"/>
<circle class="s" cx="250.7" cy="613.0"/>
<circle class="s" cx="256.7" cy="624.1"/>
<circle class="s" cx="247.8" cy="612.6"/>
<circle class="s" cx="247.3" cy="621.4"/>
<circle class="s" cx="252.8" cy="638.0"/>
<circle class="s" cx="246.5" cy="630.3"/>
<circle class="s" cx="248.6" cy="624.5"/>
<circle class="s" cx="246.3" cy="637.0"/>
<circle class="s" cx="251.9" cy="627.5"/>
<circle class="s" cx="256.1" cy="621.0"/>
<circle class="s" cx="254.4" cy="629.8"/>
<circle class="s" cx="249.8" cy="629.2"/>
<circle class="s" cx="253.0" cy="653.5"/>
<circle class="s" cx="246.8" cy="617.3"/>
<circle class="s" cx="249.7" cy="644.3"/>
<circle class="s" cx="249.3" cy="609.4"/>
<circle class="s" cx="249.8" cy="634.7"/>
<circle class="s" cx="253.5" cy="651.2"/>
<circle class="s" cx="265.7" cy="641.6"/>
<circle class="s" cx="263.0" cy="646.6"/>
<circle class="s" cx="271.7" cy="658.6"/>
<circle class="s" cx="279.7" cy="641.9"/>
<circle class="s" cx="275.5" cy="643.2"/>
<circle class="s" cx="254.7" cy="654.3"/>
<circle class="s" cx="264.1" cy="645.7"/>
<circle class="s" cx="273.4" cy="654.2"/>
<circle class="s" cx="282.4" cy="643.4"/>
<circle class="s" cx="268.4" cy="653.7"/>
<circle class="s" cx="275.5" cy="647.0"/>
<circle class="s" cx="263.6" cy="646.9"/>
<circle class="s" cx="258.0" cy="650.7"/>
<circle class="s" cx="286.5" cy="645.6"/>
<circle class="s" cx="257.0" cy="654.8"/>
<circle class="s" cx="268.3" cy="652.6"/>
<circle class="s" cx="284.7" cy="648.1"/>
<circle class="s" cx="270.6" cy="651.5"/>
<circle class="s" cx="261.5" cy="648.8"/>
<circle class="s" cx="250.4" cy="656.4"/>
<circle class="s" cx="288.1" cy="642.8"/>
<circle class="s" cx="260.7" cy="649.3"/>
<circle class="s" cx="286.4" cy="656.7"/>
<circle class="s" cx="261.5" cy="649.9"/>
<circle class="s" cx="262.3" cy="656.7"/>
<circle class="s" cx="284.8" cy="641.4"/>
<circle class="s" cx="278.7" cy="658.4"/>
<circle class="s" cx="280.1" cy="642.7"/>
<circle class="s" cx="295.6" cy="657.2"/>
<circle class="s" cx="305.1" cy="654.4"/>
<circle class="s" cx="296.6" cy="653.5"/>
<circle class="s" cx="299.5" cy="653.1"/>
<circle class="s" cx="296.3" cy="652.3"/>
<circle class="s" cx="327.0" cy="657.4"/>
<circle class="s" cx="326.0" cy="657.1"/>
<circle class="s" cx="322.4" cy="653.7"/>
<circle class="s" cx="301.2" cy="657.8"/>
<circle class="s" cx="322.7" cy="658.2"/>
<circle class="s" cx="293.6" cy="655.5"/>
<circle class="s" cx="317.5" cy="655.8"/>
<circle class="s" cx="214.7" cy="621.6"/>
<circle class="s" cx="213.4" cy="612.7"/>
<circle class="s" cx="215.9" cy="614.1"/>
<circle class="s" cx="216.0" cy="615.1"/>
<circle class="s" cx="217.3" cy="611.2"/>
<circle class="s" cx="208.4" cy="623.9"/>
<circle class="s" cx="260.5" cy="533.0"/>
<circle class="s" cx="246.5" cy="555.0"/>
<circle class="s" cx="264.5" cy="561.0"/>
<circle class="s" cx="246.0" cy="568.0"/>
<circle class="s" cx="252.5" cy="572.0"/>
<circle class="s" cx="215.5" cy="580.0"/>
<circle class="s" cx="227.0" cy="589.0"/>
<circle class="s" cx="276.5" cy="580.5"/>
<circle class="s" cx="260.5" cy="585.5"/>
<circle class="s" cx="251.0" cy="586.5"/>
<circle class="s" cx="256.0" cy="587.5"/>
<circle class="s" cx="246.0" cy="592.5"/>
<circle class="s" cx="246.5" cy="595.0"/>
<circle class="s" cx="252.5" cy="596.0"/>
<circle class="s" cx="259.0" cy="594.0"/>
<circle class="s" cx="240.0" cy="599.0"/>
<circle class="s" cx="257.5" cy="600.0"/>
<circle class="s" cx="315.0" cy="598.0"/>
<circle class="s" cx="300.5" cy="607.5"/>
<circle class="s" cx="317.5" cy="612.0"/>
<circle class="s" cx="301.0" cy="615.0"/>
<circle class="s" cx="302.5" cy="616.0"/>
<circle class="s" cx="318.0" cy="621.0"/>
<circle class="s" cx="210.0" cy="610.0"/>
<circle class="s" cx="219.0" cy="621.5"/>
<circle class="s" cx="207.0" cy="625.0"/>
<circle class="s" cx="205.0" cy="635.0"/>
<circle class="s" cx="210.0" cy="635.0"/>
<circle class="s" cx="270.0" cy="620.0"/>
<circle class="s" cx="271.5" cy="622.5"/>
<circle class="s" cx="275.0" cy="633.5"/>
<circle class="s" cx="277.5" cy="617.0"/>
<circle class="s" cx="240.0" cy="619.0"/>
<circle class="s" cx="243.0" cy="620.0"/>
<circle class="s" cx="241.5" cy="617.5"/>
<circle class="s" cx="302.0" cy="615.5"/>
<circle class="s" cx="239.3" cy="638.9"/>
<circle class="s" cx="228.8" cy="642.6"/>
<circle class="s" cx="225.0" cy="641.2"/>
<circle class="s" cx="206.0" cy="641.8"/>
<circle class="s" cx="216.3" cy="641.5"/>
<circle class="s" cx="228.3" cy="644.6"/>
<circle class="s" cx="243.6" cy="636.4"/>
<circle class="s" cx="207.5" cy="642.9"/>
<circle class="s" cx="231.6" cy="642.2"/>
<circle class="s" cx="210.4" cy="642.8"/>
<circle class="s" cx="244.5" cy="637.7"/>
<circle class="s" cx="245.1" cy="637.4"/>
<circle class="s" cx="241.5" cy="638.3"/>
<circle class="s" cx="233.8" cy="639.9"/>
<circle class="s" cx="224.7" cy="644.7"/>
<circle class="s" cx="239.0" cy="637.5"/>
<circle class="s" cx="239.6" cy="636.4"/>
<circle class="s" cx="232.4" cy="640.8"/>
<circle class="s" cx="241.9" cy="639.1"/>
<circle class="s" cx="238.3" cy="637.7"/>
<circle class="s" cx="231.8" cy="638.0"/>
<circle class="s" cx="219.9" cy="643.6"/>
<circle class="s" cx="223.0" cy="642.4"/>
<circle class="s" cx="225.2" cy="645.1"/>
<circle class="s" cx="204.6" cy="644.0"/>
<circle class="s" cx="227.9" cy="642.1"/>
<circle class="s" cx="215.1" cy="642.1"/>
<circle class="s" cx="230.9" cy="641.0"/>
<circle class="s" cx="215.9" cy="642.8"/>
<circle class="s" cx="239.1" cy="636.5"/>
<circle class="s" cx="212.9" cy="644.4"/>
<circle class="s" cx="233.0" cy="643.8"/>
<circle class="s" cx="244.9" cy="633.9"/>
<circle class="s" cx="225.4" cy="640.9"/>
<circle class="s" cx="216.3" cy="642.6"/>
<circle class="s" cx="209.8" cy="642.9"/>
<circle class="s" cx="237.0" cy="639.8"/>
<circle class="s" cx="211.5" cy="644.5"/>
<circle class="s" cx="212.9" cy="640.8"/>
<circle class="s" cx="211.7" cy="642.4"/>
<circle class="s" cx="238.9" cy="641.6"/>
<circle class="s" cx="235.4" cy="640.0"/>
<circle class="s" cx="232.8" cy="642.1"/>
<circle class="s" cx="223.1" cy="643.6"/>
<circle class="s" cx="215.1" cy="653.7"/>
<circle class="s" cx="222.5" cy="657.4"/>
<circle class="s" cx="238.3" cy="655.9"/>
<circle class="s" cx="211.1" cy="653.2"/>
<circle class="s" cx="228.4" cy="646.1"/>
<circle class="s" cx="208.3" cy="649.0"/>
<circle class="s" cx="234.5" cy="653.1"/>
<circle class="s" cx="219.8" cy="653.2"/>
<circle class="s" cx="236.7" cy="653.6"/>
<circle class="s" cx="211.9" cy="650.7"/>
<circle class="s" cx="226.3" cy="655.0"/>
<circle class="s" cx="208.3" cy="650.8"/>
<circle class="s" cx="221.8" cy="646.6"/>
<circle class="s" cx="228.2" cy="648.3"/>
<circle class="s" cx="224.2" cy="648.0"/>
<circle class="s" cx="233.4" cy="645.1"/>
<circle class="s" cx="216.1" cy="646.3"/>
<circle class="s" cx="224.1" cy="645.9"/>
<circle class="s" cx="229.3" cy="652.3"/>
<circle class="s" cx="239.6" cy="655.5"/>
<circle class="s" cx="242.2" cy="649.6"/>
<circle class="s" cx="238.1" cy="649.2"/>
<circle class="s" cx="214.9" cy="650.5"/>
<circle class="s" cx="204.9" cy="654.4"/>
<circle class="s" cx="207.4" cy="653.0"/>
<circle class="s" cx="228.8" cy="648.9"/>
<circle class="s" cx="216.7" cy="652.4"/>
<circle class="s" cx="217.8" cy="657.5"/>
<circle class="s" cx="213.1" cy="633.7"/>
<circle class="s" cx="207.5" cy="631.6"/>
<circle class="s" cx="212.3" cy="629.0"/>
<circle class="s" cx="215.2" cy="635.4"/>
<circle class="s" cx="216.5" cy="618.0"/>
<circle class="s" cx="207.7" cy="631.7"/>
<circle class="s" cx="213.8" cy="617.7"/>
<circle class="s" cx="217.3" cy="637.2"/>
<circle class="s" cx="205.8" cy="639.8"/>
<circle class="s" cx="252.4" cy="646.7"/>
<circle class="s" cx="253.9" cy="633.1"/>
<circle class="s" cx="256.1" cy="638.8"/>
<circle class="s" cx="245.7" cy="656.0"/>
<circle class="s" cx="257.5" cy="629.4"/>
<circle class="s" cx="262.3" cy="659.2"/>
<circle class="s" cx="256.2" cy="648.4"/>
<circle class="s" cx="254.7" cy="648.8"/>
<circle class="s" cx="255.5" cy="645.7"/>
<circle class="s" cx="250.9" cy="635.5"/>
<circle class="s" cx="250.1" cy="659.2"/>
<circle class="s" cx="249.7" cy="650.6"/>
<circle class="s" cx="242.8" cy="624.6"/>
<circle class="s" cx="256.5" cy="652.5"/>
<circle class="s" cx="244.6" cy="604.2"/>
<circle class="s" cx="253.6" cy="623.4"/>
<circle class="s" cx="253.2" cy="654.6"/>
<circle class="s" cx="255.4" cy="625.6"/>
<circle class="s" cx="246.0" cy="609.3"/>
<circle class="s" cx="260.3" cy="635.4"/>
<circle class="s" cx="256.1" cy="632.3"/>
<circle class="s" cx="256.3" cy="629.7"/>
<circle class="s" cx="253.8" cy="632.2"/>
<circle class="s" cx="246.3" cy="649.5"/>
<circle class="s" cx="262.9" cy="639.7"/>
<circle class="s" cx="254.0" cy="646.8"/>
<circle class="s" cx="251.6" cy="619.9"/>
<circle class="s" cx="245.9" cy="647.7"/>
<circle class="s" cx="253.9" cy="618.8"/>
<circle class="s" cx="252.4" cy="659.2"/>
<circle class="s" cx="254.3" cy="624.2"/>
<circle class="s" cx="242.9" cy="631.6"/>
<circle class="s" cx="256.4" cy="650.6"/>
<circle class="s" cx="257.7" cy="636.5"/>
<circle class="s" cx="248.0" cy="610.1"/>
<circle class="s" cx="243.1" cy="627.4"/>
<circle class="s" cx="263.7" cy="650.2"/>
<circle class="s" cx="247.1" cy="611.6"/>
<circle class="s" cx="258.9" cy="644.2"/>
<circle class="s" cx="253.9" cy="640.9"/>
<circle class="s" cx="252.6" cy="646.8"/>
<circle class="s" cx="280.6" cy="660.3"/>
<circle class="s" cx="277.5" cy="659.9"/>
<circle class="s" cx="268.7" cy="658.0"/>
<circle class="s" cx="284.0" cy="646.5"/>
<circle class="s" cx="270.2" cy="645.6"/>
<circle class="s" cx="288.0" cy="651.6"/>
<circle class="s" cx="248.3" cy="654.0"/>
<circle class="s" cx="270.3" cy="650.0"/>
<circle class="s" cx="270.9" cy="640.1"/>
<circle class="s" cx="269.2" cy="655.2"/>
<circle class="s" cx="277.3" cy="655.3"/>
<circle class="s" cx="286.5" cy="648.8"/>
<circle class="s" cx="269.2" cy="654.9"/>
<circle class="s" cx="280.2" cy="657.2"/>
<circle class="s" cx="247.8" cy="637.9"/>
<circle class="s" cx="273.9" cy="642.1"/>
<circle class="s" cx="251.1" cy="643.1"/>
<circle class="s" cx="256.2" cy="659.9"/>
<circle class="s" cx="290.4" cy="657.0"/>
<circle class="s" cx="256.2" cy="639.7"/>
<circle class="s" cx="278.1" cy="650.3"/>
<circle class="s" cx="262.8" cy="641.9"/>
<circle class="s" cx="280.3" cy="659.0"/>
<circle class="s" cx="279.0" cy="650.8"/>
<circle class="s" cx="248.4" cy="647.4"/>
<circle class="s" cx="289.0" cy="655.5"/>
<circle class="s" cx="263.1" cy="644.6"/>
<circle class="s" cx="248.0" cy="658.3"/>
<circle class="s" cx="258.2" cy="640.6"/>
<circle class="s" cx="283.0" cy="645.5"/>
<circle class="s" cx="290.9" cy="644.2"/>
<circle class="s" cx="288.5" cy="659.4"/>
<circle class="s" cx="269.2" cy="651.2"/>
<circle class="s" cx="274.0" cy="649.6"/>
<circle class="s" cx="250.3" cy="652.7"/>
<circle class="s" cx="258.9" cy="656.1"/>
<circle class="s" cx="266.6" cy="643.3"/>
<circle class="s" cx="275.4" cy="652.0"/>
<circle class="s" cx="250.8" cy="652.5"/>
<circle class="s" cx="273.0" cy="644.0"/>
<circle class="s" cx="249.6" cy="658.9"/>
<circle class="s" cx="267.4" cy="648.3"/>
<circle class="s" cx="285.7" cy="644.3"/>
<circle class="s" cx="278.8" cy="653.6"/>
<circle class="s" cx="262.7" cy="654.7"/>
<circle class="s" cx="308.0" cy="659.1"/>
<circle class="s" cx="305.9" cy="656.6"/>
<circle class="s" cx="313.7" cy="660.1"/>
<circle class="s" cx="317.5" cy="653.9"/>
<circle class="s" cx="315.3" cy="653.4"/>
<circle class="s" cx="317.2" cy="660.3"/>
<circle class="s" cx="323.4" cy="654.9"/>
<circle class="s" cx="313.7" cy="654.0"/>
<circle class="s" cx="320.9" cy="656.0"/>
<circle class="s" cx="313.3" cy="653.7"/>
<circle class="s" cx="324.4" cy="658.4"/>
<circle class="s" cx="301.0" cy="656.5"/>
<circle class="s" cx="296.3" cy="659.3"/>
<circle class="s" cx="311.8" cy="656.9"/>
<circle class="s" cx="312.1" cy="655.4"/>
<circle class="s" cx="324.1" cy="650.9"/>
<circle class="s" cx="313.3" cy="658.0"/>
<circle class="s" cx="305.9" cy="652.4"/>
<circle class="s" cx="296.4" cy="649.6"/>
<circle class="s" cx="326.2" cy="651.0"/>
<circle class="s" cx="323.6" cy="645.6"/>
<circle class="s" cx="300.1" cy="655.2"/>
<circle class="s" cx="298.3" cy="657.7"/>
<circle class="s" cx="329.3" cy="650.8"/>
<circle class="s" cx="303.2" cy="659.5"/>
<circle class="s" cx="320.3" cy="656.2"/>
<circle class="s" cx="330.0" cy="657.8"/>
<circle class="s" cx="291.3" cy="657.5"/>
<circle class="s" cx="303.8" cy="658.7"/>
<circle class="s" cx="327.6" cy="659.8"/>
<circle class="s" cx="301.0" cy="648.8"/>
<circle class="s" cx="317.9" cy="653.2"/>
<circle class="s" cx="325.2" cy="646.6"/>
<circle class="s" cx="292.7" cy="660.4"/>
<circle class="s" cx="313.7" cy="650.0"/>
<circle class="s" cx="305.3" cy="634.9"/>
<circle class="s" cx="308.2" cy="641.8"/>
<circle class="s" cx="304.9" cy="634.5"/>
<circle class="s" cx="307.4" cy="641.8"/>
<circle class="s" cx="302.9" cy="632.7"/>
<circle class="s" cx="304.4" cy="635.9"/>
<circle class="s" cx="300.1" cy="630.6"/>
<circle class="s" cx="303.1" cy="633.9"/>
<circle class="s" cx="302.6" cy="629.4"/>
<circle class="s" cx="302.8" cy="633.8"/>
<circle class="s" cx="309.2" cy="642.9"/>
<circle class="s" cx="303.1" cy="634.1"/>
<circle class="s" cx="305.3" cy="639.4"/>
<circle class="s" cx="304.2" cy="632.9"/>
<circle class="s" cx="318.7" cy="645.3"/>
<circle class="s" cx="317.7" cy="638.9"/>
<circle class="s" cx="319.8" cy="636.0"/>
<circle class="s" cx="320.0" cy="643.0"/>
<circle class="s" cx="322.5" cy="641.6"/>
</g>
<g fill="#000084" fill-opacity="0.86" stroke-opacity="1.00">
<circle class="s" cx="252.7" cy="635.4"/>
<circle class="s" cx="252.9" cy="621.4"/>
<circle class="s" cx="252.1" cy="617.0"/>
<circle class="s" cx="249.4" cy="622.6"/>
<circle class="s" cx="255.1" cy="617.3"/>
<circle class="s" cx="248.8" cy="652.2"/>
<circle class="s" cx="250.8" cy="632.3"/>
<circle class="s" cx="253.4" cy="609.8"/>
<circle class="s" cx="245.5" cy="635.6"/>
<circle class="s" cx="248.2" cy="625.5"/>
<circle class="s" cx="247.4" cy="616.7"/>
<circle class="s" cx="247.5" cy="626.7"/>
<circle class="s" cx="251.3" cy="616.6"/>
<circle class="s" cx="248.7" cy="613.4"/>
<circle class="s" cx="250.4" cy="632.8"/>
<circle class="s" cx="251.1" cy="617.3"/>
<circle class="s" cx="259.5" cy="650.2"/>
<circle class="s" cx="252.4" cy="612.8"/>
<circle class="s" cx="254.8" cy="635.1"/>
<circle class="s" cx="248.7" cy="650.1"/>
<circle class="s" cx="252.4" cy="621.3"/>
<circle class="s" cx="253.5" cy="635.1"/>
<circle class="s" cx="246.4" cy="622.7"/>
<circle class="s" cx="255.8" cy="637.6"/>
<circle class="s" cx="251.1" cy="636.7"/>
<circle class="s" cx="252.5" cy="632.1"/>
<circle class="s" cx="259.0" cy="642.5"/>
<circle class="s" cx="251.3" cy="611.8"/>
<circle class="s" cx="260.8" cy="647.3"/>
<circle class="s" cx="258.5" cy="634.8"/>
<circle class="s" cx="249.8" cy="612.8"/>
<circle class="s" cx="254.8" cy="628.3"/>
<circle class="s" cx="247.4" cy="619.7"/>
<circle class="s" cx="251.5" cy="613.8"/>
<circle class="s" cx="257.0" cy="626.6"/>
<circle class="s" cx="245.9" cy="635.6"/>
<circle class="s" cx="258.9" cy="646.1"/>
<circle class="s" cx="261.5" cy="648.5"/>
<circle class="s" cx="258.5" cy="642.7"/>
<circle class="s" cx="253.0" cy="609.5"/>
<circle class="s" cx="247.3" cy="622.8"/>
<circle class="s" cx="252.1" cy="612.1"/>
<circle class="s" cx="258.7" cy="639.2"/>
<circle class="s" cx="252.4" cy="631.7"/>
<circle class="s" cx="276.5" cy="650.5"/>
<circle class="s" cx="257.1" cy="642.0"/>
<circle class="s" cx="271.6" cy="649.7"/>
<circle class="s" cx="287.0" cy="650.2"/>
<circle class="s" cx="277.2" cy="641.6"/>
<circle class="s" cx="276.2" cy="641.9"/>
<circle class="s" cx="260.6" cy="649.1"/>
<circle class="s" cx="264.3" cy="640.8"/>
<circle class="s" cx="253.8" cy="659.4"/>
<circle class="s" cx="271.7" cy="652.0"/>
<circle class="s" cx="272.2" cy="652.2"/>
<circle class="s" cx="282.3" cy="644.4"/>
<circle class="s" cx="282.6" cy="649.6"/>
<circle class="s" cx="251.8" cy="656.0"/>
<circle class="s" cx="259.5" cy="653.8"/>
<circle class="s" cx="286.7" cy="646.2"/>
<circle class="s" cx="262.1" cy="651.9"/>
<circle class="s" cx="255.4" cy="643.8"/>
<circle class="s" cx="286.7" cy="647.5"/>
<circle class="s" cx="251.8" cy="649.7"/>
<circle class="s" cx="257.7" cy="656.8"/>
<circle class="s" cx="257.0" cy="641.7"/>
<circle class="s" cx="266.4" cy="641.1"/>
<circle class="s" cx="265.4" cy="655.2"/>
<circle class="s" cx="265.3" cy="645.6"/>
<circle class="s" cx="256.2" cy="649.5"/>
<circle class="s" cx="267.5" cy="650.7"/>
<circle class="s" cx="254.0" cy="645.3"/>
<circle class="s" cx="279.6" cy="646.7"/>
<circle class="s" cx="272.4" cy="648.7"/>
<circle class="s" cx="260.7" cy="655.3"/>
<circle class="s" cx="250.9" cy="654.2"/>
<circle class="s" cx="263.8" cy="643.6"/>
<circle class="s" cx="259.4" cy="654.9"/>
<circle class="s" cx="279.7" cy="654.6"/>
<circle class="s" cx="252.7" cy="643.7"/>
<circle class="s" cx="272.9" cy="646.2"/>
<circle class="s" cx="265.4" cy="654.5"/>
<circle class="s" cx="256.8" cy="654.3"/>
<circle class="s" cx="280.8" cy="650.5"/>
<circle class="s" cx="276.4" cy="644.9"/>
<circle class="s" cx="294.4" cy="658.2"/>
<circle class="s" cx="294.7" cy="655.7"/>
<circle class="s" cx="319.0" cy="659.1"/>
<circle class="s" cx="325.8" cy="655.6"/>
<circle class="s" cx="319.6" cy="653.9"/>
<circle class="s" cx="293.9" cy="653.9"/>
<circle class="s" cx="328.7" cy="653.2"/>
<circle class="s" cx="295.6" cy="657.3"/>
<circle class="s" cx="318.0" cy="657.0"/>
<circle class="s" cx="304.0" cy="653.1"/>
<circle class="s" cx="313.5" cy="656.2"/>
<circle class="s" cx="310.3" cy="652.8"/>
<circle class="s" cx="326.1" cy="654.2"/>
<circle class="s" cx="310.7" cy="655.2"/>
<circle class="s" cx="316.2" cy="657.7"/>
<circle class="s" cx="321.6" cy="654.1"/>
<circle class="s" cx="328.4" cy="654.8"/>
<circle class="s" cx="311.4" cy="658.1"/>
<circle class="s" cx="212.2" cy="612.9"/>
<circle class="s" cx="205.3" cy="629.5"/>
<circle class="s" cx="210.4" cy="618.9"/>
<circle class="s" cx="205.9" cy="630.9"/>
<circle class="s" cx="217.7" cy="629.9"/>
<circle class="s" cx="211.1" cy="630.4"/>
<circle class="s" cx="209.9" cy="625.2"/>
<circle class="s" cx="209.7" cy="629.5"/>
<circle class="s" cx="246.5" cy="550.0"/>
<circle class="s" cx="227.0" cy="587.5"/>
<circle class="s" cx="277.0" cy="581.5"/>
<circle class="s" cx="243.0" cy="592.5"/>
<circle class="s" cx="304.0" cy="614.5"/>
<circle class="s" cx="211.0" cy="615.0"/>
<circle class="s" cx="218.0" cy="618.5"/>
<circle class="s" cx="209.5" cy="620.0"/>
<circle class="s" cx="205.0" cy="622.5"/>
<circle class="s" cx="209.5" cy="627.5"/>
<circle class="s" cx="207.5" cy="632.5"/>
<circle class="s" cx="303.0" cy="614.0"/>
<circle class="s" cx="246.5" cy="552.5"/>
<circle class="s" cx="205.6" cy="642.2"/>
<circle class="s" cx="223.2" cy="641.7"/>
<circle class="s" cx="231.9" cy="642.1"/>
<circle class="s" cx="224.7" cy="640.9"/>
<circle class="s" cx="204.8" cy="641.2"/>
<circle class="s" cx="239.4" cy="638.9"/>
<circle class="s" cx="226.7" cy="642.6"/>
<circle class="s" cx="211.3" cy="640.9"/>
<circle class="s" cx="208.0" cy="641.2"/>
<circle class="s" cx="225.3" cy="639.9"/>
<circle class="s" cx="206.5" cy="645.2"/>
<circle class="s" cx="240.9" cy="636.9"/>
<circle class="s" cx="239.5" cy="638.1"/>
<circle class="s" cx="207.9" cy="641.6"/>
<circle class="s" cx="229.8" cy="643.2"/>
<circle class="s" cx="217.7" cy="639.4"/>
<circle class="s" cx="225.9" cy="642.2"/>
<circle class="s" cx="239.2" cy="637.5"/>
<circle class="s" cx="236.4" cy="641.5"/>
<circle class="s" cx="219.3" cy="643.1"/>
<circle class="s" cx="211.7" cy="639.4"/>
<circle class="s" cx="226.9" cy="640.1"/>
<circle class="s" cx="208.7" cy="639.9"/>
<circle class="s" cx="233.7" cy="644.6"/>
<circle class="s" cx="229.0" cy="643.5"/>
<circle class="s" cx="226.2" cy="641.8"/>
<circle class="s" cx="222.4" cy="642.6"/>
<circle class="s" cx="241.5" cy="637.4"/>
<circle class="s" cx="207.9" cy="644.1"/>
<circle class="s" cx="212.6" cy="643.9"/>
<circle class="s" cx="227.9" cy="642.4"/>
<circle class="s" cx="217.6" cy="641.9"/>
<circle class="s" cx="211.4" cy="643.3"/>
<circle class="s" cx="243.8" cy="636.5"/>
<circle class="s" cx="213.0" cy="643.5"/>
<circle class="s" cx="206.5" cy="644.4"/>
<circle class="s" cx="229.4" cy="642.8"/>
<circle class="s" cx="243.5" cy="634.9"/>
<circle class="s" cx="228.0" cy="642.4"/>
<circle class="s" cx="235.7" cy="640.7"/>
<circle class="s" cx="210.4" cy="644.8"/>
<circle class="s" cx="209.2" cy="642.6"/>
<circle class="s" cx="229.8" cy="643.0"/>
<circle class="s" cx="219.6" cy="641.9"/>
<circle class="s" cx="209.6" cy="643.5"/>
<circle class="s" cx="205.8" cy="641.6"/>
<circle class="s" cx="207.1" cy="642.3"/>
<circle class="s" cx="213.3" cy="641.7"/>
<circle class="s" cx="234.3" cy="638.5"/>
<circle class="s" cx="231.7" cy="641.2"/>
<circle class="s" cx="222.4" cy="644.1"/>
<circle class="s" cx="241.9" cy="637.2"/>
<circle class="s" cx="229.3" cy="642.2"/>
<circle class="s" cx="227.9" cy="640.7"/>
<circle class="s" cx="238.0" cy="638.0"/>
<circle class="s" cx="229.2" cy="643.2"/>
<circle class="s" cx="240.6" cy="637.8"/>
<circle class="s" cx="213.6" cy="640.7"/>
<circle class="s" cx="214.6" cy="640.8"/>
<circle class="s" cx="218.2" cy="641.4"/>
<circle class="s" cx="237.4" cy="638.3"/>
<circle class="s" cx="236.5" cy="640.7"/>
<circle class="s" cx="233.0" cy="639.9"/>
<circle class="s" cx="213.8" cy="641.1"/>
<circle class="s" cx="214.0" cy="641.0"/>
<circle class="s" cx="206.0" cy="641.5"/>
<circle class="s" cx="211.4" cy="644.4"/>
<circle class="s" cx="233.7" cy="640.1"/>
<circle class="s" cx="241.6" cy="637.1"/>
<circle class="s" cx="241.9" cy="638.9"/>
<circle class="s" cx="225.4" cy="644.4"/>
<circle class="s" cx="216.8" cy="644.6"/>
<circle class="s" cx="220.3" cy="641.4"/>
<circle class="s" cx="223.5" cy="642.1"/>
<circle class="s" cx="232.0" cy="641.0"/>
<circle class="s" cx="222.7" cy="655.6"/>
<circle class="s" cx="211.9" cy="654.1"/>
<circle class="s" cx="230.2" cy="652.1"/>
<circle class="s" cx="217.8" cy="646.1"/>
<circle class="s" cx="216.7" cy="645.6"/>
<circle class="s" cx="211.9" cy="656.1"/>
<circle class="s" cx="220.0" cy="645.8"/>
<circle class="s" cx="238.4" cy="657.1"/>
<circle class="s" cx="227.6" cy="648.2"/>
<circle class="s" cx="233.8" cy="645.5"/>
<circle class="s" cx="206.8" cy="656.4"/>
<circle class="s" cx="229.7" cy="655.5"/>
<circle class="s" cx="229.3" cy="647.9"/>
<circle class="s" cx="214.7" cy="652.9"/>
<circle class="s" cx="216.4" cy="655.4"/>
<circle class="s" cx="221.7" cy="652.7"/>
<circle class="s" cx="236.1" cy="651.3"/>
<circle class="s" cx="204.6" cy="655.6"/>
<circle class="s" cx="210.0" cy="645.4"/>
<circle class="s" cx="230.6" cy="651.5"/>
<circle class="s" cx="207.3" cy="645.1"/>
<circle class="s" cx="208.4" cy="650.6"/>
<circle class="s" cx="230.2" cy="647.6"/>
<circle class="s" cx="206.3" cy="650.6"/>
<circle class="s" cx="213.7" cy="657.3"/>
<circle class="s" cx="215.5" cy="649.6"/>
<circle class="s" cx="215.8" cy="646.6"/>
<circle class="s" cx="214.4" cy="649.1"/>
<circle class="s" cx="217.6" cy="655.3"/>
<circle class="s" cx="212.3" cy="646.6"/>
<circle class="s" cx="214.9" cy="646.4"/>
<circle class="s" cx="238.5" cy="650.8"/>
<circle class="s" cx="209.8" cy="621.4"/>
<circle class="s" cx="205.4" cy="624.6"/>
<circle class="s" cx="207.9" cy="635.4"/>
<circle class="s" cx="210.5" cy="623.3"/>
<circle class="s" cx="209.2" cy="626.6"/>
<circle class="s" cx="206.6" cy="625.4"/>
<circle class="s" cx="212.4" cy="624.7"/>
<circle class="s" cx="211.0" cy="629.0"/>
<circle class="s" cx="216.4" cy="630.5"/>
<circle class="s" cx="211.5" cy="624.3"/>
<circle class="s" cx="204.8" cy="633.5"/>
<circle class="s" cx="210.1" cy="634.3"/>
<circle class="s" cx="207.5" cy="632.2"/>
<circle class="s" cx="204.4" cy="635.5"/>
<circle class="s" cx="246.7" cy="615.4"/>
<circle class="s" cx="249.8" cy="624.7"/>
<circle class="s" cx="249.4" cy="641.8"/>
<circle class="s" cx="245.8" cy="631.5"/>
<circle class="s" cx="253.9" cy="618.4"/>
<circle class="s" cx="247.4" cy="637.5"/>
<circle class="s" cx="254.7" cy="652.2"/>
<circle class="s" cx="256.5" cy="634.6"/>
<circle class="s" cx="246.8" cy="646.4"/>
<circle class="s" cx="248.8" cy="633.9"/>
<circle class="s" cx="260.6" cy="641.7"/>
<circle class="s" cx="249.6" cy="654.5"/>
<circle class="s" cx="251.4" cy="624.0"/>
<circle class="s" cx="259.0" cy="631.3"/>
<circle class="s" cx="254.5" cy="622.8"/>
<circle class="s" cx="254.6" cy="640.2"/>
<circle class="s" cx="253.6" cy="647.3"/>
<circle class="s" cx="260.7" cy="635.0"/>
<circle class="s" cx="248.3" cy="623.4"/>
<circle class="s" cx="254.6" cy="636.1"/>
<circle class="s" cx="256.7" cy="644.7"/>
<circle class="s" cx="257.8" cy="652.3"/>
<circle class="s" cx="246.0" cy="649.9"/>
<circle class="s" cx="252.8" cy="618.4"/>
<circle class="s" cx="251.4" cy="647.5"/>
<circle class="s" cx="262.7" cy="640.9"/>
<circle class="s" cx="248.2" cy="633.4"/>
<circle class="s" cx="253.8" cy="648.2"/>
<circle class="s" cx="251.3" cy="640.5"/>
<circle class="s" cx="249.6" cy="635.9"/>
<circle class="s" cx="253.1" cy="620.2"/>
<circle class="s" cx="260.2" cy="652.5"/>
<circle class="s" cx="248.7" cy="659.8"/>
<circle class="s" cx="260.5" cy="629.5"/>
<circle class="s" cx="250.1" cy="627.5"/>
<circle class="s" cx="246.2" cy="651.1"/>
<circle class="s" cx="257.4" cy="631.9"/>
<circle class="s" cx="254.5" cy="623.4"/>
<circle class="s" cx="254.1" cy="623.0"/>
<circle class="s" cx="248.8" cy="611.6"/>
<circle class="s" cx="290.8" cy="657.7"/>
<circle class="s" cx="254.4" cy="644.0"/>
<circle class="s" cx="270.9" cy="646.5"/>
<circle class="s" cx="248.8" cy="641.2"/>
<circle class="s" cx="283.4" cy="641.9"/>
<circle class="s" cx="251.4" cy="641.9"/>
<circle class="s" cx="284.2" cy="653.1"/>
<circle class="s" cx="285.8" cy="650.2"/>
<circle class="s" cx="256.4" cy="647.7"/>
<circle class="s" cx="251.1" cy="638.8"/>
<circle class="s" cx="262.7" cy="655.4"/>
<circle class="s" cx="277.5" cy="649.5"/>
<circle class="s" cx="258.5" cy="648.3"/>
<circle class="s" cx="284.4" cy="653.2"/>
<circle class="s" cx="271.1" cy="655.6"/>
<circle class="s" cx="276.5" cy="654.5"/>
<circle class="s" cx="282.6" cy="646.5"/>
<circle class="s" cx="279.8" cy="649.8"/>
<circle class="s" cx="282.8" cy="646.2"/>
<circle class="s" cx="264.1" cy="652.3"/>
<circle class="s" cx="274.4" cy="650.1"/>
<circle class="s" cx="247.6" cy="659.9"/>
<circle class="s" cx="261.9" cy="640.9"/>
<circle class="s" cx="251.8" cy="647.3"/>
<circle class="s" cx="251.0" cy="652.8"/>
<circle class="s" cx="281.2" cy="653.3"/>
<circle class="s" cx="250.6" cy="660.4"/>
<circle class="s" cx="281.6" cy="659.7"/>
<circle class="s" cx="256.3" cy="653.2"/>
<circle class="s" cx="284.6" cy="654.3"/>
<circle class="s" cx="248.4" cy="658.3"/>
<circle class="s" cx="261.0" cy="651.9"/>
<circle class="s" cx="277.3" cy="654.4"/>
<circle class="s" cx="269.1" cy="651.1"/>
<circle class="s" cx="265.9" cy="650.4"/>
<circle class="s" cx="262.7" cy="658.0"/>
<circle class="s" cx="285.0" cy="642.7"/>
<circle class="s" cx="279.7" cy="655.8"/>
<circle class="s" cx="263.3" cy="655.3"/>
<circle class="s" cx="248.5" cy="659.7"/>
<circle class="s" cx="264.9" cy="643.5"/>
<circle class="s" cx="279.9" cy="652.3"/>
<circle class="s" cx="251.1" cy="640.1"/>
<circle class="s" cx="288.6" cy="651.9"/>
<circle class="s" cx="264.0" cy="651.6"/>
<circle class="s" cx="261.9" cy="643.1"/>
<circle class="s" cx="279.3" cy="644.6"/>
<circle class="s" cx="274.8" cy="654.1"/>
<circle class="s" cx="249.7" cy="641.5"/>
<circle class="s" cx="261.4" cy="644.9"/>
<circle class="s" cx="280.6" cy="652.0"/>
<circle class="s" cx="269.5" cy="651.7"/>
<circle class="s" cx="250.1" cy="642.6"/>
<circle class="s" cx="277.6" cy="648.3"/>
<circle class="s" cx="282.9" cy="652.7"/>
<circle class="s" cx="270.5" cy="653.4"/>
<circle class="s" cx="276.1" cy="653.9"/>
<circle class="s" cx="286.5" cy="651.9"/>
<circle class="s" cx="279.7" cy="649.6"/>
<circle class="s" cx="304.8" cy="657.9"/>
<circle class="s" cx="314.0" cy="659.5"/>
<circle class="s" cx="306.9" cy="660.2"/>
<circle class="s" cx="298.6" cy="659.6"/>
<circle class="s" cx="311.1" cy="656.4"/>
<circle class="s" cx="300.6" cy="656.5"/>
<circle class="s" cx="307.7" cy="651.8"/>
<circle class="s" cx="299.1" cy="656.3"/>
<circle class="s" cx="308.9" cy="646.1"/>
<circle class="s" cx="322.8" cy="657.0"/>
<circle class="s" cx="307.3" cy="653.4"/>
<circle class="s" cx="308.4" cy="658.2"/>
<circle class="s" cx="301.9" cy="656.3"/>
<circle class="s" cx="297.7" cy="658.1"/>
<circle class="s" cx="296.4" cy="659.6"/>
<circle class="s" cx="296.5" cy="659.5"/>
<circle class="s" cx="327.4" cy="660.3"/>
<circle class="s" cx="305.0" cy="652.3"/>
<circle class="s" cx="302.0" cy="651.7"/>
<circle class="s" cx="300.9" cy="659.5"/>
<circle class="s" cx="309.2" cy="645.0"/>
<circle class="s" cx="313.4" cy="652.8"/>
<circle class="s" cx="305.9" cy="655.9"/>
<circle class="s" cx="322.3" cy="655.3"/>
<circle class="s" cx="324.9" cy="658.7"/>
<circle class="s" cx="324.4" cy="654.9"/>
<circle class="s" cx="294.6" cy="659.6"/>
<circle class="s" cx="324.7" cy="659.3"/>
<circle class="s" cx="322.4" cy="656.4"/>
<circle class="s" cx="308.8" cy="657.8"/>
<circle class="s" cx="315.5" cy="660.2"/>
<circle class="s" cx="321.0" cy="658.9"/>
<circle class="s" cx="327.1" cy="655.7"/>
<circle class="s" cx="302.1" cy="646.8"/>
<circle class="s" cx="323.9" cy="658.4"/>
<circle class="s" cx="314.8" cy="654.2"/>
<circle class="s" cx="308.5" cy="659.9"/>
<circle class="s" cx="329.3" cy="657.8"/>
<circle class="s" cx="319.1" cy="658.0"/>
<circle class="s" cx="301.8" cy="660.2"/>
<circle class="s" cx="325.0" cy="660.0"/>
<circle class="s" cx="318.9" cy="651.8"/>
<circle class="s" cx="301.6" cy="653.8"/>
<circle class="s" cx="299.3" cy="655.8"/>
<circle class="s" cx="317.7" cy="660.1"/>
<circle class="s" cx="305.2" cy="634.7"/>
<circle class="s" cx="310.0" cy="643.6"/>
<circle class="s" cx="306.1" cy="639.6"/>
<circle class="s" cx="307.5" cy="644.8"/>
<circle class="s" cx="306.2" cy="639.2"/>
<circle class="s" cx="308.9" cy="644.5"/>
<circle class="s" cx="304.4" cy="633.9"/>
<circle class="s" cx="307.9" cy="643.5"/>
<circle class="s" cx="321.3" cy="645.0"/>
<circle class="s" cx="319.1" cy="640.0"/>
<circle class="s" cx="318.8" cy="648.3"/>
<circle class="s" cx="321.1" cy="636.7"/>
<circle class="s" cx="320.0" cy="642.2"/>
<circle class="s" cx="321.3" cy="647.0"/>
<circle class="s" cx="319.6" cy="641.2"/>
<circle class="s" cx="318.9" cy="635.6"/>
<circle class="s" cx="318.6" cy="647.0"/>
</g>
<g fill="#87ceeb" fill-opacity="0.78" stroke-opacity="1.00">
<circle class="s" cx="264.0" cy="578.0"/>
<circle class="s" cx="264.5" cy="587.5"/>
<circle class="s" cx="275.0" cy="590.0"/>
<circle class="s" cx="276.0" cy="594.0"/>
<circle class="s" cx="261.5" cy="597.5"/>
<circle class="s" cx="267.5" cy="600.5"/>
<circle class="s" cx="263.5" cy="606.0"/>
<circle class="s" cx="261.0" cy="607.0"/>
<circle class="s" cx="260.0" cy="610.0"/>
<circle class="s" cx="266.5" cy="611.5"/>
<circle class="s" cx="270.5" cy="611.5"/>
<circle class="s" cx="276.5" cy="607.5"/>
<circle class="s" cx="277.0" cy="611.0"/>
<circle class="s" cx="265.5" cy="647.0"/>
</g>
<g fill="#006400" fill-opacity="0.55" stroke-opacity="0.80">
<circle class="s" cx="264.0" cy="584.0"/>
<circle class="s" cx="275.0" cy="596.5"/>
</g>
<g fill="#006400" fill-opacity="0.85" stroke-opacity="1.00" style="stroke-width:.65px">
<circle class="s" cx="275.0" cy="548.0"/>
<circle class="s" cx="273.0" cy="602.5"/>
<circle class="s" cx="274.5" cy="604.0"/>
</g>
<g fill="#ff0000" fill-opacity="0.55" stroke-opacity="0.80">
<circle class="s" cx="274.0" cy="515.5"/>
<circle class="s" cx="274.5" cy="525.0"/>
<circle class="s" cx="276.0" cy="527.5"/>
<circle class="s" cx="273.0" cy="532.5"/>
</g>
<g fill="#ffa500" fill-opacity="0.5" stroke-opacity="0.75">
<circle class="s" cx="276.0" cy="580.5"/>
</g>
<g fill="#ffa500" fill-opacity="0.85" stroke-opacity="1.00" style="stroke-width:.65px">
<circle class="s" cx="274.5" cy="559.0"/>
<circle class="s" cx="275.0" cy="561.0"/>
<circle class="s" cx="275.5" cy="571.0"/>
</g>
<g fill="#ff0000" fill-opacity="0.9" stroke-opacity="1.00" style="stroke-width:.65px">
<circle class="s" cx="274.5" cy="513.5"/>
<circle class="s" cx="275.5" cy="518.0"/>
<circle class="s" cx="274.0" cy="531.0"/>
<circle class="s" cx="273.0" cy="545.0"/>
<circle class="s" cx="272.0" cy="575.5"/>
</g>
<path d="M274.5 506.3L277.7 509.5L274.5 512.7L271.3 509.5Z" fill="#a020f0" stroke="#1a0030" stroke-width="0.55"/>
<path d="M198.5 502.0V666.6H334.3" fill="none" stroke="#3c3c3c" stroke-width="0.9"/>
<path d="M225.4 666.6v2.4" stroke="#333" stroke-width="0.8"/>
<text x="225.4" y="675.8" text-anchor="middle" class="t" font-size="6.4" fill="#4d4d4d">131.0</text>
<path d="M256.4 666.6v2.4" stroke="#333" stroke-width="0.8"/>
<text x="256.4" y="675.8" text-anchor="middle" class="t" font-size="6.4" fill="#4d4d4d">131.5</text>
<path d="M287.5 666.6v2.4" stroke="#333" stroke-width="0.8"/>
<text x="287.5" y="675.8" text-anchor="middle" class="t" font-size="6.4" fill="#4d4d4d">132.0</text>
<path d="M318.6 666.6v2.4" stroke="#333" stroke-width="0.8"/>
<text x="318.6" y="675.8" text-anchor="middle" class="t" font-size="6.4" fill="#4d4d4d">132.5</text>
<path d="M198.5 660.0h-2.4" stroke="#333" stroke-width="0.8"/>
<text x="194.9" y="662.6" text-anchor="end" class="t" font-size="6.4" fill="#4d4d4d">0</text>
<path d="M198.5 606.0h-2.4" stroke="#333" stroke-width="0.8"/>
<text x="194.9" y="608.6" text-anchor="end" class="t" font-size="6.4" fill="#4d4d4d">2</text>
<path d="M198.5 552.0h-2.4" stroke="#333" stroke-width="0.8"/>
<text x="194.9" y="554.6" text-anchor="end" class="t" font-size="6.4" fill="#4d4d4d">4</text>
<text x="265.4" y="685.5" text-anchor="middle" font-size="7.25" fill="#000">chr5 (Mb)</text>
<text x="180.8" y="619.4" text-anchor="middle" font-size="7.6" fill="#000" transform="rotate(-90 180.8 619.4)">SAH_GWAS-log<tspan font-size="5.32" dy="1.7">10</tspan><tspan dy="-1.7">(P)</tspan></text>
<g fill="#000084" fill-opacity="0.75" stroke-opacity="1.00">
<circle class="s" cx="366.2" cy="456.2"/>
<circle class="s" cx="366.2" cy="459.7"/>
<circle class="s" cx="366.2" cy="463.2"/>
<circle class="s" cx="366.2" cy="468.2"/>
<circle class="s" cx="370.2" cy="471.2"/>
<circle class="s" cx="366.7" cy="474.8"/>
<circle class="s" cx="366.2" cy="477.8"/>
<circle class="s" cx="394.8" cy="456.2"/>
<circle class="s" cx="393.8" cy="456.2"/>
<circle class="s" cx="396.3" cy="463.2"/>
<circle class="s" cx="394.8" cy="474.8"/>
<circle class="s" cx="394.8" cy="477.3"/>
<circle class="s" cx="376.7" cy="510.5"/>
<circle class="s" cx="366.4" cy="476.3"/>
<circle class="s" cx="394.3" cy="456.2"/>
</g>
<g fill="#ff0000" fill-opacity="0.9" stroke-opacity="1.00" style="stroke-width:.65px">
<circle class="s" cx="500.4" cy="364.1"/>
<circle class="s" cx="500.9" cy="366.6"/>
<circle class="s" cx="499.9" cy="367.1"/>
<circle class="s" cx="499.9" cy="375.7"/>
<circle class="s" cx="499.9" cy="378.7"/>
</g>
<g fill="#000084" fill-opacity="0.62" stroke-opacity="0.87">
<circle class="s" cx="369.2" cy="515.5"/>
<circle class="s" cx="379.0" cy="517.1"/>
<circle class="s" cx="379.6" cy="520.3"/>
<circle class="s" cx="366.5" cy="523.0"/>
<circle class="s" cx="366.8" cy="531.7"/>
<circle class="s" cx="372.4" cy="530.1"/>
<circle class="s" cx="389.9" cy="529.3"/>
<circle class="s" cx="389.1" cy="538.4"/>
<circle class="s" cx="372.1" cy="536.8"/>
<circle class="s" cx="368.6" cy="540.5"/>
<circle class="s" cx="372.1" cy="541.6"/>
<circle class="s" cx="366.5" cy="545.6"/>
<circle class="s" cx="372.1" cy="547.2"/>
<circle class="s" cx="366.2" cy="548.3"/>
<circle class="s" cx="374.5" cy="558.9"/>
<circle class="s" cx="373.4" cy="561.6"/>
<circle class="s" cx="392.6" cy="572.8"/>
<circle class="s" cx="399.0" cy="574.6"/>
<circle class="s" cx="398.7" cy="581.5"/>
<circle class="s" cx="418.7" cy="500.9"/>
<circle class="s" cx="419.2" cy="506.2"/>
<circle class="s" cx="418.4" cy="509.9"/>
<circle class="s" cx="417.4" cy="511.8"/>
<circle class="s" cx="419.2" cy="518.4"/>
<circle class="s" cx="418.2" cy="503.0"/>
<circle class="s" cx="418.7" cy="507.0"/>
<circle class="s" cx="379.8" cy="521.4"/>
<circle class="s" cx="367.3" cy="560.2"/>
<circle class="s" cx="368.5" cy="583.9"/>
<circle class="s" cx="366.6" cy="571.4"/>
<circle class="s" cx="366.8" cy="584.9"/>
<circle class="s" cx="366.0" cy="553.2"/>
<circle class="s" cx="369.0" cy="567.9"/>
<circle class="s" cx="368.8" cy="564.3"/>
<circle class="s" cx="369.1" cy="566.6"/>
<circle class="s" cx="369.5" cy="567.6"/>
<circle class="s" cx="369.0" cy="584.5"/>
<circle class="s" cx="369.0" cy="579.3"/>
<circle class="s" cx="365.6" cy="571.6"/>
<circle class="s" cx="367.6" cy="581.9"/>
<circle class="s" cx="366.6" cy="558.1"/>
<circle class="s" cx="368.1" cy="577.2"/>
<circle class="s" cx="369.1" cy="584.4"/>
<circle class="s" cx="368.1" cy="582.8"/>
<circle class="s" cx="369.1" cy="579.4"/>
<circle class="s" cx="367.8" cy="576.1"/>
<circle class="s" cx="365.2" cy="578.0"/>
<circle class="s" cx="368.2" cy="552.6"/>
<circle class="s" cx="367.3" cy="570.5"/>
<circle class="s" cx="368.8" cy="561.4"/>
<circle class="s" cx="368.8" cy="584.6"/>
<circle class="s" cx="366.3" cy="564.9"/>
<circle class="s" cx="368.1" cy="571.0"/>
<circle class="s" cx="368.6" cy="565.6"/>
<circle class="s" cx="365.3" cy="552.4"/>
<circle class="s" cx="364.9" cy="565.8"/>
<circle class="s" cx="369.7" cy="552.3"/>
<circle class="s" cx="367.8" cy="582.6"/>
<circle class="s" cx="368.2" cy="552.3"/>
<circle class="s" cx="368.5" cy="566.5"/>
<circle class="s" cx="368.1" cy="570.8"/>
<circle class="s" cx="368.7" cy="572.4"/>
<circle class="s" cx="367.4" cy="557.3"/>
<circle class="s" cx="365.7" cy="565.7"/>
<circle class="s" cx="369.2" cy="583.1"/>
<circle class="s" cx="365.0" cy="567.3"/>
<circle class="s" cx="367.7" cy="568.9"/>
<circle class="s" cx="369.0" cy="584.3"/>
<circle class="s" cx="368.9" cy="563.9"/>
<circle class="s" cx="367.2" cy="583.3"/>
<circle class="s" cx="365.5" cy="559.6"/>
<circle class="s" cx="369.0" cy="567.7"/>
<circle class="s" cx="364.7" cy="569.5"/>
<circle class="s" cx="367.2" cy="558.3"/>
<circle class="s" cx="366.7" cy="570.5"/>
<circle class="s" cx="365.5" cy="554.3"/>
<circle class="s" cx="365.2" cy="568.0"/>
<circle class="s" cx="368.7" cy="571.2"/>
<circle class="s" cx="368.3" cy="579.7"/>
<circle class="s" cx="370.1" cy="574.6"/>
<circle class="s" cx="372.8" cy="570.5"/>
<circle class="s" cx="374.2" cy="572.8"/>
<circle class="s" cx="374.2" cy="569.7"/>
<circle class="s" cx="374.0" cy="571.6"/>
<circle class="s" cx="370.3" cy="571.6"/>
<circle class="s" cx="374.3" cy="583.8"/>
<circle class="s" cx="370.9" cy="568.2"/>
<circle class="s" cx="371.2" cy="583.8"/>
<circle class="s" cx="371.1" cy="575.1"/>
<circle class="s" cx="374.2" cy="582.8"/>
<circle class="s" cx="370.0" cy="571.9"/>
<circle class="s" cx="370.8" cy="579.6"/>
<circle class="s" cx="374.8" cy="583.7"/>
<circle class="s" cx="371.5" cy="580.2"/>
<circle class="s" cx="371.5" cy="567.7"/>
<circle class="s" cx="370.9" cy="571.2"/>
<circle class="s" cx="372.3" cy="578.8"/>
<circle class="s" cx="371.2" cy="571.4"/>
<circle class="s" cx="373.2" cy="572.3"/>
</g>
<g fill="#000084" fill-opacity="0.86" stroke-opacity="1.00">
<circle class="s" cx="380.1" cy="522.4"/>
<circle class="s" cx="380.6" cy="523.8"/>
<circle class="s" cx="366.8" cy="527.0"/>
<circle class="s" cx="371.8" cy="544.8"/>
<circle class="s" cx="368.6" cy="550.4"/>
<circle class="s" cx="370.2" cy="552.5"/>
<circle class="s" cx="416.6" cy="501.4"/>
<circle class="s" cx="419.8" cy="502.5"/>
<circle class="s" cx="417.9" cy="504.3"/>
<circle class="s" cx="417.4" cy="507.8"/>
<circle class="s" cx="419.5" cy="508.3"/>
<circle class="s" cx="419.2" cy="512.6"/>
<circle class="s" cx="417.1" cy="515.0"/>
<circle class="s" cx="418.7" cy="515.2"/>
<circle class="s" cx="420.6" cy="515.5"/>
<circle class="s" cx="418.2" cy="513.6"/>
<circle class="s" cx="369.0" cy="557.6"/>
<circle class="s" cx="367.6" cy="559.8"/>
<circle class="s" cx="366.8" cy="582.6"/>
<circle class="s" cx="368.0" cy="570.2"/>
<circle class="s" cx="369.2" cy="584.5"/>
<circle class="s" cx="367.9" cy="558.1"/>
<circle class="s" cx="368.7" cy="582.6"/>
<circle class="s" cx="368.7" cy="558.6"/>
<circle class="s" cx="367.1" cy="584.5"/>
<circle class="s" cx="367.0" cy="552.8"/>
<circle class="s" cx="365.7" cy="565.8"/>
<circle class="s" cx="365.2" cy="583.7"/>
<circle class="s" cx="365.3" cy="567.0"/>
<circle class="s" cx="370.0" cy="578.0"/>
<circle class="s" cx="367.4" cy="569.9"/>
<circle class="s" cx="369.6" cy="578.9"/>
<circle class="s" cx="366.9" cy="553.1"/>
<circle class="s" cx="367.8" cy="555.1"/>
<circle class="s" cx="367.6" cy="571.2"/>
<circle class="s" cx="365.8" cy="580.3"/>
<circle class="s" cx="369.9" cy="559.2"/>
<circle class="s" cx="367.1" cy="554.0"/>
<circle class="s" cx="367.8" cy="569.8"/>
<circle class="s" cx="367.6" cy="584.4"/>
<circle class="s" cx="366.2" cy="581.3"/>
<circle class="s" cx="365.4" cy="568.0"/>
<circle class="s" cx="366.9" cy="573.2"/>
<circle class="s" cx="369.8" cy="567.5"/>
<circle class="s" cx="368.5" cy="574.4"/>
<circle class="s" cx="366.2" cy="583.7"/>
<circle class="s" cx="368.2" cy="575.3"/>
<circle class="s" cx="367.2" cy="576.1"/>
<circle class="s" cx="368.8" cy="552.8"/>
<circle class="s" cx="369.2" cy="565.4"/>
<circle class="s" cx="367.6" cy="574.7"/>
<circle class="s" cx="367.9" cy="562.9"/>
<circle class="s" cx="365.8" cy="580.7"/>
<circle class="s" cx="366.4" cy="577.3"/>
<circle class="s" cx="366.1" cy="553.9"/>
<circle class="s" cx="368.7" cy="582.7"/>
<circle class="s" cx="367.2" cy="554.6"/>
<circle class="s" cx="368.8" cy="569.8"/>
<circle class="s" cx="369.0" cy="556.9"/>
<circle class="s" cx="368.6" cy="561.2"/>
<circle class="s" cx="365.2" cy="577.9"/>
<circle class="s" cx="367.9" cy="582.6"/>
<circle class="s" cx="369.2" cy="557.5"/>
<circle class="s" cx="368.0" cy="571.3"/>
<circle class="s" cx="365.3" cy="584.5"/>
<circle class="s" cx="368.1" cy="580.3"/>
<circle class="s" cx="367.4" cy="572.0"/>
<circle class="s" cx="365.0" cy="555.0"/>
<circle class="s" cx="365.8" cy="583.9"/>
<circle class="s" cx="365.7" cy="578.6"/>
<circle class="s" cx="365.1" cy="579.0"/>
<circle class="s" cx="369.1" cy="552.8"/>
<circle class="s" cx="365.1" cy="562.1"/>
<circle class="s" cx="368.8" cy="569.5"/>
<circle class="s" cx="365.4" cy="562.2"/>
<circle class="s" cx="365.1" cy="577.8"/>
<circle class="s" cx="368.3" cy="577.2"/>
<circle class="s" cx="367.3" cy="553.3"/>
<circle class="s" cx="368.3" cy="565.7"/>
<circle class="s" cx="367.2" cy="552.9"/>
<circle class="s" cx="367.5" cy="554.2"/>
<circle class="s" cx="366.4" cy="566.6"/>
<circle class="s" cx="369.5" cy="558.5"/>
<circle class="s" cx="369.4" cy="568.2"/>
<circle class="s" cx="372.8" cy="579.2"/>
<circle class="s" cx="374.2" cy="580.8"/>
<circle class="s" cx="373.4" cy="576.3"/>
<circle class="s" cx="371.0" cy="580.1"/>
<circle class="s" cx="374.3" cy="581.1"/>
<circle class="s" cx="373.6" cy="575.6"/>
<circle class="s" cx="371.9" cy="584.0"/>
<circle class="s" cx="374.4" cy="582.2"/>
<circle class="s" cx="375.5" cy="579.3"/>
<circle class="s" cx="372.2" cy="579.2"/>
<circle class="s" cx="371.9" cy="580.3"/>
<circle class="s" cx="370.1" cy="571.4"/>
<circle class="s" cx="371.2" cy="570.5"/>
<circle class="s" cx="370.5" cy="575.9"/>
<circle class="s" cx="374.6" cy="582.3"/>
<circle class="s" cx="371.5" cy="574.7"/>
<circle class="s" cx="371.3" cy="579.1"/>
<circle class="s" cx="371.3" cy="580.9"/>
<circle class="s" cx="372.6" cy="577.2"/>
<circle class="s" cx="374.7" cy="570.9"/>
<circle class="s" cx="371.5" cy="580.1"/>
<circle class="s" cx="374.7" cy="574.3"/>
<circle class="s" cx="374.0" cy="574.5"/>
<circle class="s" cx="370.1" cy="577.2"/>
<circle class="s" cx="373.1" cy="579.3"/>
<circle class="s" cx="371.7" cy="583.2"/>
<circle class="s" cx="375.4" cy="568.2"/>
<circle class="s" cx="370.3" cy="569.5"/>
<circle class="s" cx="372.7" cy="572.8"/>
<circle class="s" cx="374.1" cy="584.7"/>
</g>
<g fill="#006400" fill-opacity="0.55" stroke-opacity="0.80">
<circle class="s" cx="417.6" cy="542.1"/>
<circle class="s" cx="438.7" cy="541.3"/>
<circle class="s" cx="416.0" cy="550.9"/>
<circle class="s" cx="409.4" cy="567.4"/>
<circle class="s" cx="407.2" cy="577.3"/>
</g>
<g fill="#006400" fill-opacity="0.9" stroke-opacity="1.00" style="stroke-width:.65px">
<circle class="s" cx="436.5" cy="529.9"/>
<circle class="s" cx="436.3" cy="532.3"/>
<circle class="s" cx="436.5" cy="531.1"/>
</g>
<g fill="#ffa500" fill-opacity="0.6" stroke-opacity="0.85">
<circle class="s" cx="427.0" cy="504.3"/>
<circle class="s" cx="423.5" cy="508.0"/>
<circle class="s" cx="424.6" cy="515.0"/>
<circle class="s" cx="423.0" cy="522.4"/>
<circle class="s" cx="425.6" cy="523.8"/>
<circle class="s" cx="426.2" cy="526.4"/>
<circle class="s" cx="423.2" cy="529.1"/>
<circle class="s" cx="430.7" cy="549.9"/>
</g>
<g fill="#000084" fill-opacity="0.62" stroke-opacity="0.87">
<circle class="s" cx="386.5" cy="593.3"/>
<circle class="s" cx="387.0" cy="596.0"/>
<circle class="s" cx="387.8" cy="598.6"/>
<circle class="s" cx="382.8" cy="604.5"/>
<circle class="s" cx="382.0" cy="612.0"/>
<circle class="s" cx="382.5" cy="615.1"/>
<circle class="s" cx="389.9" cy="622.9"/>
<circle class="s" cx="379.8" cy="629.5"/>
<circle class="s" cx="380.9" cy="634.1"/>
<circle class="s" cx="385.1" cy="641.2"/>
<circle class="s" cx="381.4" cy="645.0"/>
<circle class="s" cx="390.7" cy="630.6"/>
<circle class="s" cx="389.9" cy="634.6"/>
<circle class="s" cx="388.1" cy="643.4"/>
<circle class="s" cx="389.1" cy="637.5"/>
<circle class="s" cx="374.0" cy="639.9"/>
<circle class="s" cx="368.1" cy="634.9"/>
<circle class="s" cx="372.5" cy="581.6"/>
<circle class="s" cx="372.7" cy="635.9"/>
<circle class="s" cx="366.7" cy="588.6"/>
<circle class="s" cx="367.8" cy="594.5"/>
<circle class="s" cx="370.1" cy="640.0"/>
<circle class="s" cx="369.1" cy="651.4"/>
<circle class="s" cx="366.9" cy="620.2"/>
<circle class="s" cx="370.4" cy="591.9"/>
<circle class="s" cx="375.1" cy="644.0"/>
<circle class="s" cx="365.9" cy="650.1"/>
<circle class="s" cx="366.2" cy="652.2"/>
<circle class="s" cx="371.4" cy="652.2"/>
<circle class="s" cx="369.7" cy="634.7"/>
<circle class="s" cx="368.6" cy="625.2"/>
<circle class="s" cx="373.3" cy="644.1"/>
<circle class="s" cx="374.6" cy="595.9"/>
<circle class="s" cx="373.6" cy="601.4"/>
<circle class="s" cx="364.5" cy="628.8"/>
<circle class="s" cx="365.3" cy="633.8"/>
<circle class="s" cx="367.4" cy="610.1"/>
<circle class="s" cx="370.0" cy="587.2"/>
<circle class="s" cx="365.3" cy="600.9"/>
<circle class="s" cx="365.6" cy="644.0"/>
<circle class="s" cx="369.6" cy="599.9"/>
<circle class="s" cx="368.9" cy="643.5"/>
<circle class="s" cx="374.0" cy="601.4"/>
<circle class="s" cx="364.7" cy="641.3"/>
<circle class="s" cx="370.8" cy="588.2"/>
<circle class="s" cx="365.6" cy="610.2"/>
<circle class="s" cx="367.7" cy="624.8"/>
<circle class="s" cx="367.5" cy="631.3"/>
<circle class="s" cx="370.9" cy="588.1"/>
<circle class="s" cx="365.1" cy="650.6"/>
<circle class="s" cx="365.2" cy="590.3"/>
<circle class="s" cx="373.5" cy="641.2"/>
<circle class="s" cx="368.3" cy="595.1"/>
<circle class="s" cx="368.3" cy="652.6"/>
<circle class="s" cx="369.0" cy="624.0"/>
<circle class="s" cx="369.1" cy="637.3"/>
<circle class="s" cx="372.9" cy="642.4"/>
<circle class="s" cx="365.7" cy="635.5"/>
<circle class="s" cx="369.8" cy="596.7"/>
<circle class="s" cx="367.2" cy="628.0"/>
<circle class="s" cx="372.7" cy="611.0"/>
<circle class="s" cx="372.4" cy="638.7"/>
<circle class="s" cx="364.5" cy="638.5"/>
<circle class="s" cx="370.9" cy="585.5"/>
<circle class="s" cx="370.7" cy="620.1"/>
<circle class="s" cx="367.6" cy="632.2"/>
<circle class="s" cx="375.3" cy="600.3"/>
<circle class="s" cx="367.6" cy="612.6"/>
<circle class="s" cx="371.0" cy="599.0"/>
<circle class="s" cx="369.5" cy="605.6"/>
<circle class="s" cx="367.4" cy="615.9"/>
<circle class="s" cx="374.6" cy="626.0"/>
<circle class="s" cx="370.2" cy="617.0"/>
<circle class="s" cx="370.4" cy="596.0"/>
<circle class="s" cx="366.8" cy="611.7"/>
<circle class="s" cx="374.9" cy="634.6"/>
<circle class="s" cx="364.9" cy="614.7"/>
<circle class="s" cx="366.0" cy="639.5"/>
<circle class="s" cx="373.7" cy="646.1"/>
<circle class="s" cx="372.4" cy="628.5"/>
<circle class="s" cx="364.7" cy="589.3"/>
<circle class="s" cx="365.1" cy="652.6"/>
<circle class="s" cx="369.5" cy="639.7"/>
<circle class="s" cx="365.9" cy="626.8"/>
<circle class="s" cx="364.8" cy="624.7"/>
<circle class="s" cx="371.5" cy="608.5"/>
<circle class="s" cx="374.7" cy="594.5"/>
<circle class="s" cx="369.1" cy="599.8"/>
<circle class="s" cx="368.9" cy="649.7"/>
<circle class="s" cx="366.0" cy="644.3"/>
<circle class="s" cx="373.1" cy="607.5"/>
<circle class="s" cx="373.5" cy="611.0"/>
<circle class="s" cx="370.6" cy="596.2"/>
<circle class="s" cx="366.9" cy="633.3"/>
<circle class="s" cx="365.3" cy="593.2"/>
<circle class="s" cx="368.5" cy="596.5"/>
<circle class="s" cx="369.4" cy="601.0"/>
<circle class="s" cx="371.9" cy="628.1"/>
<circle class="s" cx="370.6" cy="589.3"/>
<circle class="s" cx="373.1" cy="621.0"/>
<circle class="s" cx="365.3" cy="591.9"/>
<circle class="s" cx="373.3" cy="642.3"/>
<circle class="s" cx="374.6" cy="629.1"/>
<circle class="s" cx="375.1" cy="600.4"/>
<circle class="s" cx="369.4" cy="640.3"/>
<circle class="s" cx="365.4" cy="592.6"/>
<circle class="s" cx="373.3" cy="621.0"/>
<circle class="s" cx="372.8" cy="587.0"/>
<circle class="s" cx="373.4" cy="602.1"/>
<circle class="s" cx="371.8" cy="619.1"/>
<circle class="s" cx="369.5" cy="614.1"/>
<circle class="s" cx="373.9" cy="598.5"/>
<circle class="s" cx="373.1" cy="644.0"/>
<circle class="s" cx="368.5" cy="632.2"/>
<circle class="s" cx="365.9" cy="630.6"/>
<circle class="s" cx="368.3" cy="592.9"/>
<circle class="s" cx="367.1" cy="646.1"/>
<circle class="s" cx="370.2" cy="613.0"/>
<circle class="s" cx="368.9" cy="609.6"/>
<circle class="s" cx="374.5" cy="644.9"/>
<circle class="s" cx="364.8" cy="608.8"/>
<circle class="s" cx="367.9" cy="642.3"/>
<circle class="s" cx="375.1" cy="592.7"/>
<circle class="s" cx="370.5" cy="633.3"/>
<circle class="s" cx="364.9" cy="615.8"/>
<circle class="s" cx="371.3" cy="586.8"/>
<circle class="s" cx="375.2" cy="618.0"/>
<circle class="s" cx="367.2" cy="596.6"/>
<circle class="s" cx="369.1" cy="600.5"/>
<circle class="s" cx="364.4" cy="610.7"/>
<circle class="s" cx="365.2" cy="586.0"/>
<circle class="s" cx="371.7" cy="611.7"/>
<circle class="s" cx="374.0" cy="642.3"/>
<circle class="s" cx="374.7" cy="626.7"/>
<circle class="s" cx="365.8" cy="641.2"/>
<circle class="s" cx="368.2" cy="613.7"/>
<circle class="s" cx="371.8" cy="628.2"/>
<circle class="s" cx="366.5" cy="603.1"/>
<circle class="s" cx="365.8" cy="599.0"/>
<circle class="s" cx="365.6" cy="623.1"/>
<circle class="s" cx="365.4" cy="617.5"/>
<circle class="s" cx="365.8" cy="599.0"/>
<circle class="s" cx="367.0" cy="632.5"/>
<circle class="s" cx="373.9" cy="609.9"/>
<circle class="s" cx="365.8" cy="623.5"/>
<circle class="s" cx="366.9" cy="636.0"/>
<circle class="s" cx="371.4" cy="639.2"/>
<circle class="s" cx="365.8" cy="621.4"/>
<circle class="s" cx="370.9" cy="636.1"/>
<circle class="s" cx="365.0" cy="635.5"/>
<circle class="s" cx="364.7" cy="635.7"/>
<circle class="s" cx="370.8" cy="604.8"/>
<circle class="s" cx="372.2" cy="607.9"/>
<circle class="s" cx="373.5" cy="639.1"/>
<circle class="s" cx="371.8" cy="630.6"/>
<circle class="s" cx="370.6" cy="622.3"/>
<circle class="s" cx="366.9" cy="615.7"/>
<circle class="s" cx="368.3" cy="620.5"/>
<circle class="s" cx="372.5" cy="602.1"/>
<circle class="s" cx="373.3" cy="606.1"/>
<circle class="s" cx="370.4" cy="646.6"/>
<circle class="s" cx="364.8" cy="642.1"/>
<circle class="s" cx="371.7" cy="618.6"/>
<circle class="s" cx="365.8" cy="644.6"/>
<circle class="s" cx="364.9" cy="590.1"/>
<circle class="s" cx="372.3" cy="597.7"/>
<circle class="s" cx="372.2" cy="597.4"/>
<circle class="s" cx="375.2" cy="609.6"/>
<circle class="s" cx="367.8" cy="602.2"/>
<circle class="s" cx="373.9" cy="591.7"/>
<circle class="s" cx="370.9" cy="625.1"/>
<circle class="s" cx="365.1" cy="634.2"/>
<circle class="s" cx="373.8" cy="626.1"/>
<circle class="s" cx="368.3" cy="651.4"/>
<circle class="s" cx="374.8" cy="592.9"/>
<circle class="s" cx="373.7" cy="606.5"/>
<circle class="s" cx="370.2" cy="650.1"/>
<circle class="s" cx="364.8" cy="587.0"/>
<circle class="s" cx="367.2" cy="628.8"/>
<circle class="s" cx="366.3" cy="641.3"/>
<circle class="s" cx="373.6" cy="634.2"/>
<circle class="s" cx="365.5" cy="612.1"/>
<circle class="s" cx="370.9" cy="626.7"/>
<circle class="s" cx="373.4" cy="606.5"/>
<circle class="s" cx="373.0" cy="608.3"/>
<circle class="s" cx="366.9" cy="652.6"/>
<circle class="s" cx="375.2" cy="591.5"/>
<circle class="s" cx="371.4" cy="640.8"/>
<circle class="s" cx="365.5" cy="637.1"/>
<circle class="s" cx="371.9" cy="593.2"/>
<circle class="s" cx="370.9" cy="651.2"/>
<circle class="s" cx="367.6" cy="645.4"/>
<circle class="s" cx="367.0" cy="651.4"/>
<circle class="s" cx="366.1" cy="598.6"/>
<circle class="s" cx="369.0" cy="625.7"/>
<circle class="s" cx="372.7" cy="592.9"/>
<circle class="s" cx="371.7" cy="611.3"/>
<circle class="s" cx="370.9" cy="623.7"/>
<circle class="s" cx="371.8" cy="592.8"/>
<circle class="s" cx="367.0" cy="652.7"/>
<circle class="s" cx="378.3" cy="627.7"/>
<circle class="s" cx="376.8" cy="634.8"/>
<circle class="s" cx="377.6" cy="597.7"/>
<circle class="s" cx="377.3" cy="642.2"/>
<circle class="s" cx="376.7" cy="635.7"/>
<circle class="s" cx="378.0" cy="632.4"/>
<circle class="s" cx="378.3" cy="615.9"/>
<circle class="s" cx="379.0" cy="630.5"/>
<circle class="s" cx="377.6" cy="627.6"/>
<circle class="s" cx="377.9" cy="625.8"/>
<circle class="s" cx="375.9" cy="616.4"/>
<circle class="s" cx="378.6" cy="613.9"/>
<circle class="s" cx="375.3" cy="614.1"/>
<circle class="s" cx="378.9" cy="617.4"/>
<circle class="s" cx="377.9" cy="630.3"/>
<circle class="s" cx="375.2" cy="614.8"/>
<circle class="s" cx="378.3" cy="605.0"/>
</g>
<g fill="#000084" fill-opacity="0.86" stroke-opacity="1.00">
<circle class="s" cx="378.2" cy="611.4"/>
<circle class="s" cx="389.4" cy="621.0"/>
<circle class="s" cx="380.6" cy="622.9"/>
<circle class="s" cx="381.4" cy="625.3"/>
<circle class="s" cx="384.9" cy="637.2"/>
<circle class="s" cx="383.8" cy="639.4"/>
<circle class="s" cx="389.4" cy="631.1"/>
<circle class="s" cx="388.6" cy="633.3"/>
<circle class="s" cx="389.4" cy="636.4"/>
<circle class="s" cx="389.7" cy="638.6"/>
<circle class="s" cx="388.6" cy="640.7"/>
<circle class="s" cx="390.5" cy="642.3"/>
<circle class="s" cx="391.8" cy="643.9"/>
<circle class="s" cx="389.4" cy="645.5"/>
<circle class="s" cx="389.7" cy="632.7"/>
<circle class="s" cx="389.9" cy="639.9"/>
<circle class="s" cx="389.7" cy="643.4"/>
<circle class="s" cx="367.4" cy="613.3"/>
<circle class="s" cx="374.3" cy="596.2"/>
<circle class="s" cx="367.4" cy="653.5"/>
<circle class="s" cx="371.9" cy="590.3"/>
<circle class="s" cx="370.3" cy="607.2"/>
<circle class="s" cx="367.0" cy="621.7"/>
<circle class="s" cx="368.0" cy="604.0"/>
<circle class="s" cx="368.4" cy="626.1"/>
<circle class="s" cx="370.1" cy="634.8"/>
<circle class="s" cx="373.7" cy="618.8"/>
<circle class="s" cx="373.7" cy="618.4"/>
<circle class="s" cx="372.5" cy="647.5"/>
<circle class="s" cx="366.9" cy="598.2"/>
<circle class="s" cx="366.0" cy="593.1"/>
<circle class="s" cx="374.6" cy="635.7"/>
<circle class="s" cx="369.2" cy="609.9"/>
<circle class="s" cx="367.9" cy="636.8"/>
<circle class="s" cx="366.5" cy="606.8"/>
<circle class="s" cx="375.0" cy="614.3"/>
<circle class="s" cx="368.2" cy="597.1"/>
<circle class="s" cx="366.2" cy="624.2"/>
<circle class="s" cx="364.6" cy="639.4"/>
<circle class="s" cx="373.2" cy="620.9"/>
<circle class="s" cx="369.8" cy="648.1"/>
<circle class="s" cx="366.9" cy="634.3"/>
<circle class="s" cx="369.3" cy="614.6"/>
<circle class="s" cx="364.6" cy="649.3"/>
<circle class="s" cx="366.3" cy="622.6"/>
<circle class="s" cx="371.9" cy="647.1"/>
<circle class="s" cx="374.2" cy="629.2"/>
<circle class="s" cx="367.6" cy="598.2"/>
<circle class="s" cx="370.6" cy="646.9"/>
<circle class="s" cx="370.8" cy="648.9"/>
<circle class="s" cx="364.8" cy="635.8"/>
<circle class="s" cx="367.9" cy="601.1"/>
<circle class="s" cx="372.4" cy="586.7"/>
<circle class="s" cx="374.3" cy="625.6"/>
<circle class="s" cx="372.9" cy="624.9"/>
<circle class="s" cx="366.1" cy="603.5"/>
<circle class="s" cx="369.5" cy="608.9"/>
<circle class="s" cx="366.8" cy="640.6"/>
<circle class="s" cx="371.0" cy="587.5"/>
<circle class="s" cx="369.7" cy="609.4"/>
<circle class="s" cx="374.1" cy="636.1"/>
<circle class="s" cx="374.1" cy="622.3"/>
<circle class="s" cx="365.8" cy="610.5"/>
<circle class="s" cx="365.0" cy="621.8"/>
<circle class="s" cx="375.0" cy="600.2"/>
<circle class="s" cx="368.3" cy="607.5"/>
<circle class="s" cx="372.4" cy="636.4"/>
<circle class="s" cx="365.6" cy="647.3"/>
<circle class="s" cx="368.5" cy="613.1"/>
<circle class="s" cx="372.1" cy="631.6"/>
<circle class="s" cx="373.3" cy="608.6"/>
<circle class="s" cx="364.9" cy="591.1"/>
<circle class="s" cx="370.3" cy="628.9"/>
<circle class="s" cx="364.5" cy="600.3"/>
<circle class="s" cx="368.9" cy="601.6"/>
<circle class="s" cx="365.1" cy="645.6"/>
<circle class="s" cx="370.9" cy="632.1"/>
<circle class="s" cx="375.3" cy="609.8"/>
<circle class="s" cx="367.5" cy="652.3"/>
<circle class="s" cx="369.8" cy="594.9"/>
<circle class="s" cx="369.2" cy="628.0"/>
<circle class="s" cx="369.8" cy="587.3"/>
<circle class="s" cx="367.1" cy="630.3"/>
<circle class="s" cx="373.0" cy="646.8"/>
<circle class="s" cx="369.4" cy="621.6"/>
<circle class="s" cx="368.1" cy="648.0"/>
<circle class="s" cx="374.4" cy="617.6"/>
<circle class="s" cx="368.8" cy="597.1"/>
<circle class="s" cx="365.0" cy="634.1"/>
<circle class="s" cx="370.5" cy="610.1"/>
<circle class="s" cx="364.6" cy="605.7"/>
<circle class="s" cx="366.3" cy="621.5"/>
<circle class="s" cx="364.7" cy="603.0"/>
<circle class="s" cx="366.7" cy="619.3"/>
<circle class="s" cx="374.2" cy="616.6"/>
<circle class="s" cx="367.3" cy="614.6"/>
<circle class="s" cx="372.6" cy="630.6"/>
<circle class="s" cx="370.3" cy="599.5"/>
<circle class="s" cx="366.1" cy="635.8"/>
<circle class="s" cx="370.6" cy="610.1"/>
<circle class="s" cx="366.1" cy="652.1"/>
<circle class="s" cx="367.0" cy="586.3"/>
<circle class="s" cx="369.6" cy="630.2"/>
<circle class="s" cx="366.4" cy="638.1"/>
<circle class="s" cx="367.6" cy="639.3"/>
<circle class="s" cx="370.5" cy="591.4"/>
<circle class="s" cx="368.5" cy="598.6"/>
<circle class="s" cx="373.3" cy="644.4"/>
<circle class="s" cx="370.5" cy="630.1"/>
<circle class="s" cx="372.8" cy="636.7"/>
<circle class="s" cx="370.8" cy="630.8"/>
<circle class="s" cx="364.7" cy="615.6"/>
<circle class="s" cx="364.9" cy="646.8"/>
<circle class="s" cx="374.8" cy="593.8"/>
<circle class="s" cx="365.8" cy="622.1"/>
<circle class="s" cx="369.3" cy="597.7"/>
<circle class="s" cx="364.5" cy="587.8"/>
<circle class="s" cx="369.7" cy="593.6"/>
<circle class="s" cx="374.6" cy="625.2"/>
<circle class="s" cx="369.1" cy="607.8"/>
<circle class="s" cx="375.2" cy="614.6"/>
<circle class="s" cx="371.6" cy="615.7"/>
<circle class="s" cx="365.4" cy="636.3"/>
<circle class="s" cx="369.2" cy="594.9"/>
<circle class="s" cx="370.1" cy="600.7"/>
<circle class="s" cx="374.4" cy="606.1"/>
<circle class="s" cx="364.6" cy="597.0"/>
<circle class="s" cx="371.6" cy="646.4"/>
<circle class="s" cx="369.6" cy="604.0"/>
<circle class="s" cx="366.6" cy="621.6"/>
<circle class="s" cx="365.9" cy="604.8"/>
<circle class="s" cx="366.4" cy="593.7"/>
<circle class="s" cx="370.5" cy="610.1"/>
<circle class="s" cx="366.9" cy="644.7"/>
<circle class="s" cx="374.9" cy="616.3"/>
<circle class="s" cx="369.0" cy="646.7"/>
<circle class="s" cx="365.1" cy="639.6"/>
<circle class="s" cx="364.6" cy="609.4"/>
<circle class="s" cx="370.2" cy="611.9"/>
<circle class="s" cx="372.6" cy="648.6"/>
<circle class="s" cx="369.2" cy="637.0"/>
<circle class="s" cx="373.7" cy="626.1"/>
<circle class="s" cx="364.5" cy="639.6"/>
<circle class="s" cx="369.1" cy="652.9"/>
<circle class="s" cx="369.6" cy="587.1"/>
<circle class="s" cx="372.6" cy="590.6"/>
<circle class="s" cx="373.2" cy="610.9"/>
<circle class="s" cx="367.2" cy="647.6"/>
<circle class="s" cx="374.8" cy="631.6"/>
<circle class="s" cx="365.7" cy="628.2"/>
<circle class="s" cx="367.2" cy="606.9"/>
<circle class="s" cx="369.2" cy="592.2"/>
<circle class="s" cx="368.7" cy="611.8"/>
<circle class="s" cx="367.3" cy="637.2"/>
<circle class="s" cx="374.5" cy="627.5"/>
<circle class="s" cx="374.8" cy="591.1"/>
<circle class="s" cx="369.7" cy="652.5"/>
<circle class="s" cx="367.8" cy="642.1"/>
<circle class="s" cx="369.4" cy="646.5"/>
<circle class="s" cx="364.4" cy="614.6"/>
<circle class="s" cx="367.7" cy="636.1"/>
<circle class="s" cx="375.0" cy="612.5"/>
<circle class="s" cx="367.2" cy="609.1"/>
<circle class="s" cx="368.3" cy="640.6"/>
<circle class="s" cx="369.9" cy="594.0"/>
<circle class="s" cx="367.0" cy="651.6"/>
<circle class="s" cx="365.4" cy="624.3"/>
<circle class="s" cx="370.1" cy="623.7"/>
<circle class="s" cx="367.0" cy="596.2"/>
<circle class="s" cx="368.1" cy="619.2"/>
<circle class="s" cx="374.7" cy="588.7"/>
<circle class="s" cx="369.5" cy="645.4"/>
<circle class="s" cx="368.0" cy="607.3"/>
<circle class="s" cx="365.2" cy="618.5"/>
<circle class="s" cx="366.0" cy="623.7"/>
<circle class="s" cx="372.7" cy="637.4"/>
<circle class="s" cx="375.0" cy="616.4"/>
<circle class="s" cx="373.0" cy="643.1"/>
<circle class="s" cx="368.3" cy="590.4"/>
<circle class="s" cx="372.9" cy="615.4"/>
<circle class="s" cx="373.8" cy="597.6"/>
<circle class="s" cx="368.7" cy="603.9"/>
<circle class="s" cx="371.0" cy="594.3"/>
<circle class="s" cx="364.8" cy="632.9"/>
<circle class="s" cx="370.9" cy="634.4"/>
<circle class="s" cx="370.3" cy="612.6"/>
<circle class="s" cx="368.1" cy="633.5"/>
<circle class="s" cx="374.6" cy="636.4"/>
<circle class="s" cx="368.0" cy="633.3"/>
<circle class="s" cx="369.5" cy="619.0"/>
<circle class="s" cx="368.8" cy="607.0"/>
<circle class="s" cx="367.6" cy="638.1"/>
<circle class="s" cx="365.3" cy="611.6"/>
<circle class="s" cx="374.8" cy="587.7"/>
<circle class="s" cx="370.4" cy="644.1"/>
<circle class="s" cx="370.0" cy="636.1"/>
<circle class="s" cx="371.6" cy="587.0"/>
<circle class="s" cx="372.1" cy="614.2"/>
<circle class="s" cx="373.4" cy="590.2"/>
<circle class="s" cx="373.9" cy="608.2"/>
<circle class="s" cx="372.7" cy="630.8"/>
<circle class="s" cx="367.5" cy="642.5"/>
<circle class="s" cx="367.5" cy="606.0"/>
<circle class="s" cx="369.6" cy="595.0"/>
<circle class="s" cx="372.2" cy="618.9"/>
<circle class="s" cx="368.9" cy="633.1"/>
<circle class="s" cx="371.3" cy="639.2"/>
<circle class="s" cx="364.5" cy="633.6"/>
<circle class="s" cx="367.9" cy="640.1"/>
<circle class="s" cx="369.2" cy="641.8"/>
<circle class="s" cx="367.5" cy="590.4"/>
<circle class="s" cx="370.3" cy="588.3"/>
<circle class="s" cx="371.6" cy="628.6"/>
<circle class="s" cx="366.2" cy="645.7"/>
<circle class="s" cx="366.0" cy="633.9"/>
<circle class="s" cx="372.3" cy="592.9"/>
<circle class="s" cx="371.4" cy="616.1"/>
<circle class="s" cx="374.2" cy="608.7"/>
<circle class="s" cx="373.3" cy="621.2"/>
<circle class="s" cx="369.8" cy="632.8"/>
<circle class="s" cx="366.2" cy="620.8"/>
<circle class="s" cx="368.1" cy="650.4"/>
<circle class="s" cx="367.0" cy="595.0"/>
<circle class="s" cx="367.5" cy="623.8"/>
<circle class="s" cx="368.7" cy="653.5"/>
<circle class="s" cx="372.0" cy="611.6"/>
<circle class="s" cx="373.3" cy="627.2"/>
<circle class="s" cx="369.5" cy="592.7"/>
<circle class="s" cx="373.5" cy="610.0"/>
<circle class="s" cx="368.2" cy="632.7"/>
<circle class="s" cx="374.8" cy="626.6"/>
<circle class="s" cx="366.3" cy="629.9"/>
<circle class="s" cx="370.9" cy="648.4"/>
<circle class="s" cx="369.6" cy="623.7"/>
<circle class="s" cx="367.2" cy="644.3"/>
<circle class="s" cx="373.4" cy="623.4"/>
<circle class="s" cx="372.9" cy="581.9"/>
<circle class="s" cx="369.6" cy="595.2"/>
<circle class="s" cx="369.5" cy="642.2"/>
<circle class="s" cx="370.2" cy="638.0"/>
<circle class="s" cx="366.1" cy="606.2"/>
<circle class="s" cx="369.3" cy="599.1"/>
<circle class="s" cx="365.6" cy="604.7"/>
<circle class="s" cx="370.7" cy="598.5"/>
<circle class="s" cx="366.9" cy="592.3"/>
<circle class="s" cx="366.5" cy="626.0"/>
<circle class="s" cx="368.4" cy="610.8"/>
<circle class="s" cx="366.0" cy="625.6"/>
<circle class="s" cx="368.1" cy="591.9"/>
<circle class="s" cx="368.3" cy="647.9"/>
<circle class="s" cx="368.3" cy="631.4"/>
<circle class="s" cx="373.6" cy="642.1"/>
<circle class="s" cx="365.1" cy="624.2"/>
<circle class="s" cx="367.3" cy="604.4"/>
<circle class="s" cx="368.9" cy="594.6"/>
<circle class="s" cx="366.2" cy="623.1"/>
<circle class="s" cx="367.5" cy="590.3"/>
<circle class="s" cx="371.5" cy="632.8"/>
<circle class="s" cx="365.9" cy="586.2"/>
<circle class="s" cx="368.3" cy="607.4"/>
<circle class="s" cx="371.3" cy="647.3"/>
<circle class="s" cx="371.1" cy="617.1"/>
<circle class="s" cx="369.9" cy="616.4"/>
<circle class="s" cx="373.2" cy="639.1"/>
<circle class="s" cx="368.9" cy="591.6"/>
<circle class="s" cx="366.9" cy="601.4"/>
<circle class="s" cx="372.6" cy="601.0"/>
<circle class="s" cx="366.5" cy="633.2"/>
<circle class="s" cx="364.8" cy="588.7"/>
<circle class="s" cx="373.0" cy="589.7"/>
<circle class="s" cx="364.4" cy="581.2"/>
<circle class="s" cx="374.8" cy="611.5"/>
<circle class="s" cx="374.0" cy="623.8"/>
<circle class="s" cx="368.8" cy="637.3"/>
<circle class="s" cx="372.5" cy="638.7"/>
<circle class="s" cx="365.3" cy="627.2"/>
<circle class="s" cx="370.9" cy="601.4"/>
<circle class="s" cx="364.5" cy="620.4"/>
<circle class="s" cx="374.9" cy="585.9"/>
<circle class="s" cx="366.7" cy="630.8"/>
<circle class="s" cx="364.8" cy="641.5"/>
<circle class="s" cx="367.2" cy="641.2"/>
<circle class="s" cx="375.2" cy="611.0"/>
<circle class="s" cx="372.5" cy="592.9"/>
<circle class="s" cx="372.7" cy="649.1"/>
<circle class="s" cx="367.7" cy="630.8"/>
<circle class="s" cx="365.1" cy="601.0"/>
<circle class="s" cx="371.8" cy="632.5"/>
<circle class="s" cx="372.2" cy="622.6"/>
<circle class="s" cx="366.1" cy="594.4"/>
<circle class="s" cx="366.7" cy="596.4"/>
<circle class="s" cx="371.9" cy="627.9"/>
<circle class="s" cx="364.6" cy="637.3"/>
<circle class="s" cx="367.5" cy="643.6"/>
<circle class="s" cx="373.7" cy="591.1"/>
<circle class="s" cx="367.0" cy="594.1"/>
<circle class="s" cx="372.9" cy="648.8"/>
<circle class="s" cx="366.2" cy="651.5"/>
<circle class="s" cx="374.4" cy="632.7"/>
<circle class="s" cx="374.8" cy="632.5"/>
<circle class="s" cx="373.7" cy="635.0"/>
<circle class="s" cx="373.5" cy="621.4"/>
<circle class="s" cx="365.6" cy="611.9"/>
<circle class="s" cx="370.6" cy="589.2"/>
<circle class="s" cx="373.8" cy="631.1"/>
<circle class="s" cx="372.4" cy="636.5"/>
<circle class="s" cx="366.4" cy="594.8"/>
<circle class="s" cx="368.5" cy="638.7"/>
<circle class="s" cx="365.8" cy="629.4"/>
<circle class="s" cx="364.9" cy="602.9"/>
<circle class="s" cx="371.4" cy="631.0"/>
<circle class="s" cx="367.3" cy="648.4"/>
<circle class="s" cx="371.2" cy="610.3"/>
<circle class="s" cx="366.9" cy="634.0"/>
<circle class="s" cx="367.7" cy="625.8"/>
<circle class="s" cx="367.2" cy="627.6"/>
<circle class="s" cx="376.5" cy="613.2"/>
<circle class="s" cx="377.4" cy="603.8"/>
<circle class="s" cx="378.2" cy="598.3"/>
<circle class="s" cx="375.6" cy="599.4"/>
<circle class="s" cx="378.9" cy="627.1"/>
<circle class="s" cx="377.8" cy="613.3"/>
<circle class="s" cx="378.7" cy="624.1"/>
<circle class="s" cx="376.0" cy="631.0"/>
<circle class="s" cx="375.9" cy="626.8"/>
<circle class="s" cx="378.1" cy="627.3"/>
<circle class="s" cx="375.6" cy="629.5"/>
<circle class="s" cx="376.5" cy="632.1"/>
<circle class="s" cx="377.6" cy="611.5"/>
<circle class="s" cx="377.6" cy="598.0"/>
<circle class="s" cx="377.1" cy="630.1"/>
<circle class="s" cx="375.3" cy="628.7"/>
<circle class="s" cx="377.8" cy="606.5"/>
<circle class="s" cx="376.9" cy="627.2"/>
<circle class="s" cx="375.3" cy="622.4"/>
<circle class="s" cx="378.1" cy="640.5"/>
<circle class="s" cx="377.5" cy="608.8"/>
<circle class="s" cx="375.5" cy="606.4"/>
<circle class="s" cx="375.3" cy="597.4"/>
<circle class="s" cx="375.8" cy="600.8"/>
<circle class="s" cx="377.7" cy="639.0"/>
<circle class="s" cx="376.4" cy="629.2"/>
<circle class="s" cx="378.1" cy="633.2"/>
<circle class="s" cx="375.7" cy="639.3"/>
<circle class="s" cx="378.4" cy="642.4"/>
<circle class="s" cx="377.1" cy="619.7"/>
<circle class="s" cx="375.9" cy="619.8"/>
<circle class="s" cx="377.9" cy="619.7"/>
<circle class="s" cx="377.6" cy="624.7"/>
</g>
<g fill="#87ceeb" fill-opacity="0.78" stroke-opacity="1.00">
<circle class="s" cx="399.3" cy="586.7"/>
<circle class="s" cx="391.8" cy="596.8"/>
<circle class="s" cx="396.1" cy="598.1"/>
<circle class="s" cx="388.3" cy="600.0"/>
<circle class="s" cx="395.8" cy="600.2"/>
<circle class="s" cx="401.7" cy="602.6"/>
<circle class="s" cx="402.7" cy="603.4"/>
<circle class="s" cx="394.7" cy="609.3"/>
<circle class="s" cx="397.4" cy="608.5"/>
<circle class="s" cx="400.9" cy="608.2"/>
<circle class="s" cx="400.6" cy="610.1"/>
<circle class="s" cx="397.9" cy="611.7"/>
<circle class="s" cx="388.9" cy="613.6"/>
<circle class="s" cx="395.3" cy="615.9"/>
<circle class="s" cx="393.9" cy="617.8"/>
<circle class="s" cx="397.4" cy="615.7"/>
<circle class="s" cx="399.3" cy="617.5"/>
<circle class="s" cx="403.8" cy="618.1"/>
<circle class="s" cx="397.7" cy="626.6"/>
<circle class="s" cx="400.1" cy="629.8"/>
<circle class="s" cx="400.3" cy="631.9"/>
<circle class="s" cx="395.8" cy="637.2"/>
<circle class="s" cx="389.9" cy="622.6"/>
</g>
<g fill="#006400" fill-opacity="0.55" stroke-opacity="0.80">
<circle class="s" cx="408.8" cy="611.4"/>
<circle class="s" cx="410.2" cy="619.9"/>
<circle class="s" cx="419.0" cy="620.2"/>
<circle class="s" cx="418.2" cy="624.5"/>
<circle class="s" cx="416.6" cy="632.5"/>
<circle class="s" cx="441.8" cy="533.4"/>
</g>
<g fill="#ffa500" fill-opacity="0.6" stroke-opacity="0.85">
<circle class="s" cx="449.9" cy="519.2"/>
<circle class="s" cx="447.4" cy="533.4"/>
<circle class="s" cx="452.5" cy="549.9"/>
</g>
<path d="M499.9 357.4L503.1 360.6L499.9 363.8L496.7 360.6Z" fill="#a020f0" stroke="#1a0030" stroke-width="0.55"/>
<path d="M359.0 345.9V666.2H508.0" fill="none" stroke="#808080" stroke-width="1.4"/>
<path d="M363.4 666.2v2.4" stroke="#333" stroke-width="0.8"/>
<text x="363.4" y="675.4" text-anchor="middle" class="t" font-size="6.4" fill="#4d4d4d">0</text>
<path d="M403.4 666.2v2.4" stroke="#333" stroke-width="0.8"/>
<text x="403.4" y="675.4" text-anchor="middle" class="t" font-size="6.4" fill="#4d4d4d">25</text>
<path d="M442.6 666.2v2.4" stroke="#333" stroke-width="0.8"/>
<text x="442.6" y="675.4" text-anchor="middle" class="t" font-size="6.4" fill="#4d4d4d">50</text>
<path d="M481.6 666.2v2.4" stroke="#333" stroke-width="0.8"/>
<text x="481.6" y="675.4" text-anchor="middle" class="t" font-size="6.4" fill="#4d4d4d">75</text>
<path d="M359.0 652.3h-2.4" stroke="#333" stroke-width="0.8"/>
<text x="355.4" y="654.9" text-anchor="end" class="t" font-size="6.4" fill="#4d4d4d">0</text>
<path d="M359.0 566.3h-2.4" stroke="#333" stroke-width="0.8"/>
<text x="355.4" y="568.9" text-anchor="end" class="t" font-size="6.4" fill="#4d4d4d">1</text>
<path d="M359.0 479.9h-2.4" stroke="#333" stroke-width="0.8"/>
<text x="355.4" y="482.5" text-anchor="end" class="t" font-size="6.4" fill="#4d4d4d">2</text>
<path d="M359.0 393.8h-2.4" stroke="#333" stroke-width="0.8"/>
<text x="355.4" y="396.4" text-anchor="end" class="t" font-size="6.4" fill="#4d4d4d">3</text>
<text x="416.8" y="685.4" text-anchor="middle" font-size="7.6" fill="#000">SPARC_ eQTL -log<tspan font-size="5.32" dy="1.7">10</tspan><tspan dy="-1.7">(P)</tspan></text>
<text x="348.2" y="525.0" text-anchor="middle" font-size="7.6" fill="#000" transform="rotate(-90 348.2 525.0)">ICH_GWAS-log<tspan font-size="5.32" dy="1.7">10</tspan><tspan dy="-1.7">(P)</tspan></text>
<g style="stroke-width:0">
<rect x="477.0" y="533.5" width="8.6" height="17.30" fill="#ff0000" stroke="#111" style="stroke-width:0.40px"/>
<rect x="477.0" y="550.8" width="8.6" height="17.30" fill="#ffa500" stroke="#111" style="stroke-width:0.40px"/>
<rect x="477.0" y="568.1" width="8.6" height="17.30" fill="#006400" stroke="#111" style="stroke-width:0.40px"/>
<rect x="477.0" y="585.4" width="8.6" height="17.30" fill="#87ceeb" stroke="#111" style="stroke-width:0.40px"/>
<rect x="477.0" y="602.7" width="8.6" height="17.30" fill="#000080" stroke="#111" style="stroke-width:0.40px"/>
<rect x="477.0" y="533.5" width="8.6" height="86.5" fill="none" stroke="#111" style="stroke-width:0.5px"/>
<text x="488.2" y="553.1" font-size="6.6" fill="#222">0.8</text>
<text x="488.2" y="570.4" font-size="6.6" fill="#222">0.6</text>
<text x="488.2" y="587.7" font-size="6.6" fill="#222">0.4</text>
<text x="488.2" y="605.0" font-size="6.6" fill="#222">0.2</text>
<text x="483.5" y="531.1" text-anchor="middle" font-size="7.4" fill="#222">r</text>
<text x="487.3" y="524.0" text-anchor="middle" font-size="5.6" fill="#333">2</text>
</g>
<text x="494.4" y="358.2" text-anchor="end" font-size="7.4" fill="#000">rs1054204</text>
<text x="343.8" y="351.0" font-size="10.6" fill="#000">d</text>
<g fill="#000084" fill-opacity="0.62" stroke-opacity="0.87">
<circle class="s" cx="610.8" cy="461.0"/>
<circle class="s" cx="612.7" cy="460.6"/>
<circle class="s" cx="611.5" cy="460.9"/>
<circle class="s" cx="617.4" cy="459.1"/>
<circle class="s" cx="612.2" cy="460.1"/>
<circle class="s" cx="612.0" cy="460.0"/>
<circle class="s" cx="612.3" cy="460.5"/>
<circle class="s" cx="618.2" cy="461.4"/>
<circle class="s" cx="618.4" cy="459.5"/>
<circle class="s" cx="625.8" cy="472.7"/>
<circle class="s" cx="619.5" cy="462.6"/>
<circle class="s" cx="628.3" cy="474.3"/>
<circle class="s" cx="619.4" cy="462.5"/>
<circle class="s" cx="626.0" cy="471.9"/>
<circle class="s" cx="619.9" cy="461.9"/>
<circle class="s" cx="622.6" cy="470.3"/>
<circle class="s" cx="621.5" cy="464.7"/>
<circle class="s" cx="623.6" cy="466.3"/>
<circle class="s" cx="627.5" cy="475.4"/>
<circle class="s" cx="625.8" cy="471.3"/>
<circle class="s" cx="627.3" cy="475.6"/>
<circle class="s" cx="624.4" cy="472.0"/>
<circle class="s" cx="623.5" cy="469.1"/>
<circle class="s" cx="625.8" cy="473.6"/>
<circle class="s" cx="623.0" cy="468.6"/>
<circle class="s" cx="623.8" cy="469.5"/>
<circle class="s" cx="614.5" cy="477.4"/>
<circle class="s" cx="610.6" cy="475.9"/>
<circle class="s" cx="609.6" cy="478.8"/>
<circle class="s" cx="617.2" cy="482.2"/>
<circle class="s" cx="616.9" cy="481.1"/>
<circle class="s" cx="617.2" cy="479.3"/>
<circle class="s" cx="600.8" cy="468.5"/>
<circle class="s" cx="614.6" cy="478.1"/>
<circle class="s" cx="610.5" cy="478.8"/>
<circle class="s" cx="616.5" cy="478.4"/>
<circle class="s" cx="611.7" cy="479.4"/>
<circle class="s" cx="613.4" cy="476.3"/>
<circle class="s" cx="601.6" cy="469.7"/>
<circle class="s" cx="612.7" cy="473.5"/>
<circle class="s" cx="608.2" cy="474.5"/>
<circle class="s" cx="614.6" cy="479.9"/>
<circle class="s" cx="600.3" cy="469.3"/>
<circle class="s" cx="605.5" cy="472.9"/>
<circle class="s" cx="604.7" cy="471.6"/>
<circle class="s" cx="608.9" cy="474.1"/>
<circle class="s" cx="618.5" cy="483.6"/>
<circle class="s" cx="618.9" cy="481.4"/>
<circle class="s" cx="606.5" cy="473.8"/>
<circle class="s" cx="605.8" cy="472.0"/>
<circle class="s" cx="608.7" cy="473.9"/>
<circle class="s" cx="607.3" cy="472.2"/>
<circle class="s" cx="617.8" cy="478.9"/>
<circle class="s" cx="601.0" cy="478.5"/>
<circle class="s" cx="602.5" cy="482.9"/>
<circle class="s" cx="599.3" cy="471.0"/>
<circle class="s" cx="599.0" cy="484.2"/>
<circle class="s" cx="599.1" cy="483.9"/>
<circle class="s" cx="602.9" cy="471.3"/>
<circle class="s" cx="600.8" cy="474.9"/>
<circle class="s" cx="598.8" cy="470.6"/>
<circle class="s" cx="598.5" cy="473.9"/>
<circle class="s" cx="600.9" cy="477.9"/>
<circle class="s" cx="600.7" cy="476.2"/>
<circle class="s" cx="598.2" cy="482.1"/>
<circle class="s" cx="605.4" cy="482.0"/>
<circle class="s" cx="626.5" cy="477.6"/>
<circle class="s" cx="664.0" cy="479.6"/>
<circle class="s" cx="646.9" cy="480.5"/>
<circle class="s" cx="636.3" cy="480.3"/>
<circle class="s" cx="637.9" cy="483.9"/>
<circle class="s" cx="621.7" cy="479.8"/>
<circle class="s" cx="658.8" cy="478.4"/>
<circle class="s" cx="611.8" cy="482.9"/>
<circle class="s" cx="634.1" cy="477.5"/>
<circle class="s" cx="653.8" cy="480.5"/>
<circle class="s" cx="637.6" cy="478.3"/>
<circle class="s" cx="631.9" cy="483.4"/>
<circle class="s" cx="620.3" cy="478.7"/>
<circle class="s" cx="639.5" cy="478.9"/>
<circle class="s" cx="639.4" cy="483.8"/>
<circle class="s" cx="658.6" cy="480.6"/>
<circle class="s" cx="657.2" cy="480.6"/>
<circle class="s" cx="617.4" cy="477.6"/>
<circle class="s" cx="613.9" cy="483.6"/>
<circle class="s" cx="621.4" cy="478.6"/>
<circle class="s" cx="641.8" cy="478.1"/>
<circle class="s" cx="664.2" cy="483.2"/>
<circle class="s" cx="633.2" cy="482.0"/>
<circle class="s" cx="654.5" cy="483.0"/>
<circle class="s" cx="623.9" cy="480.2"/>
<circle class="s" cx="625.2" cy="475.8"/>
<circle class="s" cx="606.1" cy="482.5"/>
<circle class="s" cx="620.8" cy="476.3"/>
<circle class="s" cx="622.4" cy="480.3"/>
<circle class="s" cx="664.5" cy="483.5"/>
<circle class="s" cx="667.0" cy="480.0"/>
<circle class="s" cx="623.2" cy="477.8"/>
<circle class="s" cx="644.2" cy="477.5"/>
<circle class="s" cx="670.0" cy="482.2"/>
<circle class="s" cx="654.9" cy="483.4"/>
<circle class="s" cx="663.0" cy="482.1"/>
<circle class="s" cx="632.0" cy="481.4"/>
<circle class="s" cx="657.9" cy="481.8"/>
<circle class="s" cx="626.2" cy="480.0"/>
<circle class="s" cx="663.0" cy="478.9"/>
<circle class="s" cx="662.5" cy="479.9"/>
<circle class="s" cx="625.9" cy="483.4"/>
<circle class="s" cx="633.7" cy="481.0"/>
<circle class="s" cx="628.3" cy="476.0"/>
<circle class="s" cx="654.7" cy="480.4"/>
<circle class="s" cx="637.4" cy="481.4"/>
<circle class="s" cx="610.6" cy="480.2"/>
<circle class="s" cx="623.2" cy="478.0"/>
<circle class="s" cx="611.0" cy="483.1"/>
<circle class="s" cx="638.1" cy="479.6"/>
<circle class="s" cx="627.5" cy="477.8"/>
<circle class="s" cx="660.2" cy="481.7"/>
<circle class="s" cx="650.9" cy="478.9"/>
<circle class="s" cx="663.4" cy="482.6"/>
<circle class="s" cx="651.3" cy="483.4"/>
<circle class="s" cx="641.8" cy="478.6"/>
<circle class="s" cx="663.9" cy="479.5"/>
<circle class="s" cx="668.3" cy="481.4"/>
<circle class="s" cx="666.0" cy="483.8"/>
<circle class="s" cx="631.1" cy="476.9"/>
<circle class="s" cx="611.4" cy="483.7"/>
<circle class="s" cx="619.9" cy="479.0"/>
<circle class="s" cx="641.0" cy="482.7"/>
<circle class="s" cx="644.1" cy="477.1"/>
<circle class="s" cx="669.4" cy="483.7"/>
<circle class="s" cx="656.3" cy="478.7"/>
<circle class="s" cx="637.4" cy="482.8"/>
<circle class="s" cx="667.7" cy="483.5"/>
<circle class="s" cx="669.9" cy="483.5"/>
<circle class="s" cx="610.7" cy="478.9"/>
<circle class="s" cx="663.5" cy="479.4"/>
<circle class="s" cx="638.1" cy="479.2"/>
<circle class="s" cx="659.1" cy="482.7"/>
<circle class="s" cx="621.8" cy="477.1"/>
<circle class="s" cx="608.9" cy="480.5"/>
<circle class="s" cx="631.5" cy="483.7"/>
<circle class="s" cx="670.4" cy="479.6"/>
<circle class="s" cx="623.4" cy="482.1"/>
<circle class="s" cx="617.9" cy="475.8"/>
<circle class="s" cx="649.3" cy="483.1"/>
<circle class="s" cx="617.4" cy="482.0"/>
<circle class="s" cx="666.3" cy="479.3"/>
<circle class="s" cx="654.7" cy="479.5"/>
<circle class="s" cx="626.4" cy="480.8"/>
<circle class="s" cx="629.9" cy="480.8"/>
<circle class="s" cx="665.6" cy="480.9"/>
<circle class="s" cx="658.6" cy="480.2"/>
<circle class="s" cx="650.3" cy="478.0"/>
<circle class="s" cx="623.7" cy="479.7"/>
<circle class="s" cx="626.0" cy="477.1"/>
<circle class="s" cx="653.2" cy="479.6"/>
<circle class="s" cx="644.8" cy="480.8"/>
<circle class="s" cx="659.9" cy="483.8"/>
<circle class="s" cx="612.3" cy="477.2"/>
<circle class="s" cx="631.4" cy="481.3"/>
<circle class="s" cx="611.2" cy="478.4"/>
<circle class="s" cx="658.7" cy="479.4"/>
<circle class="s" cx="622.3" cy="483.0"/>
<circle class="s" cx="629.7" cy="484.2"/>
<circle class="s" cx="668.2" cy="482.4"/>
<circle class="s" cx="641.6" cy="479.4"/>
<circle class="s" cx="657.6" cy="480.1"/>
<circle class="s" cx="662.4" cy="482.3"/>
<circle class="s" cx="632.2" cy="479.8"/>
<circle class="s" cx="651.2" cy="484.1"/>
<circle class="s" cx="635.1" cy="482.7"/>
<circle class="s" cx="611.1" cy="477.4"/>
<circle class="s" cx="605.4" cy="481.5"/>
<circle class="s" cx="645.2" cy="477.9"/>
<circle class="s" cx="649.7" cy="481.2"/>
<circle class="s" cx="623.4" cy="480.6"/>
<circle class="s" cx="661.7" cy="479.7"/>
<circle class="s" cx="631.1" cy="483.7"/>
<circle class="s" cx="661.2" cy="482.9"/>
<circle class="s" cx="636.7" cy="478.6"/>
<circle class="s" cx="609.1" cy="484.1"/>
<circle class="s" cx="654.0" cy="484.0"/>
<circle class="s" cx="615.4" cy="477.2"/>
<circle class="s" cx="642.6" cy="478.2"/>
<circle class="s" cx="608.2" cy="481.8"/>
<circle class="s" cx="654.6" cy="483.4"/>
<circle class="s" cx="634.8" cy="478.3"/>
<circle class="s" cx="649.6" cy="482.8"/>
<circle class="s" cx="635.2" cy="480.8"/>
<circle class="s" cx="660.4" cy="480.8"/>
<circle class="s" cx="624.0" cy="479.3"/>
<circle class="s" cx="657.6" cy="476.0"/>
<circle class="s" cx="660.3" cy="474.8"/>
<circle class="s" cx="660.0" cy="475.0"/>
<circle class="s" cx="659.4" cy="473.9"/>
<circle class="s" cx="608.2" cy="451.1"/>
<circle class="s" cx="600.8" cy="462.6"/>
<circle class="s" cx="618.3" cy="464.9"/>
<circle class="s" cx="619.7" cy="467.7"/>
<circle class="s" cx="628.5" cy="468.6"/>
<circle class="s" cx="611.2" cy="458.5"/>
<circle class="s" cx="615.8" cy="458.9"/>
<circle class="s" cx="543.1" cy="482.9"/>
<circle class="s" cx="546.3" cy="481.5"/>
<circle class="s" cx="554.2" cy="483.4"/>
<circle class="s" cx="566.2" cy="482.9"/>
<circle class="s" cx="579.5" cy="482.9"/>
<circle class="s" cx="583.2" cy="482.5"/>
<circle class="s" cx="587.4" cy="483.4"/>
<circle class="s" cx="547.2" cy="482.5"/>
<circle class="s" cx="559.7" cy="482.5"/>
<circle class="s" cx="577.7" cy="483.2"/>
<circle class="s" cx="544.2" cy="482.5"/>
<circle class="s" cx="653.8" cy="476.5"/>
<circle class="s" cx="649.2" cy="477.4"/>
</g>
<g fill="#000084" fill-opacity="0.86" stroke-opacity="1.00">
<circle class="s" cx="612.4" cy="459.5"/>
<circle class="s" cx="611.1" cy="460.1"/>
<circle class="s" cx="615.7" cy="460.8"/>
<circle class="s" cx="618.0" cy="462.2"/>
<circle class="s" cx="614.5" cy="458.9"/>
<circle class="s" cx="609.4" cy="459.2"/>
<circle class="s" cx="617.6" cy="460.2"/>
<circle class="s" cx="608.6" cy="460.0"/>
<circle class="s" cx="609.5" cy="459.0"/>
<circle class="s" cx="607.4" cy="459.8"/>
<circle class="s" cx="608.4" cy="458.6"/>
<circle class="s" cx="613.7" cy="461.2"/>
<circle class="s" cx="611.8" cy="460.7"/>
<circle class="s" cx="623.9" cy="466.8"/>
<circle class="s" cx="626.9" cy="474.3"/>
<circle class="s" cx="625.9" cy="473.4"/>
<circle class="s" cx="623.3" cy="468.9"/>
<circle class="s" cx="619.3" cy="461.8"/>
<circle class="s" cx="623.0" cy="467.2"/>
<circle class="s" cx="624.2" cy="467.5"/>
<circle class="s" cx="625.2" cy="470.4"/>
<circle class="s" cx="625.1" cy="473.8"/>
<circle class="s" cx="623.1" cy="468.5"/>
<circle class="s" cx="625.9" cy="472.7"/>
<circle class="s" cx="623.8" cy="467.7"/>
<circle class="s" cx="621.4" cy="464.5"/>
<circle class="s" cx="624.4" cy="469.6"/>
<circle class="s" cx="623.9" cy="469.0"/>
<circle class="s" cx="619.8" cy="460.5"/>
<circle class="s" cx="623.4" cy="468.4"/>
<circle class="s" cx="611.6" cy="473.2"/>
<circle class="s" cx="598.7" cy="469.0"/>
<circle class="s" cx="617.4" cy="479.6"/>
<circle class="s" cx="605.4" cy="473.6"/>
<circle class="s" cx="607.8" cy="471.0"/>
<circle class="s" cx="610.1" cy="474.6"/>
<circle class="s" cx="616.8" cy="480.2"/>
<circle class="s" cx="617.0" cy="479.9"/>
<circle class="s" cx="599.9" cy="468.3"/>
<circle class="s" cx="613.0" cy="477.8"/>
<circle class="s" cx="619.8" cy="479.7"/>
<circle class="s" cx="611.5" cy="475.7"/>
<circle class="s" cx="611.0" cy="475.4"/>
<circle class="s" cx="599.9" cy="469.9"/>
<circle class="s" cx="600.2" cy="470.7"/>
<circle class="s" cx="601.0" cy="472.2"/>
<circle class="s" cx="611.0" cy="472.1"/>
<circle class="s" cx="615.1" cy="478.7"/>
<circle class="s" cx="605.6" cy="474.0"/>
<circle class="s" cx="603.1" cy="474.4"/>
<circle class="s" cx="599.9" cy="470.7"/>
<circle class="s" cx="607.5" cy="472.2"/>
<circle class="s" cx="615.5" cy="478.4"/>
<circle class="s" cx="609.7" cy="476.4"/>
<circle class="s" cx="607.2" cy="475.3"/>
<circle class="s" cx="613.0" cy="475.6"/>
<circle class="s" cx="609.0" cy="473.5"/>
<circle class="s" cx="614.3" cy="478.5"/>
<circle class="s" cx="617.5" cy="478.0"/>
<circle class="s" cx="606.2" cy="474.2"/>
<circle class="s" cx="610.6" cy="479.2"/>
<circle class="s" cx="607.2" cy="469.9"/>
<circle class="s" cx="615.5" cy="480.0"/>
<circle class="s" cx="604.7" cy="474.8"/>
<circle class="s" cx="608.6" cy="474.1"/>
<circle class="s" cx="602.0" cy="470.7"/>
<circle class="s" cx="603.7" cy="469.8"/>
<circle class="s" cx="606.9" cy="473.1"/>
<circle class="s" cx="614.4" cy="479.8"/>
<circle class="s" cx="603.4" cy="472.4"/>
<circle class="s" cx="614.9" cy="480.6"/>
<circle class="s" cx="605.1" cy="472.4"/>
<circle class="s" cx="612.0" cy="475.1"/>
<circle class="s" cx="598.4" cy="470.0"/>
<circle class="s" cx="600.2" cy="475.8"/>
<circle class="s" cx="600.3" cy="482.9"/>
<circle class="s" cx="599.2" cy="483.1"/>
<circle class="s" cx="599.5" cy="474.7"/>
<circle class="s" cx="598.6" cy="471.5"/>
<circle class="s" cx="601.9" cy="476.4"/>
<circle class="s" cx="600.2" cy="476.0"/>
<circle class="s" cx="601.1" cy="472.2"/>
<circle class="s" cx="600.4" cy="473.8"/>
<circle class="s" cx="598.2" cy="472.1"/>
<circle class="s" cx="602.1" cy="474.9"/>
<circle class="s" cx="602.0" cy="471.9"/>
<circle class="s" cx="603.2" cy="477.0"/>
<circle class="s" cx="601.5" cy="484.1"/>
<circle class="s" cx="603.1" cy="472.6"/>
<circle class="s" cx="601.4" cy="477.8"/>
<circle class="s" cx="602.9" cy="471.7"/>
<circle class="s" cx="598.2" cy="471.7"/>
<circle class="s" cx="603.3" cy="473.7"/>
<circle class="s" cx="603.3" cy="469.2"/>
<circle class="s" cx="599.7" cy="482.1"/>
<circle class="s" cx="660.1" cy="479.9"/>
<circle class="s" cx="661.6" cy="482.7"/>
<circle class="s" cx="660.1" cy="480.5"/>
<circle class="s" cx="617.7" cy="478.7"/>
<circle class="s" cx="649.6" cy="483.0"/>
<circle class="s" cx="652.7" cy="482.3"/>
<circle class="s" cx="631.2" cy="477.7"/>
<circle class="s" cx="659.7" cy="481.1"/>
<circle class="s" cx="670.7" cy="479.4"/>
<circle class="s" cx="661.8" cy="479.0"/>
<circle class="s" cx="640.2" cy="477.4"/>
<circle class="s" cx="669.6" cy="483.8"/>
<circle class="s" cx="611.0" cy="477.1"/>
<circle class="s" cx="632.2" cy="483.5"/>
<circle class="s" cx="664.7" cy="484.2"/>
<circle class="s" cx="655.9" cy="482.8"/>
<circle class="s" cx="637.7" cy="482.9"/>
<circle class="s" cx="653.8" cy="479.0"/>
<circle class="s" cx="609.1" cy="478.9"/>
<circle class="s" cx="626.1" cy="482.0"/>
<circle class="s" cx="612.1" cy="477.9"/>
<circle class="s" cx="660.7" cy="479.6"/>
<circle class="s" cx="630.4" cy="483.0"/>
<circle class="s" cx="624.9" cy="480.2"/>
<circle class="s" cx="619.8" cy="480.8"/>
<circle class="s" cx="617.5" cy="484.1"/>
<circle class="s" cx="621.4" cy="480.3"/>
<circle class="s" cx="651.9" cy="483.1"/>
<circle class="s" cx="636.0" cy="481.8"/>
<circle class="s" cx="644.8" cy="482.6"/>
<circle class="s" cx="631.0" cy="483.9"/>
<circle class="s" cx="659.7" cy="480.2"/>
<circle class="s" cx="610.2" cy="478.2"/>
<circle class="s" cx="611.8" cy="480.9"/>
<circle class="s" cx="651.7" cy="481.5"/>
<circle class="s" cx="638.8" cy="480.5"/>
<circle class="s" cx="647.8" cy="482.2"/>
<circle class="s" cx="640.5" cy="478.1"/>
<circle class="s" cx="608.7" cy="480.7"/>
<circle class="s" cx="642.9" cy="480.8"/>
<circle class="s" cx="609.1" cy="478.3"/>
<circle class="s" cx="664.8" cy="482.9"/>
<circle class="s" cx="653.1" cy="483.4"/>
<circle class="s" cx="611.8" cy="482.3"/>
<circle class="s" cx="636.5" cy="482.8"/>
<circle class="s" cx="612.1" cy="483.2"/>
<circle class="s" cx="613.3" cy="476.9"/>
<circle class="s" cx="668.9" cy="482.4"/>
<circle class="s" cx="623.9" cy="479.4"/>
<circle class="s" cx="639.6" cy="482.3"/>
<circle class="s" cx="629.6" cy="479.0"/>
<circle class="s" cx="660.4" cy="482.6"/>
<circle class="s" cx="610.7" cy="480.5"/>
<circle class="s" cx="640.7" cy="478.4"/>
<circle class="s" cx="640.2" cy="477.9"/>
<circle class="s" cx="623.2" cy="476.9"/>
<circle class="s" cx="649.2" cy="478.9"/>
<circle class="s" cx="660.4" cy="479.7"/>
<circle class="s" cx="612.7" cy="477.2"/>
<circle class="s" cx="633.8" cy="476.8"/>
<circle class="s" cx="644.9" cy="479.6"/>
<circle class="s" cx="659.3" cy="481.5"/>
<circle class="s" cx="626.1" cy="481.0"/>
<circle class="s" cx="648.8" cy="482.2"/>
<circle class="s" cx="617.7" cy="483.0"/>
<circle class="s" cx="642.8" cy="484.0"/>
<circle class="s" cx="605.8" cy="481.2"/>
<circle class="s" cx="631.3" cy="477.1"/>
<circle class="s" cx="624.1" cy="475.7"/>
<circle class="s" cx="623.5" cy="481.0"/>
<circle class="s" cx="615.5" cy="482.0"/>
<circle class="s" cx="626.4" cy="476.5"/>
<circle class="s" cx="667.8" cy="479.6"/>
<circle class="s" cx="642.0" cy="482.3"/>
<circle class="s" cx="615.6" cy="479.8"/>
<circle class="s" cx="623.7" cy="483.5"/>
<circle class="s" cx="645.9" cy="482.1"/>
<circle class="s" cx="622.4" cy="481.6"/>
<circle class="s" cx="605.7" cy="479.9"/>
<circle class="s" cx="611.4" cy="481.7"/>
<circle class="s" cx="663.8" cy="479.5"/>
<circle class="s" cx="656.0" cy="481.9"/>
<circle class="s" cx="641.3" cy="478.6"/>
<circle class="s" cx="669.9" cy="483.0"/>
<circle class="s" cx="659.9" cy="483.9"/>
<circle class="s" cx="637.1" cy="480.8"/>
<circle class="s" cx="635.8" cy="481.0"/>
<circle class="s" cx="625.2" cy="481.9"/>
<circle class="s" cx="662.2" cy="483.7"/>
<circle class="s" cx="646.8" cy="484.1"/>
<circle class="s" cx="644.6" cy="479.8"/>
<circle class="s" cx="627.2" cy="483.1"/>
<circle class="s" cx="612.1" cy="484.3"/>
<circle class="s" cx="612.3" cy="480.7"/>
<circle class="s" cx="643.5" cy="484.3"/>
<circle class="s" cx="633.3" cy="481.1"/>
<circle class="s" cx="621.3" cy="480.0"/>
<circle class="s" cx="640.8" cy="484.0"/>
<circle class="s" cx="637.8" cy="481.5"/>
<circle class="s" cx="641.9" cy="480.2"/>
<circle class="s" cx="654.1" cy="482.9"/>
<circle class="s" cx="642.6" cy="478.4"/>
<circle class="s" cx="612.2" cy="480.6"/>
<circle class="s" cx="631.4" cy="481.3"/>
<circle class="s" cx="609.4" cy="481.3"/>
<circle class="s" cx="606.6" cy="480.3"/>
<circle class="s" cx="616.9" cy="480.5"/>
<circle class="s" cx="615.2" cy="481.8"/>
<circle class="s" cx="664.2" cy="482.0"/>
<circle class="s" cx="646.0" cy="482.3"/>
<circle class="s" cx="669.9" cy="479.9"/>
<circle class="s" cx="620.5" cy="481.2"/>
<circle class="s" cx="657.6" cy="478.2"/>
<circle class="s" cx="632.2" cy="478.3"/>
<circle class="s" cx="615.0" cy="480.6"/>
<circle class="s" cx="625.8" cy="478.2"/>
<circle class="s" cx="642.6" cy="484.1"/>
<circle class="s" cx="618.9" cy="476.8"/>
<circle class="s" cx="655.0" cy="478.9"/>
<circle class="s" cx="656.6" cy="482.9"/>
<circle class="s" cx="607.4" cy="483.2"/>
<circle class="s" cx="614.0" cy="481.5"/>
<circle class="s" cx="650.4" cy="479.0"/>
<circle class="s" cx="658.0" cy="483.5"/>
<circle class="s" cx="622.0" cy="475.9"/>
<circle class="s" cx="652.7" cy="483.8"/>
<circle class="s" cx="640.5" cy="480.9"/>
<circle class="s" cx="646.7" cy="481.0"/>
<circle class="s" cx="666.1" cy="482.5"/>
<circle class="s" cx="610.4" cy="479.0"/>
<circle class="s" cx="643.7" cy="481.5"/>
<circle class="s" cx="657.6" cy="480.6"/>
<circle class="s" cx="618.3" cy="477.2"/>
<circle class="s" cx="610.4" cy="479.9"/>
<circle class="s" cx="643.4" cy="482.5"/>
<circle class="s" cx="620.2" cy="482.0"/>
<circle class="s" cx="662.0" cy="481.8"/>
<circle class="s" cx="654.6" cy="483.9"/>
<circle class="s" cx="622.9" cy="477.9"/>
<circle class="s" cx="638.1" cy="477.7"/>
<circle class="s" cx="615.2" cy="477.0"/>
<circle class="s" cx="626.0" cy="480.7"/>
<circle class="s" cx="642.2" cy="477.8"/>
<circle class="s" cx="625.7" cy="481.3"/>
<circle class="s" cx="621.3" cy="479.8"/>
<circle class="s" cx="668.9" cy="480.1"/>
<circle class="s" cx="621.6" cy="475.7"/>
<circle class="s" cx="642.1" cy="480.9"/>
<circle class="s" cx="612.6" cy="483.3"/>
<circle class="s" cx="630.9" cy="477.9"/>
<circle class="s" cx="646.9" cy="483.6"/>
<circle class="s" cx="665.3" cy="481.3"/>
<circle class="s" cx="667.3" cy="481.6"/>
<circle class="s" cx="650.6" cy="477.7"/>
<circle class="s" cx="614.6" cy="480.1"/>
<circle class="s" cx="639.6" cy="482.1"/>
<circle class="s" cx="618.1" cy="478.7"/>
<circle class="s" cx="666.8" cy="483.3"/>
<circle class="s" cx="612.5" cy="481.0"/>
<circle class="s" cx="650.3" cy="483.6"/>
<circle class="s" cx="649.9" cy="479.4"/>
<circle class="s" cx="655.7" cy="478.3"/>
<circle class="s" cx="664.6" cy="483.8"/>
<circle class="s" cx="651.2" cy="479.0"/>
<circle class="s" cx="621.1" cy="483.7"/>
<circle class="s" cx="606.6" cy="478.8"/>
<circle class="s" cx="657.7" cy="482.3"/>
<circle class="s" cx="654.6" cy="479.7"/>
<circle class="s" cx="649.0" cy="483.4"/>
<circle class="s" cx="612.4" cy="477.9"/>
<circle class="s" cx="632.3" cy="481.7"/>
<circle class="s" cx="614.4" cy="477.5"/>
<circle class="s" cx="661.2" cy="483.4"/>
<circle class="s" cx="655.4" cy="483.1"/>
<circle class="s" cx="622.9" cy="476.5"/>
<circle class="s" cx="613.5" cy="480.1"/>
<circle class="s" cx="644.5" cy="482.6"/>
<circle class="s" cx="662.9" cy="478.8"/>
<circle class="s" cx="627.3" cy="479.5"/>
<circle class="s" cx="670.1" cy="482.8"/>
<circle class="s" cx="639.1" cy="480.7"/>
<circle class="s" cx="622.7" cy="476.2"/>
<circle class="s" cx="637.4" cy="483.1"/>
<circle class="s" cx="605.9" cy="478.7"/>
<circle class="s" cx="615.6" cy="482.2"/>
<circle class="s" cx="620.4" cy="481.9"/>
<circle class="s" cx="665.1" cy="479.5"/>
<circle class="s" cx="636.8" cy="476.9"/>
<circle class="s" cx="605.8" cy="479.1"/>
<circle class="s" cx="630.4" cy="476.1"/>
<circle class="s" cx="631.8" cy="477.1"/>
<circle class="s" cx="662.7" cy="482.7"/>
<circle class="s" cx="606.9" cy="481.9"/>
<circle class="s" cx="657.0" cy="480.2"/>
<circle class="s" cx="661.1" cy="480.3"/>
<circle class="s" cx="620.0" cy="483.8"/>
<circle class="s" cx="625.8" cy="481.9"/>
<circle class="s" cx="634.7" cy="477.7"/>
<circle class="s" cx="661.3" cy="480.9"/>
<circle class="s" cx="660.7" cy="482.1"/>
<circle class="s" cx="656.7" cy="484.2"/>
<circle class="s" cx="621.4" cy="481.2"/>
<circle class="s" cx="623.1" cy="478.7"/>
<circle class="s" cx="659.5" cy="475.0"/>
<circle class="s" cx="658.5" cy="475.0"/>
<circle class="s" cx="655.5" cy="475.0"/>
<circle class="s" cx="658.7" cy="473.7"/>
<circle class="s" cx="660.2" cy="476.9"/>
<circle class="s" cx="599.4" cy="461.2"/>
<circle class="s" cx="612.3" cy="458.0"/>
<circle class="s" cx="609.1" cy="462.6"/>
<circle class="s" cx="613.5" cy="458.2"/>
<circle class="s" cx="548.2" cy="482.9"/>
<circle class="s" cx="558.3" cy="482.5"/>
<circle class="s" cx="560.6" cy="481.5"/>
<circle class="s" cx="561.5" cy="483.4"/>
<circle class="s" cx="568.9" cy="481.1"/>
<circle class="s" cx="570.8" cy="482.5"/>
<circle class="s" cx="575.4" cy="482.9"/>
<circle class="s" cx="591.1" cy="483.4"/>
<circle class="s" cx="594.8" cy="482.9"/>
<circle class="s" cx="599.8" cy="480.2"/>
<circle class="s" cx="569.8" cy="482.0"/>
<circle class="s" cx="589.2" cy="483.4"/>
<circle class="s" cx="597.1" cy="482.5"/>
<circle class="s" cx="549.5" cy="483.2"/>
</g>
<g fill="#87ceeb" fill-opacity="0.78" stroke-opacity="1.00">
<circle class="s" cx="599.8" cy="447.4"/>
<circle class="s" cx="600.8" cy="450.2"/>
<circle class="s" cx="601.7" cy="451.5"/>
<circle class="s" cx="599.8" cy="453.4"/>
<circle class="s" cx="601.2" cy="456.2"/>
<circle class="s" cx="600.3" cy="458.5"/>
<circle class="s" cx="602.2" cy="459.4"/>
</g>
<g fill="#006400" fill-opacity="0.7" stroke-opacity="0.95">
<circle class="s" cx="602.2" cy="410.5"/>
<circle class="s" cx="602.2" cy="413.2"/>
<circle class="s" cx="602.6" cy="415.5"/>
<circle class="s" cx="602.6" cy="432.2"/>
<circle class="s" cx="601.7" cy="434.9"/>
<circle class="s" cx="602.6" cy="440.9"/>
<circle class="s" cx="602.6" cy="443.7"/>
</g>
<g fill="#000084" fill-opacity="0.8" stroke-opacity="1.00">
<circle class="s" cx="603.5" cy="432.6"/>
<circle class="s" cx="604.0" cy="434.9"/>
<circle class="s" cx="603.1" cy="433.5"/>
</g>
<g fill="#ffa500" fill-opacity="0.6" stroke-opacity="0.85">
<circle class="s" cx="604.0" cy="400.3"/>
<circle class="s" cx="603.1" cy="403.5"/>
<circle class="s" cx="603.5" cy="405.4"/>
<circle class="s" cx="602.6" cy="421.5"/>
<circle class="s" cx="604.5" cy="424.8"/>
<circle class="s" cx="604.5" cy="427.1"/>
<circle class="s" cx="603.5" cy="428.9"/>
</g>
<g fill="#ff0000" fill-opacity="0.9" stroke-opacity="1.00" style="stroke-width:.65px">
<circle class="s" cx="603.1" cy="354.6"/>
</g>
<path d="M603.5 352.1L606.7 355.3L603.5 358.5L600.3 355.3Z" fill="#a020f0" stroke="#1a0030" stroke-width="0.55"/>
<path d="M537.6 347.0V489.4H674.2" fill="none" stroke="#3c3c3c" stroke-width="0.9"/>
<path d="M568.4 489.4v2.4" stroke="#333" stroke-width="0.8"/>
<text x="568.4" y="498.6" text-anchor="middle" class="t" font-size="6.4" fill="#4d4d4d"></text>
<path d="M600.8 489.4v2.4" stroke="#333" stroke-width="0.8"/>
<text x="600.8" y="498.6" text-anchor="middle" class="t" font-size="6.4" fill="#4d4d4d"></text>
<path d="M633.4 489.4v2.4" stroke="#333" stroke-width="0.8"/>
<text x="633.4" y="498.6" text-anchor="middle" class="t" font-size="6.4" fill="#4d4d4d"></text>
<path d="M665.9 489.4v2.4" stroke="#333" stroke-width="0.8"/>
<text x="665.9" y="498.6" text-anchor="middle" class="t" font-size="6.4" fill="#4d4d4d"></text>
<path d="M537.6 485.2h-2.4" stroke="#333" stroke-width="0.8"/>
<text x="534.0" y="487.8" text-anchor="end" class="t" font-size="6.4" fill="#4d4d4d">0</text>
<path d="M537.6 447.4h-2.4" stroke="#333" stroke-width="0.8"/>
<text x="534.0" y="450.0" text-anchor="end" class="t" font-size="6.4" fill="#4d4d4d">25</text>
<path d="M537.6 409.5h-2.4" stroke="#333" stroke-width="0.8"/>
<text x="534.0" y="412.1" text-anchor="end" class="t" font-size="6.4" fill="#4d4d4d">50</text>
<path d="M537.6 371.7h-2.4" stroke="#333" stroke-width="0.8"/>
<text x="534.0" y="374.3" text-anchor="end" class="t" font-size="6.4" fill="#4d4d4d">75</text>
<text x="522.5" y="429.0" text-anchor="middle" font-size="7.2" fill="#000" transform="rotate(-90 522.5 429.0)">SPARC_ eQTL -log<tspan font-size="5.04" dy="1.7">10</tspan><tspan dy="-1.7">(P)</tspan></text>
<text x="608.9" y="364.8" text-anchor="middle" font-size="7.4" fill="#000">rs1054204</text>
<g fill="#000084" fill-opacity="0.62" stroke-opacity="0.87">
<circle class="s" cx="606.2" cy="636.9"/>
<circle class="s" cx="606.1" cy="641.4"/>
<circle class="s" cx="608.0" cy="644.7"/>
<circle class="s" cx="607.3" cy="637.1"/>
<circle class="s" cx="606.9" cy="630.3"/>
<circle class="s" cx="607.1" cy="653.5"/>
<circle class="s" cx="608.0" cy="658.1"/>
<circle class="s" cx="618.1" cy="659.3"/>
<circle class="s" cx="615.7" cy="651.4"/>
<circle class="s" cx="620.1" cy="653.6"/>
<circle class="s" cx="611.7" cy="656.8"/>
<circle class="s" cx="615.4" cy="659.7"/>
<circle class="s" cx="619.1" cy="652.4"/>
<circle class="s" cx="617.4" cy="650.9"/>
<circle class="s" cx="612.9" cy="659.8"/>
<circle class="s" cx="617.5" cy="648.8"/>
<circle class="s" cx="618.2" cy="648.0"/>
<circle class="s" cx="612.8" cy="657.7"/>
<circle class="s" cx="610.9" cy="649.4"/>
<circle class="s" cx="611.3" cy="646.9"/>
<circle class="s" cx="612.4" cy="645.4"/>
<circle class="s" cx="610.7" cy="644.8"/>
<circle class="s" cx="610.8" cy="659.1"/>
<circle class="s" cx="614.7" cy="640.7"/>
<circle class="s" cx="617.8" cy="646.4"/>
<circle class="s" cx="611.0" cy="647.1"/>
<circle class="s" cx="620.2" cy="659.6"/>
<circle class="s" cx="613.8" cy="649.8"/>
<circle class="s" cx="619.3" cy="657.3"/>
<circle class="s" cx="613.4" cy="642.4"/>
<circle class="s" cx="618.2" cy="643.4"/>
<circle class="s" cx="611.9" cy="646.4"/>
<circle class="s" cx="620.4" cy="646.3"/>
<circle class="s" cx="612.7" cy="653.0"/>
<circle class="s" cx="614.9" cy="652.2"/>
<circle class="s" cx="616.4" cy="629.9"/>
<circle class="s" cx="610.3" cy="634.7"/>
<circle class="s" cx="614.5" cy="639.3"/>
<circle class="s" cx="613.4" cy="629.5"/>
<circle class="s" cx="611.2" cy="636.0"/>
<circle class="s" cx="627.1" cy="629.9"/>
<circle class="s" cx="626.2" cy="632.7"/>
<circle class="s" cx="630.7" cy="615.0"/>
<circle class="s" cx="630.6" cy="631.4"/>
<circle class="s" cx="623.7" cy="616.9"/>
<circle class="s" cx="626.8" cy="620.1"/>
<circle class="s" cx="631.3" cy="618.2"/>
<circle class="s" cx="629.6" cy="632.1"/>
<circle class="s" cx="628.7" cy="621.4"/>
<circle class="s" cx="626.6" cy="626.5"/>
<circle class="s" cx="626.9" cy="629.0"/>
<circle class="s" cx="625.3" cy="618.6"/>
<circle class="s" cx="631.1" cy="620.0"/>
<circle class="s" cx="625.9" cy="629.6"/>
<circle class="s" cx="627.0" cy="627.7"/>
<circle class="s" cx="627.7" cy="632.2"/>
<circle class="s" cx="625.8" cy="616.6"/>
<circle class="s" cx="623.9" cy="624.7"/>
<circle class="s" cx="627.4" cy="628.0"/>
<circle class="s" cx="629.9" cy="627.7"/>
<circle class="s" cx="626.5" cy="618.3"/>
<circle class="s" cx="627.7" cy="628.1"/>
<circle class="s" cx="622.8" cy="651.4"/>
<circle class="s" cx="623.3" cy="650.6"/>
<circle class="s" cx="624.9" cy="635.6"/>
<circle class="s" cx="623.9" cy="653.5"/>
<circle class="s" cx="620.8" cy="653.3"/>
<circle class="s" cx="623.4" cy="643.5"/>
<circle class="s" cx="620.7" cy="635.0"/>
<circle class="s" cx="629.5" cy="639.0"/>
<circle class="s" cx="622.6" cy="657.8"/>
<circle class="s" cx="622.1" cy="646.6"/>
<circle class="s" cx="622.9" cy="659.1"/>
<circle class="s" cx="626.2" cy="639.6"/>
<circle class="s" cx="627.6" cy="643.3"/>
<circle class="s" cx="629.5" cy="635.9"/>
<circle class="s" cx="623.9" cy="634.5"/>
<circle class="s" cx="623.8" cy="657.8"/>
<circle class="s" cx="623.1" cy="639.7"/>
<circle class="s" cx="621.4" cy="639.0"/>
<circle class="s" cx="623.0" cy="655.0"/>
<circle class="s" cx="628.1" cy="642.1"/>
<circle class="s" cx="624.9" cy="651.5"/>
<circle class="s" cx="628.2" cy="645.1"/>
<circle class="s" cx="623.2" cy="655.4"/>
<circle class="s" cx="622.4" cy="656.1"/>
<circle class="s" cx="628.7" cy="655.0"/>
<circle class="s" cx="624.9" cy="650.4"/>
<circle class="s" cx="627.6" cy="643.3"/>
<circle class="s" cx="626.6" cy="655.0"/>
<circle class="s" cx="621.5" cy="643.3"/>
<circle class="s" cx="633.6" cy="611.1"/>
<circle class="s" cx="632.5" cy="619.1"/>
<circle class="s" cx="632.7" cy="614.2"/>
<circle class="s" cx="632.1" cy="620.2"/>
<circle class="s" cx="632.9" cy="616.1"/>
<circle class="s" cx="641.5" cy="616.7"/>
<circle class="s" cx="643.5" cy="621.3"/>
<circle class="s" cx="643.6" cy="616.1"/>
<circle class="s" cx="641.9" cy="624.0"/>
<circle class="s" cx="641.4" cy="612.5"/>
<circle class="s" cx="641.0" cy="612.9"/>
<circle class="s" cx="643.0" cy="651.8"/>
<circle class="s" cx="643.2" cy="636.1"/>
<circle class="s" cx="634.2" cy="655.7"/>
<circle class="s" cx="634.0" cy="628.5"/>
<circle class="s" cx="639.3" cy="654.4"/>
<circle class="s" cx="634.6" cy="656.8"/>
<circle class="s" cx="639.3" cy="635.6"/>
<circle class="s" cx="643.1" cy="644.0"/>
<circle class="s" cx="643.5" cy="660.6"/>
<circle class="s" cx="635.4" cy="632.0"/>
<circle class="s" cx="634.1" cy="634.5"/>
<circle class="s" cx="638.3" cy="649.7"/>
<circle class="s" cx="642.3" cy="633.0"/>
<circle class="s" cx="641.2" cy="625.0"/>
<circle class="s" cx="642.7" cy="639.1"/>
<circle class="s" cx="633.6" cy="659.7"/>
<circle class="s" cx="643.5" cy="640.0"/>
<circle class="s" cx="634.5" cy="628.5"/>
<circle class="s" cx="635.6" cy="639.5"/>
<circle class="s" cx="634.0" cy="642.7"/>
<circle class="s" cx="639.6" cy="623.1"/>
<circle class="s" cx="635.2" cy="633.5"/>
<circle class="s" cx="634.3" cy="626.4"/>
<circle class="s" cx="636.0" cy="624.7"/>
<circle class="s" cx="642.8" cy="648.4"/>
<circle class="s" cx="641.5" cy="657.3"/>
<circle class="s" cx="634.5" cy="652.2"/>
<circle class="s" cx="641.5" cy="647.4"/>
<circle class="s" cx="639.5" cy="634.7"/>
<circle class="s" cx="640.5" cy="630.7"/>
<circle class="s" cx="635.3" cy="624.9"/>
<circle class="s" cx="634.1" cy="652.7"/>
<circle class="s" cx="634.1" cy="631.6"/>
<circle class="s" cx="642.6" cy="646.1"/>
<circle class="s" cx="634.1" cy="649.5"/>
<circle class="s" cx="636.7" cy="634.3"/>
<circle class="s" cx="640.9" cy="632.0"/>
<circle class="s" cx="639.0" cy="637.2"/>
<circle class="s" cx="637.7" cy="651.7"/>
<circle class="s" cx="637.7" cy="641.0"/>
<circle class="s" cx="639.8" cy="627.0"/>
<circle class="s" cx="651.4" cy="632.5"/>
<circle class="s" cx="654.5" cy="626.8"/>
<circle class="s" cx="656.6" cy="622.1"/>
<circle class="s" cx="652.3" cy="631.2"/>
<circle class="s" cx="653.5" cy="625.5"/>
<circle class="s" cx="657.6" cy="629.1"/>
<circle class="s" cx="650.0" cy="628.2"/>
<circle class="s" cx="652.3" cy="629.0"/>
<circle class="s" cx="656.4" cy="620.8"/>
<circle class="s" cx="656.0" cy="631.5"/>
<circle class="s" cx="658.1" cy="630.2"/>
<circle class="s" cx="652.1" cy="629.3"/>
<circle class="s" cx="656.7" cy="628.1"/>
<circle class="s" cx="656.4" cy="619.9"/>
<circle class="s" cx="658.6" cy="632.4"/>
<circle class="s" cx="657.9" cy="627.9"/>
<circle class="s" cx="657.1" cy="660.6"/>
<circle class="s" cx="650.9" cy="650.5"/>
<circle class="s" cx="651.5" cy="642.2"/>
<circle class="s" cx="658.0" cy="660.5"/>
<circle class="s" cx="658.4" cy="654.3"/>
<circle class="s" cx="655.9" cy="641.8"/>
<circle class="s" cx="651.9" cy="645.7"/>
<circle class="s" cx="656.8" cy="646.8"/>
<circle class="s" cx="654.8" cy="641.6"/>
<circle class="s" cx="653.4" cy="649.3"/>
<circle class="s" cx="651.5" cy="639.2"/>
<circle class="s" cx="656.2" cy="652.2"/>
<circle class="s" cx="657.7" cy="644.0"/>
<circle class="s" cx="651.5" cy="657.4"/>
<circle class="s" cx="651.3" cy="654.9"/>
<circle class="s" cx="655.4" cy="656.7"/>
<circle class="s" cx="658.8" cy="658.6"/>
<circle class="s" cx="650.7" cy="654.7"/>
<circle class="s" cx="664.9" cy="616.8"/>
<circle class="s" cx="663.6" cy="622.7"/>
<circle class="s" cx="667.5" cy="621.5"/>
<circle class="s" cx="669.1" cy="614.8"/>
<circle class="s" cx="665.7" cy="617.9"/>
<circle class="s" cx="668.2" cy="615.2"/>
<circle class="s" cx="671.0" cy="620.6"/>
<circle class="s" cx="667.6" cy="624.2"/>
<circle class="s" cx="664.8" cy="623.2"/>
<circle class="s" cx="663.6" cy="619.0"/>
<circle class="s" cx="662.9" cy="615.1"/>
<circle class="s" cx="670.3" cy="620.2"/>
<circle class="s" cx="665.4" cy="618.3"/>
<circle class="s" cx="663.9" cy="620.6"/>
<circle class="s" cx="668.3" cy="617.8"/>
<circle class="s" cx="670.7" cy="615.1"/>
<circle class="s" cx="662.1" cy="652.8"/>
<circle class="s" cx="667.7" cy="626.1"/>
<circle class="s" cx="669.3" cy="645.5"/>
<circle class="s" cx="666.5" cy="638.3"/>
<circle class="s" cx="670.0" cy="635.9"/>
<circle class="s" cx="663.8" cy="659.1"/>
<circle class="s" cx="668.3" cy="642.8"/>
<circle class="s" cx="667.5" cy="628.5"/>
<circle class="s" cx="664.0" cy="649.9"/>
<circle class="s" cx="669.8" cy="648.2"/>
<circle class="s" cx="669.3" cy="654.8"/>
<circle class="s" cx="663.4" cy="642.4"/>
<circle class="s" cx="669.3" cy="653.8"/>
<circle class="s" cx="665.6" cy="626.8"/>
<circle class="s" cx="665.6" cy="657.2"/>
<circle class="s" cx="669.1" cy="633.2"/>
<circle class="s" cx="667.6" cy="637.1"/>
<circle class="s" cx="662.7" cy="632.4"/>
<circle class="s" cx="665.0" cy="628.9"/>
<circle class="s" cx="662.6" cy="625.8"/>
<circle class="s" cx="664.4" cy="633.2"/>
<circle class="s" cx="667.6" cy="627.9"/>
<circle class="s" cx="629.7" cy="651.6"/>
<circle class="s" cx="637.8" cy="658.4"/>
<circle class="s" cx="629.9" cy="654.8"/>
<circle class="s" cx="630.8" cy="656.5"/>
<circle class="s" cx="641.7" cy="660.7"/>
<circle class="s" cx="640.6" cy="654.0"/>
<circle class="s" cx="611.5" cy="656.6"/>
<circle class="s" cx="630.2" cy="650.5"/>
<circle class="s" cx="620.9" cy="656.5"/>
<circle class="s" cx="632.1" cy="658.4"/>
<circle class="s" cx="619.3" cy="654.7"/>
<circle class="s" cx="633.4" cy="658.7"/>
<circle class="s" cx="620.5" cy="658.3"/>
<circle class="s" cx="632.2" cy="660.7"/>
<circle class="s" cx="634.2" cy="651.0"/>
<circle class="s" cx="652.4" cy="651.0"/>
<circle class="s" cx="626.8" cy="656.7"/>
<circle class="s" cx="641.2" cy="659.2"/>
<circle class="s" cx="651.0" cy="652.6"/>
<circle class="s" cx="614.1" cy="651.5"/>
<circle class="s" cx="610.4" cy="658.1"/>
<circle class="s" cx="633.8" cy="658.7"/>
<circle class="s" cx="620.4" cy="654.6"/>
<circle class="s" cx="632.7" cy="651.9"/>
<circle class="s" cx="613.3" cy="659.8"/>
<circle class="s" cx="647.2" cy="660.0"/>
<circle class="s" cx="615.2" cy="650.9"/>
<circle class="s" cx="632.8" cy="659.3"/>
<circle class="s" cx="632.1" cy="653.4"/>
<circle class="s" cx="632.2" cy="655.8"/>
<circle class="s" cx="618.3" cy="657.3"/>
<circle class="s" cx="660.4" cy="658.3"/>
<circle class="s" cx="631.3" cy="655.0"/>
<circle class="s" cx="638.4" cy="651.6"/>
<circle class="s" cx="666.2" cy="655.7"/>
<circle class="s" cx="659.3" cy="658.2"/>
<circle class="s" cx="611.8" cy="655.4"/>
<circle class="s" cx="627.4" cy="654.6"/>
<circle class="s" cx="641.1" cy="658.8"/>
<circle class="s" cx="669.2" cy="657.9"/>
<circle class="s" cx="622.7" cy="660.4"/>
<circle class="s" cx="664.4" cy="659.2"/>
<circle class="s" cx="660.5" cy="652.9"/>
<circle class="s" cx="666.1" cy="660.4"/>
<circle class="s" cx="665.1" cy="659.1"/>
<circle class="s" cx="667.0" cy="660.2"/>
<circle class="s" cx="666.2" cy="652.6"/>
<circle class="s" cx="659.9" cy="655.2"/>
<circle class="s" cx="665.7" cy="654.1"/>
<circle class="s" cx="667.0" cy="655.1"/>
<circle class="s" cx="667.0" cy="659.7"/>
<circle class="s" cx="661.3" cy="659.1"/>
<circle class="s" cx="632.9" cy="643.4"/>
<circle class="s" cx="632.5" cy="659.0"/>
<circle class="s" cx="630.9" cy="653.6"/>
<circle class="s" cx="630.7" cy="660.6"/>
<circle class="s" cx="648.3" cy="648.9"/>
<circle class="s" cx="647.6" cy="658.8"/>
<circle class="s" cx="645.4" cy="647.2"/>
<circle class="s" cx="583.0" cy="561.5"/>
<circle class="s" cx="583.5" cy="564.5"/>
<circle class="s" cx="602.0" cy="559.0"/>
<circle class="s" cx="602.5" cy="560.5"/>
<circle class="s" cx="602.0" cy="568.5"/>
<circle class="s" cx="603.5" cy="582.0"/>
<circle class="s" cx="603.0" cy="591.0"/>
<circle class="s" cx="604.0" cy="593.0"/>
<circle class="s" cx="602.0" cy="595.0"/>
<circle class="s" cx="603.5" cy="597.5"/>
<circle class="s" cx="597.0" cy="593.0"/>
<circle class="s" cx="584.0" cy="598.0"/>
<circle class="s" cx="607.0" cy="601.0"/>
<circle class="s" cx="613.5" cy="600.0"/>
<circle class="s" cx="611.0" cy="607.0"/>
<circle class="s" cx="619.0" cy="608.0"/>
<circle class="s" cx="577.5" cy="607.0"/>
<circle class="s" cx="577.5" cy="610.5"/>
<circle class="s" cx="578.0" cy="614.0"/>
<circle class="s" cx="637.0" cy="596.5"/>
<circle class="s" cx="642.5" cy="595.0"/>
<circle class="s" cx="636.0" cy="602.5"/>
<circle class="s" cx="636.0" cy="605.5"/>
<circle class="s" cx="660.0" cy="602.0"/>
<circle class="s" cx="650.0" cy="611.0"/>
<circle class="s" cx="663.5" cy="610.0"/>
<circle class="s" cx="544.0" cy="650.0"/>
<circle class="s" cx="545.0" cy="652.5"/>
<circle class="s" cx="569.5" cy="618.0"/>
<circle class="s" cx="571.0" cy="622.5"/>
<circle class="s" cx="577.5" cy="622.5"/>
<circle class="s" cx="580.0" cy="640.0"/>
<circle class="s" cx="584.0" cy="642.5"/>
<circle class="s" cx="590.0" cy="642.5"/>
<circle class="s" cx="591.0" cy="631.2"/>
<circle class="s" cx="587.5" cy="648.5"/>
<circle class="s" cx="594.0" cy="647.5"/>
<circle class="s" cx="595.0" cy="653.0"/>
<circle class="s" cx="579.0" cy="657.0"/>
<circle class="s" cx="582.0" cy="657.0"/>
<circle class="s" cx="575.0" cy="651.5"/>
<circle class="s" cx="566.0" cy="659.0"/>
<circle class="s" cx="554.0" cy="652.5"/>
<circle class="s" cx="557.5" cy="651.0"/>
<circle class="s" cx="583.2" cy="560.0"/>
<circle class="s" cx="546.4" cy="656.7"/>
<circle class="s" cx="547.5" cy="645.9"/>
<circle class="s" cx="547.2" cy="655.3"/>
<circle class="s" cx="548.4" cy="635.6"/>
<circle class="s" cx="546.2" cy="646.0"/>
<circle class="s" cx="546.9" cy="635.7"/>
<circle class="s" cx="547.4" cy="644.7"/>
<circle class="s" cx="546.9" cy="657.9"/>
<circle class="s" cx="545.9" cy="639.6"/>
<circle class="s" cx="547.5" cy="653.6"/>
<circle class="s" cx="547.3" cy="625.3"/>
<circle class="s" cx="546.5" cy="636.1"/>
<circle class="s" cx="547.1" cy="634.9"/>
<circle class="s" cx="547.8" cy="630.2"/>
<circle class="s" cx="547.2" cy="638.1"/>
<circle class="s" cx="548.3" cy="632.9"/>
<circle class="s" cx="559.3" cy="636.7"/>
<circle class="s" cx="559.9" cy="646.2"/>
<circle class="s" cx="559.9" cy="641.9"/>
<circle class="s" cx="561.7" cy="648.6"/>
<circle class="s" cx="561.0" cy="659.8"/>
<circle class="s" cx="561.8" cy="642.5"/>
<circle class="s" cx="559.8" cy="646.5"/>
<circle class="s" cx="560.1" cy="642.2"/>
<circle class="s" cx="560.2" cy="637.3"/>
<circle class="s" cx="559.7" cy="642.3"/>
<circle class="s" cx="560.8" cy="648.5"/>
<circle class="s" cx="570.1" cy="630.6"/>
<circle class="s" cx="570.3" cy="629.4"/>
<circle class="s" cx="570.1" cy="643.4"/>
<circle class="s" cx="570.8" cy="638.4"/>
<circle class="s" cx="569.4" cy="629.4"/>
<circle class="s" cx="570.0" cy="649.4"/>
<circle class="s" cx="569.6" cy="632.8"/>
<circle class="s" cx="570.7" cy="632.1"/>
<circle class="s" cx="570.3" cy="631.2"/>
<circle class="s" cx="571.3" cy="630.0"/>
<circle class="s" cx="570.1" cy="626.0"/>
<circle class="s" cx="571.1" cy="638.3"/>
<circle class="s" cx="569.5" cy="646.6"/>
<circle class="s" cx="569.9" cy="653.6"/>
<circle class="s" cx="570.9" cy="640.9"/>
<circle class="s" cx="601.9" cy="618.6"/>
<circle class="s" cx="601.8" cy="629.5"/>
<circle class="s" cx="603.2" cy="615.3"/>
<circle class="s" cx="603.6" cy="610.0"/>
<circle class="s" cx="601.4" cy="623.6"/>
<circle class="s" cx="601.8" cy="649.2"/>
<circle class="s" cx="603.6" cy="607.2"/>
<circle class="s" cx="602.2" cy="604.0"/>
<circle class="s" cx="602.5" cy="652.8"/>
<circle class="s" cx="603.2" cy="623.7"/>
<circle class="s" cx="602.4" cy="602.5"/>
<circle class="s" cx="601.3" cy="623.7"/>
<circle class="s" cx="602.6" cy="644.3"/>
<circle class="s" cx="602.8" cy="597.9"/>
<circle class="s" cx="602.4" cy="625.9"/>
<circle class="s" cx="601.5" cy="610.1"/>
<circle class="s" cx="601.8" cy="607.2"/>
<circle class="s" cx="603.4" cy="645.5"/>
<circle class="s" cx="602.8" cy="637.7"/>
<circle class="s" cx="603.4" cy="640.3"/>
<circle class="s" cx="602.7" cy="602.8"/>
<circle class="s" cx="602.4" cy="609.4"/>
<circle class="s" cx="602.8" cy="620.7"/>
<circle class="s" cx="603.1" cy="633.7"/>
<circle class="s" cx="601.6" cy="605.4"/>
<circle class="s" cx="601.9" cy="658.7"/>
<circle class="s" cx="603.1" cy="641.4"/>
</g>
<g fill="#000084" fill-opacity="0.86" stroke-opacity="1.00">
<circle class="s" cx="606.8" cy="634.3"/>
<circle class="s" cx="608.8" cy="646.4"/>
<circle class="s" cx="606.7" cy="636.9"/>
<circle class="s" cx="607.8" cy="640.8"/>
<circle class="s" cx="607.8" cy="625.3"/>
<circle class="s" cx="607.1" cy="631.9"/>
<circle class="s" cx="608.0" cy="655.8"/>
<circle class="s" cx="608.9" cy="656.7"/>
<circle class="s" cx="607.8" cy="639.8"/>
<circle class="s" cx="606.3" cy="657.5"/>
<circle class="s" cx="608.0" cy="627.9"/>
<circle class="s" cx="607.8" cy="651.3"/>
<circle class="s" cx="606.6" cy="652.5"/>
<circle class="s" cx="608.6" cy="640.5"/>
<circle class="s" cx="607.2" cy="658.2"/>
<circle class="s" cx="613.7" cy="656.0"/>
<circle class="s" cx="612.0" cy="644.5"/>
<circle class="s" cx="610.5" cy="659.2"/>
<circle class="s" cx="616.0" cy="640.7"/>
<circle class="s" cx="612.8" cy="654.3"/>
<circle class="s" cx="621.0" cy="651.7"/>
<circle class="s" cx="612.5" cy="641.1"/>
<circle class="s" cx="611.7" cy="648.0"/>
<circle class="s" cx="615.3" cy="646.9"/>
<circle class="s" cx="617.3" cy="643.1"/>
<circle class="s" cx="617.2" cy="657.3"/>
<circle class="s" cx="610.3" cy="640.2"/>
<circle class="s" cx="619.3" cy="653.5"/>
<circle class="s" cx="615.8" cy="640.7"/>
<circle class="s" cx="619.3" cy="647.2"/>
<circle class="s" cx="613.1" cy="640.4"/>
<circle class="s" cx="620.4" cy="646.9"/>
<circle class="s" cx="611.1" cy="655.1"/>
<circle class="s" cx="621.2" cy="659.4"/>
<circle class="s" cx="614.1" cy="656.3"/>
<circle class="s" cx="610.0" cy="643.4"/>
<circle class="s" cx="611.0" cy="660.0"/>
<circle class="s" cx="611.3" cy="646.8"/>
<circle class="s" cx="615.8" cy="652.0"/>
<circle class="s" cx="612.8" cy="658.9"/>
<circle class="s" cx="609.3" cy="652.4"/>
<circle class="s" cx="620.0" cy="656.5"/>
<circle class="s" cx="611.4" cy="645.9"/>
<circle class="s" cx="615.6" cy="649.7"/>
<circle class="s" cx="619.2" cy="649.4"/>
<circle class="s" cx="617.0" cy="643.4"/>
<circle class="s" cx="608.5" cy="643.2"/>
<circle class="s" cx="615.8" cy="653.9"/>
<circle class="s" cx="621.2" cy="655.6"/>
<circle class="s" cx="609.3" cy="647.7"/>
<circle class="s" cx="609.0" cy="654.5"/>
<circle class="s" cx="618.9" cy="648.6"/>
<circle class="s" cx="619.8" cy="658.3"/>
<circle class="s" cx="610.7" cy="660.2"/>
<circle class="s" cx="620.9" cy="650.1"/>
<circle class="s" cx="614.4" cy="654.3"/>
<circle class="s" cx="608.5" cy="649.3"/>
<circle class="s" cx="609.4" cy="656.9"/>
<circle class="s" cx="608.8" cy="649.0"/>
<circle class="s" cx="615.6" cy="654.2"/>
<circle class="s" cx="609.8" cy="653.1"/>
<circle class="s" cx="619.2" cy="656.6"/>
<circle class="s" cx="609.4" cy="630.9"/>
<circle class="s" cx="613.2" cy="632.1"/>
<circle class="s" cx="617.4" cy="630.4"/>
<circle class="s" cx="613.5" cy="628.8"/>
<circle class="s" cx="613.1" cy="639.6"/>
<circle class="s" cx="609.3" cy="639.5"/>
<circle class="s" cx="616.8" cy="630.2"/>
<circle class="s" cx="612.4" cy="628.9"/>
<circle class="s" cx="617.3" cy="630.9"/>
<circle class="s" cx="628.7" cy="629.2"/>
<circle class="s" cx="623.0" cy="621.6"/>
<circle class="s" cx="625.8" cy="620.6"/>
<circle class="s" cx="623.4" cy="625.8"/>
<circle class="s" cx="625.1" cy="617.6"/>
<circle class="s" cx="624.9" cy="616.1"/>
<circle class="s" cx="630.3" cy="616.9"/>
<circle class="s" cx="626.6" cy="621.6"/>
<circle class="s" cx="629.5" cy="633.2"/>
<circle class="s" cx="624.7" cy="629.0"/>
<circle class="s" cx="625.3" cy="617.9"/>
<circle class="s" cx="629.2" cy="623.2"/>
<circle class="s" cx="623.8" cy="623.3"/>
<circle class="s" cx="630.1" cy="633.6"/>
<circle class="s" cx="629.9" cy="628.6"/>
<circle class="s" cx="629.4" cy="633.9"/>
<circle class="s" cx="626.9" cy="629.8"/>
<circle class="s" cx="629.6" cy="616.6"/>
<circle class="s" cx="630.7" cy="624.0"/>
<circle class="s" cx="625.3" cy="619.1"/>
<circle class="s" cx="627.7" cy="628.8"/>
<circle class="s" cx="630.0" cy="634.1"/>
<circle class="s" cx="626.1" cy="615.2"/>
<circle class="s" cx="624.8" cy="657.9"/>
<circle class="s" cx="620.2" cy="641.9"/>
<circle class="s" cx="622.5" cy="659.0"/>
<circle class="s" cx="628.3" cy="658.1"/>
<circle class="s" cx="628.8" cy="635.2"/>
<circle class="s" cx="629.5" cy="650.0"/>
<circle class="s" cx="626.7" cy="660.5"/>
<circle class="s" cx="622.9" cy="657.5"/>
<circle class="s" cx="619.4" cy="660.7"/>
<circle class="s" cx="621.9" cy="650.2"/>
<circle class="s" cx="627.9" cy="639.5"/>
<circle class="s" cx="619.5" cy="640.8"/>
<circle class="s" cx="624.0" cy="652.3"/>
<circle class="s" cx="623.0" cy="655.9"/>
<circle class="s" cx="627.0" cy="653.8"/>
<circle class="s" cx="627.3" cy="651.2"/>
<circle class="s" cx="619.5" cy="649.0"/>
<circle class="s" cx="619.7" cy="652.6"/>
<circle class="s" cx="625.0" cy="656.5"/>
<circle class="s" cx="621.9" cy="652.2"/>
<circle class="s" cx="619.4" cy="659.9"/>
<circle class="s" cx="625.0" cy="639.4"/>
<circle class="s" cx="618.9" cy="649.8"/>
<circle class="s" cx="627.8" cy="635.1"/>
<circle class="s" cx="620.7" cy="647.7"/>
<circle class="s" cx="622.4" cy="634.7"/>
<circle class="s" cx="633.1" cy="621.4"/>
<circle class="s" cx="631.9" cy="619.9"/>
<circle class="s" cx="631.9" cy="611.9"/>
<circle class="s" cx="633.6" cy="615.2"/>
<circle class="s" cx="632.3" cy="612.8"/>
<circle class="s" cx="633.6" cy="614.3"/>
<circle class="s" cx="633.8" cy="620.7"/>
<circle class="s" cx="633.6" cy="621.4"/>
<circle class="s" cx="632.9" cy="619.0"/>
<circle class="s" cx="641.3" cy="613.8"/>
<circle class="s" cx="641.2" cy="614.1"/>
<circle class="s" cx="642.9" cy="624.3"/>
<circle class="s" cx="642.7" cy="611.9"/>
<circle class="s" cx="642.5" cy="615.2"/>
<circle class="s" cx="641.1" cy="617.3"/>
<circle class="s" cx="641.5" cy="618.7"/>
<circle class="s" cx="641.7" cy="623.3"/>
<circle class="s" cx="642.2" cy="650.4"/>
<circle class="s" cx="643.2" cy="657.3"/>
<circle class="s" cx="638.6" cy="660.6"/>
<circle class="s" cx="637.7" cy="650.1"/>
<circle class="s" cx="636.5" cy="638.9"/>
<circle class="s" cx="633.6" cy="628.9"/>
<circle class="s" cx="639.6" cy="621.5"/>
<circle class="s" cx="633.5" cy="644.6"/>
<circle class="s" cx="634.6" cy="653.7"/>
<circle class="s" cx="640.3" cy="645.2"/>
<circle class="s" cx="636.1" cy="624.3"/>
<circle class="s" cx="634.4" cy="628.8"/>
<circle class="s" cx="636.8" cy="656.2"/>
<circle class="s" cx="636.7" cy="638.4"/>
<circle class="s" cx="634.5" cy="658.4"/>
<circle class="s" cx="643.6" cy="643.7"/>
<circle class="s" cx="635.7" cy="634.2"/>
<circle class="s" cx="643.9" cy="633.2"/>
<circle class="s" cx="638.2" cy="648.1"/>
<circle class="s" cx="633.6" cy="648.5"/>
<circle class="s" cx="643.0" cy="632.5"/>
<circle class="s" cx="639.0" cy="636.7"/>
<circle class="s" cx="640.3" cy="621.6"/>
<circle class="s" cx="636.1" cy="651.7"/>
<circle class="s" cx="641.8" cy="635.8"/>
<circle class="s" cx="633.6" cy="633.4"/>
<circle class="s" cx="634.6" cy="651.7"/>
<circle class="s" cx="643.3" cy="631.5"/>
<circle class="s" cx="640.6" cy="652.4"/>
<circle class="s" cx="656.7" cy="627.1"/>
<circle class="s" cx="656.7" cy="620.8"/>
<circle class="s" cx="658.5" cy="627.9"/>
<circle class="s" cx="651.6" cy="620.1"/>
<circle class="s" cx="654.3" cy="621.1"/>
<circle class="s" cx="655.3" cy="621.5"/>
<circle class="s" cx="651.9" cy="623.7"/>
<circle class="s" cx="653.7" cy="622.9"/>
<circle class="s" cx="657.9" cy="622.3"/>
<circle class="s" cx="657.0" cy="625.2"/>
<circle class="s" cx="657.5" cy="625.9"/>
<circle class="s" cx="655.7" cy="619.5"/>
<circle class="s" cx="653.4" cy="632.0"/>
<circle class="s" cx="654.3" cy="633.1"/>
<circle class="s" cx="653.8" cy="629.8"/>
<circle class="s" cx="650.2" cy="628.1"/>
<circle class="s" cx="654.1" cy="621.7"/>
<circle class="s" cx="652.7" cy="634.4"/>
<circle class="s" cx="653.3" cy="619.7"/>
<circle class="s" cx="651.6" cy="620.8"/>
<circle class="s" cx="654.9" cy="622.0"/>
<circle class="s" cx="654.1" cy="629.7"/>
<circle class="s" cx="650.1" cy="622.9"/>
<circle class="s" cx="651.9" cy="628.0"/>
<circle class="s" cx="656.0" cy="620.6"/>
<circle class="s" cx="650.3" cy="625.7"/>
<circle class="s" cx="656.5" cy="628.2"/>
<circle class="s" cx="655.5" cy="629.1"/>
<circle class="s" cx="650.3" cy="633.4"/>
<circle class="s" cx="655.2" cy="635.9"/>
<circle class="s" cx="657.4" cy="635.3"/>
<circle class="s" cx="655.5" cy="645.8"/>
<circle class="s" cx="654.8" cy="650.4"/>
<circle class="s" cx="650.5" cy="647.0"/>
<circle class="s" cx="655.5" cy="651.7"/>
<circle class="s" cx="655.3" cy="657.1"/>
<circle class="s" cx="650.4" cy="645.4"/>
<circle class="s" cx="653.1" cy="652.6"/>
<circle class="s" cx="657.6" cy="636.9"/>
<circle class="s" cx="649.6" cy="637.4"/>
<circle class="s" cx="653.5" cy="659.2"/>
<circle class="s" cx="653.8" cy="643.6"/>
<circle class="s" cx="650.1" cy="646.9"/>
<circle class="s" cx="653.5" cy="648.3"/>
<circle class="s" cx="653.7" cy="658.6"/>
<circle class="s" cx="656.2" cy="656.4"/>
<circle class="s" cx="653.7" cy="646.7"/>
<circle class="s" cx="654.0" cy="658.0"/>
<circle class="s" cx="655.7" cy="636.5"/>
<circle class="s" cx="658.2" cy="647.7"/>
<circle class="s" cx="651.9" cy="642.6"/>
<circle class="s" cx="657.6" cy="640.5"/>
<circle class="s" cx="658.7" cy="639.2"/>
<circle class="s" cx="651.4" cy="657.4"/>
<circle class="s" cx="652.2" cy="647.1"/>
<circle class="s" cx="651.0" cy="654.4"/>
<circle class="s" cx="664.2" cy="615.1"/>
<circle class="s" cx="667.2" cy="616.7"/>
<circle class="s" cx="670.2" cy="622.7"/>
<circle class="s" cx="667.3" cy="619.7"/>
<circle class="s" cx="669.0" cy="618.1"/>
<circle class="s" cx="667.7" cy="619.5"/>
<circle class="s" cx="665.4" cy="613.8"/>
<circle class="s" cx="665.4" cy="615.2"/>
<circle class="s" cx="666.4" cy="613.8"/>
<circle class="s" cx="670.0" cy="614.2"/>
<circle class="s" cx="667.3" cy="620.4"/>
<circle class="s" cx="665.1" cy="616.0"/>
<circle class="s" cx="668.6" cy="619.4"/>
<circle class="s" cx="664.1" cy="619.0"/>
<circle class="s" cx="667.2" cy="616.2"/>
<circle class="s" cx="664.4" cy="620.3"/>
<circle class="s" cx="670.7" cy="618.2"/>
<circle class="s" cx="663.8" cy="624.0"/>
<circle class="s" cx="662.9" cy="621.6"/>
<circle class="s" cx="669.6" cy="623.8"/>
<circle class="s" cx="669.5" cy="621.5"/>
<circle class="s" cx="668.0" cy="618.2"/>
<circle class="s" cx="668.8" cy="623.3"/>
<circle class="s" cx="669.1" cy="624.3"/>
<circle class="s" cx="664.0" cy="644.0"/>
<circle class="s" cx="668.3" cy="649.9"/>
<circle class="s" cx="662.1" cy="652.5"/>
<circle class="s" cx="667.1" cy="644.6"/>
<circle class="s" cx="661.7" cy="655.0"/>
<circle class="s" cx="668.5" cy="659.0"/>
<circle class="s" cx="664.0" cy="658.5"/>
<circle class="s" cx="663.0" cy="654.1"/>
<circle class="s" cx="666.7" cy="643.5"/>
<circle class="s" cx="668.7" cy="652.0"/>
<circle class="s" cx="664.7" cy="651.3"/>
<circle class="s" cx="665.1" cy="634.4"/>
<circle class="s" cx="669.1" cy="626.2"/>
<circle class="s" cx="667.4" cy="639.2"/>
<circle class="s" cx="665.6" cy="637.3"/>
<circle class="s" cx="663.3" cy="657.3"/>
<circle class="s" cx="665.0" cy="653.3"/>
<circle class="s" cx="666.7" cy="637.1"/>
<circle class="s" cx="670.4" cy="649.6"/>
<circle class="s" cx="669.1" cy="640.2"/>
<circle class="s" cx="664.1" cy="652.8"/>
<circle class="s" cx="662.1" cy="656.2"/>
<circle class="s" cx="669.8" cy="660.7"/>
<circle class="s" cx="662.4" cy="653.3"/>
<circle class="s" cx="666.9" cy="638.9"/>
<circle class="s" cx="670.4" cy="650.7"/>
<circle class="s" cx="667.5" cy="640.0"/>
<circle class="s" cx="669.1" cy="659.7"/>
<circle class="s" cx="621.5" cy="650.7"/>
<circle class="s" cx="616.0" cy="654.5"/>
<circle class="s" cx="641.2" cy="656.4"/>
<circle class="s" cx="668.1" cy="658.7"/>
<circle class="s" cx="634.5" cy="651.0"/>
<circle class="s" cx="634.3" cy="657.7"/>
<circle class="s" cx="650.8" cy="652.3"/>
<circle class="s" cx="661.9" cy="653.2"/>
<circle class="s" cx="626.8" cy="659.7"/>
<circle class="s" cx="622.1" cy="655.4"/>
<circle class="s" cx="626.1" cy="659.2"/>
<circle class="s" cx="660.3" cy="654.3"/>
<circle class="s" cx="658.7" cy="660.2"/>
<circle class="s" cx="624.1" cy="658.9"/>
<circle class="s" cx="611.8" cy="655.8"/>
<circle class="s" cx="632.6" cy="659.7"/>
<circle class="s" cx="634.7" cy="657.5"/>
<circle class="s" cx="662.8" cy="654.5"/>
<circle class="s" cx="641.6" cy="650.7"/>
<circle class="s" cx="610.0" cy="654.6"/>
<circle class="s" cx="626.9" cy="656.1"/>
<circle class="s" cx="657.2" cy="650.5"/>
<circle class="s" cx="647.5" cy="651.1"/>
<circle class="s" cx="635.3" cy="660.2"/>
<circle class="s" cx="630.7" cy="653.9"/>
<circle class="s" cx="627.0" cy="658.3"/>
<circle class="s" cx="618.7" cy="653.2"/>
<circle class="s" cx="628.9" cy="656.7"/>
<circle class="s" cx="627.2" cy="657.6"/>
<circle class="s" cx="668.8" cy="656.2"/>
<circle class="s" cx="645.6" cy="651.3"/>
<circle class="s" cx="630.8" cy="655.1"/>
<circle class="s" cx="632.2" cy="653.0"/>
<circle class="s" cx="661.6" cy="659.6"/>
<circle class="s" cx="656.3" cy="653.3"/>
<circle class="s" cx="620.1" cy="650.7"/>
<circle class="s" cx="607.2" cy="654.0"/>
<circle class="s" cx="647.9" cy="654.0"/>
<circle class="s" cx="627.8" cy="660.7"/>
<circle class="s" cx="607.0" cy="652.1"/>
<circle class="s" cx="639.5" cy="650.9"/>
<circle class="s" cx="609.0" cy="652.9"/>
<circle class="s" cx="607.5" cy="657.6"/>
<circle class="s" cx="667.1" cy="652.7"/>
<circle class="s" cx="608.2" cy="652.3"/>
<circle class="s" cx="646.5" cy="657.1"/>
<circle class="s" cx="654.7" cy="652.0"/>
<circle class="s" cx="637.8" cy="652.9"/>
<circle class="s" cx="636.2" cy="652.4"/>
<circle class="s" cx="653.1" cy="652.3"/>
<circle class="s" cx="638.4" cy="652.7"/>
<circle class="s" cx="625.0" cy="657.0"/>
<circle class="s" cx="652.9" cy="653.5"/>
<circle class="s" cx="645.9" cy="654.3"/>
<circle class="s" cx="643.8" cy="659.1"/>
<circle class="s" cx="615.2" cy="652.8"/>
<circle class="s" cx="635.6" cy="657.7"/>
<circle class="s" cx="660.7" cy="651.4"/>
<circle class="s" cx="605.1" cy="654.6"/>
<circle class="s" cx="647.5" cy="659.9"/>
<circle class="s" cx="609.1" cy="657.9"/>
<circle class="s" cx="643.8" cy="655.3"/>
<circle class="s" cx="637.7" cy="653.8"/>
<circle class="s" cx="662.5" cy="659.6"/>
<circle class="s" cx="653.2" cy="656.3"/>
<circle class="s" cx="615.7" cy="659.4"/>
<circle class="s" cx="642.5" cy="655.2"/>
<circle class="s" cx="620.4" cy="658.0"/>
<circle class="s" cx="668.5" cy="660.2"/>
<circle class="s" cx="665.0" cy="660.4"/>
<circle class="s" cx="667.6" cy="653.6"/>
<circle class="s" cx="660.6" cy="655.7"/>
<circle class="s" cx="667.3" cy="659.5"/>
<circle class="s" cx="665.0" cy="660.1"/>
<circle class="s" cx="668.2" cy="654.8"/>
<circle class="s" cx="659.8" cy="653.4"/>
<circle class="s" cx="664.0" cy="659.2"/>
<circle class="s" cx="665.6" cy="660.6"/>
<circle class="s" cx="665.8" cy="657.3"/>
<circle class="s" cx="664.4" cy="656.0"/>
<circle class="s" cx="667.0" cy="655.3"/>
<circle class="s" cx="661.2" cy="653.9"/>
<circle class="s" cx="663.6" cy="659.9"/>
<circle class="s" cx="662.9" cy="658.1"/>
<circle class="s" cx="668.1" cy="657.9"/>
<circle class="s" cx="666.8" cy="657.4"/>
<circle class="s" cx="660.4" cy="659.7"/>
<circle class="s" cx="662.5" cy="658.8"/>
<circle class="s" cx="632.2" cy="648.2"/>
<circle class="s" cx="630.8" cy="654.0"/>
<circle class="s" cx="632.5" cy="656.3"/>
<circle class="s" cx="633.1" cy="657.0"/>
<circle class="s" cx="630.7" cy="646.0"/>
<circle class="s" cx="632.0" cy="652.2"/>
<circle class="s" cx="631.0" cy="644.7"/>
<circle class="s" cx="630.7" cy="648.0"/>
<circle class="s" cx="646.6" cy="643.0"/>
<circle class="s" cx="647.7" cy="643.7"/>
<circle class="s" cx="648.0" cy="652.1"/>
<circle class="s" cx="649.3" cy="651.9"/>
<circle class="s" cx="647.8" cy="643.4"/>
<circle class="s" cx="649.0" cy="652.1"/>
<circle class="s" cx="645.8" cy="656.0"/>
<circle class="s" cx="583.0" cy="559.0"/>
<circle class="s" cx="583.0" cy="567.5"/>
<circle class="s" cx="583.5" cy="570.0"/>
<circle class="s" cx="602.5" cy="566.0"/>
<circle class="s" cx="604.0" cy="585.0"/>
<circle class="s" cx="603.5" cy="588.0"/>
<circle class="s" cx="642.5" cy="614.0"/>
<circle class="s" cx="583.2" cy="566.0"/>
<circle class="s" cx="602.2" cy="559.8"/>
<circle class="s" cx="602.2" cy="567.0"/>
<circle class="s" cx="603.8" cy="583.5"/>
<circle class="s" cx="603.8" cy="586.5"/>
<circle class="s" cx="603.2" cy="589.5"/>
<circle class="s" cx="547.2" cy="641.3"/>
<circle class="s" cx="548.1" cy="626.5"/>
<circle class="s" cx="547.6" cy="631.1"/>
<circle class="s" cx="547.9" cy="654.3"/>
<circle class="s" cx="546.8" cy="659.0"/>
<circle class="s" cx="548.1" cy="656.8"/>
<circle class="s" cx="547.9" cy="632.0"/>
<circle class="s" cx="546.0" cy="641.4"/>
<circle class="s" cx="547.5" cy="631.2"/>
<circle class="s" cx="547.2" cy="636.1"/>
<circle class="s" cx="545.7" cy="638.0"/>
<circle class="s" cx="546.5" cy="636.4"/>
<circle class="s" cx="547.5" cy="626.5"/>
<circle class="s" cx="548.2" cy="648.3"/>
<circle class="s" cx="546.9" cy="643.0"/>
<circle class="s" cx="547.2" cy="658.8"/>
<circle class="s" cx="545.8" cy="658.5"/>
<circle class="s" cx="547.6" cy="643.3"/>
<circle class="s" cx="546.9" cy="655.3"/>
<circle class="s" cx="547.4" cy="639.1"/>
<circle class="s" cx="546.6" cy="641.6"/>
<circle class="s" cx="546.7" cy="642.2"/>
<circle class="s" cx="559.5" cy="653.3"/>
<circle class="s" cx="559.2" cy="634.7"/>
<circle class="s" cx="560.1" cy="649.9"/>
<circle class="s" cx="559.5" cy="655.2"/>
<circle class="s" cx="560.0" cy="647.7"/>
<circle class="s" cx="561.1" cy="657.7"/>
<circle class="s" cx="560.2" cy="641.1"/>
<circle class="s" cx="559.1" cy="642.4"/>
<circle class="s" cx="558.8" cy="654.1"/>
<circle class="s" cx="560.1" cy="641.9"/>
<circle class="s" cx="560.1" cy="648.0"/>
<circle class="s" cx="560.1" cy="637.1"/>
<circle class="s" cx="560.5" cy="658.7"/>
<circle class="s" cx="559.4" cy="632.3"/>
<circle class="s" cx="559.8" cy="645.2"/>
<circle class="s" cx="571.5" cy="636.8"/>
<circle class="s" cx="570.7" cy="645.8"/>
<circle class="s" cx="571.8" cy="625.7"/>
<circle class="s" cx="569.4" cy="635.3"/>
<circle class="s" cx="569.9" cy="632.5"/>
<circle class="s" cx="570.5" cy="634.0"/>
<circle class="s" cx="570.5" cy="651.8"/>
<circle class="s" cx="569.8" cy="626.9"/>
<circle class="s" cx="571.3" cy="640.4"/>
<circle class="s" cx="570.4" cy="644.8"/>
<circle class="s" cx="569.1" cy="625.5"/>
<circle class="s" cx="570.3" cy="650.0"/>
<circle class="s" cx="570.0" cy="636.3"/>
<circle class="s" cx="570.2" cy="646.8"/>
<circle class="s" cx="570.5" cy="637.8"/>
<circle class="s" cx="570.4" cy="628.0"/>
<circle class="s" cx="571.2" cy="626.7"/>
<circle class="s" cx="570.4" cy="643.8"/>
<circle class="s" cx="568.7" cy="644.3"/>
<circle class="s" cx="570.4" cy="635.2"/>
<circle class="s" cx="570.9" cy="649.5"/>
<circle class="s" cx="603.0" cy="618.8"/>
<circle class="s" cx="602.3" cy="649.1"/>
<circle class="s" cx="603.1" cy="622.1"/>
<circle class="s" cx="601.8" cy="658.4"/>
<circle class="s" cx="601.9" cy="624.4"/>
<circle class="s" cx="603.5" cy="656.1"/>
<circle class="s" cx="602.9" cy="636.7"/>
<circle class="s" cx="602.6" cy="597.9"/>
<circle class="s" cx="602.1" cy="629.4"/>
<circle class="s" cx="602.6" cy="632.1"/>
<circle class="s" cx="602.6" cy="607.6"/>
<circle class="s" cx="600.5" cy="650.6"/>
<circle class="s" cx="603.5" cy="652.6"/>
<circle class="s" cx="601.2" cy="622.9"/>
<circle class="s" cx="600.9" cy="604.7"/>
<circle class="s" cx="602.4" cy="601.5"/>
<circle class="s" cx="601.3" cy="624.4"/>
<circle class="s" cx="602.4" cy="624.0"/>
<circle class="s" cx="602.7" cy="637.4"/>
<circle class="s" cx="601.5" cy="654.2"/>
<circle class="s" cx="602.0" cy="605.0"/>
<circle class="s" cx="602.9" cy="617.5"/>
<circle class="s" cx="602.3" cy="615.7"/>
</g>
<g fill="#87ceeb" fill-opacity="0.78" stroke-opacity="1.00">
<circle class="s" cx="601.5" cy="627.5"/>
<circle class="s" cx="601.0" cy="632.5"/>
<circle class="s" cx="600.5" cy="636.2"/>
</g>
<g fill="#006400" fill-opacity="0.7" stroke-opacity="0.95">
<circle class="s" cx="602.0" cy="599.5"/>
<circle class="s" cx="602.5" cy="605.0"/>
<circle class="s" cx="603.0" cy="616.0"/>
<circle class="s" cx="603.5" cy="619.5"/>
</g>
<g fill="#ffa500" fill-opacity="0.8" stroke-opacity="1.00" style="stroke-width:.65px">
<circle class="s" cx="603.5" cy="596.5"/>
<circle class="s" cx="603.5" cy="607.0"/>
</g>
<g fill="#ff0000" fill-opacity="0.9" stroke-opacity="1.00" style="stroke-width:.65px">
<circle class="s" cx="603.5" cy="512.5"/>
<circle class="s" cx="603.5" cy="517.0"/>
<circle class="s" cx="603.5" cy="518.5"/>
</g>
<path d="M603.0 505.8L606.2 509.0L603.0 512.2L599.8 509.0Z" fill="#a020f0" stroke="#1a0030" stroke-width="0.55"/>
<path d="M537.6 502.0V666.6H674.2" fill="none" stroke="#3c3c3c" stroke-width="0.9"/>
<path d="M568.2 666.6v2.4" stroke="#333" stroke-width="0.8"/>
<text x="568.2" y="675.8" text-anchor="middle" class="t" font-size="6.4" fill="#4d4d4d">150.5</text>
<path d="M600.6 666.6v2.4" stroke="#333" stroke-width="0.8"/>
<text x="600.6" y="675.8" text-anchor="middle" class="t" font-size="6.4" fill="#4d4d4d">151.0</text>
<path d="M633.4 666.6v2.4" stroke="#333" stroke-width="0.8"/>
<text x="633.4" y="675.8" text-anchor="middle" class="t" font-size="6.4" fill="#4d4d4d">151.5</text>
<path d="M666.0 666.6v2.4" stroke="#333" stroke-width="0.8"/>
<text x="666.0" y="675.8" text-anchor="middle" class="t" font-size="6.4" fill="#4d4d4d">152.0</text>
<path d="M537.6 660.0h-2.4" stroke="#333" stroke-width="0.8"/>
<text x="534.0" y="662.6" text-anchor="end" class="t" font-size="6.4" fill="#4d4d4d">0</text>
<path d="M537.6 615.5h-2.4" stroke="#333" stroke-width="0.8"/>
<text x="534.0" y="618.1" text-anchor="end" class="t" font-size="6.4" fill="#4d4d4d">1</text>
<path d="M537.6 571.0h-2.4" stroke="#333" stroke-width="0.8"/>
<text x="534.0" y="573.6" text-anchor="end" class="t" font-size="6.4" fill="#4d4d4d">2</text>
<path d="M537.6 526.5h-2.4" stroke="#333" stroke-width="0.8"/>
<text x="534.0" y="529.1" text-anchor="end" class="t" font-size="6.4" fill="#4d4d4d">3</text>
<text x="605.5" y="685.4" text-anchor="middle" font-size="7.25" fill="#000">chr5 (Mb)</text>
<text x="521.8" y="617.7" text-anchor="middle" font-size="7.6" fill="#000" transform="rotate(-90 521.8 617.7)">ICH_GWAS-log<tspan font-size="5.32" dy="1.7">10</tspan><tspan dy="-1.7">(P)</tspan></text>
<text x="606.4" y="511.3" text-anchor="start" font-size="7.4" fill="#000">rs1054204</text>

</svg>
</body></html>
